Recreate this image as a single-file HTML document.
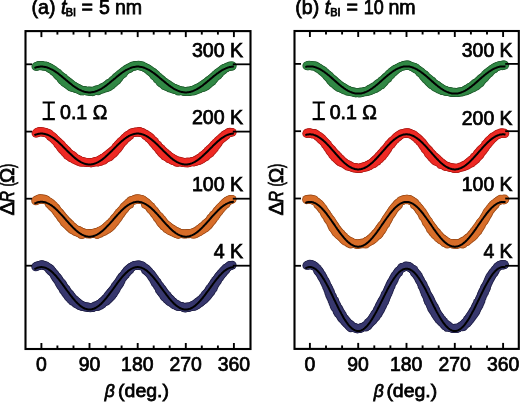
<!DOCTYPE html><html><head><meta charset="utf-8"><style>html,body{margin:0;padding:0;background:#fff;}svg{display:block;filter:blur(0.35px);}text{font-family:"Liberation Sans",Arial,sans-serif;font-size:19.8px;fill:#000;stroke:#000;stroke-width:0.75px;}</style></head><body>
<svg width="520" height="402" viewBox="0 0 520 402">
<g fill="#235f30"><circle cx="35.8" cy="66.5" r="4.3"/><circle cx="36.6" cy="66.5" r="4.2"/><circle cx="37.4" cy="66.2" r="4.4"/><circle cx="38.2" cy="65.7" r="4.5"/><circle cx="39.0" cy="65.5" r="4.4"/><circle cx="39.8" cy="65.4" r="4.3"/><circle cx="40.6" cy="65.7" r="4.6"/><circle cx="41.4" cy="65.4" r="4.4"/><circle cx="42.2" cy="65.8" r="4.7"/><circle cx="43.0" cy="65.8" r="4.4"/><circle cx="43.8" cy="66.3" r="4.3"/><circle cx="44.6" cy="66.3" r="4.4"/><circle cx="45.4" cy="65.9" r="4.3"/><circle cx="46.2" cy="66.3" r="4.6"/><circle cx="47.0" cy="66.4" r="4.4"/><circle cx="47.8" cy="67.1" r="4.3"/><circle cx="48.6" cy="67.3" r="4.2"/><circle cx="49.4" cy="67.3" r="4.2"/><circle cx="50.2" cy="68.2" r="4.3"/><circle cx="51.0" cy="68.3" r="4.3"/><circle cx="51.8" cy="68.9" r="4.2"/><circle cx="52.6" cy="69.7" r="4.3"/><circle cx="53.4" cy="69.7" r="4.3"/><circle cx="54.2" cy="70.5" r="4.4"/><circle cx="55.0" cy="71.2" r="4.1"/><circle cx="55.8" cy="72.0" r="4.0"/><circle cx="56.6" cy="72.1" r="4.2"/><circle cx="57.4" cy="72.5" r="4.1"/><circle cx="58.2" cy="73.1" r="4.2"/><circle cx="59.0" cy="74.3" r="4.1"/><circle cx="59.8" cy="75.1" r="4.0"/><circle cx="60.6" cy="75.6" r="4.1"/><circle cx="61.5" cy="76.2" r="4.0"/><circle cx="62.3" cy="77.1" r="4.2"/><circle cx="63.1" cy="77.4" r="4.1"/><circle cx="63.9" cy="77.8" r="4.1"/><circle cx="64.7" cy="78.9" r="4.2"/><circle cx="65.5" cy="79.8" r="3.9"/><circle cx="66.3" cy="80.1" r="4.1"/><circle cx="67.1" cy="80.5" r="4.0"/><circle cx="67.9" cy="81.2" r="3.8"/><circle cx="68.7" cy="81.8" r="4.1"/><circle cx="69.5" cy="82.5" r="3.9"/><circle cx="70.3" cy="83.3" r="4.2"/><circle cx="71.1" cy="83.7" r="4.0"/><circle cx="71.9" cy="84.6" r="4.2"/><circle cx="72.7" cy="85.4" r="4.2"/><circle cx="73.5" cy="85.5" r="4.1"/><circle cx="74.3" cy="86.1" r="4.3"/><circle cx="75.1" cy="87.1" r="4.0"/><circle cx="75.9" cy="87.0" r="4.1"/><circle cx="76.7" cy="87.5" r="4.2"/><circle cx="77.5" cy="88.2" r="4.1"/><circle cx="78.3" cy="88.2" r="4.2"/><circle cx="79.1" cy="88.9" r="4.3"/><circle cx="79.9" cy="89.7" r="4.4"/><circle cx="80.7" cy="89.7" r="4.4"/><circle cx="81.5" cy="90.1" r="4.1"/><circle cx="82.3" cy="90.6" r="4.5"/><circle cx="83.1" cy="90.8" r="4.5"/><circle cx="83.9" cy="90.7" r="4.4"/><circle cx="84.7" cy="90.6" r="4.5"/><circle cx="85.5" cy="90.8" r="4.2"/><circle cx="86.3" cy="91.0" r="4.3"/><circle cx="87.1" cy="91.2" r="4.3"/><circle cx="87.9" cy="91.0" r="4.3"/><circle cx="88.7" cy="91.2" r="4.4"/><circle cx="89.5" cy="91.1" r="4.6"/><circle cx="90.3" cy="91.6" r="4.3"/><circle cx="91.1" cy="91.2" r="4.4"/><circle cx="91.9" cy="91.3" r="4.3"/><circle cx="92.7" cy="91.5" r="4.7"/><circle cx="93.5" cy="91.1" r="4.4"/><circle cx="94.3" cy="90.6" r="4.2"/><circle cx="95.1" cy="90.6" r="4.3"/><circle cx="95.9" cy="90.8" r="4.2"/><circle cx="96.7" cy="89.9" r="4.6"/><circle cx="97.5" cy="90.0" r="4.2"/><circle cx="98.3" cy="89.7" r="4.1"/><circle cx="99.2" cy="89.4" r="4.5"/><circle cx="100.0" cy="89.3" r="4.4"/><circle cx="100.8" cy="88.4" r="4.2"/><circle cx="101.6" cy="87.9" r="4.3"/><circle cx="102.4" cy="87.8" r="4.3"/><circle cx="103.2" cy="87.1" r="4.0"/><circle cx="104.0" cy="87.0" r="4.4"/><circle cx="104.8" cy="86.5" r="4.3"/><circle cx="105.6" cy="86.0" r="4.2"/><circle cx="106.4" cy="85.0" r="4.1"/><circle cx="107.2" cy="84.5" r="3.8"/><circle cx="108.0" cy="83.6" r="3.9"/><circle cx="108.8" cy="83.2" r="4.1"/><circle cx="109.6" cy="83.1" r="4.0"/><circle cx="110.4" cy="82.5" r="4.2"/><circle cx="111.2" cy="81.9" r="3.9"/><circle cx="112.0" cy="80.6" r="3.9"/><circle cx="112.8" cy="79.9" r="3.8"/><circle cx="113.6" cy="79.6" r="4.2"/><circle cx="114.4" cy="79.1" r="4.0"/><circle cx="115.2" cy="78.3" r="4.1"/><circle cx="116.0" cy="77.1" r="4.1"/><circle cx="116.8" cy="77.1" r="4.1"/><circle cx="117.6" cy="76.3" r="4.0"/><circle cx="118.4" cy="75.2" r="4.2"/><circle cx="119.2" cy="74.6" r="4.2"/><circle cx="120.0" cy="74.5" r="4.0"/><circle cx="120.8" cy="73.4" r="4.3"/><circle cx="121.6" cy="73.0" r="4.0"/><circle cx="122.4" cy="71.9" r="4.0"/><circle cx="123.2" cy="71.9" r="4.3"/><circle cx="124.0" cy="70.7" r="4.3"/><circle cx="124.8" cy="70.8" r="4.3"/><circle cx="125.6" cy="69.8" r="4.2"/><circle cx="126.4" cy="69.1" r="4.0"/><circle cx="127.2" cy="69.3" r="4.3"/><circle cx="128.0" cy="68.5" r="4.5"/><circle cx="128.8" cy="68.0" r="4.5"/><circle cx="129.6" cy="67.9" r="4.2"/><circle cx="130.4" cy="67.1" r="4.3"/><circle cx="131.2" cy="66.8" r="4.4"/><circle cx="132.0" cy="66.5" r="4.4"/><circle cx="132.8" cy="66.1" r="4.6"/><circle cx="133.6" cy="66.1" r="4.4"/><circle cx="134.4" cy="66.1" r="4.6"/><circle cx="135.2" cy="65.8" r="4.7"/><circle cx="136.0" cy="65.8" r="4.5"/><circle cx="136.8" cy="65.7" r="4.3"/><circle cx="137.7" cy="65.7" r="4.3"/><circle cx="138.5" cy="65.3" r="4.6"/><circle cx="139.3" cy="65.5" r="4.5"/><circle cx="140.1" cy="66.1" r="4.5"/><circle cx="140.9" cy="65.9" r="4.5"/><circle cx="141.7" cy="66.2" r="4.6"/><circle cx="142.5" cy="66.1" r="4.5"/><circle cx="143.3" cy="66.5" r="4.3"/><circle cx="144.1" cy="67.2" r="4.4"/><circle cx="144.9" cy="67.3" r="4.5"/><circle cx="145.7" cy="68.0" r="4.3"/><circle cx="146.5" cy="68.1" r="4.3"/><circle cx="147.3" cy="68.5" r="4.4"/><circle cx="148.1" cy="68.9" r="4.3"/><circle cx="148.9" cy="69.4" r="4.4"/><circle cx="149.7" cy="70.1" r="4.4"/><circle cx="150.5" cy="70.8" r="4.1"/><circle cx="151.3" cy="71.1" r="4.4"/><circle cx="152.1" cy="71.9" r="4.0"/><circle cx="152.9" cy="71.9" r="4.1"/><circle cx="153.7" cy="72.5" r="4.0"/><circle cx="154.5" cy="73.1" r="4.2"/><circle cx="155.3" cy="74.3" r="4.2"/><circle cx="156.1" cy="74.5" r="4.1"/><circle cx="156.9" cy="75.6" r="3.9"/><circle cx="157.7" cy="76.4" r="4.2"/><circle cx="158.5" cy="76.6" r="4.2"/><circle cx="159.3" cy="77.4" r="4.0"/><circle cx="160.1" cy="78.5" r="4.1"/><circle cx="160.9" cy="78.6" r="3.9"/><circle cx="161.7" cy="79.5" r="3.9"/><circle cx="162.5" cy="79.9" r="3.9"/><circle cx="163.3" cy="81.0" r="3.8"/><circle cx="164.1" cy="81.5" r="4.0"/><circle cx="164.9" cy="81.8" r="3.9"/><circle cx="165.7" cy="82.9" r="4.0"/><circle cx="166.5" cy="83.1" r="4.2"/><circle cx="167.3" cy="84.2" r="4.3"/><circle cx="168.1" cy="84.3" r="4.0"/><circle cx="168.9" cy="84.8" r="4.2"/><circle cx="169.7" cy="85.5" r="3.9"/><circle cx="170.5" cy="86.2" r="4.3"/><circle cx="171.3" cy="87.0" r="4.0"/><circle cx="172.1" cy="87.0" r="4.4"/><circle cx="172.9" cy="87.8" r="4.3"/><circle cx="173.7" cy="87.8" r="4.0"/><circle cx="174.5" cy="88.7" r="4.2"/><circle cx="175.3" cy="88.6" r="4.5"/><circle cx="176.2" cy="89.5" r="4.4"/><circle cx="177.0" cy="89.4" r="4.5"/><circle cx="177.8" cy="89.7" r="4.5"/><circle cx="178.6" cy="90.2" r="4.3"/><circle cx="179.4" cy="90.6" r="4.6"/><circle cx="180.2" cy="90.6" r="4.2"/><circle cx="181.0" cy="91.0" r="4.3"/><circle cx="181.8" cy="90.8" r="4.3"/><circle cx="182.6" cy="90.9" r="4.3"/><circle cx="183.4" cy="91.2" r="4.4"/><circle cx="184.2" cy="91.6" r="4.4"/><circle cx="185.0" cy="91.5" r="4.3"/><circle cx="185.8" cy="91.4" r="4.3"/><circle cx="186.6" cy="91.3" r="4.3"/><circle cx="187.4" cy="91.6" r="4.5"/><circle cx="188.2" cy="91.1" r="4.5"/><circle cx="189.0" cy="91.6" r="4.3"/><circle cx="189.8" cy="91.4" r="4.4"/><circle cx="190.6" cy="91.0" r="4.6"/><circle cx="191.4" cy="90.7" r="4.4"/><circle cx="192.2" cy="90.7" r="4.6"/><circle cx="193.0" cy="90.2" r="4.5"/><circle cx="193.8" cy="90.2" r="4.4"/><circle cx="194.6" cy="89.6" r="4.3"/><circle cx="195.4" cy="89.0" r="4.1"/><circle cx="196.2" cy="88.6" r="4.4"/><circle cx="197.0" cy="88.4" r="4.1"/><circle cx="197.8" cy="87.8" r="4.4"/><circle cx="198.6" cy="88.0" r="4.3"/><circle cx="199.4" cy="87.1" r="4.1"/><circle cx="200.2" cy="86.6" r="4.1"/><circle cx="201.0" cy="86.0" r="4.1"/><circle cx="201.8" cy="85.5" r="4.3"/><circle cx="202.6" cy="85.5" r="4.1"/><circle cx="203.4" cy="84.4" r="4.3"/><circle cx="204.2" cy="83.9" r="4.0"/><circle cx="205.0" cy="83.0" r="4.0"/><circle cx="205.8" cy="82.8" r="4.0"/><circle cx="206.6" cy="81.9" r="4.0"/><circle cx="207.4" cy="81.1" r="3.9"/><circle cx="208.2" cy="80.5" r="3.9"/><circle cx="209.0" cy="79.8" r="3.8"/><circle cx="209.8" cy="79.3" r="3.9"/><circle cx="210.6" cy="78.9" r="4.0"/><circle cx="211.4" cy="78.3" r="4.1"/><circle cx="212.2" cy="77.6" r="4.2"/><circle cx="213.0" cy="76.7" r="3.9"/><circle cx="213.8" cy="76.5" r="3.9"/><circle cx="214.7" cy="75.6" r="4.1"/><circle cx="215.5" cy="74.4" r="4.2"/><circle cx="216.3" cy="74.4" r="4.1"/><circle cx="217.1" cy="73.6" r="4.2"/><circle cx="217.9" cy="72.5" r="4.1"/><circle cx="218.7" cy="72.2" r="4.3"/><circle cx="219.5" cy="71.9" r="4.3"/><circle cx="220.3" cy="71.1" r="4.3"/><circle cx="221.1" cy="70.6" r="4.3"/><circle cx="221.9" cy="69.7" r="4.0"/><circle cx="222.7" cy="69.1" r="4.2"/><circle cx="223.5" cy="68.6" r="4.4"/><circle cx="224.3" cy="68.5" r="4.4"/><circle cx="225.1" cy="68.1" r="4.4"/><circle cx="225.9" cy="67.6" r="4.1"/><circle cx="226.7" cy="67.5" r="4.5"/><circle cx="227.5" cy="67.0" r="4.4"/><circle cx="228.3" cy="66.8" r="4.2"/><circle cx="229.1" cy="66.6" r="4.3"/><circle cx="229.9" cy="65.9" r="4.3"/><circle cx="230.7" cy="66.2" r="4.3"/><circle cx="231.5" cy="66.1" r="4.7"/><circle cx="232.3" cy="65.8" r="4.4"/><circle cx="48.9" cy="68.3" r="4.1"/><circle cx="50.0" cy="69.1" r="4.0"/><circle cx="51.0" cy="69.7" r="3.8"/><circle cx="52.1" cy="70.0" r="3.9"/><circle cx="53.2" cy="71.4" r="3.9"/><circle cx="54.2" cy="72.2" r="3.8"/><circle cx="55.3" cy="72.8" r="3.9"/><circle cx="56.4" cy="74.3" r="4.1"/><circle cx="57.4" cy="75.5" r="3.9"/><circle cx="58.5" cy="76.5" r="4.0"/><circle cx="59.6" cy="77.6" r="3.8"/><circle cx="60.6" cy="79.2" r="3.8"/><circle cx="61.7" cy="80.4" r="4.2"/><circle cx="62.8" cy="80.7" r="4.0"/><circle cx="63.9" cy="82.4" r="4.2"/><circle cx="64.9" cy="83.1" r="3.9"/><circle cx="66.0" cy="83.8" r="4.2"/><circle cx="67.1" cy="84.6" r="4.0"/><circle cx="68.1" cy="85.3" r="4.0"/><circle cx="69.2" cy="86.6" r="3.8"/><circle cx="70.3" cy="87.1" r="4.0"/><circle cx="71.3" cy="87.6" r="4.1"/><circle cx="72.4" cy="87.6" r="4.2"/><circle cx="73.5" cy="88.2" r="3.8"/><circle cx="74.6" cy="88.2" r="4.0"/><circle cx="75.6" cy="89.0" r="3.9"/><circle cx="76.7" cy="89.1" r="3.9"/><circle cx="77.8" cy="89.6" r="4.1"/><circle cx="78.8" cy="89.7" r="4.1"/><circle cx="79.9" cy="90.7" r="3.8"/><circle cx="81.0" cy="91.1" r="4.1"/><circle cx="82.0" cy="91.4" r="3.9"/><circle cx="97.0" cy="91.0" r="3.9"/><circle cx="98.1" cy="91.2" r="4.0"/><circle cx="99.2" cy="90.3" r="3.9"/><circle cx="100.2" cy="89.9" r="3.8"/><circle cx="101.3" cy="89.4" r="4.1"/><circle cx="102.4" cy="89.2" r="4.2"/><circle cx="103.4" cy="88.8" r="3.9"/><circle cx="104.5" cy="88.6" r="3.8"/><circle cx="105.6" cy="88.1" r="4.2"/><circle cx="106.6" cy="88.1" r="4.1"/><circle cx="107.7" cy="87.4" r="4.2"/><circle cx="108.8" cy="87.2" r="4.0"/><circle cx="109.8" cy="86.4" r="3.8"/><circle cx="110.9" cy="85.7" r="4.0"/><circle cx="112.0" cy="85.0" r="4.0"/><circle cx="113.1" cy="83.8" r="3.8"/><circle cx="114.1" cy="83.4" r="3.8"/><circle cx="115.2" cy="82.1" r="3.9"/><circle cx="116.3" cy="80.9" r="4.1"/><circle cx="117.3" cy="80.4" r="3.9"/><circle cx="118.4" cy="79.0" r="3.9"/><circle cx="119.5" cy="77.7" r="3.9"/><circle cx="120.5" cy="76.2" r="3.8"/><circle cx="121.6" cy="75.1" r="4.2"/><circle cx="122.7" cy="74.2" r="3.8"/><circle cx="123.7" cy="73.5" r="4.2"/><circle cx="124.8" cy="72.1" r="3.8"/><circle cx="125.9" cy="70.9" r="3.8"/><circle cx="127.0" cy="70.2" r="3.8"/><circle cx="128.0" cy="69.3" r="3.9"/><circle cx="129.1" cy="68.9" r="4.1"/><circle cx="130.2" cy="68.5" r="3.9"/><circle cx="145.1" cy="68.2" r="4.0"/><circle cx="146.2" cy="68.8" r="3.9"/><circle cx="147.3" cy="69.2" r="3.9"/><circle cx="148.3" cy="70.7" r="3.8"/><circle cx="149.4" cy="71.2" r="4.0"/><circle cx="150.5" cy="72.4" r="3.8"/><circle cx="151.6" cy="72.9" r="3.9"/><circle cx="152.6" cy="74.1" r="4.0"/><circle cx="153.7" cy="75.7" r="4.1"/><circle cx="154.8" cy="76.8" r="3.8"/><circle cx="155.8" cy="77.3" r="4.1"/><circle cx="156.9" cy="79.2" r="4.0"/><circle cx="158.0" cy="80.1" r="3.8"/><circle cx="159.0" cy="81.0" r="4.2"/><circle cx="160.1" cy="82.4" r="4.1"/><circle cx="161.2" cy="83.5" r="3.9"/><circle cx="162.2" cy="83.7" r="3.8"/><circle cx="163.3" cy="84.8" r="4.1"/><circle cx="164.4" cy="85.9" r="4.1"/><circle cx="165.5" cy="86.3" r="4.1"/><circle cx="166.5" cy="86.8" r="4.0"/><circle cx="167.6" cy="87.0" r="4.1"/><circle cx="168.7" cy="87.6" r="4.2"/><circle cx="169.7" cy="88.4" r="3.9"/><circle cx="170.8" cy="88.3" r="3.9"/><circle cx="171.9" cy="89.1" r="4.1"/><circle cx="172.9" cy="89.1" r="3.8"/><circle cx="174.0" cy="89.7" r="4.0"/><circle cx="175.1" cy="90.0" r="3.9"/><circle cx="176.2" cy="90.5" r="3.8"/><circle cx="177.2" cy="90.6" r="4.0"/><circle cx="178.3" cy="91.5" r="4.0"/><circle cx="193.3" cy="91.4" r="4.0"/><circle cx="194.3" cy="90.5" r="3.9"/><circle cx="195.4" cy="90.8" r="4.1"/><circle cx="196.5" cy="89.9" r="3.8"/><circle cx="197.5" cy="89.7" r="4.1"/><circle cx="198.6" cy="89.3" r="3.9"/><circle cx="199.7" cy="89.1" r="4.2"/><circle cx="200.7" cy="88.4" r="3.8"/><circle cx="201.8" cy="88.1" r="3.9"/><circle cx="202.9" cy="88.0" r="3.8"/><circle cx="204.0" cy="87.6" r="4.1"/><circle cx="205.0" cy="86.8" r="3.8"/><circle cx="206.1" cy="86.6" r="3.9"/><circle cx="207.2" cy="85.8" r="3.9"/><circle cx="208.2" cy="84.6" r="4.1"/><circle cx="209.3" cy="83.8" r="4.2"/><circle cx="210.4" cy="83.1" r="3.8"/><circle cx="211.4" cy="81.9" r="3.9"/><circle cx="212.5" cy="81.2" r="4.2"/><circle cx="213.6" cy="79.7" r="3.9"/><circle cx="214.7" cy="78.6" r="4.2"/><circle cx="215.7" cy="77.4" r="3.8"/><circle cx="216.8" cy="76.1" r="3.9"/><circle cx="217.9" cy="75.7" r="4.1"/><circle cx="218.9" cy="74.4" r="4.2"/><circle cx="220.0" cy="73.5" r="3.9"/><circle cx="221.1" cy="71.9" r="4.2"/><circle cx="222.1" cy="71.4" r="3.8"/><circle cx="223.2" cy="70.4" r="3.9"/><circle cx="224.3" cy="69.4" r="3.9"/><circle cx="225.3" cy="68.6" r="3.8"/><circle cx="226.4" cy="68.1" r="3.9"/></g>
<g fill="#318845"><circle cx="35.8" cy="66.5" r="3.4"/><circle cx="36.6" cy="66.5" r="3.3"/><circle cx="37.4" cy="66.2" r="3.5"/><circle cx="38.2" cy="65.7" r="3.6"/><circle cx="39.0" cy="65.5" r="3.5"/><circle cx="39.8" cy="65.4" r="3.4"/><circle cx="40.6" cy="65.7" r="3.7"/><circle cx="41.4" cy="65.4" r="3.5"/><circle cx="42.2" cy="65.8" r="3.8"/><circle cx="43.0" cy="65.8" r="3.5"/><circle cx="43.8" cy="66.3" r="3.4"/><circle cx="44.6" cy="66.3" r="3.5"/><circle cx="45.4" cy="65.9" r="3.4"/><circle cx="46.2" cy="66.3" r="3.7"/><circle cx="47.0" cy="66.4" r="3.5"/><circle cx="47.8" cy="67.1" r="3.4"/><circle cx="48.6" cy="67.3" r="3.3"/><circle cx="49.4" cy="67.3" r="3.3"/><circle cx="50.2" cy="68.2" r="3.4"/><circle cx="51.0" cy="68.3" r="3.4"/><circle cx="51.8" cy="68.9" r="3.3"/><circle cx="52.6" cy="69.7" r="3.4"/><circle cx="53.4" cy="69.7" r="3.4"/><circle cx="54.2" cy="70.5" r="3.5"/><circle cx="55.0" cy="71.2" r="3.2"/><circle cx="55.8" cy="72.0" r="3.1"/><circle cx="56.6" cy="72.1" r="3.3"/><circle cx="57.4" cy="72.5" r="3.2"/><circle cx="58.2" cy="73.1" r="3.3"/><circle cx="59.0" cy="74.3" r="3.2"/><circle cx="59.8" cy="75.1" r="3.1"/><circle cx="60.6" cy="75.6" r="3.2"/><circle cx="61.5" cy="76.2" r="3.1"/><circle cx="62.3" cy="77.1" r="3.3"/><circle cx="63.1" cy="77.4" r="3.2"/><circle cx="63.9" cy="77.8" r="3.2"/><circle cx="64.7" cy="78.9" r="3.3"/><circle cx="65.5" cy="79.8" r="3.0"/><circle cx="66.3" cy="80.1" r="3.2"/><circle cx="67.1" cy="80.5" r="3.1"/><circle cx="67.9" cy="81.2" r="2.9"/><circle cx="68.7" cy="81.8" r="3.2"/><circle cx="69.5" cy="82.5" r="3.0"/><circle cx="70.3" cy="83.3" r="3.3"/><circle cx="71.1" cy="83.7" r="3.1"/><circle cx="71.9" cy="84.6" r="3.3"/><circle cx="72.7" cy="85.4" r="3.3"/><circle cx="73.5" cy="85.5" r="3.2"/><circle cx="74.3" cy="86.1" r="3.4"/><circle cx="75.1" cy="87.1" r="3.1"/><circle cx="75.9" cy="87.0" r="3.2"/><circle cx="76.7" cy="87.5" r="3.3"/><circle cx="77.5" cy="88.2" r="3.2"/><circle cx="78.3" cy="88.2" r="3.3"/><circle cx="79.1" cy="88.9" r="3.4"/><circle cx="79.9" cy="89.7" r="3.5"/><circle cx="80.7" cy="89.7" r="3.5"/><circle cx="81.5" cy="90.1" r="3.2"/><circle cx="82.3" cy="90.6" r="3.6"/><circle cx="83.1" cy="90.8" r="3.6"/><circle cx="83.9" cy="90.7" r="3.5"/><circle cx="84.7" cy="90.6" r="3.6"/><circle cx="85.5" cy="90.8" r="3.3"/><circle cx="86.3" cy="91.0" r="3.4"/><circle cx="87.1" cy="91.2" r="3.4"/><circle cx="87.9" cy="91.0" r="3.4"/><circle cx="88.7" cy="91.2" r="3.5"/><circle cx="89.5" cy="91.1" r="3.7"/><circle cx="90.3" cy="91.6" r="3.4"/><circle cx="91.1" cy="91.2" r="3.5"/><circle cx="91.9" cy="91.3" r="3.4"/><circle cx="92.7" cy="91.5" r="3.8"/><circle cx="93.5" cy="91.1" r="3.5"/><circle cx="94.3" cy="90.6" r="3.3"/><circle cx="95.1" cy="90.6" r="3.4"/><circle cx="95.9" cy="90.8" r="3.3"/><circle cx="96.7" cy="89.9" r="3.7"/><circle cx="97.5" cy="90.0" r="3.3"/><circle cx="98.3" cy="89.7" r="3.2"/><circle cx="99.2" cy="89.4" r="3.6"/><circle cx="100.0" cy="89.3" r="3.5"/><circle cx="100.8" cy="88.4" r="3.3"/><circle cx="101.6" cy="87.9" r="3.4"/><circle cx="102.4" cy="87.8" r="3.4"/><circle cx="103.2" cy="87.1" r="3.1"/><circle cx="104.0" cy="87.0" r="3.5"/><circle cx="104.8" cy="86.5" r="3.4"/><circle cx="105.6" cy="86.0" r="3.3"/><circle cx="106.4" cy="85.0" r="3.2"/><circle cx="107.2" cy="84.5" r="2.9"/><circle cx="108.0" cy="83.6" r="3.0"/><circle cx="108.8" cy="83.2" r="3.2"/><circle cx="109.6" cy="83.1" r="3.1"/><circle cx="110.4" cy="82.5" r="3.3"/><circle cx="111.2" cy="81.9" r="3.0"/><circle cx="112.0" cy="80.6" r="3.0"/><circle cx="112.8" cy="79.9" r="2.9"/><circle cx="113.6" cy="79.6" r="3.3"/><circle cx="114.4" cy="79.1" r="3.1"/><circle cx="115.2" cy="78.3" r="3.2"/><circle cx="116.0" cy="77.1" r="3.2"/><circle cx="116.8" cy="77.1" r="3.2"/><circle cx="117.6" cy="76.3" r="3.1"/><circle cx="118.4" cy="75.2" r="3.3"/><circle cx="119.2" cy="74.6" r="3.3"/><circle cx="120.0" cy="74.5" r="3.1"/><circle cx="120.8" cy="73.4" r="3.4"/><circle cx="121.6" cy="73.0" r="3.1"/><circle cx="122.4" cy="71.9" r="3.1"/><circle cx="123.2" cy="71.9" r="3.4"/><circle cx="124.0" cy="70.7" r="3.4"/><circle cx="124.8" cy="70.8" r="3.4"/><circle cx="125.6" cy="69.8" r="3.3"/><circle cx="126.4" cy="69.1" r="3.1"/><circle cx="127.2" cy="69.3" r="3.4"/><circle cx="128.0" cy="68.5" r="3.6"/><circle cx="128.8" cy="68.0" r="3.6"/><circle cx="129.6" cy="67.9" r="3.3"/><circle cx="130.4" cy="67.1" r="3.4"/><circle cx="131.2" cy="66.8" r="3.5"/><circle cx="132.0" cy="66.5" r="3.5"/><circle cx="132.8" cy="66.1" r="3.7"/><circle cx="133.6" cy="66.1" r="3.5"/><circle cx="134.4" cy="66.1" r="3.7"/><circle cx="135.2" cy="65.8" r="3.8"/><circle cx="136.0" cy="65.8" r="3.6"/><circle cx="136.8" cy="65.7" r="3.4"/><circle cx="137.7" cy="65.7" r="3.4"/><circle cx="138.5" cy="65.3" r="3.7"/><circle cx="139.3" cy="65.5" r="3.6"/><circle cx="140.1" cy="66.1" r="3.6"/><circle cx="140.9" cy="65.9" r="3.6"/><circle cx="141.7" cy="66.2" r="3.7"/><circle cx="142.5" cy="66.1" r="3.6"/><circle cx="143.3" cy="66.5" r="3.4"/><circle cx="144.1" cy="67.2" r="3.5"/><circle cx="144.9" cy="67.3" r="3.6"/><circle cx="145.7" cy="68.0" r="3.4"/><circle cx="146.5" cy="68.1" r="3.4"/><circle cx="147.3" cy="68.5" r="3.5"/><circle cx="148.1" cy="68.9" r="3.4"/><circle cx="148.9" cy="69.4" r="3.5"/><circle cx="149.7" cy="70.1" r="3.5"/><circle cx="150.5" cy="70.8" r="3.2"/><circle cx="151.3" cy="71.1" r="3.5"/><circle cx="152.1" cy="71.9" r="3.1"/><circle cx="152.9" cy="71.9" r="3.2"/><circle cx="153.7" cy="72.5" r="3.1"/><circle cx="154.5" cy="73.1" r="3.3"/><circle cx="155.3" cy="74.3" r="3.3"/><circle cx="156.1" cy="74.5" r="3.2"/><circle cx="156.9" cy="75.6" r="3.0"/><circle cx="157.7" cy="76.4" r="3.3"/><circle cx="158.5" cy="76.6" r="3.3"/><circle cx="159.3" cy="77.4" r="3.1"/><circle cx="160.1" cy="78.5" r="3.2"/><circle cx="160.9" cy="78.6" r="3.0"/><circle cx="161.7" cy="79.5" r="3.0"/><circle cx="162.5" cy="79.9" r="3.0"/><circle cx="163.3" cy="81.0" r="2.9"/><circle cx="164.1" cy="81.5" r="3.1"/><circle cx="164.9" cy="81.8" r="3.0"/><circle cx="165.7" cy="82.9" r="3.1"/><circle cx="166.5" cy="83.1" r="3.3"/><circle cx="167.3" cy="84.2" r="3.4"/><circle cx="168.1" cy="84.3" r="3.1"/><circle cx="168.9" cy="84.8" r="3.3"/><circle cx="169.7" cy="85.5" r="3.0"/><circle cx="170.5" cy="86.2" r="3.4"/><circle cx="171.3" cy="87.0" r="3.1"/><circle cx="172.1" cy="87.0" r="3.5"/><circle cx="172.9" cy="87.8" r="3.4"/><circle cx="173.7" cy="87.8" r="3.1"/><circle cx="174.5" cy="88.7" r="3.3"/><circle cx="175.3" cy="88.6" r="3.6"/><circle cx="176.2" cy="89.5" r="3.5"/><circle cx="177.0" cy="89.4" r="3.6"/><circle cx="177.8" cy="89.7" r="3.6"/><circle cx="178.6" cy="90.2" r="3.4"/><circle cx="179.4" cy="90.6" r="3.7"/><circle cx="180.2" cy="90.6" r="3.3"/><circle cx="181.0" cy="91.0" r="3.4"/><circle cx="181.8" cy="90.8" r="3.4"/><circle cx="182.6" cy="90.9" r="3.4"/><circle cx="183.4" cy="91.2" r="3.5"/><circle cx="184.2" cy="91.6" r="3.5"/><circle cx="185.0" cy="91.5" r="3.4"/><circle cx="185.8" cy="91.4" r="3.4"/><circle cx="186.6" cy="91.3" r="3.4"/><circle cx="187.4" cy="91.6" r="3.6"/><circle cx="188.2" cy="91.1" r="3.6"/><circle cx="189.0" cy="91.6" r="3.4"/><circle cx="189.8" cy="91.4" r="3.5"/><circle cx="190.6" cy="91.0" r="3.7"/><circle cx="191.4" cy="90.7" r="3.5"/><circle cx="192.2" cy="90.7" r="3.7"/><circle cx="193.0" cy="90.2" r="3.6"/><circle cx="193.8" cy="90.2" r="3.5"/><circle cx="194.6" cy="89.6" r="3.4"/><circle cx="195.4" cy="89.0" r="3.2"/><circle cx="196.2" cy="88.6" r="3.5"/><circle cx="197.0" cy="88.4" r="3.2"/><circle cx="197.8" cy="87.8" r="3.5"/><circle cx="198.6" cy="88.0" r="3.4"/><circle cx="199.4" cy="87.1" r="3.2"/><circle cx="200.2" cy="86.6" r="3.2"/><circle cx="201.0" cy="86.0" r="3.2"/><circle cx="201.8" cy="85.5" r="3.4"/><circle cx="202.6" cy="85.5" r="3.2"/><circle cx="203.4" cy="84.4" r="3.4"/><circle cx="204.2" cy="83.9" r="3.1"/><circle cx="205.0" cy="83.0" r="3.1"/><circle cx="205.8" cy="82.8" r="3.1"/><circle cx="206.6" cy="81.9" r="3.1"/><circle cx="207.4" cy="81.1" r="3.0"/><circle cx="208.2" cy="80.5" r="3.0"/><circle cx="209.0" cy="79.8" r="2.9"/><circle cx="209.8" cy="79.3" r="3.0"/><circle cx="210.6" cy="78.9" r="3.1"/><circle cx="211.4" cy="78.3" r="3.2"/><circle cx="212.2" cy="77.6" r="3.3"/><circle cx="213.0" cy="76.7" r="3.0"/><circle cx="213.8" cy="76.5" r="3.0"/><circle cx="214.7" cy="75.6" r="3.2"/><circle cx="215.5" cy="74.4" r="3.3"/><circle cx="216.3" cy="74.4" r="3.2"/><circle cx="217.1" cy="73.6" r="3.3"/><circle cx="217.9" cy="72.5" r="3.2"/><circle cx="218.7" cy="72.2" r="3.4"/><circle cx="219.5" cy="71.9" r="3.4"/><circle cx="220.3" cy="71.1" r="3.4"/><circle cx="221.1" cy="70.6" r="3.4"/><circle cx="221.9" cy="69.7" r="3.1"/><circle cx="222.7" cy="69.1" r="3.3"/><circle cx="223.5" cy="68.6" r="3.5"/><circle cx="224.3" cy="68.5" r="3.5"/><circle cx="225.1" cy="68.1" r="3.5"/><circle cx="225.9" cy="67.6" r="3.2"/><circle cx="226.7" cy="67.5" r="3.6"/><circle cx="227.5" cy="67.0" r="3.5"/><circle cx="228.3" cy="66.8" r="3.3"/><circle cx="229.1" cy="66.6" r="3.4"/><circle cx="229.9" cy="65.9" r="3.4"/><circle cx="230.7" cy="66.2" r="3.4"/><circle cx="231.5" cy="66.1" r="3.8"/><circle cx="232.3" cy="65.8" r="3.5"/><circle cx="48.9" cy="68.3" r="3.2"/><circle cx="50.0" cy="69.1" r="3.1"/><circle cx="51.0" cy="69.7" r="2.9"/><circle cx="52.1" cy="70.0" r="3.0"/><circle cx="53.2" cy="71.4" r="3.0"/><circle cx="54.2" cy="72.2" r="2.9"/><circle cx="55.3" cy="72.8" r="3.0"/><circle cx="56.4" cy="74.3" r="3.2"/><circle cx="57.4" cy="75.5" r="3.0"/><circle cx="58.5" cy="76.5" r="3.1"/><circle cx="59.6" cy="77.6" r="2.9"/><circle cx="60.6" cy="79.2" r="2.9"/><circle cx="61.7" cy="80.4" r="3.3"/><circle cx="62.8" cy="80.7" r="3.1"/><circle cx="63.9" cy="82.4" r="3.3"/><circle cx="64.9" cy="83.1" r="3.0"/><circle cx="66.0" cy="83.8" r="3.3"/><circle cx="67.1" cy="84.6" r="3.1"/><circle cx="68.1" cy="85.3" r="3.1"/><circle cx="69.2" cy="86.6" r="2.9"/><circle cx="70.3" cy="87.1" r="3.1"/><circle cx="71.3" cy="87.6" r="3.2"/><circle cx="72.4" cy="87.6" r="3.3"/><circle cx="73.5" cy="88.2" r="2.9"/><circle cx="74.6" cy="88.2" r="3.1"/><circle cx="75.6" cy="89.0" r="3.0"/><circle cx="76.7" cy="89.1" r="3.0"/><circle cx="77.8" cy="89.6" r="3.2"/><circle cx="78.8" cy="89.7" r="3.2"/><circle cx="79.9" cy="90.7" r="2.9"/><circle cx="81.0" cy="91.1" r="3.2"/><circle cx="82.0" cy="91.4" r="3.0"/><circle cx="97.0" cy="91.0" r="3.0"/><circle cx="98.1" cy="91.2" r="3.1"/><circle cx="99.2" cy="90.3" r="3.0"/><circle cx="100.2" cy="89.9" r="2.9"/><circle cx="101.3" cy="89.4" r="3.2"/><circle cx="102.4" cy="89.2" r="3.3"/><circle cx="103.4" cy="88.8" r="3.0"/><circle cx="104.5" cy="88.6" r="2.9"/><circle cx="105.6" cy="88.1" r="3.3"/><circle cx="106.6" cy="88.1" r="3.2"/><circle cx="107.7" cy="87.4" r="3.3"/><circle cx="108.8" cy="87.2" r="3.1"/><circle cx="109.8" cy="86.4" r="2.9"/><circle cx="110.9" cy="85.7" r="3.1"/><circle cx="112.0" cy="85.0" r="3.1"/><circle cx="113.1" cy="83.8" r="2.9"/><circle cx="114.1" cy="83.4" r="2.9"/><circle cx="115.2" cy="82.1" r="3.0"/><circle cx="116.3" cy="80.9" r="3.2"/><circle cx="117.3" cy="80.4" r="3.0"/><circle cx="118.4" cy="79.0" r="3.0"/><circle cx="119.5" cy="77.7" r="3.0"/><circle cx="120.5" cy="76.2" r="2.9"/><circle cx="121.6" cy="75.1" r="3.3"/><circle cx="122.7" cy="74.2" r="2.9"/><circle cx="123.7" cy="73.5" r="3.3"/><circle cx="124.8" cy="72.1" r="2.9"/><circle cx="125.9" cy="70.9" r="2.9"/><circle cx="127.0" cy="70.2" r="2.9"/><circle cx="128.0" cy="69.3" r="3.0"/><circle cx="129.1" cy="68.9" r="3.2"/><circle cx="130.2" cy="68.5" r="3.0"/><circle cx="145.1" cy="68.2" r="3.1"/><circle cx="146.2" cy="68.8" r="3.0"/><circle cx="147.3" cy="69.2" r="3.0"/><circle cx="148.3" cy="70.7" r="2.9"/><circle cx="149.4" cy="71.2" r="3.1"/><circle cx="150.5" cy="72.4" r="2.9"/><circle cx="151.6" cy="72.9" r="3.0"/><circle cx="152.6" cy="74.1" r="3.1"/><circle cx="153.7" cy="75.7" r="3.2"/><circle cx="154.8" cy="76.8" r="2.9"/><circle cx="155.8" cy="77.3" r="3.2"/><circle cx="156.9" cy="79.2" r="3.1"/><circle cx="158.0" cy="80.1" r="2.9"/><circle cx="159.0" cy="81.0" r="3.3"/><circle cx="160.1" cy="82.4" r="3.2"/><circle cx="161.2" cy="83.5" r="3.0"/><circle cx="162.2" cy="83.7" r="2.9"/><circle cx="163.3" cy="84.8" r="3.2"/><circle cx="164.4" cy="85.9" r="3.2"/><circle cx="165.5" cy="86.3" r="3.2"/><circle cx="166.5" cy="86.8" r="3.1"/><circle cx="167.6" cy="87.0" r="3.2"/><circle cx="168.7" cy="87.6" r="3.3"/><circle cx="169.7" cy="88.4" r="3.0"/><circle cx="170.8" cy="88.3" r="3.0"/><circle cx="171.9" cy="89.1" r="3.2"/><circle cx="172.9" cy="89.1" r="2.9"/><circle cx="174.0" cy="89.7" r="3.1"/><circle cx="175.1" cy="90.0" r="3.0"/><circle cx="176.2" cy="90.5" r="2.9"/><circle cx="177.2" cy="90.6" r="3.1"/><circle cx="178.3" cy="91.5" r="3.1"/><circle cx="193.3" cy="91.4" r="3.1"/><circle cx="194.3" cy="90.5" r="3.0"/><circle cx="195.4" cy="90.8" r="3.2"/><circle cx="196.5" cy="89.9" r="2.9"/><circle cx="197.5" cy="89.7" r="3.2"/><circle cx="198.6" cy="89.3" r="3.0"/><circle cx="199.7" cy="89.1" r="3.3"/><circle cx="200.7" cy="88.4" r="2.9"/><circle cx="201.8" cy="88.1" r="3.0"/><circle cx="202.9" cy="88.0" r="2.9"/><circle cx="204.0" cy="87.6" r="3.2"/><circle cx="205.0" cy="86.8" r="2.9"/><circle cx="206.1" cy="86.6" r="3.0"/><circle cx="207.2" cy="85.8" r="3.0"/><circle cx="208.2" cy="84.6" r="3.2"/><circle cx="209.3" cy="83.8" r="3.3"/><circle cx="210.4" cy="83.1" r="2.9"/><circle cx="211.4" cy="81.9" r="3.0"/><circle cx="212.5" cy="81.2" r="3.3"/><circle cx="213.6" cy="79.7" r="3.0"/><circle cx="214.7" cy="78.6" r="3.3"/><circle cx="215.7" cy="77.4" r="2.9"/><circle cx="216.8" cy="76.1" r="3.0"/><circle cx="217.9" cy="75.7" r="3.2"/><circle cx="218.9" cy="74.4" r="3.3"/><circle cx="220.0" cy="73.5" r="3.0"/><circle cx="221.1" cy="71.9" r="3.3"/><circle cx="222.1" cy="71.4" r="2.9"/><circle cx="223.2" cy="70.4" r="3.0"/><circle cx="224.3" cy="69.4" r="3.0"/><circle cx="225.3" cy="68.6" r="2.9"/><circle cx="226.4" cy="68.1" r="3.0"/></g>
<path d="M34.4,67.9 35.0,67.7 35.5,67.5 36.1,67.4 36.6,67.2 37.1,67.1 37.7,67.0 38.2,66.9 38.7,66.8 39.3,66.7 39.8,66.7 40.3,66.6 40.9,66.6 41.4,66.6 41.9,66.6 42.5,66.6 43.0,66.7 43.5,66.7 44.1,66.8 44.6,66.9 45.1,67.0 45.7,67.1 46.2,67.2 46.7,67.4 47.3,67.5 47.8,67.7 48.4,67.9 48.9,68.1 49.4,68.3 50.0,68.6 50.5,68.8 51.0,69.1 51.6,69.3 52.1,69.6 52.6,69.9 53.2,70.2 53.7,70.5 54.2,70.9 54.8,71.2 55.3,71.6 55.8,71.9 56.4,72.3 56.9,72.7 57.4,73.0 58.0,73.4 58.5,73.8 59.0,74.3 59.6,74.7 60.1,75.1 60.6,75.5 61.2,75.9 61.7,76.4 62.3,76.8 62.8,77.3 63.3,77.7 63.9,78.2 64.4,78.6 64.9,79.0 65.5,79.5 66.0,80.0 66.5,80.4 67.1,80.8 67.6,81.3 68.1,81.7 68.7,82.2 69.2,82.6 69.7,83.1 70.3,83.5 70.8,83.9 71.3,84.3 71.9,84.7 72.4,85.2 72.9,85.6 73.5,86.0 74.0,86.3 74.6,86.7 75.1,87.1 75.6,87.4 76.2,87.8 76.7,88.1 77.2,88.5 77.8,88.8 78.3,89.1 78.8,89.4 79.4,89.7 79.9,89.9 80.4,90.2 81.0,90.4 81.5,90.7 82.0,90.9 82.6,91.1 83.1,91.3 83.6,91.5 84.2,91.6 84.7,91.8 85.2,91.9 85.8,92.0 86.3,92.1 86.9,92.2 87.4,92.3 87.9,92.3 88.5,92.4 89.0,92.4 89.5,92.4 90.1,92.4 90.6,92.4 91.1,92.3 91.7,92.3 92.2,92.2 92.7,92.1 93.3,92.0 93.8,91.9 94.3,91.8 94.9,91.6 95.4,91.5 95.9,91.3 96.5,91.1 97.0,90.9 97.5,90.7 98.1,90.4 98.6,90.2 99.2,89.9 99.7,89.7 100.2,89.4 100.8,89.1 101.3,88.8 101.8,88.5 102.4,88.1 102.9,87.8 103.4,87.4 104.0,87.1 104.5,86.7 105.0,86.3 105.6,86.0 106.1,85.6 106.6,85.2 107.2,84.7 107.7,84.3 108.2,83.9 108.8,83.5 109.3,83.1 109.8,82.6 110.4,82.2 110.9,81.7 111.4,81.3 112.0,80.8 112.5,80.4 113.1,80.0 113.6,79.5 114.1,79.0 114.7,78.6 115.2,78.2 115.7,77.7 116.3,77.3 116.8,76.8 117.3,76.4 117.9,75.9 118.4,75.5 118.9,75.1 119.5,74.7 120.0,74.3 120.5,73.8 121.1,73.4 121.6,73.0 122.1,72.7 122.7,72.3 123.2,71.9 123.7,71.6 124.3,71.2 124.8,70.9 125.4,70.5 125.9,70.2 126.4,69.9 127.0,69.6 127.5,69.3 128.0,69.1 128.6,68.8 129.1,68.6 129.6,68.3 130.2,68.1 130.7,67.9 131.2,67.7 131.8,67.5 132.3,67.4 132.8,67.2 133.4,67.1 133.9,67.0 134.4,66.9 135.0,66.8 135.5,66.7 136.0,66.7 136.6,66.6 137.1,66.6 137.7,66.6 138.2,66.6 138.7,66.6 139.3,66.7 139.8,66.7 140.3,66.8 140.9,66.9 141.4,67.0 141.9,67.1 142.5,67.2 143.0,67.4 143.5,67.5 144.1,67.7 144.6,67.9 145.1,68.1 145.7,68.3 146.2,68.6 146.7,68.8 147.3,69.1 147.8,69.3 148.3,69.6 148.9,69.9 149.4,70.2 149.9,70.5 150.5,70.9 151.0,71.2 151.6,71.6 152.1,71.9 152.6,72.3 153.2,72.7 153.7,73.0 154.2,73.4 154.8,73.8 155.3,74.3 155.8,74.7 156.4,75.1 156.9,75.5 157.4,75.9 158.0,76.4 158.5,76.8 159.0,77.3 159.6,77.7 160.1,78.2 160.6,78.6 161.2,79.0 161.7,79.5 162.2,80.0 162.8,80.4 163.3,80.8 163.9,81.3 164.4,81.7 164.9,82.2 165.5,82.6 166.0,83.1 166.5,83.5 167.1,83.9 167.6,84.3 168.1,84.7 168.7,85.2 169.2,85.6 169.7,85.9 170.3,86.3 170.8,86.7 171.3,87.1 171.9,87.4 172.4,87.8 172.9,88.1 173.5,88.5 174.0,88.8 174.5,89.1 175.1,89.4 175.6,89.7 176.2,89.9 176.7,90.2 177.2,90.4 177.8,90.7 178.3,90.9 178.8,91.1 179.4,91.3 179.9,91.5 180.4,91.6 181.0,91.8 181.5,91.9 182.0,92.0 182.6,92.1 183.1,92.2 183.6,92.3 184.2,92.3 184.7,92.4 185.2,92.4 185.8,92.4 186.3,92.4 186.8,92.4 187.4,92.3 187.9,92.3 188.4,92.2 189.0,92.1 189.5,92.0 190.1,91.9 190.6,91.8 191.1,91.6 191.7,91.5 192.2,91.3 192.7,91.1 193.3,90.9 193.8,90.7 194.3,90.4 194.9,90.2 195.4,89.9 195.9,89.7 196.5,89.4 197.0,89.1 197.5,88.8 198.1,88.5 198.6,88.1 199.1,87.8 199.7,87.4 200.2,87.1 200.7,86.7 201.3,86.3 201.8,86.0 202.4,85.6 202.9,85.2 203.4,84.7 204.0,84.3 204.5,83.9 205.0,83.5 205.6,83.1 206.1,82.6 206.6,82.2 207.2,81.7 207.7,81.3 208.2,80.8 208.8,80.4 209.3,80.0 209.8,79.5 210.4,79.0 210.9,78.6 211.4,78.2 212.0,77.7 212.5,77.3 213.0,76.8 213.6,76.4 214.1,75.9 214.7,75.5 215.2,75.1 215.7,74.7 216.3,74.3 216.8,73.8 217.3,73.4 217.9,73.1 218.4,72.7 218.9,72.3 219.5,71.9 220.0,71.6 220.5,71.2 221.1,70.9 221.6,70.5 222.1,70.2 222.7,69.9 223.2,69.6 223.7,69.3 224.3,69.1 224.8,68.8 225.3,68.6 225.9,68.3 226.4,68.1 226.9,67.9 227.5,67.7 228.0,67.5 228.6,67.4 229.1,67.2 229.6,67.1 230.2,67.0 230.7,66.9 231.2,66.8 231.8,66.7 232.3,66.7 232.8,66.6 233.4,66.6 233.9,66.6" fill="none" stroke="#000" stroke-width="2.0"/>
<line x1="25.5" y1="64.3" x2="32.0" y2="64.3" stroke="#000" stroke-width="1.8"/>
<line x1="232.8" y1="64.3" x2="250.5" y2="64.3" stroke="#000" stroke-width="1.8"/>
<g fill="#b21d18"><circle cx="35.8" cy="133.4" r="4.2"/><circle cx="36.6" cy="133.1" r="4.3"/><circle cx="37.4" cy="132.3" r="4.6"/><circle cx="38.2" cy="132.5" r="4.4"/><circle cx="39.0" cy="131.7" r="4.5"/><circle cx="39.8" cy="131.8" r="4.7"/><circle cx="40.6" cy="131.6" r="4.4"/><circle cx="41.4" cy="132.1" r="4.3"/><circle cx="42.2" cy="131.8" r="4.6"/><circle cx="43.0" cy="132.1" r="4.3"/><circle cx="43.8" cy="131.7" r="4.3"/><circle cx="44.6" cy="132.6" r="4.3"/><circle cx="45.4" cy="132.6" r="4.6"/><circle cx="46.2" cy="132.6" r="4.3"/><circle cx="47.0" cy="133.4" r="4.5"/><circle cx="47.8" cy="133.2" r="4.5"/><circle cx="48.6" cy="133.7" r="4.3"/><circle cx="49.4" cy="133.9" r="4.5"/><circle cx="50.2" cy="135.2" r="4.4"/><circle cx="51.0" cy="135.7" r="4.1"/><circle cx="51.8" cy="135.7" r="4.3"/><circle cx="52.6" cy="136.9" r="4.5"/><circle cx="53.4" cy="137.1" r="4.1"/><circle cx="54.2" cy="137.8" r="4.2"/><circle cx="55.0" cy="139.0" r="4.0"/><circle cx="55.8" cy="139.6" r="4.3"/><circle cx="56.6" cy="140.4" r="4.2"/><circle cx="57.4" cy="141.0" r="4.0"/><circle cx="58.2" cy="141.5" r="4.0"/><circle cx="59.0" cy="142.7" r="3.9"/><circle cx="59.8" cy="143.0" r="4.2"/><circle cx="60.6" cy="143.9" r="3.8"/><circle cx="61.5" cy="144.6" r="4.0"/><circle cx="62.3" cy="145.6" r="4.2"/><circle cx="63.1" cy="146.9" r="4.2"/><circle cx="63.9" cy="147.2" r="3.8"/><circle cx="64.7" cy="147.9" r="4.0"/><circle cx="65.5" cy="149.2" r="4.0"/><circle cx="66.3" cy="149.6" r="3.9"/><circle cx="67.1" cy="150.7" r="4.1"/><circle cx="67.9" cy="151.6" r="4.1"/><circle cx="68.7" cy="152.3" r="3.8"/><circle cx="69.5" cy="153.2" r="3.9"/><circle cx="70.3" cy="153.7" r="4.0"/><circle cx="71.1" cy="154.5" r="3.9"/><circle cx="71.9" cy="154.8" r="3.9"/><circle cx="72.7" cy="155.4" r="4.3"/><circle cx="73.5" cy="156.4" r="4.0"/><circle cx="74.3" cy="156.8" r="4.3"/><circle cx="75.1" cy="157.5" r="4.0"/><circle cx="75.9" cy="158.3" r="4.2"/><circle cx="76.7" cy="159.0" r="4.0"/><circle cx="77.5" cy="159.1" r="4.4"/><circle cx="78.3" cy="159.8" r="4.4"/><circle cx="79.1" cy="159.6" r="4.2"/><circle cx="79.9" cy="160.1" r="4.2"/><circle cx="80.7" cy="161.1" r="4.4"/><circle cx="81.5" cy="161.4" r="4.3"/><circle cx="82.3" cy="161.7" r="4.3"/><circle cx="83.1" cy="161.5" r="4.5"/><circle cx="83.9" cy="162.3" r="4.2"/><circle cx="84.7" cy="162.2" r="4.5"/><circle cx="85.5" cy="162.1" r="4.4"/><circle cx="86.3" cy="162.2" r="4.3"/><circle cx="87.1" cy="162.4" r="4.5"/><circle cx="87.9" cy="162.8" r="4.3"/><circle cx="88.7" cy="162.3" r="4.4"/><circle cx="89.5" cy="162.8" r="4.3"/><circle cx="90.3" cy="162.5" r="4.3"/><circle cx="91.1" cy="162.9" r="4.5"/><circle cx="91.9" cy="162.2" r="4.3"/><circle cx="92.7" cy="162.4" r="4.5"/><circle cx="93.5" cy="162.4" r="4.3"/><circle cx="94.3" cy="161.8" r="4.5"/><circle cx="95.1" cy="161.8" r="4.3"/><circle cx="95.9" cy="161.5" r="4.6"/><circle cx="96.7" cy="161.2" r="4.4"/><circle cx="97.5" cy="161.0" r="4.3"/><circle cx="98.3" cy="161.0" r="4.6"/><circle cx="99.2" cy="160.3" r="4.2"/><circle cx="100.0" cy="160.2" r="4.1"/><circle cx="100.8" cy="159.1" r="4.4"/><circle cx="101.6" cy="159.0" r="4.4"/><circle cx="102.4" cy="158.5" r="4.4"/><circle cx="103.2" cy="158.0" r="4.0"/><circle cx="104.0" cy="157.1" r="4.2"/><circle cx="104.8" cy="157.0" r="4.3"/><circle cx="105.6" cy="156.0" r="4.2"/><circle cx="106.4" cy="155.6" r="4.1"/><circle cx="107.2" cy="154.8" r="4.0"/><circle cx="108.0" cy="154.4" r="4.2"/><circle cx="108.8" cy="153.3" r="4.0"/><circle cx="109.6" cy="153.2" r="4.2"/><circle cx="110.4" cy="151.9" r="3.8"/><circle cx="111.2" cy="151.8" r="4.2"/><circle cx="112.0" cy="150.6" r="3.8"/><circle cx="112.8" cy="150.2" r="3.9"/><circle cx="113.6" cy="149.4" r="4.0"/><circle cx="114.4" cy="148.5" r="3.8"/><circle cx="115.2" cy="147.6" r="3.9"/><circle cx="116.0" cy="146.5" r="4.1"/><circle cx="116.8" cy="146.0" r="3.9"/><circle cx="117.6" cy="144.7" r="4.0"/><circle cx="118.4" cy="144.1" r="4.0"/><circle cx="119.2" cy="143.0" r="3.9"/><circle cx="120.0" cy="142.6" r="4.2"/><circle cx="120.8" cy="141.3" r="4.1"/><circle cx="121.6" cy="141.1" r="3.9"/><circle cx="122.4" cy="140.4" r="4.0"/><circle cx="123.2" cy="139.4" r="4.2"/><circle cx="124.0" cy="138.7" r="4.1"/><circle cx="124.8" cy="137.8" r="4.2"/><circle cx="125.6" cy="137.2" r="4.3"/><circle cx="126.4" cy="136.5" r="4.2"/><circle cx="127.2" cy="135.6" r="4.3"/><circle cx="128.0" cy="135.4" r="4.2"/><circle cx="128.8" cy="135.0" r="4.5"/><circle cx="129.6" cy="134.3" r="4.2"/><circle cx="130.4" cy="133.8" r="4.2"/><circle cx="131.2" cy="133.1" r="4.4"/><circle cx="132.0" cy="132.7" r="4.4"/><circle cx="132.8" cy="132.7" r="4.2"/><circle cx="133.6" cy="132.6" r="4.3"/><circle cx="134.4" cy="132.4" r="4.6"/><circle cx="135.2" cy="132.0" r="4.3"/><circle cx="136.0" cy="131.9" r="4.4"/><circle cx="136.8" cy="132.2" r="4.3"/><circle cx="137.7" cy="132.1" r="4.7"/><circle cx="138.5" cy="132.0" r="4.6"/><circle cx="139.3" cy="131.7" r="4.7"/><circle cx="140.1" cy="132.0" r="4.7"/><circle cx="140.9" cy="132.5" r="4.3"/><circle cx="141.7" cy="132.7" r="4.6"/><circle cx="142.5" cy="132.4" r="4.4"/><circle cx="143.3" cy="133.3" r="4.3"/><circle cx="144.1" cy="133.8" r="4.3"/><circle cx="144.9" cy="134.1" r="4.2"/><circle cx="145.7" cy="134.3" r="4.5"/><circle cx="146.5" cy="134.6" r="4.2"/><circle cx="147.3" cy="135.4" r="4.2"/><circle cx="148.1" cy="135.6" r="4.1"/><circle cx="148.9" cy="136.3" r="4.4"/><circle cx="149.7" cy="137.4" r="4.4"/><circle cx="150.5" cy="137.6" r="4.3"/><circle cx="151.3" cy="138.3" r="4.2"/><circle cx="152.1" cy="139.5" r="4.1"/><circle cx="152.9" cy="140.4" r="4.1"/><circle cx="153.7" cy="140.9" r="4.3"/><circle cx="154.5" cy="141.3" r="4.3"/><circle cx="155.3" cy="142.6" r="4.0"/><circle cx="156.1" cy="143.5" r="3.9"/><circle cx="156.9" cy="144.5" r="4.1"/><circle cx="157.7" cy="144.8" r="4.1"/><circle cx="158.5" cy="145.7" r="3.9"/><circle cx="159.3" cy="146.8" r="3.8"/><circle cx="160.1" cy="147.7" r="3.9"/><circle cx="160.9" cy="148.3" r="4.2"/><circle cx="161.7" cy="149.1" r="4.0"/><circle cx="162.5" cy="149.7" r="3.8"/><circle cx="163.3" cy="150.3" r="3.8"/><circle cx="164.1" cy="151.5" r="4.0"/><circle cx="164.9" cy="152.2" r="4.2"/><circle cx="165.7" cy="152.6" r="3.9"/><circle cx="166.5" cy="153.8" r="3.8"/><circle cx="167.3" cy="154.0" r="4.0"/><circle cx="168.1" cy="154.7" r="4.0"/><circle cx="168.9" cy="155.5" r="4.1"/><circle cx="169.7" cy="156.4" r="4.0"/><circle cx="170.5" cy="157.0" r="4.1"/><circle cx="171.3" cy="157.2" r="4.3"/><circle cx="172.1" cy="157.9" r="4.0"/><circle cx="172.9" cy="158.3" r="4.3"/><circle cx="173.7" cy="159.4" r="4.4"/><circle cx="174.5" cy="159.5" r="4.1"/><circle cx="175.3" cy="159.6" r="4.3"/><circle cx="176.2" cy="160.4" r="4.2"/><circle cx="177.0" cy="160.9" r="4.3"/><circle cx="177.8" cy="161.4" r="4.5"/><circle cx="178.6" cy="161.2" r="4.6"/><circle cx="179.4" cy="161.3" r="4.4"/><circle cx="180.2" cy="161.8" r="4.3"/><circle cx="181.0" cy="161.8" r="4.6"/><circle cx="181.8" cy="161.9" r="4.5"/><circle cx="182.6" cy="162.8" r="4.3"/><circle cx="183.4" cy="162.3" r="4.5"/><circle cx="184.2" cy="162.6" r="4.5"/><circle cx="185.0" cy="162.9" r="4.3"/><circle cx="185.8" cy="162.5" r="4.4"/><circle cx="186.6" cy="162.3" r="4.6"/><circle cx="187.4" cy="162.9" r="4.6"/><circle cx="188.2" cy="162.2" r="4.6"/><circle cx="189.0" cy="162.6" r="4.4"/><circle cx="189.8" cy="162.5" r="4.4"/><circle cx="190.6" cy="161.9" r="4.2"/><circle cx="191.4" cy="161.7" r="4.2"/><circle cx="192.2" cy="161.5" r="4.5"/><circle cx="193.0" cy="161.5" r="4.5"/><circle cx="193.8" cy="161.2" r="4.2"/><circle cx="194.6" cy="160.8" r="4.3"/><circle cx="195.4" cy="160.6" r="4.3"/><circle cx="196.2" cy="159.8" r="4.3"/><circle cx="197.0" cy="159.9" r="4.1"/><circle cx="197.8" cy="159.4" r="4.0"/><circle cx="198.6" cy="158.4" r="4.1"/><circle cx="199.4" cy="158.3" r="4.4"/><circle cx="200.2" cy="157.7" r="4.1"/><circle cx="201.0" cy="157.2" r="4.0"/><circle cx="201.8" cy="156.1" r="4.3"/><circle cx="202.6" cy="155.8" r="4.2"/><circle cx="203.4" cy="155.2" r="4.3"/><circle cx="204.2" cy="154.3" r="4.2"/><circle cx="205.0" cy="153.8" r="4.2"/><circle cx="205.8" cy="152.9" r="4.1"/><circle cx="206.6" cy="152.2" r="3.9"/><circle cx="207.4" cy="151.2" r="4.0"/><circle cx="208.2" cy="150.3" r="4.2"/><circle cx="209.0" cy="149.6" r="3.8"/><circle cx="209.8" cy="148.7" r="4.2"/><circle cx="210.6" cy="148.1" r="3.8"/><circle cx="211.4" cy="147.0" r="3.8"/><circle cx="212.2" cy="146.7" r="4.0"/><circle cx="213.0" cy="145.9" r="4.1"/><circle cx="213.8" cy="144.6" r="4.0"/><circle cx="214.7" cy="144.0" r="4.2"/><circle cx="215.5" cy="143.5" r="4.2"/><circle cx="216.3" cy="142.1" r="4.2"/><circle cx="217.1" cy="142.0" r="4.3"/><circle cx="217.9" cy="140.6" r="4.0"/><circle cx="218.7" cy="139.8" r="3.9"/><circle cx="219.5" cy="139.6" r="4.3"/><circle cx="220.3" cy="138.7" r="4.3"/><circle cx="221.1" cy="138.0" r="4.1"/><circle cx="221.9" cy="136.9" r="4.0"/><circle cx="222.7" cy="136.8" r="4.1"/><circle cx="223.5" cy="135.8" r="4.2"/><circle cx="224.3" cy="135.0" r="4.2"/><circle cx="225.1" cy="134.7" r="4.4"/><circle cx="225.9" cy="134.2" r="4.3"/><circle cx="226.7" cy="134.2" r="4.4"/><circle cx="227.5" cy="133.7" r="4.4"/><circle cx="228.3" cy="132.7" r="4.4"/><circle cx="229.1" cy="132.7" r="4.6"/><circle cx="229.9" cy="132.3" r="4.5"/><circle cx="230.7" cy="132.2" r="4.3"/><circle cx="231.5" cy="132.3" r="4.3"/><circle cx="232.3" cy="132.2" r="4.3"/><circle cx="48.9" cy="135.2" r="3.8"/><circle cx="50.0" cy="136.5" r="4.2"/><circle cx="51.0" cy="136.7" r="4.0"/><circle cx="52.1" cy="138.0" r="4.1"/><circle cx="53.2" cy="138.7" r="4.0"/><circle cx="54.2" cy="140.0" r="4.1"/><circle cx="55.3" cy="141.1" r="4.2"/><circle cx="56.4" cy="142.3" r="3.8"/><circle cx="57.4" cy="144.0" r="4.0"/><circle cx="58.5" cy="144.9" r="4.0"/><circle cx="59.6" cy="146.2" r="4.1"/><circle cx="60.6" cy="148.1" r="4.1"/><circle cx="61.7" cy="149.4" r="3.9"/><circle cx="62.8" cy="150.5" r="3.9"/><circle cx="63.9" cy="152.1" r="3.8"/><circle cx="64.9" cy="153.3" r="3.8"/><circle cx="66.0" cy="153.8" r="3.9"/><circle cx="67.1" cy="155.4" r="4.0"/><circle cx="68.1" cy="155.8" r="4.1"/><circle cx="69.2" cy="156.5" r="4.0"/><circle cx="70.3" cy="157.5" r="4.1"/><circle cx="71.3" cy="158.3" r="4.0"/><circle cx="72.4" cy="158.6" r="3.9"/><circle cx="73.5" cy="159.0" r="4.1"/><circle cx="74.6" cy="159.9" r="4.1"/><circle cx="75.6" cy="160.0" r="3.9"/><circle cx="76.7" cy="161.0" r="4.0"/><circle cx="77.8" cy="160.9" r="4.0"/><circle cx="78.8" cy="162.0" r="3.9"/><circle cx="79.9" cy="161.8" r="3.9"/><circle cx="81.0" cy="162.7" r="4.1"/><circle cx="82.0" cy="162.6" r="3.8"/><circle cx="97.0" cy="162.7" r="3.9"/><circle cx="98.1" cy="162.5" r="3.8"/><circle cx="99.2" cy="161.9" r="3.8"/><circle cx="100.2" cy="162.0" r="4.1"/><circle cx="101.3" cy="160.9" r="4.2"/><circle cx="102.4" cy="160.4" r="3.9"/><circle cx="103.4" cy="160.7" r="4.1"/><circle cx="104.5" cy="160.0" r="3.9"/><circle cx="105.6" cy="159.0" r="4.0"/><circle cx="106.6" cy="158.4" r="3.8"/><circle cx="107.7" cy="158.1" r="3.8"/><circle cx="108.8" cy="157.4" r="4.1"/><circle cx="109.8" cy="156.9" r="4.0"/><circle cx="110.9" cy="156.0" r="4.0"/><circle cx="112.0" cy="154.8" r="4.0"/><circle cx="113.1" cy="154.0" r="4.1"/><circle cx="114.1" cy="153.3" r="3.9"/><circle cx="115.2" cy="151.9" r="4.1"/><circle cx="116.3" cy="150.5" r="3.9"/><circle cx="117.3" cy="149.5" r="4.1"/><circle cx="118.4" cy="148.2" r="4.1"/><circle cx="119.5" cy="146.8" r="4.1"/><circle cx="120.5" cy="145.3" r="4.0"/><circle cx="121.6" cy="143.7" r="4.0"/><circle cx="122.7" cy="142.2" r="3.9"/><circle cx="123.7" cy="141.5" r="4.1"/><circle cx="124.8" cy="140.2" r="3.9"/><circle cx="125.9" cy="138.9" r="4.0"/><circle cx="127.0" cy="138.1" r="3.9"/><circle cx="128.0" cy="137.2" r="4.2"/><circle cx="129.1" cy="136.0" r="4.0"/><circle cx="130.2" cy="135.8" r="3.9"/><circle cx="145.1" cy="135.6" r="4.2"/><circle cx="146.2" cy="135.9" r="4.0"/><circle cx="147.3" cy="136.8" r="4.1"/><circle cx="148.3" cy="138.3" r="4.0"/><circle cx="149.4" cy="138.7" r="4.0"/><circle cx="150.5" cy="140.1" r="4.1"/><circle cx="151.6" cy="141.3" r="4.0"/><circle cx="152.6" cy="142.8" r="4.0"/><circle cx="153.7" cy="143.8" r="4.2"/><circle cx="154.8" cy="145.0" r="4.1"/><circle cx="155.8" cy="146.5" r="4.1"/><circle cx="156.9" cy="147.6" r="4.2"/><circle cx="158.0" cy="149.2" r="3.8"/><circle cx="159.0" cy="150.4" r="3.9"/><circle cx="160.1" cy="151.4" r="3.9"/><circle cx="161.2" cy="152.9" r="4.1"/><circle cx="162.2" cy="153.9" r="3.9"/><circle cx="163.3" cy="154.8" r="4.1"/><circle cx="164.4" cy="156.3" r="4.0"/><circle cx="165.5" cy="156.5" r="4.1"/><circle cx="166.5" cy="157.4" r="3.8"/><circle cx="167.6" cy="157.8" r="4.1"/><circle cx="168.7" cy="159.0" r="4.0"/><circle cx="169.7" cy="159.3" r="4.0"/><circle cx="170.8" cy="159.6" r="4.2"/><circle cx="171.9" cy="160.2" r="4.0"/><circle cx="172.9" cy="161.0" r="4.1"/><circle cx="174.0" cy="161.2" r="3.9"/><circle cx="175.1" cy="161.7" r="3.8"/><circle cx="176.2" cy="162.4" r="3.9"/><circle cx="177.2" cy="162.8" r="3.9"/><circle cx="178.3" cy="162.8" r="3.9"/><circle cx="193.3" cy="162.8" r="3.8"/><circle cx="194.3" cy="162.1" r="4.1"/><circle cx="195.4" cy="161.9" r="3.9"/><circle cx="196.5" cy="161.5" r="4.0"/><circle cx="197.5" cy="161.1" r="4.0"/><circle cx="198.6" cy="160.9" r="3.9"/><circle cx="199.7" cy="160.6" r="4.1"/><circle cx="200.7" cy="159.4" r="4.1"/><circle cx="201.8" cy="159.6" r="4.1"/><circle cx="202.9" cy="158.5" r="4.1"/><circle cx="204.0" cy="158.2" r="3.8"/><circle cx="205.0" cy="157.1" r="4.2"/><circle cx="206.1" cy="156.9" r="3.9"/><circle cx="207.2" cy="155.6" r="3.8"/><circle cx="208.2" cy="154.8" r="4.1"/><circle cx="209.3" cy="153.9" r="3.8"/><circle cx="210.4" cy="153.3" r="4.1"/><circle cx="211.4" cy="151.5" r="4.2"/><circle cx="212.5" cy="150.7" r="4.1"/><circle cx="213.6" cy="149.4" r="4.2"/><circle cx="214.7" cy="148.2" r="4.1"/><circle cx="215.7" cy="146.3" r="4.1"/><circle cx="216.8" cy="145.2" r="4.1"/><circle cx="217.9" cy="143.8" r="4.1"/><circle cx="218.9" cy="142.6" r="3.9"/><circle cx="220.0" cy="141.0" r="3.8"/><circle cx="221.1" cy="140.1" r="3.8"/><circle cx="222.1" cy="139.0" r="3.8"/><circle cx="223.2" cy="138.0" r="4.0"/><circle cx="224.3" cy="137.1" r="4.1"/><circle cx="225.3" cy="135.9" r="4.1"/><circle cx="226.4" cy="135.6" r="4.0"/></g>
<g fill="#ee2a24"><circle cx="35.8" cy="133.4" r="3.3"/><circle cx="36.6" cy="133.1" r="3.4"/><circle cx="37.4" cy="132.3" r="3.7"/><circle cx="38.2" cy="132.5" r="3.5"/><circle cx="39.0" cy="131.7" r="3.6"/><circle cx="39.8" cy="131.8" r="3.8"/><circle cx="40.6" cy="131.6" r="3.5"/><circle cx="41.4" cy="132.1" r="3.4"/><circle cx="42.2" cy="131.8" r="3.7"/><circle cx="43.0" cy="132.1" r="3.4"/><circle cx="43.8" cy="131.7" r="3.4"/><circle cx="44.6" cy="132.6" r="3.4"/><circle cx="45.4" cy="132.6" r="3.7"/><circle cx="46.2" cy="132.6" r="3.4"/><circle cx="47.0" cy="133.4" r="3.6"/><circle cx="47.8" cy="133.2" r="3.6"/><circle cx="48.6" cy="133.7" r="3.4"/><circle cx="49.4" cy="133.9" r="3.6"/><circle cx="50.2" cy="135.2" r="3.5"/><circle cx="51.0" cy="135.7" r="3.2"/><circle cx="51.8" cy="135.7" r="3.4"/><circle cx="52.6" cy="136.9" r="3.6"/><circle cx="53.4" cy="137.1" r="3.2"/><circle cx="54.2" cy="137.8" r="3.3"/><circle cx="55.0" cy="139.0" r="3.1"/><circle cx="55.8" cy="139.6" r="3.4"/><circle cx="56.6" cy="140.4" r="3.3"/><circle cx="57.4" cy="141.0" r="3.1"/><circle cx="58.2" cy="141.5" r="3.1"/><circle cx="59.0" cy="142.7" r="3.0"/><circle cx="59.8" cy="143.0" r="3.3"/><circle cx="60.6" cy="143.9" r="2.9"/><circle cx="61.5" cy="144.6" r="3.1"/><circle cx="62.3" cy="145.6" r="3.3"/><circle cx="63.1" cy="146.9" r="3.3"/><circle cx="63.9" cy="147.2" r="2.9"/><circle cx="64.7" cy="147.9" r="3.1"/><circle cx="65.5" cy="149.2" r="3.1"/><circle cx="66.3" cy="149.6" r="3.0"/><circle cx="67.1" cy="150.7" r="3.2"/><circle cx="67.9" cy="151.6" r="3.2"/><circle cx="68.7" cy="152.3" r="2.9"/><circle cx="69.5" cy="153.2" r="3.0"/><circle cx="70.3" cy="153.7" r="3.1"/><circle cx="71.1" cy="154.5" r="3.0"/><circle cx="71.9" cy="154.8" r="3.0"/><circle cx="72.7" cy="155.4" r="3.4"/><circle cx="73.5" cy="156.4" r="3.1"/><circle cx="74.3" cy="156.8" r="3.4"/><circle cx="75.1" cy="157.5" r="3.1"/><circle cx="75.9" cy="158.3" r="3.3"/><circle cx="76.7" cy="159.0" r="3.1"/><circle cx="77.5" cy="159.1" r="3.5"/><circle cx="78.3" cy="159.8" r="3.5"/><circle cx="79.1" cy="159.6" r="3.3"/><circle cx="79.9" cy="160.1" r="3.3"/><circle cx="80.7" cy="161.1" r="3.5"/><circle cx="81.5" cy="161.4" r="3.4"/><circle cx="82.3" cy="161.7" r="3.4"/><circle cx="83.1" cy="161.5" r="3.6"/><circle cx="83.9" cy="162.3" r="3.3"/><circle cx="84.7" cy="162.2" r="3.6"/><circle cx="85.5" cy="162.1" r="3.5"/><circle cx="86.3" cy="162.2" r="3.4"/><circle cx="87.1" cy="162.4" r="3.6"/><circle cx="87.9" cy="162.8" r="3.4"/><circle cx="88.7" cy="162.3" r="3.5"/><circle cx="89.5" cy="162.8" r="3.4"/><circle cx="90.3" cy="162.5" r="3.4"/><circle cx="91.1" cy="162.9" r="3.6"/><circle cx="91.9" cy="162.2" r="3.4"/><circle cx="92.7" cy="162.4" r="3.6"/><circle cx="93.5" cy="162.4" r="3.4"/><circle cx="94.3" cy="161.8" r="3.6"/><circle cx="95.1" cy="161.8" r="3.4"/><circle cx="95.9" cy="161.5" r="3.7"/><circle cx="96.7" cy="161.2" r="3.5"/><circle cx="97.5" cy="161.0" r="3.4"/><circle cx="98.3" cy="161.0" r="3.7"/><circle cx="99.2" cy="160.3" r="3.3"/><circle cx="100.0" cy="160.2" r="3.2"/><circle cx="100.8" cy="159.1" r="3.5"/><circle cx="101.6" cy="159.0" r="3.5"/><circle cx="102.4" cy="158.5" r="3.5"/><circle cx="103.2" cy="158.0" r="3.1"/><circle cx="104.0" cy="157.1" r="3.3"/><circle cx="104.8" cy="157.0" r="3.4"/><circle cx="105.6" cy="156.0" r="3.3"/><circle cx="106.4" cy="155.6" r="3.2"/><circle cx="107.2" cy="154.8" r="3.1"/><circle cx="108.0" cy="154.4" r="3.3"/><circle cx="108.8" cy="153.3" r="3.1"/><circle cx="109.6" cy="153.2" r="3.3"/><circle cx="110.4" cy="151.9" r="2.9"/><circle cx="111.2" cy="151.8" r="3.3"/><circle cx="112.0" cy="150.6" r="2.9"/><circle cx="112.8" cy="150.2" r="3.0"/><circle cx="113.6" cy="149.4" r="3.1"/><circle cx="114.4" cy="148.5" r="2.9"/><circle cx="115.2" cy="147.6" r="3.0"/><circle cx="116.0" cy="146.5" r="3.2"/><circle cx="116.8" cy="146.0" r="3.0"/><circle cx="117.6" cy="144.7" r="3.1"/><circle cx="118.4" cy="144.1" r="3.1"/><circle cx="119.2" cy="143.0" r="3.0"/><circle cx="120.0" cy="142.6" r="3.3"/><circle cx="120.8" cy="141.3" r="3.2"/><circle cx="121.6" cy="141.1" r="3.0"/><circle cx="122.4" cy="140.4" r="3.1"/><circle cx="123.2" cy="139.4" r="3.3"/><circle cx="124.0" cy="138.7" r="3.2"/><circle cx="124.8" cy="137.8" r="3.3"/><circle cx="125.6" cy="137.2" r="3.4"/><circle cx="126.4" cy="136.5" r="3.3"/><circle cx="127.2" cy="135.6" r="3.4"/><circle cx="128.0" cy="135.4" r="3.3"/><circle cx="128.8" cy="135.0" r="3.6"/><circle cx="129.6" cy="134.3" r="3.3"/><circle cx="130.4" cy="133.8" r="3.3"/><circle cx="131.2" cy="133.1" r="3.5"/><circle cx="132.0" cy="132.7" r="3.5"/><circle cx="132.8" cy="132.7" r="3.3"/><circle cx="133.6" cy="132.6" r="3.4"/><circle cx="134.4" cy="132.4" r="3.7"/><circle cx="135.2" cy="132.0" r="3.4"/><circle cx="136.0" cy="131.9" r="3.5"/><circle cx="136.8" cy="132.2" r="3.4"/><circle cx="137.7" cy="132.1" r="3.8"/><circle cx="138.5" cy="132.0" r="3.7"/><circle cx="139.3" cy="131.7" r="3.8"/><circle cx="140.1" cy="132.0" r="3.8"/><circle cx="140.9" cy="132.5" r="3.4"/><circle cx="141.7" cy="132.7" r="3.7"/><circle cx="142.5" cy="132.4" r="3.5"/><circle cx="143.3" cy="133.3" r="3.4"/><circle cx="144.1" cy="133.8" r="3.4"/><circle cx="144.9" cy="134.1" r="3.3"/><circle cx="145.7" cy="134.3" r="3.6"/><circle cx="146.5" cy="134.6" r="3.3"/><circle cx="147.3" cy="135.4" r="3.3"/><circle cx="148.1" cy="135.6" r="3.2"/><circle cx="148.9" cy="136.3" r="3.5"/><circle cx="149.7" cy="137.4" r="3.5"/><circle cx="150.5" cy="137.6" r="3.4"/><circle cx="151.3" cy="138.3" r="3.3"/><circle cx="152.1" cy="139.5" r="3.2"/><circle cx="152.9" cy="140.4" r="3.2"/><circle cx="153.7" cy="140.9" r="3.4"/><circle cx="154.5" cy="141.3" r="3.4"/><circle cx="155.3" cy="142.6" r="3.1"/><circle cx="156.1" cy="143.5" r="3.0"/><circle cx="156.9" cy="144.5" r="3.2"/><circle cx="157.7" cy="144.8" r="3.2"/><circle cx="158.5" cy="145.7" r="3.0"/><circle cx="159.3" cy="146.8" r="2.9"/><circle cx="160.1" cy="147.7" r="3.0"/><circle cx="160.9" cy="148.3" r="3.3"/><circle cx="161.7" cy="149.1" r="3.1"/><circle cx="162.5" cy="149.7" r="2.9"/><circle cx="163.3" cy="150.3" r="2.9"/><circle cx="164.1" cy="151.5" r="3.1"/><circle cx="164.9" cy="152.2" r="3.3"/><circle cx="165.7" cy="152.6" r="3.0"/><circle cx="166.5" cy="153.8" r="2.9"/><circle cx="167.3" cy="154.0" r="3.1"/><circle cx="168.1" cy="154.7" r="3.1"/><circle cx="168.9" cy="155.5" r="3.2"/><circle cx="169.7" cy="156.4" r="3.1"/><circle cx="170.5" cy="157.0" r="3.2"/><circle cx="171.3" cy="157.2" r="3.4"/><circle cx="172.1" cy="157.9" r="3.1"/><circle cx="172.9" cy="158.3" r="3.4"/><circle cx="173.7" cy="159.4" r="3.5"/><circle cx="174.5" cy="159.5" r="3.2"/><circle cx="175.3" cy="159.6" r="3.4"/><circle cx="176.2" cy="160.4" r="3.3"/><circle cx="177.0" cy="160.9" r="3.4"/><circle cx="177.8" cy="161.4" r="3.6"/><circle cx="178.6" cy="161.2" r="3.7"/><circle cx="179.4" cy="161.3" r="3.5"/><circle cx="180.2" cy="161.8" r="3.4"/><circle cx="181.0" cy="161.8" r="3.7"/><circle cx="181.8" cy="161.9" r="3.6"/><circle cx="182.6" cy="162.8" r="3.4"/><circle cx="183.4" cy="162.3" r="3.6"/><circle cx="184.2" cy="162.6" r="3.6"/><circle cx="185.0" cy="162.9" r="3.4"/><circle cx="185.8" cy="162.5" r="3.5"/><circle cx="186.6" cy="162.3" r="3.7"/><circle cx="187.4" cy="162.9" r="3.7"/><circle cx="188.2" cy="162.2" r="3.7"/><circle cx="189.0" cy="162.6" r="3.5"/><circle cx="189.8" cy="162.5" r="3.5"/><circle cx="190.6" cy="161.9" r="3.3"/><circle cx="191.4" cy="161.7" r="3.3"/><circle cx="192.2" cy="161.5" r="3.6"/><circle cx="193.0" cy="161.5" r="3.6"/><circle cx="193.8" cy="161.2" r="3.3"/><circle cx="194.6" cy="160.8" r="3.4"/><circle cx="195.4" cy="160.6" r="3.4"/><circle cx="196.2" cy="159.8" r="3.4"/><circle cx="197.0" cy="159.9" r="3.2"/><circle cx="197.8" cy="159.4" r="3.1"/><circle cx="198.6" cy="158.4" r="3.2"/><circle cx="199.4" cy="158.3" r="3.5"/><circle cx="200.2" cy="157.7" r="3.2"/><circle cx="201.0" cy="157.2" r="3.1"/><circle cx="201.8" cy="156.1" r="3.4"/><circle cx="202.6" cy="155.8" r="3.3"/><circle cx="203.4" cy="155.2" r="3.4"/><circle cx="204.2" cy="154.3" r="3.3"/><circle cx="205.0" cy="153.8" r="3.3"/><circle cx="205.8" cy="152.9" r="3.2"/><circle cx="206.6" cy="152.2" r="3.0"/><circle cx="207.4" cy="151.2" r="3.1"/><circle cx="208.2" cy="150.3" r="3.3"/><circle cx="209.0" cy="149.6" r="2.9"/><circle cx="209.8" cy="148.7" r="3.3"/><circle cx="210.6" cy="148.1" r="2.9"/><circle cx="211.4" cy="147.0" r="2.9"/><circle cx="212.2" cy="146.7" r="3.1"/><circle cx="213.0" cy="145.9" r="3.2"/><circle cx="213.8" cy="144.6" r="3.1"/><circle cx="214.7" cy="144.0" r="3.3"/><circle cx="215.5" cy="143.5" r="3.3"/><circle cx="216.3" cy="142.1" r="3.3"/><circle cx="217.1" cy="142.0" r="3.4"/><circle cx="217.9" cy="140.6" r="3.1"/><circle cx="218.7" cy="139.8" r="3.0"/><circle cx="219.5" cy="139.6" r="3.4"/><circle cx="220.3" cy="138.7" r="3.4"/><circle cx="221.1" cy="138.0" r="3.2"/><circle cx="221.9" cy="136.9" r="3.1"/><circle cx="222.7" cy="136.8" r="3.2"/><circle cx="223.5" cy="135.8" r="3.3"/><circle cx="224.3" cy="135.0" r="3.3"/><circle cx="225.1" cy="134.7" r="3.5"/><circle cx="225.9" cy="134.2" r="3.4"/><circle cx="226.7" cy="134.2" r="3.5"/><circle cx="227.5" cy="133.7" r="3.5"/><circle cx="228.3" cy="132.7" r="3.5"/><circle cx="229.1" cy="132.7" r="3.7"/><circle cx="229.9" cy="132.3" r="3.6"/><circle cx="230.7" cy="132.2" r="3.4"/><circle cx="231.5" cy="132.3" r="3.4"/><circle cx="232.3" cy="132.2" r="3.4"/><circle cx="48.9" cy="135.2" r="2.9"/><circle cx="50.0" cy="136.5" r="3.3"/><circle cx="51.0" cy="136.7" r="3.1"/><circle cx="52.1" cy="138.0" r="3.2"/><circle cx="53.2" cy="138.7" r="3.1"/><circle cx="54.2" cy="140.0" r="3.2"/><circle cx="55.3" cy="141.1" r="3.3"/><circle cx="56.4" cy="142.3" r="2.9"/><circle cx="57.4" cy="144.0" r="3.1"/><circle cx="58.5" cy="144.9" r="3.1"/><circle cx="59.6" cy="146.2" r="3.2"/><circle cx="60.6" cy="148.1" r="3.2"/><circle cx="61.7" cy="149.4" r="3.0"/><circle cx="62.8" cy="150.5" r="3.0"/><circle cx="63.9" cy="152.1" r="2.9"/><circle cx="64.9" cy="153.3" r="2.9"/><circle cx="66.0" cy="153.8" r="3.0"/><circle cx="67.1" cy="155.4" r="3.1"/><circle cx="68.1" cy="155.8" r="3.2"/><circle cx="69.2" cy="156.5" r="3.1"/><circle cx="70.3" cy="157.5" r="3.2"/><circle cx="71.3" cy="158.3" r="3.1"/><circle cx="72.4" cy="158.6" r="3.0"/><circle cx="73.5" cy="159.0" r="3.2"/><circle cx="74.6" cy="159.9" r="3.2"/><circle cx="75.6" cy="160.0" r="3.0"/><circle cx="76.7" cy="161.0" r="3.1"/><circle cx="77.8" cy="160.9" r="3.1"/><circle cx="78.8" cy="162.0" r="3.0"/><circle cx="79.9" cy="161.8" r="3.0"/><circle cx="81.0" cy="162.7" r="3.2"/><circle cx="82.0" cy="162.6" r="2.9"/><circle cx="97.0" cy="162.7" r="3.0"/><circle cx="98.1" cy="162.5" r="2.9"/><circle cx="99.2" cy="161.9" r="2.9"/><circle cx="100.2" cy="162.0" r="3.2"/><circle cx="101.3" cy="160.9" r="3.3"/><circle cx="102.4" cy="160.4" r="3.0"/><circle cx="103.4" cy="160.7" r="3.2"/><circle cx="104.5" cy="160.0" r="3.0"/><circle cx="105.6" cy="159.0" r="3.1"/><circle cx="106.6" cy="158.4" r="2.9"/><circle cx="107.7" cy="158.1" r="2.9"/><circle cx="108.8" cy="157.4" r="3.2"/><circle cx="109.8" cy="156.9" r="3.1"/><circle cx="110.9" cy="156.0" r="3.1"/><circle cx="112.0" cy="154.8" r="3.1"/><circle cx="113.1" cy="154.0" r="3.2"/><circle cx="114.1" cy="153.3" r="3.0"/><circle cx="115.2" cy="151.9" r="3.2"/><circle cx="116.3" cy="150.5" r="3.0"/><circle cx="117.3" cy="149.5" r="3.2"/><circle cx="118.4" cy="148.2" r="3.2"/><circle cx="119.5" cy="146.8" r="3.2"/><circle cx="120.5" cy="145.3" r="3.1"/><circle cx="121.6" cy="143.7" r="3.1"/><circle cx="122.7" cy="142.2" r="3.0"/><circle cx="123.7" cy="141.5" r="3.2"/><circle cx="124.8" cy="140.2" r="3.0"/><circle cx="125.9" cy="138.9" r="3.1"/><circle cx="127.0" cy="138.1" r="3.0"/><circle cx="128.0" cy="137.2" r="3.3"/><circle cx="129.1" cy="136.0" r="3.1"/><circle cx="130.2" cy="135.8" r="3.0"/><circle cx="145.1" cy="135.6" r="3.3"/><circle cx="146.2" cy="135.9" r="3.1"/><circle cx="147.3" cy="136.8" r="3.2"/><circle cx="148.3" cy="138.3" r="3.1"/><circle cx="149.4" cy="138.7" r="3.1"/><circle cx="150.5" cy="140.1" r="3.2"/><circle cx="151.6" cy="141.3" r="3.1"/><circle cx="152.6" cy="142.8" r="3.1"/><circle cx="153.7" cy="143.8" r="3.3"/><circle cx="154.8" cy="145.0" r="3.2"/><circle cx="155.8" cy="146.5" r="3.2"/><circle cx="156.9" cy="147.6" r="3.3"/><circle cx="158.0" cy="149.2" r="2.9"/><circle cx="159.0" cy="150.4" r="3.0"/><circle cx="160.1" cy="151.4" r="3.0"/><circle cx="161.2" cy="152.9" r="3.2"/><circle cx="162.2" cy="153.9" r="3.0"/><circle cx="163.3" cy="154.8" r="3.2"/><circle cx="164.4" cy="156.3" r="3.1"/><circle cx="165.5" cy="156.5" r="3.2"/><circle cx="166.5" cy="157.4" r="2.9"/><circle cx="167.6" cy="157.8" r="3.2"/><circle cx="168.7" cy="159.0" r="3.1"/><circle cx="169.7" cy="159.3" r="3.1"/><circle cx="170.8" cy="159.6" r="3.3"/><circle cx="171.9" cy="160.2" r="3.1"/><circle cx="172.9" cy="161.0" r="3.2"/><circle cx="174.0" cy="161.2" r="3.0"/><circle cx="175.1" cy="161.7" r="2.9"/><circle cx="176.2" cy="162.4" r="3.0"/><circle cx="177.2" cy="162.8" r="3.0"/><circle cx="178.3" cy="162.8" r="3.0"/><circle cx="193.3" cy="162.8" r="2.9"/><circle cx="194.3" cy="162.1" r="3.2"/><circle cx="195.4" cy="161.9" r="3.0"/><circle cx="196.5" cy="161.5" r="3.1"/><circle cx="197.5" cy="161.1" r="3.1"/><circle cx="198.6" cy="160.9" r="3.0"/><circle cx="199.7" cy="160.6" r="3.2"/><circle cx="200.7" cy="159.4" r="3.2"/><circle cx="201.8" cy="159.6" r="3.2"/><circle cx="202.9" cy="158.5" r="3.2"/><circle cx="204.0" cy="158.2" r="2.9"/><circle cx="205.0" cy="157.1" r="3.3"/><circle cx="206.1" cy="156.9" r="3.0"/><circle cx="207.2" cy="155.6" r="2.9"/><circle cx="208.2" cy="154.8" r="3.2"/><circle cx="209.3" cy="153.9" r="2.9"/><circle cx="210.4" cy="153.3" r="3.2"/><circle cx="211.4" cy="151.5" r="3.3"/><circle cx="212.5" cy="150.7" r="3.2"/><circle cx="213.6" cy="149.4" r="3.3"/><circle cx="214.7" cy="148.2" r="3.2"/><circle cx="215.7" cy="146.3" r="3.2"/><circle cx="216.8" cy="145.2" r="3.2"/><circle cx="217.9" cy="143.8" r="3.2"/><circle cx="218.9" cy="142.6" r="3.0"/><circle cx="220.0" cy="141.0" r="2.9"/><circle cx="221.1" cy="140.1" r="2.9"/><circle cx="222.1" cy="139.0" r="2.9"/><circle cx="223.2" cy="138.0" r="3.1"/><circle cx="224.3" cy="137.1" r="3.2"/><circle cx="225.3" cy="135.9" r="3.2"/><circle cx="226.4" cy="135.6" r="3.1"/></g>
<path d="M34.4,135.2 35.0,134.9 35.5,134.7 36.1,134.5 36.6,134.4 37.1,134.2 37.7,134.1 38.2,133.9 38.7,133.8 39.3,133.8 39.8,133.7 40.3,133.6 40.9,133.6 41.4,133.6 41.9,133.6 42.5,133.6 43.0,133.7 43.5,133.8 44.1,133.8 44.6,133.9 45.1,134.1 45.7,134.2 46.2,134.4 46.7,134.5 47.3,134.7 47.8,134.9 48.4,135.2 48.9,135.4 49.4,135.7 50.0,135.9 50.5,136.2 51.0,136.6 51.6,136.9 52.1,137.2 52.6,137.6 53.2,137.9 53.7,138.3 54.2,138.7 54.8,139.1 55.3,139.5 55.8,140.0 56.4,140.4 56.9,140.9 57.4,141.3 58.0,141.8 58.5,142.3 59.0,142.8 59.6,143.3 60.1,143.8 60.6,144.3 61.2,144.8 61.7,145.3 62.3,145.8 62.8,146.4 63.3,146.9 63.9,147.4 64.4,148.0 64.9,148.5 65.5,149.0 66.0,149.6 66.5,150.1 67.1,150.7 67.6,151.2 68.1,151.7 68.7,152.3 69.2,152.8 69.7,153.3 70.3,153.8 70.8,154.3 71.3,154.8 71.9,155.3 72.4,155.8 72.9,156.3 73.5,156.8 74.0,157.2 74.6,157.7 75.1,158.1 75.6,158.6 76.2,159.0 76.7,159.4 77.2,159.8 77.8,160.2 78.3,160.5 78.8,160.9 79.4,161.2 79.9,161.5 80.4,161.9 81.0,162.2 81.5,162.4 82.0,162.7 82.6,162.9 83.1,163.2 83.6,163.4 84.2,163.6 84.7,163.7 85.2,163.9 85.8,164.0 86.3,164.2 86.9,164.3 87.4,164.3 87.9,164.4 88.5,164.5 89.0,164.5 89.5,164.5 90.1,164.5 90.6,164.5 91.1,164.4 91.7,164.3 92.2,164.3 92.7,164.2 93.3,164.0 93.8,163.9 94.3,163.7 94.9,163.6 95.4,163.4 95.9,163.2 96.5,162.9 97.0,162.7 97.5,162.4 98.1,162.2 98.6,161.9 99.2,161.5 99.7,161.2 100.2,160.9 100.8,160.5 101.3,160.2 101.8,159.8 102.4,159.4 102.9,159.0 103.4,158.6 104.0,158.1 104.5,157.7 105.0,157.2 105.6,156.8 106.1,156.3 106.6,155.8 107.2,155.3 107.7,154.8 108.2,154.3 108.8,153.8 109.3,153.3 109.8,152.8 110.4,152.3 110.9,151.7 111.4,151.2 112.0,150.7 112.5,150.1 113.1,149.6 113.6,149.1 114.1,148.5 114.7,148.0 115.2,147.4 115.7,146.9 116.3,146.4 116.8,145.8 117.3,145.3 117.9,144.8 118.4,144.3 118.9,143.8 119.5,143.3 120.0,142.8 120.5,142.3 121.1,141.8 121.6,141.3 122.1,140.9 122.7,140.4 123.2,140.0 123.7,139.5 124.3,139.1 124.8,138.7 125.4,138.3 125.9,137.9 126.4,137.6 127.0,137.2 127.5,136.9 128.0,136.6 128.6,136.2 129.1,135.9 129.6,135.7 130.2,135.4 130.7,135.2 131.2,134.9 131.8,134.7 132.3,134.5 132.8,134.4 133.4,134.2 133.9,134.1 134.4,133.9 135.0,133.8 135.5,133.8 136.0,133.7 136.6,133.6 137.1,133.6 137.7,133.6 138.2,133.6 138.7,133.6 139.3,133.7 139.8,133.8 140.3,133.8 140.9,133.9 141.4,134.1 141.9,134.2 142.5,134.4 143.0,134.5 143.5,134.7 144.1,134.9 144.6,135.2 145.1,135.4 145.7,135.7 146.2,135.9 146.7,136.2 147.3,136.6 147.8,136.9 148.3,137.2 148.9,137.6 149.4,137.9 149.9,138.3 150.5,138.7 151.0,139.1 151.6,139.5 152.1,140.0 152.6,140.4 153.2,140.9 153.7,141.3 154.2,141.8 154.8,142.3 155.3,142.8 155.8,143.3 156.4,143.8 156.9,144.3 157.4,144.8 158.0,145.3 158.5,145.8 159.0,146.4 159.6,146.9 160.1,147.4 160.6,148.0 161.2,148.5 161.7,149.0 162.2,149.6 162.8,150.1 163.3,150.7 163.9,151.2 164.4,151.7 164.9,152.3 165.5,152.8 166.0,153.3 166.5,153.8 167.1,154.3 167.6,154.8 168.1,155.3 168.7,155.8 169.2,156.3 169.7,156.8 170.3,157.2 170.8,157.7 171.3,158.1 171.9,158.6 172.4,159.0 172.9,159.4 173.5,159.8 174.0,160.2 174.5,160.5 175.1,160.9 175.6,161.2 176.2,161.5 176.7,161.9 177.2,162.2 177.8,162.4 178.3,162.7 178.8,162.9 179.4,163.2 179.9,163.4 180.4,163.6 181.0,163.7 181.5,163.9 182.0,164.0 182.6,164.2 183.1,164.3 183.6,164.3 184.2,164.4 184.7,164.5 185.2,164.5 185.8,164.5 186.3,164.5 186.8,164.5 187.4,164.4 187.9,164.3 188.4,164.3 189.0,164.2 189.5,164.0 190.1,163.9 190.6,163.7 191.1,163.6 191.7,163.4 192.2,163.2 192.7,162.9 193.3,162.7 193.8,162.4 194.3,162.2 194.9,161.9 195.4,161.5 195.9,161.2 196.5,160.9 197.0,160.5 197.5,160.2 198.1,159.8 198.6,159.4 199.1,159.0 199.7,158.6 200.2,158.1 200.7,157.7 201.3,157.2 201.8,156.8 202.4,156.3 202.9,155.8 203.4,155.3 204.0,154.8 204.5,154.3 205.0,153.8 205.6,153.3 206.1,152.8 206.6,152.3 207.2,151.7 207.7,151.2 208.2,150.7 208.8,150.1 209.3,149.6 209.8,149.1 210.4,148.5 210.9,148.0 211.4,147.4 212.0,146.9 212.5,146.4 213.0,145.8 213.6,145.3 214.1,144.8 214.7,144.3 215.2,143.8 215.7,143.3 216.3,142.8 216.8,142.3 217.3,141.8 217.9,141.3 218.4,140.9 218.9,140.4 219.5,140.0 220.0,139.5 220.5,139.1 221.1,138.7 221.6,138.3 222.1,137.9 222.7,137.6 223.2,137.2 223.7,136.9 224.3,136.6 224.8,136.2 225.3,135.9 225.9,135.7 226.4,135.4 226.9,135.2 227.5,134.9 228.0,134.7 228.6,134.5 229.1,134.4 229.6,134.2 230.2,134.1 230.7,133.9 231.2,133.8 231.8,133.8 232.3,133.7 232.8,133.6 233.4,133.6 233.9,133.6" fill="none" stroke="#000" stroke-width="2.0"/>
<line x1="25.5" y1="131.6" x2="32.0" y2="131.6" stroke="#000" stroke-width="1.8"/>
<line x1="232.8" y1="131.6" x2="250.5" y2="131.6" stroke="#000" stroke-width="1.8"/>
<g fill="#a04f1c"><circle cx="35.8" cy="200.7" r="4.6"/><circle cx="36.6" cy="200.0" r="4.4"/><circle cx="37.4" cy="200.2" r="4.3"/><circle cx="38.2" cy="199.6" r="4.5"/><circle cx="39.0" cy="198.9" r="4.5"/><circle cx="39.8" cy="199.3" r="4.7"/><circle cx="40.6" cy="198.9" r="4.7"/><circle cx="41.4" cy="199.0" r="4.5"/><circle cx="42.2" cy="199.3" r="4.3"/><circle cx="43.0" cy="199.3" r="4.5"/><circle cx="43.8" cy="199.2" r="4.6"/><circle cx="44.6" cy="199.4" r="4.4"/><circle cx="45.4" cy="199.8" r="4.6"/><circle cx="46.2" cy="199.9" r="4.4"/><circle cx="47.0" cy="200.5" r="4.4"/><circle cx="47.8" cy="201.2" r="4.3"/><circle cx="48.6" cy="201.7" r="4.3"/><circle cx="49.4" cy="202.0" r="4.2"/><circle cx="50.2" cy="202.7" r="4.5"/><circle cx="51.0" cy="203.4" r="4.4"/><circle cx="51.8" cy="203.9" r="4.2"/><circle cx="52.6" cy="204.6" r="4.3"/><circle cx="53.4" cy="205.6" r="4.4"/><circle cx="54.2" cy="206.0" r="4.3"/><circle cx="55.0" cy="207.5" r="4.2"/><circle cx="55.8" cy="207.7" r="4.1"/><circle cx="56.6" cy="208.5" r="4.0"/><circle cx="57.4" cy="210.2" r="4.1"/><circle cx="58.2" cy="210.9" r="4.2"/><circle cx="59.0" cy="212.0" r="4.1"/><circle cx="59.8" cy="212.7" r="4.1"/><circle cx="60.6" cy="213.7" r="4.1"/><circle cx="61.5" cy="214.7" r="3.9"/><circle cx="62.3" cy="215.6" r="4.0"/><circle cx="63.1" cy="216.7" r="3.8"/><circle cx="63.9" cy="217.1" r="3.8"/><circle cx="64.7" cy="218.5" r="4.2"/><circle cx="65.5" cy="219.4" r="3.9"/><circle cx="66.3" cy="220.4" r="4.1"/><circle cx="67.1" cy="221.1" r="3.9"/><circle cx="67.9" cy="221.8" r="4.0"/><circle cx="68.7" cy="222.6" r="4.0"/><circle cx="69.5" cy="223.7" r="4.2"/><circle cx="70.3" cy="224.0" r="4.1"/><circle cx="71.1" cy="224.8" r="3.9"/><circle cx="71.9" cy="226.1" r="4.1"/><circle cx="72.7" cy="226.9" r="4.1"/><circle cx="73.5" cy="226.9" r="4.0"/><circle cx="74.3" cy="228.0" r="4.3"/><circle cx="75.1" cy="228.9" r="4.1"/><circle cx="75.9" cy="229.1" r="4.0"/><circle cx="76.7" cy="229.8" r="4.1"/><circle cx="77.5" cy="229.9" r="4.0"/><circle cx="78.3" cy="230.3" r="4.3"/><circle cx="79.1" cy="230.8" r="4.5"/><circle cx="79.9" cy="231.2" r="4.5"/><circle cx="80.7" cy="231.6" r="4.1"/><circle cx="81.5" cy="232.4" r="4.2"/><circle cx="82.3" cy="232.8" r="4.2"/><circle cx="83.1" cy="232.5" r="4.5"/><circle cx="83.9" cy="233.3" r="4.6"/><circle cx="84.7" cy="233.5" r="4.2"/><circle cx="85.5" cy="233.6" r="4.5"/><circle cx="86.3" cy="233.6" r="4.6"/><circle cx="87.1" cy="233.6" r="4.7"/><circle cx="87.9" cy="234.0" r="4.2"/><circle cx="88.7" cy="233.5" r="4.5"/><circle cx="89.5" cy="234.2" r="4.3"/><circle cx="90.3" cy="233.7" r="4.6"/><circle cx="91.1" cy="233.6" r="4.6"/><circle cx="91.9" cy="233.7" r="4.3"/><circle cx="92.7" cy="233.5" r="4.5"/><circle cx="93.5" cy="233.4" r="4.5"/><circle cx="94.3" cy="233.0" r="4.6"/><circle cx="95.1" cy="233.0" r="4.5"/><circle cx="95.9" cy="233.0" r="4.4"/><circle cx="96.7" cy="232.5" r="4.5"/><circle cx="97.5" cy="232.6" r="4.5"/><circle cx="98.3" cy="232.0" r="4.2"/><circle cx="99.2" cy="231.2" r="4.5"/><circle cx="100.0" cy="231.3" r="4.4"/><circle cx="100.8" cy="230.5" r="4.3"/><circle cx="101.6" cy="230.6" r="4.4"/><circle cx="102.4" cy="229.8" r="4.1"/><circle cx="103.2" cy="229.1" r="4.3"/><circle cx="104.0" cy="228.4" r="4.2"/><circle cx="104.8" cy="228.0" r="4.3"/><circle cx="105.6" cy="227.5" r="4.0"/><circle cx="106.4" cy="226.2" r="4.0"/><circle cx="107.2" cy="225.8" r="4.1"/><circle cx="108.0" cy="225.4" r="4.2"/><circle cx="108.8" cy="224.0" r="4.2"/><circle cx="109.6" cy="223.8" r="4.2"/><circle cx="110.4" cy="222.8" r="3.9"/><circle cx="111.2" cy="222.2" r="4.1"/><circle cx="112.0" cy="221.2" r="4.2"/><circle cx="112.8" cy="220.0" r="3.8"/><circle cx="113.6" cy="219.3" r="4.1"/><circle cx="114.4" cy="218.1" r="4.1"/><circle cx="115.2" cy="217.7" r="3.9"/><circle cx="116.0" cy="216.5" r="4.1"/><circle cx="116.8" cy="215.5" r="3.9"/><circle cx="117.6" cy="214.3" r="4.1"/><circle cx="118.4" cy="213.8" r="4.0"/><circle cx="119.2" cy="212.3" r="4.2"/><circle cx="120.0" cy="211.9" r="3.9"/><circle cx="120.8" cy="210.8" r="4.3"/><circle cx="121.6" cy="210.1" r="4.1"/><circle cx="122.4" cy="208.9" r="4.2"/><circle cx="123.2" cy="207.8" r="4.0"/><circle cx="124.0" cy="206.9" r="4.3"/><circle cx="124.8" cy="206.2" r="4.2"/><circle cx="125.6" cy="205.4" r="4.2"/><circle cx="126.4" cy="204.5" r="4.0"/><circle cx="127.2" cy="204.4" r="4.2"/><circle cx="128.0" cy="203.0" r="4.4"/><circle cx="128.8" cy="202.9" r="4.2"/><circle cx="129.6" cy="202.1" r="4.3"/><circle cx="130.4" cy="201.5" r="4.2"/><circle cx="131.2" cy="200.6" r="4.6"/><circle cx="132.0" cy="200.8" r="4.4"/><circle cx="132.8" cy="200.2" r="4.3"/><circle cx="133.6" cy="200.0" r="4.4"/><circle cx="134.4" cy="199.9" r="4.6"/><circle cx="135.2" cy="199.5" r="4.7"/><circle cx="136.0" cy="198.9" r="4.3"/><circle cx="136.8" cy="198.8" r="4.3"/><circle cx="137.7" cy="198.7" r="4.3"/><circle cx="138.5" cy="199.1" r="4.6"/><circle cx="139.3" cy="199.1" r="4.7"/><circle cx="140.1" cy="199.6" r="4.3"/><circle cx="140.9" cy="199.6" r="4.4"/><circle cx="141.7" cy="199.5" r="4.6"/><circle cx="142.5" cy="199.9" r="4.5"/><circle cx="143.3" cy="200.6" r="4.6"/><circle cx="144.1" cy="201.1" r="4.3"/><circle cx="144.9" cy="201.4" r="4.2"/><circle cx="145.7" cy="202.4" r="4.6"/><circle cx="146.5" cy="202.4" r="4.1"/><circle cx="147.3" cy="203.1" r="4.2"/><circle cx="148.1" cy="204.3" r="4.5"/><circle cx="148.9" cy="205.0" r="4.0"/><circle cx="149.7" cy="205.7" r="4.3"/><circle cx="150.5" cy="206.4" r="4.4"/><circle cx="151.3" cy="206.8" r="4.0"/><circle cx="152.1" cy="208.2" r="4.3"/><circle cx="152.9" cy="209.1" r="4.0"/><circle cx="153.7" cy="209.9" r="4.2"/><circle cx="154.5" cy="210.4" r="4.0"/><circle cx="155.3" cy="211.5" r="3.9"/><circle cx="156.1" cy="212.6" r="3.9"/><circle cx="156.9" cy="213.4" r="3.9"/><circle cx="157.7" cy="214.7" r="3.8"/><circle cx="158.5" cy="215.7" r="3.9"/><circle cx="159.3" cy="216.1" r="4.2"/><circle cx="160.1" cy="217.2" r="4.2"/><circle cx="160.9" cy="218.6" r="4.2"/><circle cx="161.7" cy="219.0" r="4.0"/><circle cx="162.5" cy="219.8" r="4.2"/><circle cx="163.3" cy="221.3" r="4.0"/><circle cx="164.1" cy="221.9" r="3.9"/><circle cx="164.9" cy="223.0" r="4.0"/><circle cx="165.7" cy="223.7" r="3.8"/><circle cx="166.5" cy="224.2" r="3.8"/><circle cx="167.3" cy="225.3" r="4.1"/><circle cx="168.1" cy="225.6" r="4.2"/><circle cx="168.9" cy="226.4" r="4.0"/><circle cx="169.7" cy="227.0" r="4.0"/><circle cx="170.5" cy="228.2" r="4.0"/><circle cx="171.3" cy="228.3" r="4.1"/><circle cx="172.1" cy="229.0" r="4.4"/><circle cx="172.9" cy="229.4" r="4.4"/><circle cx="173.7" cy="229.8" r="4.4"/><circle cx="174.5" cy="230.8" r="4.1"/><circle cx="175.3" cy="231.1" r="4.2"/><circle cx="176.2" cy="231.3" r="4.2"/><circle cx="177.0" cy="231.8" r="4.5"/><circle cx="177.8" cy="232.7" r="4.5"/><circle cx="178.6" cy="232.3" r="4.3"/><circle cx="179.4" cy="233.2" r="4.2"/><circle cx="180.2" cy="233.3" r="4.3"/><circle cx="181.0" cy="233.7" r="4.2"/><circle cx="181.8" cy="233.7" r="4.4"/><circle cx="182.6" cy="233.4" r="4.2"/><circle cx="183.4" cy="234.0" r="4.5"/><circle cx="184.2" cy="233.6" r="4.4"/><circle cx="185.0" cy="234.2" r="4.3"/><circle cx="185.8" cy="234.0" r="4.3"/><circle cx="186.6" cy="233.6" r="4.6"/><circle cx="187.4" cy="234.0" r="4.3"/><circle cx="188.2" cy="233.4" r="4.3"/><circle cx="189.0" cy="233.7" r="4.5"/><circle cx="189.8" cy="233.3" r="4.3"/><circle cx="190.6" cy="233.4" r="4.5"/><circle cx="191.4" cy="233.3" r="4.4"/><circle cx="192.2" cy="232.6" r="4.2"/><circle cx="193.0" cy="232.8" r="4.3"/><circle cx="193.8" cy="232.4" r="4.1"/><circle cx="194.6" cy="232.2" r="4.3"/><circle cx="195.4" cy="231.8" r="4.5"/><circle cx="196.2" cy="231.1" r="4.1"/><circle cx="197.0" cy="231.0" r="4.2"/><circle cx="197.8" cy="230.5" r="4.1"/><circle cx="198.6" cy="229.4" r="4.3"/><circle cx="199.4" cy="229.0" r="4.0"/><circle cx="200.2" cy="228.4" r="4.2"/><circle cx="201.0" cy="227.5" r="4.1"/><circle cx="201.8" cy="227.2" r="4.1"/><circle cx="202.6" cy="226.3" r="4.2"/><circle cx="203.4" cy="226.1" r="4.2"/><circle cx="204.2" cy="225.0" r="4.1"/><circle cx="205.0" cy="224.3" r="4.1"/><circle cx="205.8" cy="223.2" r="4.2"/><circle cx="206.6" cy="223.1" r="4.0"/><circle cx="207.4" cy="221.9" r="4.0"/><circle cx="208.2" cy="221.1" r="3.8"/><circle cx="209.0" cy="220.5" r="3.9"/><circle cx="209.8" cy="219.0" r="3.8"/><circle cx="210.6" cy="218.1" r="4.1"/><circle cx="211.4" cy="217.0" r="3.8"/><circle cx="212.2" cy="216.6" r="3.9"/><circle cx="213.0" cy="215.1" r="4.0"/><circle cx="213.8" cy="214.6" r="4.0"/><circle cx="214.7" cy="213.8" r="3.8"/><circle cx="215.5" cy="212.9" r="4.1"/><circle cx="216.3" cy="211.3" r="3.9"/><circle cx="217.1" cy="210.7" r="4.1"/><circle cx="217.9" cy="209.6" r="3.9"/><circle cx="218.7" cy="208.8" r="4.0"/><circle cx="219.5" cy="208.1" r="4.3"/><circle cx="220.3" cy="206.9" r="4.2"/><circle cx="221.1" cy="206.5" r="4.0"/><circle cx="221.9" cy="205.8" r="4.4"/><circle cx="222.7" cy="204.6" r="4.2"/><circle cx="223.5" cy="204.3" r="4.3"/><circle cx="224.3" cy="203.2" r="4.5"/><circle cx="225.1" cy="202.9" r="4.3"/><circle cx="225.9" cy="201.8" r="4.3"/><circle cx="226.7" cy="201.4" r="4.6"/><circle cx="227.5" cy="201.2" r="4.6"/><circle cx="228.3" cy="200.8" r="4.6"/><circle cx="229.1" cy="199.8" r="4.4"/><circle cx="229.9" cy="200.1" r="4.6"/><circle cx="230.7" cy="199.3" r="4.4"/><circle cx="231.5" cy="199.4" r="4.4"/><circle cx="232.3" cy="199.2" r="4.3"/><circle cx="48.9" cy="204.0" r="4.0"/><circle cx="50.0" cy="204.4" r="3.8"/><circle cx="51.0" cy="206.1" r="4.1"/><circle cx="52.1" cy="207.1" r="4.0"/><circle cx="53.2" cy="208.1" r="4.1"/><circle cx="54.2" cy="209.3" r="3.8"/><circle cx="55.3" cy="210.5" r="3.9"/><circle cx="56.4" cy="211.9" r="3.9"/><circle cx="57.4" cy="213.3" r="4.2"/><circle cx="58.5" cy="214.8" r="3.9"/><circle cx="59.6" cy="216.3" r="3.9"/><circle cx="60.6" cy="218.1" r="3.9"/><circle cx="61.7" cy="219.1" r="4.0"/><circle cx="62.8" cy="220.4" r="4.0"/><circle cx="63.9" cy="222.5" r="4.0"/><circle cx="64.9" cy="223.2" r="4.0"/><circle cx="66.0" cy="224.7" r="3.8"/><circle cx="67.1" cy="225.5" r="3.8"/><circle cx="68.1" cy="226.6" r="3.9"/><circle cx="69.2" cy="227.5" r="3.9"/><circle cx="70.3" cy="228.2" r="4.0"/><circle cx="71.3" cy="229.6" r="4.0"/><circle cx="72.4" cy="230.1" r="4.0"/><circle cx="73.5" cy="230.4" r="4.1"/><circle cx="74.6" cy="231.2" r="4.0"/><circle cx="75.6" cy="231.9" r="4.0"/><circle cx="76.7" cy="232.2" r="3.9"/><circle cx="77.8" cy="232.7" r="4.0"/><circle cx="78.8" cy="233.3" r="4.0"/><circle cx="79.9" cy="233.5" r="3.9"/><circle cx="81.0" cy="234.7" r="3.9"/><circle cx="82.0" cy="234.9" r="4.0"/><circle cx="97.0" cy="234.7" r="4.2"/><circle cx="98.1" cy="234.3" r="4.1"/><circle cx="99.2" cy="233.7" r="3.8"/><circle cx="100.2" cy="233.7" r="3.9"/><circle cx="101.3" cy="232.6" r="3.9"/><circle cx="102.4" cy="232.3" r="4.1"/><circle cx="103.4" cy="231.5" r="3.9"/><circle cx="104.5" cy="231.6" r="4.1"/><circle cx="105.6" cy="230.4" r="3.9"/><circle cx="106.6" cy="229.9" r="4.1"/><circle cx="107.7" cy="229.4" r="4.1"/><circle cx="108.8" cy="228.8" r="4.0"/><circle cx="109.8" cy="227.9" r="4.1"/><circle cx="110.9" cy="227.0" r="4.0"/><circle cx="112.0" cy="226.0" r="4.1"/><circle cx="113.1" cy="225.0" r="3.8"/><circle cx="114.1" cy="223.7" r="3.8"/><circle cx="115.2" cy="222.3" r="4.0"/><circle cx="116.3" cy="220.7" r="4.2"/><circle cx="117.3" cy="219.3" r="3.9"/><circle cx="118.4" cy="218.0" r="4.1"/><circle cx="119.5" cy="216.3" r="3.9"/><circle cx="120.5" cy="214.7" r="4.0"/><circle cx="121.6" cy="213.4" r="3.9"/><circle cx="122.7" cy="211.7" r="4.0"/><circle cx="123.7" cy="210.3" r="3.9"/><circle cx="124.8" cy="209.3" r="4.1"/><circle cx="125.9" cy="207.8" r="3.9"/><circle cx="127.0" cy="206.4" r="3.9"/><circle cx="128.0" cy="205.4" r="4.0"/><circle cx="129.1" cy="204.9" r="3.8"/><circle cx="130.2" cy="204.4" r="3.9"/><circle cx="145.1" cy="204.4" r="4.1"/><circle cx="146.2" cy="205.2" r="3.8"/><circle cx="147.3" cy="205.6" r="4.2"/><circle cx="148.3" cy="206.3" r="3.8"/><circle cx="149.4" cy="207.9" r="4.0"/><circle cx="150.5" cy="209.4" r="4.1"/><circle cx="151.6" cy="210.4" r="4.2"/><circle cx="152.6" cy="211.8" r="4.0"/><circle cx="153.7" cy="213.4" r="3.9"/><circle cx="154.8" cy="214.6" r="4.0"/><circle cx="155.8" cy="216.1" r="4.2"/><circle cx="156.9" cy="217.9" r="4.0"/><circle cx="158.0" cy="219.0" r="3.9"/><circle cx="159.0" cy="220.6" r="4.0"/><circle cx="160.1" cy="222.2" r="4.1"/><circle cx="161.2" cy="223.8" r="4.0"/><circle cx="162.2" cy="224.6" r="4.0"/><circle cx="163.3" cy="226.2" r="3.9"/><circle cx="164.4" cy="226.8" r="4.1"/><circle cx="165.5" cy="227.5" r="3.9"/><circle cx="166.5" cy="228.9" r="4.1"/><circle cx="167.6" cy="229.3" r="3.8"/><circle cx="168.7" cy="230.3" r="4.1"/><circle cx="169.7" cy="230.9" r="4.2"/><circle cx="170.8" cy="231.6" r="3.9"/><circle cx="171.9" cy="231.6" r="3.9"/><circle cx="172.9" cy="232.4" r="4.0"/><circle cx="174.0" cy="232.7" r="3.8"/><circle cx="175.1" cy="233.5" r="4.0"/><circle cx="176.2" cy="233.8" r="4.2"/><circle cx="177.2" cy="234.5" r="3.8"/><circle cx="178.3" cy="234.8" r="4.1"/><circle cx="193.3" cy="234.7" r="4.1"/><circle cx="194.3" cy="234.0" r="3.9"/><circle cx="195.4" cy="234.2" r="4.0"/><circle cx="196.5" cy="233.6" r="3.8"/><circle cx="197.5" cy="232.9" r="4.0"/><circle cx="198.6" cy="232.2" r="4.0"/><circle cx="199.7" cy="231.9" r="4.2"/><circle cx="200.7" cy="231.3" r="3.9"/><circle cx="201.8" cy="230.4" r="3.8"/><circle cx="202.9" cy="230.2" r="3.8"/><circle cx="204.0" cy="229.0" r="3.8"/><circle cx="205.0" cy="228.6" r="4.1"/><circle cx="206.1" cy="227.8" r="4.1"/><circle cx="207.2" cy="226.4" r="3.8"/><circle cx="208.2" cy="226.0" r="3.9"/><circle cx="209.3" cy="224.8" r="3.9"/><circle cx="210.4" cy="223.2" r="3.9"/><circle cx="211.4" cy="221.8" r="4.2"/><circle cx="212.5" cy="220.8" r="3.9"/><circle cx="213.6" cy="219.2" r="3.9"/><circle cx="214.7" cy="217.4" r="4.2"/><circle cx="215.7" cy="216.3" r="4.2"/><circle cx="216.8" cy="214.7" r="4.0"/><circle cx="217.9" cy="213.0" r="3.8"/><circle cx="218.9" cy="212.1" r="4.1"/><circle cx="220.0" cy="210.2" r="4.2"/><circle cx="221.1" cy="209.3" r="3.9"/><circle cx="222.1" cy="207.9" r="4.2"/><circle cx="223.2" cy="206.7" r="4.2"/><circle cx="224.3" cy="205.5" r="3.9"/><circle cx="225.3" cy="205.0" r="3.8"/><circle cx="226.4" cy="203.9" r="4.1"/></g>
<g fill="#d86e2a"><circle cx="35.8" cy="200.7" r="3.7"/><circle cx="36.6" cy="200.0" r="3.5"/><circle cx="37.4" cy="200.2" r="3.4"/><circle cx="38.2" cy="199.6" r="3.6"/><circle cx="39.0" cy="198.9" r="3.6"/><circle cx="39.8" cy="199.3" r="3.8"/><circle cx="40.6" cy="198.9" r="3.8"/><circle cx="41.4" cy="199.0" r="3.6"/><circle cx="42.2" cy="199.3" r="3.4"/><circle cx="43.0" cy="199.3" r="3.6"/><circle cx="43.8" cy="199.2" r="3.7"/><circle cx="44.6" cy="199.4" r="3.5"/><circle cx="45.4" cy="199.8" r="3.7"/><circle cx="46.2" cy="199.9" r="3.5"/><circle cx="47.0" cy="200.5" r="3.5"/><circle cx="47.8" cy="201.2" r="3.4"/><circle cx="48.6" cy="201.7" r="3.4"/><circle cx="49.4" cy="202.0" r="3.3"/><circle cx="50.2" cy="202.7" r="3.6"/><circle cx="51.0" cy="203.4" r="3.5"/><circle cx="51.8" cy="203.9" r="3.3"/><circle cx="52.6" cy="204.6" r="3.4"/><circle cx="53.4" cy="205.6" r="3.5"/><circle cx="54.2" cy="206.0" r="3.4"/><circle cx="55.0" cy="207.5" r="3.3"/><circle cx="55.8" cy="207.7" r="3.2"/><circle cx="56.6" cy="208.5" r="3.1"/><circle cx="57.4" cy="210.2" r="3.2"/><circle cx="58.2" cy="210.9" r="3.3"/><circle cx="59.0" cy="212.0" r="3.2"/><circle cx="59.8" cy="212.7" r="3.2"/><circle cx="60.6" cy="213.7" r="3.2"/><circle cx="61.5" cy="214.7" r="3.0"/><circle cx="62.3" cy="215.6" r="3.1"/><circle cx="63.1" cy="216.7" r="2.9"/><circle cx="63.9" cy="217.1" r="2.9"/><circle cx="64.7" cy="218.5" r="3.3"/><circle cx="65.5" cy="219.4" r="3.0"/><circle cx="66.3" cy="220.4" r="3.2"/><circle cx="67.1" cy="221.1" r="3.0"/><circle cx="67.9" cy="221.8" r="3.1"/><circle cx="68.7" cy="222.6" r="3.1"/><circle cx="69.5" cy="223.7" r="3.3"/><circle cx="70.3" cy="224.0" r="3.2"/><circle cx="71.1" cy="224.8" r="3.0"/><circle cx="71.9" cy="226.1" r="3.2"/><circle cx="72.7" cy="226.9" r="3.2"/><circle cx="73.5" cy="226.9" r="3.1"/><circle cx="74.3" cy="228.0" r="3.4"/><circle cx="75.1" cy="228.9" r="3.2"/><circle cx="75.9" cy="229.1" r="3.1"/><circle cx="76.7" cy="229.8" r="3.2"/><circle cx="77.5" cy="229.9" r="3.1"/><circle cx="78.3" cy="230.3" r="3.4"/><circle cx="79.1" cy="230.8" r="3.6"/><circle cx="79.9" cy="231.2" r="3.6"/><circle cx="80.7" cy="231.6" r="3.2"/><circle cx="81.5" cy="232.4" r="3.3"/><circle cx="82.3" cy="232.8" r="3.3"/><circle cx="83.1" cy="232.5" r="3.6"/><circle cx="83.9" cy="233.3" r="3.7"/><circle cx="84.7" cy="233.5" r="3.3"/><circle cx="85.5" cy="233.6" r="3.6"/><circle cx="86.3" cy="233.6" r="3.7"/><circle cx="87.1" cy="233.6" r="3.8"/><circle cx="87.9" cy="234.0" r="3.3"/><circle cx="88.7" cy="233.5" r="3.6"/><circle cx="89.5" cy="234.2" r="3.4"/><circle cx="90.3" cy="233.7" r="3.7"/><circle cx="91.1" cy="233.6" r="3.7"/><circle cx="91.9" cy="233.7" r="3.4"/><circle cx="92.7" cy="233.5" r="3.6"/><circle cx="93.5" cy="233.4" r="3.6"/><circle cx="94.3" cy="233.0" r="3.7"/><circle cx="95.1" cy="233.0" r="3.6"/><circle cx="95.9" cy="233.0" r="3.5"/><circle cx="96.7" cy="232.5" r="3.6"/><circle cx="97.5" cy="232.6" r="3.6"/><circle cx="98.3" cy="232.0" r="3.3"/><circle cx="99.2" cy="231.2" r="3.6"/><circle cx="100.0" cy="231.3" r="3.5"/><circle cx="100.8" cy="230.5" r="3.4"/><circle cx="101.6" cy="230.6" r="3.5"/><circle cx="102.4" cy="229.8" r="3.2"/><circle cx="103.2" cy="229.1" r="3.4"/><circle cx="104.0" cy="228.4" r="3.3"/><circle cx="104.8" cy="228.0" r="3.4"/><circle cx="105.6" cy="227.5" r="3.1"/><circle cx="106.4" cy="226.2" r="3.1"/><circle cx="107.2" cy="225.8" r="3.2"/><circle cx="108.0" cy="225.4" r="3.3"/><circle cx="108.8" cy="224.0" r="3.3"/><circle cx="109.6" cy="223.8" r="3.3"/><circle cx="110.4" cy="222.8" r="3.0"/><circle cx="111.2" cy="222.2" r="3.2"/><circle cx="112.0" cy="221.2" r="3.3"/><circle cx="112.8" cy="220.0" r="2.9"/><circle cx="113.6" cy="219.3" r="3.2"/><circle cx="114.4" cy="218.1" r="3.2"/><circle cx="115.2" cy="217.7" r="3.0"/><circle cx="116.0" cy="216.5" r="3.2"/><circle cx="116.8" cy="215.5" r="3.0"/><circle cx="117.6" cy="214.3" r="3.2"/><circle cx="118.4" cy="213.8" r="3.1"/><circle cx="119.2" cy="212.3" r="3.3"/><circle cx="120.0" cy="211.9" r="3.0"/><circle cx="120.8" cy="210.8" r="3.4"/><circle cx="121.6" cy="210.1" r="3.2"/><circle cx="122.4" cy="208.9" r="3.3"/><circle cx="123.2" cy="207.8" r="3.1"/><circle cx="124.0" cy="206.9" r="3.4"/><circle cx="124.8" cy="206.2" r="3.3"/><circle cx="125.6" cy="205.4" r="3.3"/><circle cx="126.4" cy="204.5" r="3.1"/><circle cx="127.2" cy="204.4" r="3.3"/><circle cx="128.0" cy="203.0" r="3.5"/><circle cx="128.8" cy="202.9" r="3.3"/><circle cx="129.6" cy="202.1" r="3.4"/><circle cx="130.4" cy="201.5" r="3.3"/><circle cx="131.2" cy="200.6" r="3.7"/><circle cx="132.0" cy="200.8" r="3.5"/><circle cx="132.8" cy="200.2" r="3.4"/><circle cx="133.6" cy="200.0" r="3.5"/><circle cx="134.4" cy="199.9" r="3.7"/><circle cx="135.2" cy="199.5" r="3.8"/><circle cx="136.0" cy="198.9" r="3.4"/><circle cx="136.8" cy="198.8" r="3.4"/><circle cx="137.7" cy="198.7" r="3.4"/><circle cx="138.5" cy="199.1" r="3.7"/><circle cx="139.3" cy="199.1" r="3.8"/><circle cx="140.1" cy="199.6" r="3.4"/><circle cx="140.9" cy="199.6" r="3.5"/><circle cx="141.7" cy="199.5" r="3.7"/><circle cx="142.5" cy="199.9" r="3.6"/><circle cx="143.3" cy="200.6" r="3.7"/><circle cx="144.1" cy="201.1" r="3.4"/><circle cx="144.9" cy="201.4" r="3.3"/><circle cx="145.7" cy="202.4" r="3.7"/><circle cx="146.5" cy="202.4" r="3.2"/><circle cx="147.3" cy="203.1" r="3.3"/><circle cx="148.1" cy="204.3" r="3.6"/><circle cx="148.9" cy="205.0" r="3.1"/><circle cx="149.7" cy="205.7" r="3.4"/><circle cx="150.5" cy="206.4" r="3.5"/><circle cx="151.3" cy="206.8" r="3.1"/><circle cx="152.1" cy="208.2" r="3.4"/><circle cx="152.9" cy="209.1" r="3.1"/><circle cx="153.7" cy="209.9" r="3.3"/><circle cx="154.5" cy="210.4" r="3.1"/><circle cx="155.3" cy="211.5" r="3.0"/><circle cx="156.1" cy="212.6" r="3.0"/><circle cx="156.9" cy="213.4" r="3.0"/><circle cx="157.7" cy="214.7" r="2.9"/><circle cx="158.5" cy="215.7" r="3.0"/><circle cx="159.3" cy="216.1" r="3.3"/><circle cx="160.1" cy="217.2" r="3.3"/><circle cx="160.9" cy="218.6" r="3.3"/><circle cx="161.7" cy="219.0" r="3.1"/><circle cx="162.5" cy="219.8" r="3.3"/><circle cx="163.3" cy="221.3" r="3.1"/><circle cx="164.1" cy="221.9" r="3.0"/><circle cx="164.9" cy="223.0" r="3.1"/><circle cx="165.7" cy="223.7" r="2.9"/><circle cx="166.5" cy="224.2" r="2.9"/><circle cx="167.3" cy="225.3" r="3.2"/><circle cx="168.1" cy="225.6" r="3.3"/><circle cx="168.9" cy="226.4" r="3.1"/><circle cx="169.7" cy="227.0" r="3.1"/><circle cx="170.5" cy="228.2" r="3.1"/><circle cx="171.3" cy="228.3" r="3.2"/><circle cx="172.1" cy="229.0" r="3.5"/><circle cx="172.9" cy="229.4" r="3.5"/><circle cx="173.7" cy="229.8" r="3.5"/><circle cx="174.5" cy="230.8" r="3.2"/><circle cx="175.3" cy="231.1" r="3.3"/><circle cx="176.2" cy="231.3" r="3.3"/><circle cx="177.0" cy="231.8" r="3.6"/><circle cx="177.8" cy="232.7" r="3.6"/><circle cx="178.6" cy="232.3" r="3.4"/><circle cx="179.4" cy="233.2" r="3.3"/><circle cx="180.2" cy="233.3" r="3.4"/><circle cx="181.0" cy="233.7" r="3.3"/><circle cx="181.8" cy="233.7" r="3.5"/><circle cx="182.6" cy="233.4" r="3.3"/><circle cx="183.4" cy="234.0" r="3.6"/><circle cx="184.2" cy="233.6" r="3.5"/><circle cx="185.0" cy="234.2" r="3.4"/><circle cx="185.8" cy="234.0" r="3.4"/><circle cx="186.6" cy="233.6" r="3.7"/><circle cx="187.4" cy="234.0" r="3.4"/><circle cx="188.2" cy="233.4" r="3.4"/><circle cx="189.0" cy="233.7" r="3.6"/><circle cx="189.8" cy="233.3" r="3.4"/><circle cx="190.6" cy="233.4" r="3.6"/><circle cx="191.4" cy="233.3" r="3.5"/><circle cx="192.2" cy="232.6" r="3.3"/><circle cx="193.0" cy="232.8" r="3.4"/><circle cx="193.8" cy="232.4" r="3.2"/><circle cx="194.6" cy="232.2" r="3.4"/><circle cx="195.4" cy="231.8" r="3.6"/><circle cx="196.2" cy="231.1" r="3.2"/><circle cx="197.0" cy="231.0" r="3.3"/><circle cx="197.8" cy="230.5" r="3.2"/><circle cx="198.6" cy="229.4" r="3.4"/><circle cx="199.4" cy="229.0" r="3.1"/><circle cx="200.2" cy="228.4" r="3.3"/><circle cx="201.0" cy="227.5" r="3.2"/><circle cx="201.8" cy="227.2" r="3.2"/><circle cx="202.6" cy="226.3" r="3.3"/><circle cx="203.4" cy="226.1" r="3.3"/><circle cx="204.2" cy="225.0" r="3.2"/><circle cx="205.0" cy="224.3" r="3.2"/><circle cx="205.8" cy="223.2" r="3.3"/><circle cx="206.6" cy="223.1" r="3.1"/><circle cx="207.4" cy="221.9" r="3.1"/><circle cx="208.2" cy="221.1" r="2.9"/><circle cx="209.0" cy="220.5" r="3.0"/><circle cx="209.8" cy="219.0" r="2.9"/><circle cx="210.6" cy="218.1" r="3.2"/><circle cx="211.4" cy="217.0" r="2.9"/><circle cx="212.2" cy="216.6" r="3.0"/><circle cx="213.0" cy="215.1" r="3.1"/><circle cx="213.8" cy="214.6" r="3.1"/><circle cx="214.7" cy="213.8" r="2.9"/><circle cx="215.5" cy="212.9" r="3.2"/><circle cx="216.3" cy="211.3" r="3.0"/><circle cx="217.1" cy="210.7" r="3.2"/><circle cx="217.9" cy="209.6" r="3.0"/><circle cx="218.7" cy="208.8" r="3.1"/><circle cx="219.5" cy="208.1" r="3.4"/><circle cx="220.3" cy="206.9" r="3.3"/><circle cx="221.1" cy="206.5" r="3.1"/><circle cx="221.9" cy="205.8" r="3.5"/><circle cx="222.7" cy="204.6" r="3.3"/><circle cx="223.5" cy="204.3" r="3.4"/><circle cx="224.3" cy="203.2" r="3.6"/><circle cx="225.1" cy="202.9" r="3.4"/><circle cx="225.9" cy="201.8" r="3.4"/><circle cx="226.7" cy="201.4" r="3.7"/><circle cx="227.5" cy="201.2" r="3.7"/><circle cx="228.3" cy="200.8" r="3.7"/><circle cx="229.1" cy="199.8" r="3.5"/><circle cx="229.9" cy="200.1" r="3.7"/><circle cx="230.7" cy="199.3" r="3.5"/><circle cx="231.5" cy="199.4" r="3.5"/><circle cx="232.3" cy="199.2" r="3.4"/><circle cx="48.9" cy="204.0" r="3.1"/><circle cx="50.0" cy="204.4" r="2.9"/><circle cx="51.0" cy="206.1" r="3.2"/><circle cx="52.1" cy="207.1" r="3.1"/><circle cx="53.2" cy="208.1" r="3.2"/><circle cx="54.2" cy="209.3" r="2.9"/><circle cx="55.3" cy="210.5" r="3.0"/><circle cx="56.4" cy="211.9" r="3.0"/><circle cx="57.4" cy="213.3" r="3.3"/><circle cx="58.5" cy="214.8" r="3.0"/><circle cx="59.6" cy="216.3" r="3.0"/><circle cx="60.6" cy="218.1" r="3.0"/><circle cx="61.7" cy="219.1" r="3.1"/><circle cx="62.8" cy="220.4" r="3.1"/><circle cx="63.9" cy="222.5" r="3.1"/><circle cx="64.9" cy="223.2" r="3.1"/><circle cx="66.0" cy="224.7" r="2.9"/><circle cx="67.1" cy="225.5" r="2.9"/><circle cx="68.1" cy="226.6" r="3.0"/><circle cx="69.2" cy="227.5" r="3.0"/><circle cx="70.3" cy="228.2" r="3.1"/><circle cx="71.3" cy="229.6" r="3.1"/><circle cx="72.4" cy="230.1" r="3.1"/><circle cx="73.5" cy="230.4" r="3.2"/><circle cx="74.6" cy="231.2" r="3.1"/><circle cx="75.6" cy="231.9" r="3.1"/><circle cx="76.7" cy="232.2" r="3.0"/><circle cx="77.8" cy="232.7" r="3.1"/><circle cx="78.8" cy="233.3" r="3.1"/><circle cx="79.9" cy="233.5" r="3.0"/><circle cx="81.0" cy="234.7" r="3.0"/><circle cx="82.0" cy="234.9" r="3.1"/><circle cx="97.0" cy="234.7" r="3.3"/><circle cx="98.1" cy="234.3" r="3.2"/><circle cx="99.2" cy="233.7" r="2.9"/><circle cx="100.2" cy="233.7" r="3.0"/><circle cx="101.3" cy="232.6" r="3.0"/><circle cx="102.4" cy="232.3" r="3.2"/><circle cx="103.4" cy="231.5" r="3.0"/><circle cx="104.5" cy="231.6" r="3.2"/><circle cx="105.6" cy="230.4" r="3.0"/><circle cx="106.6" cy="229.9" r="3.2"/><circle cx="107.7" cy="229.4" r="3.2"/><circle cx="108.8" cy="228.8" r="3.1"/><circle cx="109.8" cy="227.9" r="3.2"/><circle cx="110.9" cy="227.0" r="3.1"/><circle cx="112.0" cy="226.0" r="3.2"/><circle cx="113.1" cy="225.0" r="2.9"/><circle cx="114.1" cy="223.7" r="2.9"/><circle cx="115.2" cy="222.3" r="3.1"/><circle cx="116.3" cy="220.7" r="3.3"/><circle cx="117.3" cy="219.3" r="3.0"/><circle cx="118.4" cy="218.0" r="3.2"/><circle cx="119.5" cy="216.3" r="3.0"/><circle cx="120.5" cy="214.7" r="3.1"/><circle cx="121.6" cy="213.4" r="3.0"/><circle cx="122.7" cy="211.7" r="3.1"/><circle cx="123.7" cy="210.3" r="3.0"/><circle cx="124.8" cy="209.3" r="3.2"/><circle cx="125.9" cy="207.8" r="3.0"/><circle cx="127.0" cy="206.4" r="3.0"/><circle cx="128.0" cy="205.4" r="3.1"/><circle cx="129.1" cy="204.9" r="2.9"/><circle cx="130.2" cy="204.4" r="3.0"/><circle cx="145.1" cy="204.4" r="3.2"/><circle cx="146.2" cy="205.2" r="2.9"/><circle cx="147.3" cy="205.6" r="3.3"/><circle cx="148.3" cy="206.3" r="2.9"/><circle cx="149.4" cy="207.9" r="3.1"/><circle cx="150.5" cy="209.4" r="3.2"/><circle cx="151.6" cy="210.4" r="3.3"/><circle cx="152.6" cy="211.8" r="3.1"/><circle cx="153.7" cy="213.4" r="3.0"/><circle cx="154.8" cy="214.6" r="3.1"/><circle cx="155.8" cy="216.1" r="3.3"/><circle cx="156.9" cy="217.9" r="3.1"/><circle cx="158.0" cy="219.0" r="3.0"/><circle cx="159.0" cy="220.6" r="3.1"/><circle cx="160.1" cy="222.2" r="3.2"/><circle cx="161.2" cy="223.8" r="3.1"/><circle cx="162.2" cy="224.6" r="3.1"/><circle cx="163.3" cy="226.2" r="3.0"/><circle cx="164.4" cy="226.8" r="3.2"/><circle cx="165.5" cy="227.5" r="3.0"/><circle cx="166.5" cy="228.9" r="3.2"/><circle cx="167.6" cy="229.3" r="2.9"/><circle cx="168.7" cy="230.3" r="3.2"/><circle cx="169.7" cy="230.9" r="3.3"/><circle cx="170.8" cy="231.6" r="3.0"/><circle cx="171.9" cy="231.6" r="3.0"/><circle cx="172.9" cy="232.4" r="3.1"/><circle cx="174.0" cy="232.7" r="2.9"/><circle cx="175.1" cy="233.5" r="3.1"/><circle cx="176.2" cy="233.8" r="3.3"/><circle cx="177.2" cy="234.5" r="2.9"/><circle cx="178.3" cy="234.8" r="3.2"/><circle cx="193.3" cy="234.7" r="3.2"/><circle cx="194.3" cy="234.0" r="3.0"/><circle cx="195.4" cy="234.2" r="3.1"/><circle cx="196.5" cy="233.6" r="2.9"/><circle cx="197.5" cy="232.9" r="3.1"/><circle cx="198.6" cy="232.2" r="3.1"/><circle cx="199.7" cy="231.9" r="3.3"/><circle cx="200.7" cy="231.3" r="3.0"/><circle cx="201.8" cy="230.4" r="2.9"/><circle cx="202.9" cy="230.2" r="2.9"/><circle cx="204.0" cy="229.0" r="2.9"/><circle cx="205.0" cy="228.6" r="3.2"/><circle cx="206.1" cy="227.8" r="3.2"/><circle cx="207.2" cy="226.4" r="2.9"/><circle cx="208.2" cy="226.0" r="3.0"/><circle cx="209.3" cy="224.8" r="3.0"/><circle cx="210.4" cy="223.2" r="3.0"/><circle cx="211.4" cy="221.8" r="3.3"/><circle cx="212.5" cy="220.8" r="3.0"/><circle cx="213.6" cy="219.2" r="3.0"/><circle cx="214.7" cy="217.4" r="3.3"/><circle cx="215.7" cy="216.3" r="3.3"/><circle cx="216.8" cy="214.7" r="3.1"/><circle cx="217.9" cy="213.0" r="2.9"/><circle cx="218.9" cy="212.1" r="3.2"/><circle cx="220.0" cy="210.2" r="3.3"/><circle cx="221.1" cy="209.3" r="3.0"/><circle cx="222.1" cy="207.9" r="3.3"/><circle cx="223.2" cy="206.7" r="3.3"/><circle cx="224.3" cy="205.5" r="3.0"/><circle cx="225.3" cy="205.0" r="2.9"/><circle cx="226.4" cy="203.9" r="3.2"/></g>
<path d="M34.4,203.6 35.0,203.3 35.5,203.1 36.1,202.9 36.6,202.7 37.1,202.5 37.7,202.3 38.2,202.2 38.7,202.1 39.3,202.0 39.8,201.9 40.3,201.8 40.9,201.8 41.4,201.8 41.9,201.8 42.5,201.8 43.0,201.9 43.5,202.0 44.1,202.1 44.6,202.2 45.1,202.3 45.7,202.5 46.2,202.7 46.7,202.9 47.3,203.1 47.8,203.3 48.4,203.6 48.9,203.8 49.4,204.1 50.0,204.5 50.5,204.8 51.0,205.1 51.6,205.5 52.1,205.9 52.6,206.3 53.2,206.7 53.7,207.1 54.2,207.6 54.8,208.0 55.3,208.5 55.8,209.0 56.4,209.5 56.9,210.0 57.4,210.5 58.0,211.1 58.5,211.6 59.0,212.2 59.6,212.7 60.1,213.3 60.6,213.9 61.2,214.4 61.7,215.0 62.3,215.6 62.8,216.2 63.3,216.8 63.9,217.4 64.4,218.0 64.9,218.6 65.5,219.2 66.0,219.9 66.5,220.5 67.1,221.1 67.6,221.7 68.1,222.3 68.7,222.9 69.2,223.5 69.7,224.1 70.3,224.6 70.8,225.2 71.3,225.8 71.9,226.3 72.4,226.9 72.9,227.4 73.5,228.0 74.0,228.5 74.6,229.0 75.1,229.5 75.6,230.0 76.2,230.5 76.7,230.9 77.2,231.4 77.8,231.8 78.3,232.2 78.8,232.6 79.4,233.0 79.9,233.4 80.4,233.7 81.0,234.0 81.5,234.4 82.0,234.7 82.6,234.9 83.1,235.2 83.6,235.4 84.2,235.6 84.7,235.8 85.2,236.0 85.8,236.2 86.3,236.3 86.9,236.4 87.4,236.5 87.9,236.6 88.5,236.7 89.0,236.7 89.5,236.7 90.1,236.7 90.6,236.7 91.1,236.6 91.7,236.5 92.2,236.4 92.7,236.3 93.3,236.2 93.8,236.0 94.3,235.8 94.9,235.6 95.4,235.4 95.9,235.2 96.5,234.9 97.0,234.7 97.5,234.4 98.1,234.0 98.6,233.7 99.2,233.4 99.7,233.0 100.2,232.6 100.8,232.2 101.3,231.8 101.8,231.4 102.4,230.9 102.9,230.5 103.4,230.0 104.0,229.5 104.5,229.0 105.0,228.5 105.6,228.0 106.1,227.4 106.6,226.9 107.2,226.3 107.7,225.8 108.2,225.2 108.8,224.6 109.3,224.1 109.8,223.5 110.4,222.9 110.9,222.3 111.4,221.7 112.0,221.1 112.5,220.5 113.1,219.9 113.6,219.2 114.1,218.6 114.7,218.0 115.2,217.4 115.7,216.8 116.3,216.2 116.8,215.6 117.3,215.0 117.9,214.4 118.4,213.9 118.9,213.3 119.5,212.7 120.0,212.2 120.5,211.6 121.1,211.1 121.6,210.5 122.1,210.0 122.7,209.5 123.2,209.0 123.7,208.5 124.3,208.0 124.8,207.6 125.4,207.1 125.9,206.7 126.4,206.3 127.0,205.9 127.5,205.5 128.0,205.1 128.6,204.8 129.1,204.5 129.6,204.1 130.2,203.8 130.7,203.6 131.2,203.3 131.8,203.1 132.3,202.9 132.8,202.7 133.4,202.5 133.9,202.3 134.4,202.2 135.0,202.1 135.5,202.0 136.0,201.9 136.6,201.8 137.1,201.8 137.7,201.8 138.2,201.8 138.7,201.8 139.3,201.9 139.8,202.0 140.3,202.1 140.9,202.2 141.4,202.3 141.9,202.5 142.5,202.7 143.0,202.9 143.5,203.1 144.1,203.3 144.6,203.6 145.1,203.8 145.7,204.1 146.2,204.5 146.7,204.8 147.3,205.1 147.8,205.5 148.3,205.9 148.9,206.3 149.4,206.7 149.9,207.1 150.5,207.6 151.0,208.0 151.6,208.5 152.1,209.0 152.6,209.5 153.2,210.0 153.7,210.5 154.2,211.1 154.8,211.6 155.3,212.2 155.8,212.7 156.4,213.3 156.9,213.9 157.4,214.4 158.0,215.0 158.5,215.6 159.0,216.2 159.6,216.8 160.1,217.4 160.6,218.0 161.2,218.6 161.7,219.2 162.2,219.9 162.8,220.5 163.3,221.1 163.9,221.7 164.4,222.3 164.9,222.9 165.5,223.5 166.0,224.1 166.5,224.6 167.1,225.2 167.6,225.8 168.1,226.3 168.7,226.9 169.2,227.4 169.7,228.0 170.3,228.5 170.8,229.0 171.3,229.5 171.9,230.0 172.4,230.5 172.9,230.9 173.5,231.4 174.0,231.8 174.5,232.2 175.1,232.6 175.6,233.0 176.2,233.4 176.7,233.7 177.2,234.0 177.8,234.4 178.3,234.7 178.8,234.9 179.4,235.2 179.9,235.4 180.4,235.6 181.0,235.8 181.5,236.0 182.0,236.2 182.6,236.3 183.1,236.4 183.6,236.5 184.2,236.6 184.7,236.7 185.2,236.7 185.8,236.7 186.3,236.7 186.8,236.7 187.4,236.6 187.9,236.5 188.4,236.4 189.0,236.3 189.5,236.2 190.1,236.0 190.6,235.8 191.1,235.6 191.7,235.4 192.2,235.2 192.7,234.9 193.3,234.7 193.8,234.4 194.3,234.0 194.9,233.7 195.4,233.4 195.9,233.0 196.5,232.6 197.0,232.2 197.5,231.8 198.1,231.4 198.6,230.9 199.1,230.5 199.7,230.0 200.2,229.5 200.7,229.0 201.3,228.5 201.8,228.0 202.4,227.4 202.9,226.9 203.4,226.3 204.0,225.8 204.5,225.2 205.0,224.6 205.6,224.1 206.1,223.5 206.6,222.9 207.2,222.3 207.7,221.7 208.2,221.1 208.8,220.5 209.3,219.9 209.8,219.2 210.4,218.6 210.9,218.0 211.4,217.4 212.0,216.8 212.5,216.2 213.0,215.6 213.6,215.0 214.1,214.4 214.7,213.9 215.2,213.3 215.7,212.7 216.3,212.2 216.8,211.6 217.3,211.1 217.9,210.5 218.4,210.0 218.9,209.5 219.5,209.0 220.0,208.5 220.5,208.0 221.1,207.6 221.6,207.1 222.1,206.7 222.7,206.3 223.2,205.9 223.7,205.5 224.3,205.1 224.8,204.8 225.3,204.5 225.9,204.1 226.4,203.8 226.9,203.6 227.5,203.3 228.0,203.1 228.6,202.9 229.1,202.7 229.6,202.5 230.2,202.3 230.7,202.2 231.2,202.1 231.8,202.0 232.3,201.9 232.8,201.8 233.4,201.8 233.9,201.8" fill="none" stroke="#000" stroke-width="2.0"/>
<line x1="25.5" y1="198.7" x2="32.0" y2="198.7" stroke="#000" stroke-width="1.8"/>
<line x1="232.8" y1="198.7" x2="250.5" y2="198.7" stroke="#000" stroke-width="1.8"/>
<g fill="#222248"><circle cx="35.8" cy="266.8" r="4.5"/><circle cx="36.6" cy="266.1" r="4.3"/><circle cx="37.4" cy="265.8" r="4.3"/><circle cx="38.2" cy="266.0" r="4.4"/><circle cx="39.0" cy="265.5" r="4.3"/><circle cx="39.8" cy="265.3" r="4.4"/><circle cx="40.6" cy="265.1" r="4.3"/><circle cx="41.4" cy="264.8" r="4.6"/><circle cx="42.2" cy="265.0" r="4.4"/><circle cx="43.0" cy="265.0" r="4.4"/><circle cx="43.8" cy="265.2" r="4.3"/><circle cx="44.6" cy="265.8" r="4.4"/><circle cx="45.4" cy="265.7" r="4.5"/><circle cx="46.2" cy="266.0" r="4.3"/><circle cx="47.0" cy="267.0" r="4.2"/><circle cx="47.8" cy="267.2" r="4.5"/><circle cx="48.6" cy="268.1" r="4.2"/><circle cx="49.4" cy="268.3" r="4.5"/><circle cx="50.2" cy="269.0" r="4.5"/><circle cx="51.0" cy="269.6" r="4.5"/><circle cx="51.8" cy="270.6" r="4.2"/><circle cx="52.6" cy="271.4" r="4.1"/><circle cx="53.4" cy="272.5" r="4.1"/><circle cx="54.2" cy="273.5" r="4.2"/><circle cx="55.0" cy="274.1" r="4.1"/><circle cx="55.8" cy="275.2" r="4.0"/><circle cx="56.6" cy="276.5" r="4.0"/><circle cx="57.4" cy="277.2" r="4.1"/><circle cx="58.2" cy="278.1" r="4.2"/><circle cx="59.0" cy="279.3" r="4.1"/><circle cx="59.8" cy="280.5" r="4.0"/><circle cx="60.6" cy="281.5" r="3.8"/><circle cx="61.5" cy="282.4" r="4.2"/><circle cx="62.3" cy="283.7" r="4.1"/><circle cx="63.1" cy="284.6" r="4.0"/><circle cx="63.9" cy="286.0" r="4.0"/><circle cx="64.7" cy="287.0" r="3.8"/><circle cx="65.5" cy="288.1" r="3.9"/><circle cx="66.3" cy="289.1" r="4.1"/><circle cx="67.1" cy="290.3" r="3.9"/><circle cx="67.9" cy="291.9" r="4.1"/><circle cx="68.7" cy="292.9" r="4.2"/><circle cx="69.5" cy="293.4" r="3.9"/><circle cx="70.3" cy="294.3" r="4.1"/><circle cx="71.1" cy="295.8" r="4.0"/><circle cx="71.9" cy="296.5" r="4.1"/><circle cx="72.7" cy="297.7" r="4.0"/><circle cx="73.5" cy="298.7" r="4.0"/><circle cx="74.3" cy="299.4" r="4.0"/><circle cx="75.1" cy="299.8" r="4.3"/><circle cx="75.9" cy="301.0" r="4.3"/><circle cx="76.7" cy="301.2" r="4.0"/><circle cx="77.5" cy="302.0" r="4.1"/><circle cx="78.3" cy="302.8" r="4.2"/><circle cx="79.1" cy="303.2" r="4.2"/><circle cx="79.9" cy="304.3" r="4.2"/><circle cx="80.7" cy="304.9" r="4.4"/><circle cx="81.5" cy="305.3" r="4.2"/><circle cx="82.3" cy="305.5" r="4.5"/><circle cx="83.1" cy="305.9" r="4.2"/><circle cx="83.9" cy="306.6" r="4.5"/><circle cx="84.7" cy="306.5" r="4.2"/><circle cx="85.5" cy="307.2" r="4.5"/><circle cx="86.3" cy="306.8" r="4.3"/><circle cx="87.1" cy="307.0" r="4.6"/><circle cx="87.9" cy="307.2" r="4.7"/><circle cx="88.7" cy="307.7" r="4.3"/><circle cx="89.5" cy="307.7" r="4.4"/><circle cx="90.3" cy="307.7" r="4.6"/><circle cx="91.1" cy="307.2" r="4.3"/><circle cx="91.9" cy="307.6" r="4.4"/><circle cx="92.7" cy="307.5" r="4.5"/><circle cx="93.5" cy="307.1" r="4.6"/><circle cx="94.3" cy="306.8" r="4.4"/><circle cx="95.1" cy="306.0" r="4.5"/><circle cx="95.9" cy="305.9" r="4.4"/><circle cx="96.7" cy="305.9" r="4.2"/><circle cx="97.5" cy="305.4" r="4.1"/><circle cx="98.3" cy="304.8" r="4.5"/><circle cx="99.2" cy="304.0" r="4.3"/><circle cx="100.0" cy="303.9" r="4.3"/><circle cx="100.8" cy="303.0" r="4.1"/><circle cx="101.6" cy="301.9" r="4.2"/><circle cx="102.4" cy="301.5" r="4.1"/><circle cx="103.2" cy="300.7" r="4.0"/><circle cx="104.0" cy="300.2" r="4.2"/><circle cx="104.8" cy="299.0" r="4.0"/><circle cx="105.6" cy="298.4" r="4.1"/><circle cx="106.4" cy="297.9" r="4.0"/><circle cx="107.2" cy="296.4" r="4.2"/><circle cx="108.0" cy="295.4" r="4.1"/><circle cx="108.8" cy="294.5" r="4.2"/><circle cx="109.6" cy="293.7" r="4.1"/><circle cx="110.4" cy="292.4" r="4.1"/><circle cx="111.2" cy="291.6" r="4.0"/><circle cx="112.0" cy="290.7" r="4.1"/><circle cx="112.8" cy="289.1" r="3.9"/><circle cx="113.6" cy="288.2" r="3.8"/><circle cx="114.4" cy="286.8" r="3.9"/><circle cx="115.2" cy="285.8" r="4.1"/><circle cx="116.0" cy="284.9" r="3.8"/><circle cx="116.8" cy="283.7" r="4.0"/><circle cx="117.6" cy="282.6" r="3.9"/><circle cx="118.4" cy="281.2" r="3.8"/><circle cx="119.2" cy="280.8" r="4.2"/><circle cx="120.0" cy="279.0" r="4.2"/><circle cx="120.8" cy="278.6" r="4.1"/><circle cx="121.6" cy="276.9" r="4.1"/><circle cx="122.4" cy="276.1" r="4.0"/><circle cx="123.2" cy="275.2" r="3.9"/><circle cx="124.0" cy="274.5" r="4.2"/><circle cx="124.8" cy="273.3" r="4.4"/><circle cx="125.6" cy="272.4" r="4.1"/><circle cx="126.4" cy="271.2" r="4.1"/><circle cx="127.2" cy="270.2" r="4.4"/><circle cx="128.0" cy="270.1" r="4.2"/><circle cx="128.8" cy="268.9" r="4.4"/><circle cx="129.6" cy="268.7" r="4.5"/><circle cx="130.4" cy="267.6" r="4.5"/><circle cx="131.2" cy="267.5" r="4.5"/><circle cx="132.0" cy="266.6" r="4.3"/><circle cx="132.8" cy="266.6" r="4.3"/><circle cx="133.6" cy="265.9" r="4.5"/><circle cx="134.4" cy="265.5" r="4.6"/><circle cx="135.2" cy="265.2" r="4.3"/><circle cx="136.0" cy="265.3" r="4.5"/><circle cx="136.8" cy="265.4" r="4.6"/><circle cx="137.7" cy="265.4" r="4.7"/><circle cx="138.5" cy="265.1" r="4.5"/><circle cx="139.3" cy="265.0" r="4.4"/><circle cx="140.1" cy="265.5" r="4.3"/><circle cx="140.9" cy="265.8" r="4.3"/><circle cx="141.7" cy="265.9" r="4.7"/><circle cx="142.5" cy="266.0" r="4.2"/><circle cx="143.3" cy="266.7" r="4.3"/><circle cx="144.1" cy="267.4" r="4.2"/><circle cx="144.9" cy="268.1" r="4.5"/><circle cx="145.7" cy="268.7" r="4.3"/><circle cx="146.5" cy="268.9" r="4.4"/><circle cx="147.3" cy="269.9" r="4.3"/><circle cx="148.1" cy="270.5" r="4.2"/><circle cx="148.9" cy="271.6" r="4.4"/><circle cx="149.7" cy="272.6" r="4.1"/><circle cx="150.5" cy="273.1" r="4.2"/><circle cx="151.3" cy="274.2" r="4.1"/><circle cx="152.1" cy="274.9" r="4.0"/><circle cx="152.9" cy="276.0" r="4.1"/><circle cx="153.7" cy="277.6" r="4.3"/><circle cx="154.5" cy="278.6" r="4.3"/><circle cx="155.3" cy="279.7" r="4.1"/><circle cx="156.1" cy="280.7" r="3.8"/><circle cx="156.9" cy="281.7" r="4.1"/><circle cx="157.7" cy="282.5" r="4.0"/><circle cx="158.5" cy="284.2" r="4.0"/><circle cx="159.3" cy="285.1" r="3.9"/><circle cx="160.1" cy="285.9" r="4.2"/><circle cx="160.9" cy="286.8" r="3.8"/><circle cx="161.7" cy="288.4" r="4.0"/><circle cx="162.5" cy="289.1" r="4.0"/><circle cx="163.3" cy="290.4" r="4.0"/><circle cx="164.1" cy="291.5" r="4.0"/><circle cx="164.9" cy="292.7" r="3.9"/><circle cx="165.7" cy="293.3" r="3.9"/><circle cx="166.5" cy="295.0" r="4.0"/><circle cx="167.3" cy="295.3" r="4.2"/><circle cx="168.1" cy="296.4" r="3.9"/><circle cx="168.9" cy="297.5" r="4.0"/><circle cx="169.7" cy="298.4" r="4.1"/><circle cx="170.5" cy="299.0" r="4.2"/><circle cx="171.3" cy="299.8" r="4.2"/><circle cx="172.1" cy="300.9" r="4.0"/><circle cx="172.9" cy="301.5" r="4.0"/><circle cx="173.7" cy="302.2" r="4.4"/><circle cx="174.5" cy="303.0" r="4.3"/><circle cx="175.3" cy="303.8" r="4.1"/><circle cx="176.2" cy="304.5" r="4.4"/><circle cx="177.0" cy="304.4" r="4.5"/><circle cx="177.8" cy="305.1" r="4.2"/><circle cx="178.6" cy="306.0" r="4.4"/><circle cx="179.4" cy="306.2" r="4.2"/><circle cx="180.2" cy="306.6" r="4.2"/><circle cx="181.0" cy="306.4" r="4.4"/><circle cx="181.8" cy="306.5" r="4.5"/><circle cx="182.6" cy="306.9" r="4.4"/><circle cx="183.4" cy="307.5" r="4.4"/><circle cx="184.2" cy="307.7" r="4.5"/><circle cx="185.0" cy="307.8" r="4.5"/><circle cx="185.8" cy="307.8" r="4.6"/><circle cx="186.6" cy="307.2" r="4.6"/><circle cx="187.4" cy="307.3" r="4.6"/><circle cx="188.2" cy="307.4" r="4.6"/><circle cx="189.0" cy="306.8" r="4.4"/><circle cx="189.8" cy="307.1" r="4.6"/><circle cx="190.6" cy="306.8" r="4.2"/><circle cx="191.4" cy="306.4" r="4.2"/><circle cx="192.2" cy="306.0" r="4.5"/><circle cx="193.0" cy="305.3" r="4.6"/><circle cx="193.8" cy="305.3" r="4.2"/><circle cx="194.6" cy="304.4" r="4.3"/><circle cx="195.4" cy="304.4" r="4.3"/><circle cx="196.2" cy="303.3" r="4.1"/><circle cx="197.0" cy="302.6" r="4.4"/><circle cx="197.8" cy="302.0" r="4.2"/><circle cx="198.6" cy="301.4" r="4.3"/><circle cx="199.4" cy="300.8" r="4.0"/><circle cx="200.2" cy="300.4" r="4.2"/><circle cx="201.0" cy="299.4" r="4.3"/><circle cx="201.8" cy="298.8" r="3.9"/><circle cx="202.6" cy="297.4" r="3.9"/><circle cx="203.4" cy="296.6" r="4.2"/><circle cx="204.2" cy="295.9" r="3.8"/><circle cx="205.0" cy="294.4" r="4.2"/><circle cx="205.8" cy="293.8" r="4.0"/><circle cx="206.6" cy="292.6" r="3.8"/><circle cx="207.4" cy="291.8" r="3.9"/><circle cx="208.2" cy="290.8" r="4.0"/><circle cx="209.0" cy="289.1" r="3.9"/><circle cx="209.8" cy="288.1" r="4.2"/><circle cx="210.6" cy="287.3" r="3.8"/><circle cx="211.4" cy="285.8" r="3.9"/><circle cx="212.2" cy="284.9" r="4.0"/><circle cx="213.0" cy="283.7" r="3.9"/><circle cx="213.8" cy="282.3" r="4.0"/><circle cx="214.7" cy="281.4" r="3.8"/><circle cx="215.5" cy="280.4" r="4.3"/><circle cx="216.3" cy="279.0" r="3.9"/><circle cx="217.1" cy="278.4" r="4.0"/><circle cx="217.9" cy="277.0" r="4.1"/><circle cx="218.7" cy="276.0" r="4.2"/><circle cx="219.5" cy="275.2" r="4.4"/><circle cx="220.3" cy="274.6" r="4.0"/><circle cx="221.1" cy="273.3" r="4.3"/><circle cx="221.9" cy="272.6" r="4.3"/><circle cx="222.7" cy="271.5" r="4.3"/><circle cx="223.5" cy="270.5" r="4.2"/><circle cx="224.3" cy="270.1" r="4.5"/><circle cx="225.1" cy="269.5" r="4.4"/><circle cx="225.9" cy="268.3" r="4.5"/><circle cx="226.7" cy="268.0" r="4.4"/><circle cx="227.5" cy="267.4" r="4.3"/><circle cx="228.3" cy="266.8" r="4.4"/><circle cx="229.1" cy="266.0" r="4.4"/><circle cx="229.9" cy="265.8" r="4.7"/><circle cx="230.7" cy="265.6" r="4.4"/><circle cx="231.5" cy="265.2" r="4.3"/><circle cx="232.3" cy="265.1" r="4.3"/><circle cx="48.9" cy="269.4" r="4.1"/><circle cx="50.0" cy="270.7" r="4.0"/><circle cx="51.0" cy="271.8" r="3.9"/><circle cx="52.1" cy="272.7" r="3.8"/><circle cx="53.2" cy="274.1" r="3.9"/><circle cx="54.2" cy="275.9" r="4.0"/><circle cx="55.3" cy="277.7" r="3.9"/><circle cx="56.4" cy="279.3" r="4.0"/><circle cx="57.4" cy="280.4" r="3.8"/><circle cx="58.5" cy="282.6" r="4.2"/><circle cx="59.6" cy="284.2" r="4.1"/><circle cx="60.6" cy="286.1" r="4.1"/><circle cx="61.7" cy="287.6" r="4.0"/><circle cx="62.8" cy="290.0" r="3.9"/><circle cx="63.9" cy="291.2" r="3.8"/><circle cx="64.9" cy="292.7" r="3.9"/><circle cx="66.0" cy="294.6" r="3.8"/><circle cx="67.1" cy="295.7" r="3.8"/><circle cx="68.1" cy="297.1" r="4.1"/><circle cx="69.2" cy="298.3" r="3.8"/><circle cx="70.3" cy="299.4" r="4.2"/><circle cx="71.3" cy="300.3" r="3.8"/><circle cx="72.4" cy="301.4" r="4.1"/><circle cx="73.5" cy="301.8" r="3.8"/><circle cx="74.6" cy="302.5" r="4.0"/><circle cx="75.6" cy="303.7" r="4.0"/><circle cx="76.7" cy="304.5" r="3.8"/><circle cx="77.8" cy="304.7" r="4.1"/><circle cx="78.8" cy="305.6" r="3.9"/><circle cx="79.9" cy="306.2" r="3.9"/><circle cx="81.0" cy="306.3" r="3.9"/><circle cx="82.0" cy="306.9" r="4.0"/><circle cx="97.0" cy="307.1" r="4.0"/><circle cx="98.1" cy="306.8" r="3.9"/><circle cx="99.2" cy="306.1" r="3.8"/><circle cx="100.2" cy="305.8" r="4.0"/><circle cx="101.3" cy="305.2" r="3.8"/><circle cx="102.4" cy="304.2" r="4.1"/><circle cx="103.4" cy="303.3" r="3.8"/><circle cx="104.5" cy="302.4" r="3.8"/><circle cx="105.6" cy="302.1" r="3.8"/><circle cx="106.6" cy="301.4" r="3.9"/><circle cx="107.7" cy="300.3" r="4.0"/><circle cx="108.8" cy="299.3" r="4.0"/><circle cx="109.8" cy="298.3" r="3.9"/><circle cx="110.9" cy="297.2" r="3.9"/><circle cx="112.0" cy="296.0" r="4.1"/><circle cx="113.1" cy="294.6" r="3.9"/><circle cx="114.1" cy="293.2" r="4.2"/><circle cx="115.2" cy="291.3" r="3.9"/><circle cx="116.3" cy="289.7" r="4.2"/><circle cx="117.3" cy="287.7" r="3.8"/><circle cx="118.4" cy="286.1" r="4.0"/><circle cx="119.5" cy="284.6" r="3.9"/><circle cx="120.5" cy="282.9" r="3.9"/><circle cx="121.6" cy="280.9" r="3.8"/><circle cx="122.7" cy="278.6" r="3.8"/><circle cx="123.7" cy="277.0" r="4.0"/><circle cx="124.8" cy="275.8" r="3.8"/><circle cx="125.9" cy="274.7" r="3.9"/><circle cx="127.0" cy="272.7" r="3.8"/><circle cx="128.0" cy="272.0" r="4.2"/><circle cx="129.1" cy="270.5" r="3.8"/><circle cx="130.2" cy="270.1" r="3.9"/><circle cx="145.1" cy="270.2" r="4.0"/><circle cx="146.2" cy="270.9" r="3.9"/><circle cx="147.3" cy="272.0" r="4.0"/><circle cx="148.3" cy="272.8" r="4.2"/><circle cx="149.4" cy="274.0" r="4.1"/><circle cx="150.5" cy="275.4" r="4.0"/><circle cx="151.6" cy="277.2" r="4.1"/><circle cx="152.6" cy="278.6" r="4.0"/><circle cx="153.7" cy="280.7" r="4.2"/><circle cx="154.8" cy="282.9" r="4.0"/><circle cx="155.8" cy="284.1" r="3.9"/><circle cx="156.9" cy="286.0" r="3.9"/><circle cx="158.0" cy="287.7" r="3.8"/><circle cx="159.0" cy="289.9" r="4.0"/><circle cx="160.1" cy="291.2" r="4.2"/><circle cx="161.2" cy="292.7" r="4.0"/><circle cx="162.2" cy="294.1" r="4.1"/><circle cx="163.3" cy="296.1" r="3.9"/><circle cx="164.4" cy="297.3" r="4.1"/><circle cx="165.5" cy="298.0" r="3.9"/><circle cx="166.5" cy="299.3" r="4.2"/><circle cx="167.6" cy="300.0" r="4.1"/><circle cx="168.7" cy="301.2" r="4.0"/><circle cx="169.7" cy="302.0" r="4.1"/><circle cx="170.8" cy="302.5" r="4.1"/><circle cx="171.9" cy="303.3" r="4.1"/><circle cx="172.9" cy="304.4" r="3.8"/><circle cx="174.0" cy="305.1" r="4.2"/><circle cx="175.1" cy="305.3" r="3.8"/><circle cx="176.2" cy="305.8" r="4.2"/><circle cx="177.2" cy="306.3" r="4.2"/><circle cx="178.3" cy="307.0" r="4.1"/><circle cx="193.3" cy="307.0" r="3.8"/><circle cx="194.3" cy="306.9" r="3.8"/><circle cx="195.4" cy="306.0" r="4.2"/><circle cx="196.5" cy="305.6" r="4.1"/><circle cx="197.5" cy="305.2" r="3.8"/><circle cx="198.6" cy="303.9" r="4.1"/><circle cx="199.7" cy="303.6" r="3.8"/><circle cx="200.7" cy="302.7" r="3.9"/><circle cx="201.8" cy="301.9" r="3.8"/><circle cx="202.9" cy="300.7" r="4.2"/><circle cx="204.0" cy="300.1" r="4.1"/><circle cx="205.0" cy="299.0" r="4.0"/><circle cx="206.1" cy="297.9" r="3.9"/><circle cx="207.2" cy="296.8" r="4.1"/><circle cx="208.2" cy="295.5" r="4.1"/><circle cx="209.3" cy="294.4" r="3.8"/><circle cx="210.4" cy="292.8" r="4.0"/><circle cx="211.4" cy="291.7" r="3.9"/><circle cx="212.5" cy="289.5" r="4.2"/><circle cx="213.6" cy="288.3" r="4.1"/><circle cx="214.7" cy="286.0" r="3.8"/><circle cx="215.7" cy="284.2" r="3.8"/><circle cx="216.8" cy="282.2" r="4.0"/><circle cx="217.9" cy="280.7" r="4.0"/><circle cx="218.9" cy="278.9" r="3.8"/><circle cx="220.0" cy="277.5" r="4.0"/><circle cx="221.1" cy="275.8" r="4.0"/><circle cx="222.1" cy="274.5" r="4.2"/><circle cx="223.2" cy="273.3" r="4.1"/><circle cx="224.3" cy="271.7" r="3.9"/><circle cx="225.3" cy="270.7" r="4.2"/><circle cx="226.4" cy="269.8" r="3.9"/></g>
<g fill="#38386e"><circle cx="35.8" cy="266.8" r="3.6"/><circle cx="36.6" cy="266.1" r="3.4"/><circle cx="37.4" cy="265.8" r="3.4"/><circle cx="38.2" cy="266.0" r="3.5"/><circle cx="39.0" cy="265.5" r="3.4"/><circle cx="39.8" cy="265.3" r="3.5"/><circle cx="40.6" cy="265.1" r="3.4"/><circle cx="41.4" cy="264.8" r="3.7"/><circle cx="42.2" cy="265.0" r="3.5"/><circle cx="43.0" cy="265.0" r="3.5"/><circle cx="43.8" cy="265.2" r="3.4"/><circle cx="44.6" cy="265.8" r="3.5"/><circle cx="45.4" cy="265.7" r="3.6"/><circle cx="46.2" cy="266.0" r="3.4"/><circle cx="47.0" cy="267.0" r="3.3"/><circle cx="47.8" cy="267.2" r="3.6"/><circle cx="48.6" cy="268.1" r="3.3"/><circle cx="49.4" cy="268.3" r="3.6"/><circle cx="50.2" cy="269.0" r="3.6"/><circle cx="51.0" cy="269.6" r="3.6"/><circle cx="51.8" cy="270.6" r="3.3"/><circle cx="52.6" cy="271.4" r="3.2"/><circle cx="53.4" cy="272.5" r="3.2"/><circle cx="54.2" cy="273.5" r="3.3"/><circle cx="55.0" cy="274.1" r="3.2"/><circle cx="55.8" cy="275.2" r="3.1"/><circle cx="56.6" cy="276.5" r="3.1"/><circle cx="57.4" cy="277.2" r="3.2"/><circle cx="58.2" cy="278.1" r="3.3"/><circle cx="59.0" cy="279.3" r="3.2"/><circle cx="59.8" cy="280.5" r="3.1"/><circle cx="60.6" cy="281.5" r="2.9"/><circle cx="61.5" cy="282.4" r="3.3"/><circle cx="62.3" cy="283.7" r="3.2"/><circle cx="63.1" cy="284.6" r="3.1"/><circle cx="63.9" cy="286.0" r="3.1"/><circle cx="64.7" cy="287.0" r="2.9"/><circle cx="65.5" cy="288.1" r="3.0"/><circle cx="66.3" cy="289.1" r="3.2"/><circle cx="67.1" cy="290.3" r="3.0"/><circle cx="67.9" cy="291.9" r="3.2"/><circle cx="68.7" cy="292.9" r="3.3"/><circle cx="69.5" cy="293.4" r="3.0"/><circle cx="70.3" cy="294.3" r="3.2"/><circle cx="71.1" cy="295.8" r="3.1"/><circle cx="71.9" cy="296.5" r="3.2"/><circle cx="72.7" cy="297.7" r="3.1"/><circle cx="73.5" cy="298.7" r="3.1"/><circle cx="74.3" cy="299.4" r="3.1"/><circle cx="75.1" cy="299.8" r="3.4"/><circle cx="75.9" cy="301.0" r="3.4"/><circle cx="76.7" cy="301.2" r="3.1"/><circle cx="77.5" cy="302.0" r="3.2"/><circle cx="78.3" cy="302.8" r="3.3"/><circle cx="79.1" cy="303.2" r="3.3"/><circle cx="79.9" cy="304.3" r="3.3"/><circle cx="80.7" cy="304.9" r="3.5"/><circle cx="81.5" cy="305.3" r="3.3"/><circle cx="82.3" cy="305.5" r="3.6"/><circle cx="83.1" cy="305.9" r="3.3"/><circle cx="83.9" cy="306.6" r="3.6"/><circle cx="84.7" cy="306.5" r="3.3"/><circle cx="85.5" cy="307.2" r="3.6"/><circle cx="86.3" cy="306.8" r="3.4"/><circle cx="87.1" cy="307.0" r="3.7"/><circle cx="87.9" cy="307.2" r="3.8"/><circle cx="88.7" cy="307.7" r="3.4"/><circle cx="89.5" cy="307.7" r="3.5"/><circle cx="90.3" cy="307.7" r="3.7"/><circle cx="91.1" cy="307.2" r="3.4"/><circle cx="91.9" cy="307.6" r="3.5"/><circle cx="92.7" cy="307.5" r="3.6"/><circle cx="93.5" cy="307.1" r="3.7"/><circle cx="94.3" cy="306.8" r="3.5"/><circle cx="95.1" cy="306.0" r="3.6"/><circle cx="95.9" cy="305.9" r="3.5"/><circle cx="96.7" cy="305.9" r="3.3"/><circle cx="97.5" cy="305.4" r="3.2"/><circle cx="98.3" cy="304.8" r="3.6"/><circle cx="99.2" cy="304.0" r="3.4"/><circle cx="100.0" cy="303.9" r="3.4"/><circle cx="100.8" cy="303.0" r="3.2"/><circle cx="101.6" cy="301.9" r="3.3"/><circle cx="102.4" cy="301.5" r="3.2"/><circle cx="103.2" cy="300.7" r="3.1"/><circle cx="104.0" cy="300.2" r="3.3"/><circle cx="104.8" cy="299.0" r="3.1"/><circle cx="105.6" cy="298.4" r="3.2"/><circle cx="106.4" cy="297.9" r="3.1"/><circle cx="107.2" cy="296.4" r="3.3"/><circle cx="108.0" cy="295.4" r="3.2"/><circle cx="108.8" cy="294.5" r="3.3"/><circle cx="109.6" cy="293.7" r="3.2"/><circle cx="110.4" cy="292.4" r="3.2"/><circle cx="111.2" cy="291.6" r="3.1"/><circle cx="112.0" cy="290.7" r="3.2"/><circle cx="112.8" cy="289.1" r="3.0"/><circle cx="113.6" cy="288.2" r="2.9"/><circle cx="114.4" cy="286.8" r="3.0"/><circle cx="115.2" cy="285.8" r="3.2"/><circle cx="116.0" cy="284.9" r="2.9"/><circle cx="116.8" cy="283.7" r="3.1"/><circle cx="117.6" cy="282.6" r="3.0"/><circle cx="118.4" cy="281.2" r="2.9"/><circle cx="119.2" cy="280.8" r="3.3"/><circle cx="120.0" cy="279.0" r="3.3"/><circle cx="120.8" cy="278.6" r="3.2"/><circle cx="121.6" cy="276.9" r="3.2"/><circle cx="122.4" cy="276.1" r="3.1"/><circle cx="123.2" cy="275.2" r="3.0"/><circle cx="124.0" cy="274.5" r="3.3"/><circle cx="124.8" cy="273.3" r="3.5"/><circle cx="125.6" cy="272.4" r="3.2"/><circle cx="126.4" cy="271.2" r="3.2"/><circle cx="127.2" cy="270.2" r="3.5"/><circle cx="128.0" cy="270.1" r="3.3"/><circle cx="128.8" cy="268.9" r="3.5"/><circle cx="129.6" cy="268.7" r="3.6"/><circle cx="130.4" cy="267.6" r="3.6"/><circle cx="131.2" cy="267.5" r="3.6"/><circle cx="132.0" cy="266.6" r="3.4"/><circle cx="132.8" cy="266.6" r="3.4"/><circle cx="133.6" cy="265.9" r="3.6"/><circle cx="134.4" cy="265.5" r="3.7"/><circle cx="135.2" cy="265.2" r="3.4"/><circle cx="136.0" cy="265.3" r="3.6"/><circle cx="136.8" cy="265.4" r="3.7"/><circle cx="137.7" cy="265.4" r="3.8"/><circle cx="138.5" cy="265.1" r="3.6"/><circle cx="139.3" cy="265.0" r="3.5"/><circle cx="140.1" cy="265.5" r="3.4"/><circle cx="140.9" cy="265.8" r="3.4"/><circle cx="141.7" cy="265.9" r="3.8"/><circle cx="142.5" cy="266.0" r="3.3"/><circle cx="143.3" cy="266.7" r="3.4"/><circle cx="144.1" cy="267.4" r="3.3"/><circle cx="144.9" cy="268.1" r="3.6"/><circle cx="145.7" cy="268.7" r="3.4"/><circle cx="146.5" cy="268.9" r="3.5"/><circle cx="147.3" cy="269.9" r="3.4"/><circle cx="148.1" cy="270.5" r="3.3"/><circle cx="148.9" cy="271.6" r="3.5"/><circle cx="149.7" cy="272.6" r="3.2"/><circle cx="150.5" cy="273.1" r="3.3"/><circle cx="151.3" cy="274.2" r="3.2"/><circle cx="152.1" cy="274.9" r="3.1"/><circle cx="152.9" cy="276.0" r="3.2"/><circle cx="153.7" cy="277.6" r="3.4"/><circle cx="154.5" cy="278.6" r="3.4"/><circle cx="155.3" cy="279.7" r="3.2"/><circle cx="156.1" cy="280.7" r="2.9"/><circle cx="156.9" cy="281.7" r="3.2"/><circle cx="157.7" cy="282.5" r="3.1"/><circle cx="158.5" cy="284.2" r="3.1"/><circle cx="159.3" cy="285.1" r="3.0"/><circle cx="160.1" cy="285.9" r="3.3"/><circle cx="160.9" cy="286.8" r="2.9"/><circle cx="161.7" cy="288.4" r="3.1"/><circle cx="162.5" cy="289.1" r="3.1"/><circle cx="163.3" cy="290.4" r="3.1"/><circle cx="164.1" cy="291.5" r="3.1"/><circle cx="164.9" cy="292.7" r="3.0"/><circle cx="165.7" cy="293.3" r="3.0"/><circle cx="166.5" cy="295.0" r="3.1"/><circle cx="167.3" cy="295.3" r="3.3"/><circle cx="168.1" cy="296.4" r="3.0"/><circle cx="168.9" cy="297.5" r="3.1"/><circle cx="169.7" cy="298.4" r="3.2"/><circle cx="170.5" cy="299.0" r="3.3"/><circle cx="171.3" cy="299.8" r="3.3"/><circle cx="172.1" cy="300.9" r="3.1"/><circle cx="172.9" cy="301.5" r="3.1"/><circle cx="173.7" cy="302.2" r="3.5"/><circle cx="174.5" cy="303.0" r="3.4"/><circle cx="175.3" cy="303.8" r="3.2"/><circle cx="176.2" cy="304.5" r="3.5"/><circle cx="177.0" cy="304.4" r="3.6"/><circle cx="177.8" cy="305.1" r="3.3"/><circle cx="178.6" cy="306.0" r="3.5"/><circle cx="179.4" cy="306.2" r="3.3"/><circle cx="180.2" cy="306.6" r="3.3"/><circle cx="181.0" cy="306.4" r="3.5"/><circle cx="181.8" cy="306.5" r="3.6"/><circle cx="182.6" cy="306.9" r="3.5"/><circle cx="183.4" cy="307.5" r="3.5"/><circle cx="184.2" cy="307.7" r="3.6"/><circle cx="185.0" cy="307.8" r="3.6"/><circle cx="185.8" cy="307.8" r="3.7"/><circle cx="186.6" cy="307.2" r="3.7"/><circle cx="187.4" cy="307.3" r="3.7"/><circle cx="188.2" cy="307.4" r="3.7"/><circle cx="189.0" cy="306.8" r="3.5"/><circle cx="189.8" cy="307.1" r="3.7"/><circle cx="190.6" cy="306.8" r="3.3"/><circle cx="191.4" cy="306.4" r="3.3"/><circle cx="192.2" cy="306.0" r="3.6"/><circle cx="193.0" cy="305.3" r="3.7"/><circle cx="193.8" cy="305.3" r="3.3"/><circle cx="194.6" cy="304.4" r="3.4"/><circle cx="195.4" cy="304.4" r="3.4"/><circle cx="196.2" cy="303.3" r="3.2"/><circle cx="197.0" cy="302.6" r="3.5"/><circle cx="197.8" cy="302.0" r="3.3"/><circle cx="198.6" cy="301.4" r="3.4"/><circle cx="199.4" cy="300.8" r="3.1"/><circle cx="200.2" cy="300.4" r="3.3"/><circle cx="201.0" cy="299.4" r="3.4"/><circle cx="201.8" cy="298.8" r="3.0"/><circle cx="202.6" cy="297.4" r="3.0"/><circle cx="203.4" cy="296.6" r="3.3"/><circle cx="204.2" cy="295.9" r="2.9"/><circle cx="205.0" cy="294.4" r="3.3"/><circle cx="205.8" cy="293.8" r="3.1"/><circle cx="206.6" cy="292.6" r="2.9"/><circle cx="207.4" cy="291.8" r="3.0"/><circle cx="208.2" cy="290.8" r="3.1"/><circle cx="209.0" cy="289.1" r="3.0"/><circle cx="209.8" cy="288.1" r="3.3"/><circle cx="210.6" cy="287.3" r="2.9"/><circle cx="211.4" cy="285.8" r="3.0"/><circle cx="212.2" cy="284.9" r="3.1"/><circle cx="213.0" cy="283.7" r="3.0"/><circle cx="213.8" cy="282.3" r="3.1"/><circle cx="214.7" cy="281.4" r="2.9"/><circle cx="215.5" cy="280.4" r="3.4"/><circle cx="216.3" cy="279.0" r="3.0"/><circle cx="217.1" cy="278.4" r="3.1"/><circle cx="217.9" cy="277.0" r="3.2"/><circle cx="218.7" cy="276.0" r="3.3"/><circle cx="219.5" cy="275.2" r="3.5"/><circle cx="220.3" cy="274.6" r="3.1"/><circle cx="221.1" cy="273.3" r="3.4"/><circle cx="221.9" cy="272.6" r="3.4"/><circle cx="222.7" cy="271.5" r="3.4"/><circle cx="223.5" cy="270.5" r="3.3"/><circle cx="224.3" cy="270.1" r="3.6"/><circle cx="225.1" cy="269.5" r="3.5"/><circle cx="225.9" cy="268.3" r="3.6"/><circle cx="226.7" cy="268.0" r="3.5"/><circle cx="227.5" cy="267.4" r="3.4"/><circle cx="228.3" cy="266.8" r="3.5"/><circle cx="229.1" cy="266.0" r="3.5"/><circle cx="229.9" cy="265.8" r="3.8"/><circle cx="230.7" cy="265.6" r="3.5"/><circle cx="231.5" cy="265.2" r="3.4"/><circle cx="232.3" cy="265.1" r="3.4"/><circle cx="48.9" cy="269.4" r="3.2"/><circle cx="50.0" cy="270.7" r="3.1"/><circle cx="51.0" cy="271.8" r="3.0"/><circle cx="52.1" cy="272.7" r="2.9"/><circle cx="53.2" cy="274.1" r="3.0"/><circle cx="54.2" cy="275.9" r="3.1"/><circle cx="55.3" cy="277.7" r="3.0"/><circle cx="56.4" cy="279.3" r="3.1"/><circle cx="57.4" cy="280.4" r="2.9"/><circle cx="58.5" cy="282.6" r="3.3"/><circle cx="59.6" cy="284.2" r="3.2"/><circle cx="60.6" cy="286.1" r="3.2"/><circle cx="61.7" cy="287.6" r="3.1"/><circle cx="62.8" cy="290.0" r="3.0"/><circle cx="63.9" cy="291.2" r="2.9"/><circle cx="64.9" cy="292.7" r="3.0"/><circle cx="66.0" cy="294.6" r="2.9"/><circle cx="67.1" cy="295.7" r="2.9"/><circle cx="68.1" cy="297.1" r="3.2"/><circle cx="69.2" cy="298.3" r="2.9"/><circle cx="70.3" cy="299.4" r="3.3"/><circle cx="71.3" cy="300.3" r="2.9"/><circle cx="72.4" cy="301.4" r="3.2"/><circle cx="73.5" cy="301.8" r="2.9"/><circle cx="74.6" cy="302.5" r="3.1"/><circle cx="75.6" cy="303.7" r="3.1"/><circle cx="76.7" cy="304.5" r="2.9"/><circle cx="77.8" cy="304.7" r="3.2"/><circle cx="78.8" cy="305.6" r="3.0"/><circle cx="79.9" cy="306.2" r="3.0"/><circle cx="81.0" cy="306.3" r="3.0"/><circle cx="82.0" cy="306.9" r="3.1"/><circle cx="97.0" cy="307.1" r="3.1"/><circle cx="98.1" cy="306.8" r="3.0"/><circle cx="99.2" cy="306.1" r="2.9"/><circle cx="100.2" cy="305.8" r="3.1"/><circle cx="101.3" cy="305.2" r="2.9"/><circle cx="102.4" cy="304.2" r="3.2"/><circle cx="103.4" cy="303.3" r="2.9"/><circle cx="104.5" cy="302.4" r="2.9"/><circle cx="105.6" cy="302.1" r="2.9"/><circle cx="106.6" cy="301.4" r="3.0"/><circle cx="107.7" cy="300.3" r="3.1"/><circle cx="108.8" cy="299.3" r="3.1"/><circle cx="109.8" cy="298.3" r="3.0"/><circle cx="110.9" cy="297.2" r="3.0"/><circle cx="112.0" cy="296.0" r="3.2"/><circle cx="113.1" cy="294.6" r="3.0"/><circle cx="114.1" cy="293.2" r="3.3"/><circle cx="115.2" cy="291.3" r="3.0"/><circle cx="116.3" cy="289.7" r="3.3"/><circle cx="117.3" cy="287.7" r="2.9"/><circle cx="118.4" cy="286.1" r="3.1"/><circle cx="119.5" cy="284.6" r="3.0"/><circle cx="120.5" cy="282.9" r="3.0"/><circle cx="121.6" cy="280.9" r="2.9"/><circle cx="122.7" cy="278.6" r="2.9"/><circle cx="123.7" cy="277.0" r="3.1"/><circle cx="124.8" cy="275.8" r="2.9"/><circle cx="125.9" cy="274.7" r="3.0"/><circle cx="127.0" cy="272.7" r="2.9"/><circle cx="128.0" cy="272.0" r="3.3"/><circle cx="129.1" cy="270.5" r="2.9"/><circle cx="130.2" cy="270.1" r="3.0"/><circle cx="145.1" cy="270.2" r="3.1"/><circle cx="146.2" cy="270.9" r="3.0"/><circle cx="147.3" cy="272.0" r="3.1"/><circle cx="148.3" cy="272.8" r="3.3"/><circle cx="149.4" cy="274.0" r="3.2"/><circle cx="150.5" cy="275.4" r="3.1"/><circle cx="151.6" cy="277.2" r="3.2"/><circle cx="152.6" cy="278.6" r="3.1"/><circle cx="153.7" cy="280.7" r="3.3"/><circle cx="154.8" cy="282.9" r="3.1"/><circle cx="155.8" cy="284.1" r="3.0"/><circle cx="156.9" cy="286.0" r="3.0"/><circle cx="158.0" cy="287.7" r="2.9"/><circle cx="159.0" cy="289.9" r="3.1"/><circle cx="160.1" cy="291.2" r="3.3"/><circle cx="161.2" cy="292.7" r="3.1"/><circle cx="162.2" cy="294.1" r="3.2"/><circle cx="163.3" cy="296.1" r="3.0"/><circle cx="164.4" cy="297.3" r="3.2"/><circle cx="165.5" cy="298.0" r="3.0"/><circle cx="166.5" cy="299.3" r="3.3"/><circle cx="167.6" cy="300.0" r="3.2"/><circle cx="168.7" cy="301.2" r="3.1"/><circle cx="169.7" cy="302.0" r="3.2"/><circle cx="170.8" cy="302.5" r="3.2"/><circle cx="171.9" cy="303.3" r="3.2"/><circle cx="172.9" cy="304.4" r="2.9"/><circle cx="174.0" cy="305.1" r="3.3"/><circle cx="175.1" cy="305.3" r="2.9"/><circle cx="176.2" cy="305.8" r="3.3"/><circle cx="177.2" cy="306.3" r="3.3"/><circle cx="178.3" cy="307.0" r="3.2"/><circle cx="193.3" cy="307.0" r="2.9"/><circle cx="194.3" cy="306.9" r="2.9"/><circle cx="195.4" cy="306.0" r="3.3"/><circle cx="196.5" cy="305.6" r="3.2"/><circle cx="197.5" cy="305.2" r="2.9"/><circle cx="198.6" cy="303.9" r="3.2"/><circle cx="199.7" cy="303.6" r="2.9"/><circle cx="200.7" cy="302.7" r="3.0"/><circle cx="201.8" cy="301.9" r="2.9"/><circle cx="202.9" cy="300.7" r="3.3"/><circle cx="204.0" cy="300.1" r="3.2"/><circle cx="205.0" cy="299.0" r="3.1"/><circle cx="206.1" cy="297.9" r="3.0"/><circle cx="207.2" cy="296.8" r="3.2"/><circle cx="208.2" cy="295.5" r="3.2"/><circle cx="209.3" cy="294.4" r="2.9"/><circle cx="210.4" cy="292.8" r="3.1"/><circle cx="211.4" cy="291.7" r="3.0"/><circle cx="212.5" cy="289.5" r="3.3"/><circle cx="213.6" cy="288.3" r="3.2"/><circle cx="214.7" cy="286.0" r="2.9"/><circle cx="215.7" cy="284.2" r="2.9"/><circle cx="216.8" cy="282.2" r="3.1"/><circle cx="217.9" cy="280.7" r="3.1"/><circle cx="218.9" cy="278.9" r="2.9"/><circle cx="220.0" cy="277.5" r="3.1"/><circle cx="221.1" cy="275.8" r="3.1"/><circle cx="222.1" cy="274.5" r="3.3"/><circle cx="223.2" cy="273.3" r="3.2"/><circle cx="224.3" cy="271.7" r="3.0"/><circle cx="225.3" cy="270.7" r="3.3"/><circle cx="226.4" cy="269.8" r="3.0"/></g>
<path d="M34.4,269.2 35.0,268.9 35.5,268.6 36.1,268.4 36.6,268.1 37.1,267.9 37.7,267.7 38.2,267.6 38.7,267.4 39.3,267.3 39.8,267.2 40.3,267.2 40.9,267.1 41.4,267.1 41.9,267.1 42.5,267.2 43.0,267.2 43.5,267.3 44.1,267.4 44.6,267.6 45.1,267.7 45.7,267.9 46.2,268.1 46.7,268.4 47.3,268.6 47.8,268.9 48.4,269.2 48.9,269.6 49.4,269.9 50.0,270.3 50.5,270.7 51.0,271.1 51.6,271.6 52.1,272.1 52.6,272.5 53.2,273.0 53.7,273.6 54.2,274.1 54.8,274.7 55.3,275.2 55.8,275.8 56.4,276.4 56.9,277.1 57.4,277.7 58.0,278.3 58.5,279.0 59.0,279.7 59.6,280.4 60.1,281.0 60.6,281.7 61.2,282.5 61.7,283.2 62.3,283.9 62.8,284.6 63.3,285.3 63.9,286.1 64.4,286.8 64.9,287.6 65.5,288.3 66.0,289.0 66.5,289.8 67.1,290.5 67.6,291.3 68.1,292.0 68.7,292.7 69.2,293.4 69.7,294.1 70.3,294.9 70.8,295.6 71.3,296.2 71.9,296.9 72.4,297.6 72.9,298.3 73.5,298.9 74.0,299.5 74.6,300.2 75.1,300.8 75.6,301.4 76.2,301.9 76.7,302.5 77.2,303.0 77.8,303.6 78.3,304.1 78.8,304.5 79.4,305.0 79.9,305.5 80.4,305.9 81.0,306.3 81.5,306.7 82.0,307.0 82.6,307.4 83.1,307.7 83.6,308.0 84.2,308.2 84.7,308.5 85.2,308.7 85.8,308.9 86.3,309.0 86.9,309.2 87.4,309.3 87.9,309.4 88.5,309.4 89.0,309.5 89.5,309.5 90.1,309.5 90.6,309.4 91.1,309.4 91.7,309.3 92.2,309.2 92.7,309.0 93.3,308.9 93.8,308.7 94.3,308.5 94.9,308.2 95.4,308.0 95.9,307.7 96.5,307.4 97.0,307.0 97.5,306.7 98.1,306.3 98.6,305.9 99.2,305.5 99.7,305.0 100.2,304.5 100.8,304.1 101.3,303.6 101.8,303.0 102.4,302.5 102.9,301.9 103.4,301.4 104.0,300.8 104.5,300.2 105.0,299.5 105.6,298.9 106.1,298.3 106.6,297.6 107.2,296.9 107.7,296.2 108.2,295.6 108.8,294.9 109.3,294.1 109.8,293.4 110.4,292.7 110.9,292.0 111.4,291.3 112.0,290.5 112.5,289.8 113.1,289.0 113.6,288.3 114.1,287.6 114.7,286.8 115.2,286.1 115.7,285.3 116.3,284.6 116.8,283.9 117.3,283.2 117.9,282.5 118.4,281.7 118.9,281.0 119.5,280.4 120.0,279.7 120.5,279.0 121.1,278.3 121.6,277.7 122.1,277.1 122.7,276.4 123.2,275.8 123.7,275.2 124.3,274.7 124.8,274.1 125.4,273.6 125.9,273.0 126.4,272.5 127.0,272.1 127.5,271.6 128.0,271.1 128.6,270.7 129.1,270.3 129.6,269.9 130.2,269.6 130.7,269.2 131.2,268.9 131.8,268.6 132.3,268.4 132.8,268.1 133.4,267.9 133.9,267.7 134.4,267.6 135.0,267.4 135.5,267.3 136.0,267.2 136.6,267.2 137.1,267.1 137.7,267.1 138.2,267.1 138.7,267.2 139.3,267.2 139.8,267.3 140.3,267.4 140.9,267.6 141.4,267.7 141.9,267.9 142.5,268.1 143.0,268.4 143.5,268.6 144.1,268.9 144.6,269.2 145.1,269.6 145.7,269.9 146.2,270.3 146.7,270.7 147.3,271.1 147.8,271.6 148.3,272.1 148.9,272.5 149.4,273.0 149.9,273.6 150.5,274.1 151.0,274.7 151.6,275.2 152.1,275.8 152.6,276.4 153.2,277.1 153.7,277.7 154.2,278.3 154.8,279.0 155.3,279.7 155.8,280.4 156.4,281.0 156.9,281.7 157.4,282.5 158.0,283.2 158.5,283.9 159.0,284.6 159.6,285.3 160.1,286.1 160.6,286.8 161.2,287.6 161.7,288.3 162.2,289.0 162.8,289.8 163.3,290.5 163.9,291.3 164.4,292.0 164.9,292.7 165.5,293.4 166.0,294.1 166.5,294.9 167.1,295.6 167.6,296.2 168.1,296.9 168.7,297.6 169.2,298.3 169.7,298.9 170.3,299.5 170.8,300.2 171.3,300.8 171.9,301.4 172.4,301.9 172.9,302.5 173.5,303.0 174.0,303.6 174.5,304.1 175.1,304.5 175.6,305.0 176.2,305.5 176.7,305.9 177.2,306.3 177.8,306.7 178.3,307.0 178.8,307.4 179.4,307.7 179.9,308.0 180.4,308.2 181.0,308.5 181.5,308.7 182.0,308.9 182.6,309.0 183.1,309.2 183.6,309.3 184.2,309.4 184.7,309.4 185.2,309.5 185.8,309.5 186.3,309.5 186.8,309.4 187.4,309.4 187.9,309.3 188.4,309.2 189.0,309.0 189.5,308.9 190.1,308.7 190.6,308.5 191.1,308.2 191.7,308.0 192.2,307.7 192.7,307.4 193.3,307.0 193.8,306.7 194.3,306.3 194.9,305.9 195.4,305.5 195.9,305.0 196.5,304.5 197.0,304.1 197.5,303.6 198.1,303.0 198.6,302.5 199.1,301.9 199.7,301.4 200.2,300.8 200.7,300.2 201.3,299.5 201.8,298.9 202.4,298.3 202.9,297.6 203.4,296.9 204.0,296.2 204.5,295.6 205.0,294.9 205.6,294.1 206.1,293.4 206.6,292.7 207.2,292.0 207.7,291.3 208.2,290.5 208.8,289.8 209.3,289.0 209.8,288.3 210.4,287.6 210.9,286.8 211.4,286.1 212.0,285.3 212.5,284.6 213.0,283.9 213.6,283.2 214.1,282.5 214.7,281.7 215.2,281.0 215.7,280.4 216.3,279.7 216.8,279.0 217.3,278.3 217.9,277.7 218.4,277.1 218.9,276.4 219.5,275.8 220.0,275.2 220.5,274.7 221.1,274.1 221.6,273.6 222.1,273.0 222.7,272.5 223.2,272.1 223.7,271.6 224.3,271.1 224.8,270.7 225.3,270.3 225.9,269.9 226.4,269.6 226.9,269.2 227.5,268.9 228.0,268.6 228.6,268.4 229.1,268.1 229.6,267.9 230.2,267.7 230.7,267.6 231.2,267.4 231.8,267.3 232.3,267.2 232.8,267.2 233.4,267.1 233.9,267.1" fill="none" stroke="#000" stroke-width="2.0"/>
<line x1="25.5" y1="265.7" x2="32.0" y2="265.7" stroke="#000" stroke-width="1.8"/>
<line x1="232.8" y1="265.7" x2="250.5" y2="265.7" stroke="#000" stroke-width="1.8"/>
<rect x="25.5" y="31.1" width="225.0" height="317.9" fill="none" stroke="#000" stroke-width="2.1"/>
<line x1="41.4" y1="31.1" x2="41.4" y2="37.1" stroke="#000" stroke-width="1.9"/>
<line x1="41.4" y1="349.0" x2="41.4" y2="343.0" stroke="#000" stroke-width="1.9"/>
<line x1="57.4" y1="31.1" x2="57.4" y2="34.6" stroke="#000" stroke-width="1.9"/>
<line x1="57.4" y1="349.0" x2="57.4" y2="345.5" stroke="#000" stroke-width="1.9"/>
<line x1="73.5" y1="31.1" x2="73.5" y2="34.6" stroke="#000" stroke-width="1.9"/>
<line x1="73.5" y1="349.0" x2="73.5" y2="345.5" stroke="#000" stroke-width="1.9"/>
<line x1="89.5" y1="31.1" x2="89.5" y2="37.1" stroke="#000" stroke-width="1.9"/>
<line x1="89.5" y1="349.0" x2="89.5" y2="343.0" stroke="#000" stroke-width="1.9"/>
<line x1="105.6" y1="31.1" x2="105.6" y2="34.6" stroke="#000" stroke-width="1.9"/>
<line x1="105.6" y1="349.0" x2="105.6" y2="345.5" stroke="#000" stroke-width="1.9"/>
<line x1="121.6" y1="31.1" x2="121.6" y2="34.6" stroke="#000" stroke-width="1.9"/>
<line x1="121.6" y1="349.0" x2="121.6" y2="345.5" stroke="#000" stroke-width="1.9"/>
<line x1="137.7" y1="31.1" x2="137.7" y2="37.1" stroke="#000" stroke-width="1.9"/>
<line x1="137.7" y1="349.0" x2="137.7" y2="343.0" stroke="#000" stroke-width="1.9"/>
<line x1="153.7" y1="31.1" x2="153.7" y2="34.6" stroke="#000" stroke-width="1.9"/>
<line x1="153.7" y1="349.0" x2="153.7" y2="345.5" stroke="#000" stroke-width="1.9"/>
<line x1="169.7" y1="31.1" x2="169.7" y2="34.6" stroke="#000" stroke-width="1.9"/>
<line x1="169.7" y1="349.0" x2="169.7" y2="345.5" stroke="#000" stroke-width="1.9"/>
<line x1="185.8" y1="31.1" x2="185.8" y2="37.1" stroke="#000" stroke-width="1.9"/>
<line x1="185.8" y1="349.0" x2="185.8" y2="343.0" stroke="#000" stroke-width="1.9"/>
<line x1="201.8" y1="31.1" x2="201.8" y2="34.6" stroke="#000" stroke-width="1.9"/>
<line x1="201.8" y1="349.0" x2="201.8" y2="345.5" stroke="#000" stroke-width="1.9"/>
<line x1="217.9" y1="31.1" x2="217.9" y2="34.6" stroke="#000" stroke-width="1.9"/>
<line x1="217.9" y1="349.0" x2="217.9" y2="345.5" stroke="#000" stroke-width="1.9"/>
<line x1="233.9" y1="31.1" x2="233.9" y2="37.1" stroke="#000" stroke-width="1.9"/>
<line x1="233.9" y1="349.0" x2="233.9" y2="343.0" stroke="#000" stroke-width="1.9"/>
<text transform="translate(36.00,371.10) scale(0.980,1)">0</text>
<text transform="translate(78.66,371.10) scale(0.980,1)">90</text>
<text transform="translate(121.10,371.10) scale(0.980,1)">180</text>
<text transform="translate(169.48,371.10) scale(0.980,1)">270</text>
<text transform="translate(217.72,371.10) scale(0.980,1)">360</text>
<g fill="#235f30"><circle cx="306.7" cy="65.7" r="4.3"/><circle cx="307.5" cy="66.0" r="4.2"/><circle cx="308.3" cy="65.6" r="4.7"/><circle cx="309.1" cy="65.2" r="4.5"/><circle cx="309.9" cy="65.3" r="4.4"/><circle cx="310.7" cy="65.2" r="4.3"/><circle cx="311.5" cy="65.8" r="4.6"/><circle cx="312.3" cy="65.9" r="4.3"/><circle cx="313.1" cy="65.9" r="4.4"/><circle cx="313.9" cy="66.0" r="4.5"/><circle cx="314.7" cy="66.0" r="4.6"/><circle cx="315.5" cy="66.0" r="4.5"/><circle cx="316.3" cy="67.0" r="4.4"/><circle cx="317.1" cy="67.2" r="4.6"/><circle cx="317.9" cy="67.3" r="4.4"/><circle cx="318.8" cy="68.1" r="4.3"/><circle cx="319.6" cy="68.5" r="4.3"/><circle cx="320.4" cy="68.8" r="4.3"/><circle cx="321.2" cy="69.5" r="4.2"/><circle cx="322.0" cy="70.0" r="4.2"/><circle cx="322.8" cy="70.2" r="4.2"/><circle cx="323.6" cy="70.9" r="4.4"/><circle cx="324.4" cy="71.6" r="4.2"/><circle cx="325.2" cy="72.3" r="4.1"/><circle cx="326.0" cy="72.7" r="3.9"/><circle cx="326.8" cy="74.0" r="4.1"/><circle cx="327.6" cy="74.3" r="4.1"/><circle cx="328.4" cy="75.2" r="3.9"/><circle cx="329.2" cy="75.4" r="4.2"/><circle cx="330.0" cy="76.4" r="4.1"/><circle cx="330.8" cy="77.4" r="4.2"/><circle cx="331.6" cy="78.1" r="3.8"/><circle cx="332.4" cy="78.5" r="4.1"/><circle cx="333.2" cy="79.5" r="3.8"/><circle cx="334.0" cy="79.7" r="3.9"/><circle cx="334.9" cy="80.4" r="3.9"/><circle cx="335.7" cy="81.7" r="4.0"/><circle cx="336.5" cy="82.1" r="3.8"/><circle cx="337.3" cy="82.7" r="4.2"/><circle cx="338.1" cy="83.6" r="4.0"/><circle cx="338.9" cy="84.1" r="4.2"/><circle cx="339.7" cy="85.0" r="3.9"/><circle cx="340.5" cy="85.5" r="4.0"/><circle cx="341.3" cy="86.0" r="4.0"/><circle cx="342.1" cy="86.4" r="4.0"/><circle cx="342.9" cy="87.0" r="3.9"/><circle cx="343.7" cy="87.4" r="4.2"/><circle cx="344.5" cy="87.8" r="4.0"/><circle cx="345.3" cy="88.8" r="4.1"/><circle cx="346.1" cy="89.0" r="4.1"/><circle cx="346.9" cy="89.8" r="4.1"/><circle cx="347.7" cy="90.1" r="4.4"/><circle cx="348.5" cy="90.1" r="4.3"/><circle cx="349.3" cy="90.9" r="4.4"/><circle cx="350.1" cy="90.9" r="4.1"/><circle cx="351.0" cy="91.3" r="4.3"/><circle cx="351.8" cy="91.8" r="4.3"/><circle cx="352.6" cy="91.8" r="4.5"/><circle cx="353.4" cy="92.3" r="4.4"/><circle cx="354.2" cy="92.1" r="4.5"/><circle cx="355.0" cy="92.7" r="4.3"/><circle cx="355.8" cy="92.8" r="4.6"/><circle cx="356.6" cy="92.4" r="4.5"/><circle cx="357.4" cy="92.4" r="4.3"/><circle cx="358.2" cy="92.8" r="4.4"/><circle cx="359.0" cy="92.6" r="4.5"/><circle cx="359.8" cy="92.9" r="4.6"/><circle cx="360.6" cy="92.1" r="4.5"/><circle cx="361.4" cy="92.3" r="4.4"/><circle cx="362.2" cy="92.5" r="4.4"/><circle cx="363.0" cy="92.0" r="4.6"/><circle cx="363.8" cy="91.8" r="4.4"/><circle cx="364.6" cy="91.6" r="4.5"/><circle cx="365.4" cy="91.5" r="4.5"/><circle cx="366.2" cy="90.9" r="4.1"/><circle cx="367.1" cy="90.8" r="4.4"/><circle cx="367.9" cy="90.6" r="4.4"/><circle cx="368.7" cy="89.7" r="4.2"/><circle cx="369.5" cy="89.2" r="4.4"/><circle cx="370.3" cy="88.8" r="4.0"/><circle cx="371.1" cy="88.9" r="4.2"/><circle cx="371.9" cy="87.8" r="4.3"/><circle cx="372.7" cy="87.8" r="4.1"/><circle cx="373.5" cy="86.8" r="4.2"/><circle cx="374.3" cy="86.5" r="4.1"/><circle cx="375.1" cy="86.4" r="4.2"/><circle cx="375.9" cy="85.7" r="3.9"/><circle cx="376.7" cy="84.6" r="4.0"/><circle cx="377.5" cy="83.7" r="4.2"/><circle cx="378.3" cy="83.3" r="3.9"/><circle cx="379.1" cy="82.6" r="3.9"/><circle cx="379.9" cy="82.4" r="4.0"/><circle cx="380.7" cy="81.4" r="3.9"/><circle cx="381.5" cy="80.3" r="3.9"/><circle cx="382.4" cy="80.3" r="4.1"/><circle cx="383.2" cy="79.6" r="3.9"/><circle cx="384.0" cy="78.3" r="3.8"/><circle cx="384.8" cy="77.9" r="3.9"/><circle cx="385.6" cy="77.1" r="4.0"/><circle cx="386.4" cy="76.5" r="3.9"/><circle cx="387.2" cy="75.9" r="3.9"/><circle cx="388.0" cy="75.3" r="4.1"/><circle cx="388.8" cy="73.9" r="4.0"/><circle cx="389.6" cy="73.6" r="4.0"/><circle cx="390.4" cy="73.0" r="4.0"/><circle cx="391.2" cy="72.1" r="4.3"/><circle cx="392.0" cy="71.5" r="4.2"/><circle cx="392.8" cy="71.3" r="4.2"/><circle cx="393.6" cy="70.4" r="4.4"/><circle cx="394.4" cy="69.8" r="4.4"/><circle cx="395.2" cy="69.0" r="4.2"/><circle cx="396.0" cy="68.9" r="4.1"/><circle cx="396.8" cy="68.6" r="4.1"/><circle cx="397.6" cy="68.0" r="4.2"/><circle cx="398.4" cy="67.8" r="4.4"/><circle cx="399.3" cy="67.3" r="4.4"/><circle cx="400.1" cy="66.9" r="4.5"/><circle cx="400.9" cy="66.3" r="4.3"/><circle cx="401.7" cy="66.4" r="4.3"/><circle cx="402.5" cy="66.3" r="4.3"/><circle cx="403.3" cy="65.4" r="4.3"/><circle cx="404.1" cy="65.8" r="4.7"/><circle cx="404.9" cy="65.4" r="4.5"/><circle cx="405.7" cy="65.2" r="4.7"/><circle cx="406.5" cy="65.5" r="4.3"/><circle cx="407.3" cy="65.1" r="4.6"/><circle cx="408.1" cy="65.1" r="4.6"/><circle cx="408.9" cy="65.4" r="4.3"/><circle cx="409.7" cy="65.8" r="4.4"/><circle cx="410.5" cy="66.0" r="4.3"/><circle cx="411.3" cy="66.5" r="4.3"/><circle cx="412.1" cy="66.7" r="4.3"/><circle cx="412.9" cy="67.0" r="4.6"/><circle cx="413.7" cy="67.0" r="4.2"/><circle cx="414.6" cy="67.4" r="4.4"/><circle cx="415.4" cy="67.7" r="4.3"/><circle cx="416.2" cy="68.0" r="4.3"/><circle cx="417.0" cy="69.0" r="4.2"/><circle cx="417.8" cy="69.5" r="4.1"/><circle cx="418.6" cy="70.1" r="4.1"/><circle cx="419.4" cy="70.8" r="4.4"/><circle cx="420.2" cy="71.4" r="4.2"/><circle cx="421.0" cy="71.5" r="4.1"/><circle cx="421.8" cy="72.5" r="4.1"/><circle cx="422.6" cy="73.3" r="3.9"/><circle cx="423.4" cy="73.6" r="4.2"/><circle cx="424.2" cy="74.4" r="4.1"/><circle cx="425.0" cy="74.7" r="3.9"/><circle cx="425.8" cy="75.5" r="4.2"/><circle cx="426.6" cy="76.7" r="3.9"/><circle cx="427.4" cy="77.5" r="3.8"/><circle cx="428.2" cy="77.9" r="4.2"/><circle cx="429.0" cy="78.4" r="4.2"/><circle cx="429.8" cy="79.4" r="3.8"/><circle cx="430.6" cy="79.9" r="4.0"/><circle cx="431.5" cy="80.5" r="4.1"/><circle cx="432.3" cy="81.2" r="4.1"/><circle cx="433.1" cy="81.9" r="3.8"/><circle cx="433.9" cy="82.8" r="3.8"/><circle cx="434.7" cy="83.5" r="4.1"/><circle cx="435.5" cy="84.2" r="4.0"/><circle cx="436.3" cy="84.4" r="4.0"/><circle cx="437.1" cy="85.0" r="4.1"/><circle cx="437.9" cy="85.7" r="4.1"/><circle cx="438.7" cy="86.4" r="4.0"/><circle cx="439.5" cy="87.2" r="4.0"/><circle cx="440.3" cy="87.4" r="4.3"/><circle cx="441.1" cy="88.0" r="4.3"/><circle cx="441.9" cy="89.0" r="4.2"/><circle cx="442.7" cy="88.8" r="4.0"/><circle cx="443.5" cy="89.9" r="4.1"/><circle cx="444.3" cy="90.0" r="4.3"/><circle cx="445.1" cy="90.0" r="4.3"/><circle cx="445.9" cy="90.4" r="4.3"/><circle cx="446.8" cy="91.0" r="4.3"/><circle cx="447.6" cy="91.1" r="4.3"/><circle cx="448.4" cy="91.4" r="4.2"/><circle cx="449.2" cy="91.6" r="4.6"/><circle cx="450.0" cy="92.0" r="4.6"/><circle cx="450.8" cy="91.8" r="4.6"/><circle cx="451.6" cy="92.3" r="4.6"/><circle cx="452.4" cy="92.5" r="4.5"/><circle cx="453.2" cy="92.3" r="4.6"/><circle cx="454.0" cy="92.3" r="4.4"/><circle cx="454.8" cy="92.2" r="4.4"/><circle cx="455.6" cy="92.6" r="4.4"/><circle cx="456.4" cy="92.8" r="4.3"/><circle cx="457.2" cy="92.5" r="4.3"/><circle cx="458.0" cy="92.4" r="4.6"/><circle cx="458.8" cy="92.4" r="4.2"/><circle cx="459.6" cy="91.8" r="4.5"/><circle cx="460.4" cy="92.2" r="4.2"/><circle cx="461.2" cy="91.7" r="4.5"/><circle cx="462.0" cy="91.6" r="4.3"/><circle cx="462.9" cy="91.3" r="4.3"/><circle cx="463.7" cy="91.0" r="4.1"/><circle cx="464.5" cy="90.7" r="4.3"/><circle cx="465.3" cy="89.9" r="4.1"/><circle cx="466.1" cy="89.4" r="4.4"/><circle cx="466.9" cy="89.3" r="4.1"/><circle cx="467.7" cy="88.5" r="4.0"/><circle cx="468.5" cy="87.9" r="4.0"/><circle cx="469.3" cy="87.5" r="4.4"/><circle cx="470.1" cy="87.5" r="4.3"/><circle cx="470.9" cy="86.5" r="4.1"/><circle cx="471.7" cy="86.2" r="4.3"/><circle cx="472.5" cy="85.6" r="4.1"/><circle cx="473.3" cy="84.5" r="4.1"/><circle cx="474.1" cy="84.4" r="4.2"/><circle cx="474.9" cy="83.1" r="4.1"/><circle cx="475.7" cy="82.7" r="3.8"/><circle cx="476.5" cy="82.5" r="4.1"/><circle cx="477.3" cy="81.6" r="3.8"/><circle cx="478.1" cy="81.0" r="4.2"/><circle cx="479.0" cy="80.3" r="4.1"/><circle cx="479.8" cy="79.6" r="4.1"/><circle cx="480.6" cy="78.6" r="4.0"/><circle cx="481.4" cy="78.1" r="4.1"/><circle cx="482.2" cy="77.4" r="3.9"/><circle cx="483.0" cy="76.8" r="4.0"/><circle cx="483.8" cy="76.1" r="3.8"/><circle cx="484.6" cy="75.4" r="4.2"/><circle cx="485.4" cy="74.1" r="4.2"/><circle cx="486.2" cy="73.4" r="3.9"/><circle cx="487.0" cy="72.9" r="4.0"/><circle cx="487.8" cy="72.3" r="4.3"/><circle cx="488.6" cy="71.8" r="4.2"/><circle cx="489.4" cy="71.0" r="4.3"/><circle cx="490.2" cy="70.7" r="4.3"/><circle cx="491.0" cy="70.2" r="4.4"/><circle cx="491.8" cy="69.3" r="4.1"/><circle cx="492.6" cy="68.9" r="4.4"/><circle cx="493.4" cy="68.2" r="4.3"/><circle cx="494.2" cy="68.2" r="4.5"/><circle cx="495.1" cy="67.1" r="4.3"/><circle cx="495.9" cy="66.7" r="4.2"/><circle cx="496.7" cy="67.0" r="4.4"/><circle cx="497.5" cy="66.5" r="4.4"/><circle cx="498.3" cy="66.0" r="4.3"/><circle cx="499.1" cy="65.8" r="4.6"/><circle cx="499.9" cy="65.8" r="4.4"/><circle cx="500.7" cy="65.3" r="4.4"/><circle cx="501.5" cy="65.6" r="4.4"/><circle cx="502.3" cy="65.6" r="4.6"/><circle cx="503.1" cy="65.1" r="4.6"/><circle cx="503.9" cy="65.1" r="4.6"/><circle cx="504.7" cy="65.2" r="4.4"/><circle cx="317.4" cy="68.6" r="3.9"/><circle cx="318.5" cy="68.6" r="4.2"/><circle cx="319.6" cy="69.6" r="4.2"/><circle cx="320.6" cy="70.2" r="4.0"/><circle cx="321.7" cy="71.6" r="4.0"/><circle cx="322.8" cy="72.6" r="3.8"/><circle cx="323.9" cy="73.5" r="3.8"/><circle cx="324.9" cy="74.4" r="3.8"/><circle cx="326.0" cy="75.3" r="4.2"/><circle cx="327.1" cy="76.7" r="4.1"/><circle cx="328.1" cy="77.8" r="3.9"/><circle cx="329.2" cy="78.9" r="4.0"/><circle cx="330.3" cy="80.7" r="4.0"/><circle cx="331.4" cy="81.5" r="4.2"/><circle cx="332.4" cy="83.0" r="4.0"/><circle cx="333.5" cy="83.4" r="4.0"/><circle cx="334.6" cy="84.6" r="4.2"/><circle cx="335.7" cy="85.4" r="4.0"/><circle cx="336.7" cy="86.4" r="3.9"/><circle cx="337.8" cy="87.0" r="4.1"/><circle cx="338.9" cy="87.9" r="4.0"/><circle cx="340.0" cy="88.1" r="4.2"/><circle cx="341.0" cy="88.3" r="4.1"/><circle cx="342.1" cy="89.3" r="4.0"/><circle cx="343.2" cy="89.5" r="4.1"/><circle cx="344.2" cy="90.3" r="4.1"/><circle cx="345.3" cy="90.6" r="3.8"/><circle cx="346.4" cy="90.6" r="3.8"/><circle cx="347.5" cy="91.5" r="4.2"/><circle cx="348.5" cy="91.2" r="4.0"/><circle cx="349.6" cy="91.9" r="3.8"/><circle cx="350.7" cy="92.1" r="4.1"/><circle cx="365.7" cy="92.3" r="3.9"/><circle cx="366.8" cy="92.1" r="3.9"/><circle cx="367.9" cy="91.5" r="3.9"/><circle cx="368.9" cy="91.5" r="4.0"/><circle cx="370.0" cy="91.0" r="4.1"/><circle cx="371.1" cy="90.3" r="4.2"/><circle cx="372.2" cy="90.2" r="4.1"/><circle cx="373.2" cy="89.4" r="3.8"/><circle cx="374.3" cy="89.2" r="4.1"/><circle cx="375.4" cy="88.9" r="3.9"/><circle cx="376.4" cy="87.9" r="4.0"/><circle cx="377.5" cy="87.9" r="3.8"/><circle cx="378.6" cy="87.2" r="3.8"/><circle cx="379.7" cy="86.1" r="3.8"/><circle cx="380.7" cy="85.3" r="3.9"/><circle cx="381.8" cy="85.0" r="4.2"/><circle cx="382.9" cy="83.4" r="3.9"/><circle cx="384.0" cy="83.0" r="3.8"/><circle cx="385.0" cy="81.4" r="3.9"/><circle cx="386.1" cy="80.1" r="3.9"/><circle cx="387.2" cy="79.1" r="3.9"/><circle cx="388.3" cy="78.4" r="3.9"/><circle cx="389.3" cy="76.5" r="4.2"/><circle cx="390.4" cy="75.5" r="4.1"/><circle cx="391.5" cy="74.5" r="4.1"/><circle cx="392.5" cy="73.1" r="3.8"/><circle cx="393.6" cy="72.4" r="4.0"/><circle cx="394.7" cy="71.2" r="4.1"/><circle cx="395.8" cy="70.5" r="3.9"/><circle cx="396.8" cy="69.4" r="4.2"/><circle cx="397.9" cy="68.8" r="3.9"/><circle cx="399.0" cy="68.3" r="3.9"/><circle cx="414.0" cy="68.4" r="3.8"/><circle cx="415.1" cy="69.1" r="4.0"/><circle cx="416.2" cy="69.4" r="4.2"/><circle cx="417.2" cy="70.1" r="3.9"/><circle cx="418.3" cy="70.8" r="4.0"/><circle cx="419.4" cy="72.4" r="4.1"/><circle cx="420.5" cy="73.2" r="4.1"/><circle cx="421.5" cy="74.1" r="3.9"/><circle cx="422.6" cy="75.7" r="4.2"/><circle cx="423.7" cy="76.9" r="4.1"/><circle cx="424.7" cy="78.2" r="3.9"/><circle cx="425.8" cy="79.6" r="4.1"/><circle cx="426.9" cy="80.3" r="3.9"/><circle cx="428.0" cy="81.8" r="3.9"/><circle cx="429.0" cy="82.4" r="4.1"/><circle cx="430.1" cy="83.7" r="4.0"/><circle cx="431.2" cy="84.8" r="4.2"/><circle cx="432.3" cy="85.2" r="3.9"/><circle cx="433.3" cy="85.9" r="3.9"/><circle cx="434.4" cy="87.0" r="4.1"/><circle cx="435.5" cy="87.8" r="4.0"/><circle cx="436.6" cy="88.1" r="4.0"/><circle cx="437.6" cy="88.5" r="4.1"/><circle cx="438.7" cy="89.4" r="4.1"/><circle cx="439.8" cy="89.3" r="4.1"/><circle cx="440.8" cy="90.2" r="4.0"/><circle cx="441.9" cy="90.7" r="4.2"/><circle cx="443.0" cy="90.9" r="4.1"/><circle cx="444.1" cy="91.3" r="4.1"/><circle cx="445.1" cy="91.2" r="4.1"/><circle cx="446.2" cy="92.0" r="4.0"/><circle cx="447.3" cy="92.0" r="3.8"/><circle cx="462.3" cy="92.3" r="4.1"/><circle cx="463.4" cy="91.7" r="3.8"/><circle cx="464.5" cy="91.3" r="3.8"/><circle cx="465.5" cy="91.3" r="4.2"/><circle cx="466.6" cy="91.0" r="3.9"/><circle cx="467.7" cy="90.5" r="3.8"/><circle cx="468.8" cy="90.3" r="3.9"/><circle cx="469.8" cy="89.2" r="4.0"/><circle cx="470.9" cy="88.9" r="3.9"/><circle cx="472.0" cy="88.3" r="4.0"/><circle cx="473.0" cy="88.2" r="4.1"/><circle cx="474.1" cy="87.3" r="4.1"/><circle cx="475.2" cy="86.7" r="3.9"/><circle cx="476.3" cy="86.4" r="3.9"/><circle cx="477.3" cy="85.4" r="4.0"/><circle cx="478.4" cy="84.4" r="4.1"/><circle cx="479.5" cy="83.5" r="4.1"/><circle cx="480.6" cy="82.9" r="4.0"/><circle cx="481.6" cy="81.2" r="4.1"/><circle cx="482.7" cy="80.0" r="4.0"/><circle cx="483.8" cy="79.2" r="3.8"/><circle cx="484.9" cy="78.1" r="4.1"/><circle cx="485.9" cy="76.8" r="3.9"/><circle cx="487.0" cy="75.6" r="4.0"/><circle cx="488.1" cy="74.1" r="4.1"/><circle cx="489.1" cy="73.6" r="4.1"/><circle cx="490.2" cy="72.5" r="3.9"/><circle cx="491.3" cy="71.6" r="3.8"/><circle cx="492.4" cy="70.3" r="3.8"/><circle cx="493.4" cy="69.5" r="4.1"/><circle cx="494.5" cy="69.0" r="4.0"/><circle cx="495.6" cy="68.1" r="3.8"/></g>
<g fill="#318845"><circle cx="306.7" cy="65.7" r="3.4"/><circle cx="307.5" cy="66.0" r="3.3"/><circle cx="308.3" cy="65.6" r="3.8"/><circle cx="309.1" cy="65.2" r="3.6"/><circle cx="309.9" cy="65.3" r="3.5"/><circle cx="310.7" cy="65.2" r="3.4"/><circle cx="311.5" cy="65.8" r="3.7"/><circle cx="312.3" cy="65.9" r="3.4"/><circle cx="313.1" cy="65.9" r="3.5"/><circle cx="313.9" cy="66.0" r="3.6"/><circle cx="314.7" cy="66.0" r="3.7"/><circle cx="315.5" cy="66.0" r="3.6"/><circle cx="316.3" cy="67.0" r="3.5"/><circle cx="317.1" cy="67.2" r="3.7"/><circle cx="317.9" cy="67.3" r="3.5"/><circle cx="318.8" cy="68.1" r="3.4"/><circle cx="319.6" cy="68.5" r="3.4"/><circle cx="320.4" cy="68.8" r="3.4"/><circle cx="321.2" cy="69.5" r="3.3"/><circle cx="322.0" cy="70.0" r="3.3"/><circle cx="322.8" cy="70.2" r="3.3"/><circle cx="323.6" cy="70.9" r="3.5"/><circle cx="324.4" cy="71.6" r="3.3"/><circle cx="325.2" cy="72.3" r="3.2"/><circle cx="326.0" cy="72.7" r="3.0"/><circle cx="326.8" cy="74.0" r="3.2"/><circle cx="327.6" cy="74.3" r="3.2"/><circle cx="328.4" cy="75.2" r="3.0"/><circle cx="329.2" cy="75.4" r="3.3"/><circle cx="330.0" cy="76.4" r="3.2"/><circle cx="330.8" cy="77.4" r="3.3"/><circle cx="331.6" cy="78.1" r="2.9"/><circle cx="332.4" cy="78.5" r="3.2"/><circle cx="333.2" cy="79.5" r="2.9"/><circle cx="334.0" cy="79.7" r="3.0"/><circle cx="334.9" cy="80.4" r="3.0"/><circle cx="335.7" cy="81.7" r="3.1"/><circle cx="336.5" cy="82.1" r="2.9"/><circle cx="337.3" cy="82.7" r="3.3"/><circle cx="338.1" cy="83.6" r="3.1"/><circle cx="338.9" cy="84.1" r="3.3"/><circle cx="339.7" cy="85.0" r="3.0"/><circle cx="340.5" cy="85.5" r="3.1"/><circle cx="341.3" cy="86.0" r="3.1"/><circle cx="342.1" cy="86.4" r="3.1"/><circle cx="342.9" cy="87.0" r="3.0"/><circle cx="343.7" cy="87.4" r="3.3"/><circle cx="344.5" cy="87.8" r="3.1"/><circle cx="345.3" cy="88.8" r="3.2"/><circle cx="346.1" cy="89.0" r="3.2"/><circle cx="346.9" cy="89.8" r="3.2"/><circle cx="347.7" cy="90.1" r="3.5"/><circle cx="348.5" cy="90.1" r="3.4"/><circle cx="349.3" cy="90.9" r="3.5"/><circle cx="350.1" cy="90.9" r="3.2"/><circle cx="351.0" cy="91.3" r="3.4"/><circle cx="351.8" cy="91.8" r="3.4"/><circle cx="352.6" cy="91.8" r="3.6"/><circle cx="353.4" cy="92.3" r="3.5"/><circle cx="354.2" cy="92.1" r="3.6"/><circle cx="355.0" cy="92.7" r="3.4"/><circle cx="355.8" cy="92.8" r="3.7"/><circle cx="356.6" cy="92.4" r="3.6"/><circle cx="357.4" cy="92.4" r="3.4"/><circle cx="358.2" cy="92.8" r="3.5"/><circle cx="359.0" cy="92.6" r="3.6"/><circle cx="359.8" cy="92.9" r="3.7"/><circle cx="360.6" cy="92.1" r="3.6"/><circle cx="361.4" cy="92.3" r="3.5"/><circle cx="362.2" cy="92.5" r="3.5"/><circle cx="363.0" cy="92.0" r="3.7"/><circle cx="363.8" cy="91.8" r="3.5"/><circle cx="364.6" cy="91.6" r="3.6"/><circle cx="365.4" cy="91.5" r="3.6"/><circle cx="366.2" cy="90.9" r="3.2"/><circle cx="367.1" cy="90.8" r="3.5"/><circle cx="367.9" cy="90.6" r="3.5"/><circle cx="368.7" cy="89.7" r="3.3"/><circle cx="369.5" cy="89.2" r="3.5"/><circle cx="370.3" cy="88.8" r="3.1"/><circle cx="371.1" cy="88.9" r="3.3"/><circle cx="371.9" cy="87.8" r="3.4"/><circle cx="372.7" cy="87.8" r="3.2"/><circle cx="373.5" cy="86.8" r="3.3"/><circle cx="374.3" cy="86.5" r="3.2"/><circle cx="375.1" cy="86.4" r="3.3"/><circle cx="375.9" cy="85.7" r="3.0"/><circle cx="376.7" cy="84.6" r="3.1"/><circle cx="377.5" cy="83.7" r="3.3"/><circle cx="378.3" cy="83.3" r="3.0"/><circle cx="379.1" cy="82.6" r="3.0"/><circle cx="379.9" cy="82.4" r="3.1"/><circle cx="380.7" cy="81.4" r="3.0"/><circle cx="381.5" cy="80.3" r="3.0"/><circle cx="382.4" cy="80.3" r="3.2"/><circle cx="383.2" cy="79.6" r="3.0"/><circle cx="384.0" cy="78.3" r="2.9"/><circle cx="384.8" cy="77.9" r="3.0"/><circle cx="385.6" cy="77.1" r="3.1"/><circle cx="386.4" cy="76.5" r="3.0"/><circle cx="387.2" cy="75.9" r="3.0"/><circle cx="388.0" cy="75.3" r="3.2"/><circle cx="388.8" cy="73.9" r="3.1"/><circle cx="389.6" cy="73.6" r="3.1"/><circle cx="390.4" cy="73.0" r="3.1"/><circle cx="391.2" cy="72.1" r="3.4"/><circle cx="392.0" cy="71.5" r="3.3"/><circle cx="392.8" cy="71.3" r="3.3"/><circle cx="393.6" cy="70.4" r="3.5"/><circle cx="394.4" cy="69.8" r="3.5"/><circle cx="395.2" cy="69.0" r="3.3"/><circle cx="396.0" cy="68.9" r="3.2"/><circle cx="396.8" cy="68.6" r="3.2"/><circle cx="397.6" cy="68.0" r="3.3"/><circle cx="398.4" cy="67.8" r="3.5"/><circle cx="399.3" cy="67.3" r="3.5"/><circle cx="400.1" cy="66.9" r="3.6"/><circle cx="400.9" cy="66.3" r="3.4"/><circle cx="401.7" cy="66.4" r="3.4"/><circle cx="402.5" cy="66.3" r="3.4"/><circle cx="403.3" cy="65.4" r="3.4"/><circle cx="404.1" cy="65.8" r="3.8"/><circle cx="404.9" cy="65.4" r="3.6"/><circle cx="405.7" cy="65.2" r="3.8"/><circle cx="406.5" cy="65.5" r="3.4"/><circle cx="407.3" cy="65.1" r="3.7"/><circle cx="408.1" cy="65.1" r="3.7"/><circle cx="408.9" cy="65.4" r="3.4"/><circle cx="409.7" cy="65.8" r="3.5"/><circle cx="410.5" cy="66.0" r="3.4"/><circle cx="411.3" cy="66.5" r="3.4"/><circle cx="412.1" cy="66.7" r="3.4"/><circle cx="412.9" cy="67.0" r="3.7"/><circle cx="413.7" cy="67.0" r="3.3"/><circle cx="414.6" cy="67.4" r="3.5"/><circle cx="415.4" cy="67.7" r="3.4"/><circle cx="416.2" cy="68.0" r="3.4"/><circle cx="417.0" cy="69.0" r="3.3"/><circle cx="417.8" cy="69.5" r="3.2"/><circle cx="418.6" cy="70.1" r="3.2"/><circle cx="419.4" cy="70.8" r="3.5"/><circle cx="420.2" cy="71.4" r="3.3"/><circle cx="421.0" cy="71.5" r="3.2"/><circle cx="421.8" cy="72.5" r="3.2"/><circle cx="422.6" cy="73.3" r="3.0"/><circle cx="423.4" cy="73.6" r="3.3"/><circle cx="424.2" cy="74.4" r="3.2"/><circle cx="425.0" cy="74.7" r="3.0"/><circle cx="425.8" cy="75.5" r="3.3"/><circle cx="426.6" cy="76.7" r="3.0"/><circle cx="427.4" cy="77.5" r="2.9"/><circle cx="428.2" cy="77.9" r="3.3"/><circle cx="429.0" cy="78.4" r="3.3"/><circle cx="429.8" cy="79.4" r="2.9"/><circle cx="430.6" cy="79.9" r="3.1"/><circle cx="431.5" cy="80.5" r="3.2"/><circle cx="432.3" cy="81.2" r="3.2"/><circle cx="433.1" cy="81.9" r="2.9"/><circle cx="433.9" cy="82.8" r="2.9"/><circle cx="434.7" cy="83.5" r="3.2"/><circle cx="435.5" cy="84.2" r="3.1"/><circle cx="436.3" cy="84.4" r="3.1"/><circle cx="437.1" cy="85.0" r="3.2"/><circle cx="437.9" cy="85.7" r="3.2"/><circle cx="438.7" cy="86.4" r="3.1"/><circle cx="439.5" cy="87.2" r="3.1"/><circle cx="440.3" cy="87.4" r="3.4"/><circle cx="441.1" cy="88.0" r="3.4"/><circle cx="441.9" cy="89.0" r="3.3"/><circle cx="442.7" cy="88.8" r="3.1"/><circle cx="443.5" cy="89.9" r="3.2"/><circle cx="444.3" cy="90.0" r="3.4"/><circle cx="445.1" cy="90.0" r="3.4"/><circle cx="445.9" cy="90.4" r="3.4"/><circle cx="446.8" cy="91.0" r="3.4"/><circle cx="447.6" cy="91.1" r="3.4"/><circle cx="448.4" cy="91.4" r="3.3"/><circle cx="449.2" cy="91.6" r="3.7"/><circle cx="450.0" cy="92.0" r="3.7"/><circle cx="450.8" cy="91.8" r="3.7"/><circle cx="451.6" cy="92.3" r="3.7"/><circle cx="452.4" cy="92.5" r="3.6"/><circle cx="453.2" cy="92.3" r="3.7"/><circle cx="454.0" cy="92.3" r="3.5"/><circle cx="454.8" cy="92.2" r="3.5"/><circle cx="455.6" cy="92.6" r="3.5"/><circle cx="456.4" cy="92.8" r="3.4"/><circle cx="457.2" cy="92.5" r="3.4"/><circle cx="458.0" cy="92.4" r="3.7"/><circle cx="458.8" cy="92.4" r="3.3"/><circle cx="459.6" cy="91.8" r="3.6"/><circle cx="460.4" cy="92.2" r="3.3"/><circle cx="461.2" cy="91.7" r="3.6"/><circle cx="462.0" cy="91.6" r="3.4"/><circle cx="462.9" cy="91.3" r="3.4"/><circle cx="463.7" cy="91.0" r="3.2"/><circle cx="464.5" cy="90.7" r="3.4"/><circle cx="465.3" cy="89.9" r="3.2"/><circle cx="466.1" cy="89.4" r="3.5"/><circle cx="466.9" cy="89.3" r="3.2"/><circle cx="467.7" cy="88.5" r="3.1"/><circle cx="468.5" cy="87.9" r="3.1"/><circle cx="469.3" cy="87.5" r="3.5"/><circle cx="470.1" cy="87.5" r="3.4"/><circle cx="470.9" cy="86.5" r="3.2"/><circle cx="471.7" cy="86.2" r="3.4"/><circle cx="472.5" cy="85.6" r="3.2"/><circle cx="473.3" cy="84.5" r="3.2"/><circle cx="474.1" cy="84.4" r="3.3"/><circle cx="474.9" cy="83.1" r="3.2"/><circle cx="475.7" cy="82.7" r="2.9"/><circle cx="476.5" cy="82.5" r="3.2"/><circle cx="477.3" cy="81.6" r="2.9"/><circle cx="478.1" cy="81.0" r="3.3"/><circle cx="479.0" cy="80.3" r="3.2"/><circle cx="479.8" cy="79.6" r="3.2"/><circle cx="480.6" cy="78.6" r="3.1"/><circle cx="481.4" cy="78.1" r="3.2"/><circle cx="482.2" cy="77.4" r="3.0"/><circle cx="483.0" cy="76.8" r="3.1"/><circle cx="483.8" cy="76.1" r="2.9"/><circle cx="484.6" cy="75.4" r="3.3"/><circle cx="485.4" cy="74.1" r="3.3"/><circle cx="486.2" cy="73.4" r="3.0"/><circle cx="487.0" cy="72.9" r="3.1"/><circle cx="487.8" cy="72.3" r="3.4"/><circle cx="488.6" cy="71.8" r="3.3"/><circle cx="489.4" cy="71.0" r="3.4"/><circle cx="490.2" cy="70.7" r="3.4"/><circle cx="491.0" cy="70.2" r="3.5"/><circle cx="491.8" cy="69.3" r="3.2"/><circle cx="492.6" cy="68.9" r="3.5"/><circle cx="493.4" cy="68.2" r="3.4"/><circle cx="494.2" cy="68.2" r="3.6"/><circle cx="495.1" cy="67.1" r="3.4"/><circle cx="495.9" cy="66.7" r="3.3"/><circle cx="496.7" cy="67.0" r="3.5"/><circle cx="497.5" cy="66.5" r="3.5"/><circle cx="498.3" cy="66.0" r="3.4"/><circle cx="499.1" cy="65.8" r="3.7"/><circle cx="499.9" cy="65.8" r="3.5"/><circle cx="500.7" cy="65.3" r="3.5"/><circle cx="501.5" cy="65.6" r="3.5"/><circle cx="502.3" cy="65.6" r="3.7"/><circle cx="503.1" cy="65.1" r="3.7"/><circle cx="503.9" cy="65.1" r="3.7"/><circle cx="504.7" cy="65.2" r="3.5"/><circle cx="317.4" cy="68.6" r="3.0"/><circle cx="318.5" cy="68.6" r="3.3"/><circle cx="319.6" cy="69.6" r="3.3"/><circle cx="320.6" cy="70.2" r="3.1"/><circle cx="321.7" cy="71.6" r="3.1"/><circle cx="322.8" cy="72.6" r="2.9"/><circle cx="323.9" cy="73.5" r="2.9"/><circle cx="324.9" cy="74.4" r="2.9"/><circle cx="326.0" cy="75.3" r="3.3"/><circle cx="327.1" cy="76.7" r="3.2"/><circle cx="328.1" cy="77.8" r="3.0"/><circle cx="329.2" cy="78.9" r="3.1"/><circle cx="330.3" cy="80.7" r="3.1"/><circle cx="331.4" cy="81.5" r="3.3"/><circle cx="332.4" cy="83.0" r="3.1"/><circle cx="333.5" cy="83.4" r="3.1"/><circle cx="334.6" cy="84.6" r="3.3"/><circle cx="335.7" cy="85.4" r="3.1"/><circle cx="336.7" cy="86.4" r="3.0"/><circle cx="337.8" cy="87.0" r="3.2"/><circle cx="338.9" cy="87.9" r="3.1"/><circle cx="340.0" cy="88.1" r="3.3"/><circle cx="341.0" cy="88.3" r="3.2"/><circle cx="342.1" cy="89.3" r="3.1"/><circle cx="343.2" cy="89.5" r="3.2"/><circle cx="344.2" cy="90.3" r="3.2"/><circle cx="345.3" cy="90.6" r="2.9"/><circle cx="346.4" cy="90.6" r="2.9"/><circle cx="347.5" cy="91.5" r="3.3"/><circle cx="348.5" cy="91.2" r="3.1"/><circle cx="349.6" cy="91.9" r="2.9"/><circle cx="350.7" cy="92.1" r="3.2"/><circle cx="365.7" cy="92.3" r="3.0"/><circle cx="366.8" cy="92.1" r="3.0"/><circle cx="367.9" cy="91.5" r="3.0"/><circle cx="368.9" cy="91.5" r="3.1"/><circle cx="370.0" cy="91.0" r="3.2"/><circle cx="371.1" cy="90.3" r="3.3"/><circle cx="372.2" cy="90.2" r="3.2"/><circle cx="373.2" cy="89.4" r="2.9"/><circle cx="374.3" cy="89.2" r="3.2"/><circle cx="375.4" cy="88.9" r="3.0"/><circle cx="376.4" cy="87.9" r="3.1"/><circle cx="377.5" cy="87.9" r="2.9"/><circle cx="378.6" cy="87.2" r="2.9"/><circle cx="379.7" cy="86.1" r="2.9"/><circle cx="380.7" cy="85.3" r="3.0"/><circle cx="381.8" cy="85.0" r="3.3"/><circle cx="382.9" cy="83.4" r="3.0"/><circle cx="384.0" cy="83.0" r="2.9"/><circle cx="385.0" cy="81.4" r="3.0"/><circle cx="386.1" cy="80.1" r="3.0"/><circle cx="387.2" cy="79.1" r="3.0"/><circle cx="388.3" cy="78.4" r="3.0"/><circle cx="389.3" cy="76.5" r="3.3"/><circle cx="390.4" cy="75.5" r="3.2"/><circle cx="391.5" cy="74.5" r="3.2"/><circle cx="392.5" cy="73.1" r="2.9"/><circle cx="393.6" cy="72.4" r="3.1"/><circle cx="394.7" cy="71.2" r="3.2"/><circle cx="395.8" cy="70.5" r="3.0"/><circle cx="396.8" cy="69.4" r="3.3"/><circle cx="397.9" cy="68.8" r="3.0"/><circle cx="399.0" cy="68.3" r="3.0"/><circle cx="414.0" cy="68.4" r="2.9"/><circle cx="415.1" cy="69.1" r="3.1"/><circle cx="416.2" cy="69.4" r="3.3"/><circle cx="417.2" cy="70.1" r="3.0"/><circle cx="418.3" cy="70.8" r="3.1"/><circle cx="419.4" cy="72.4" r="3.2"/><circle cx="420.5" cy="73.2" r="3.2"/><circle cx="421.5" cy="74.1" r="3.0"/><circle cx="422.6" cy="75.7" r="3.3"/><circle cx="423.7" cy="76.9" r="3.2"/><circle cx="424.7" cy="78.2" r="3.0"/><circle cx="425.8" cy="79.6" r="3.2"/><circle cx="426.9" cy="80.3" r="3.0"/><circle cx="428.0" cy="81.8" r="3.0"/><circle cx="429.0" cy="82.4" r="3.2"/><circle cx="430.1" cy="83.7" r="3.1"/><circle cx="431.2" cy="84.8" r="3.3"/><circle cx="432.3" cy="85.2" r="3.0"/><circle cx="433.3" cy="85.9" r="3.0"/><circle cx="434.4" cy="87.0" r="3.2"/><circle cx="435.5" cy="87.8" r="3.1"/><circle cx="436.6" cy="88.1" r="3.1"/><circle cx="437.6" cy="88.5" r="3.2"/><circle cx="438.7" cy="89.4" r="3.2"/><circle cx="439.8" cy="89.3" r="3.2"/><circle cx="440.8" cy="90.2" r="3.1"/><circle cx="441.9" cy="90.7" r="3.3"/><circle cx="443.0" cy="90.9" r="3.2"/><circle cx="444.1" cy="91.3" r="3.2"/><circle cx="445.1" cy="91.2" r="3.2"/><circle cx="446.2" cy="92.0" r="3.1"/><circle cx="447.3" cy="92.0" r="2.9"/><circle cx="462.3" cy="92.3" r="3.2"/><circle cx="463.4" cy="91.7" r="2.9"/><circle cx="464.5" cy="91.3" r="2.9"/><circle cx="465.5" cy="91.3" r="3.3"/><circle cx="466.6" cy="91.0" r="3.0"/><circle cx="467.7" cy="90.5" r="2.9"/><circle cx="468.8" cy="90.3" r="3.0"/><circle cx="469.8" cy="89.2" r="3.1"/><circle cx="470.9" cy="88.9" r="3.0"/><circle cx="472.0" cy="88.3" r="3.1"/><circle cx="473.0" cy="88.2" r="3.2"/><circle cx="474.1" cy="87.3" r="3.2"/><circle cx="475.2" cy="86.7" r="3.0"/><circle cx="476.3" cy="86.4" r="3.0"/><circle cx="477.3" cy="85.4" r="3.1"/><circle cx="478.4" cy="84.4" r="3.2"/><circle cx="479.5" cy="83.5" r="3.2"/><circle cx="480.6" cy="82.9" r="3.1"/><circle cx="481.6" cy="81.2" r="3.2"/><circle cx="482.7" cy="80.0" r="3.1"/><circle cx="483.8" cy="79.2" r="2.9"/><circle cx="484.9" cy="78.1" r="3.2"/><circle cx="485.9" cy="76.8" r="3.0"/><circle cx="487.0" cy="75.6" r="3.1"/><circle cx="488.1" cy="74.1" r="3.2"/><circle cx="489.1" cy="73.6" r="3.2"/><circle cx="490.2" cy="72.5" r="3.0"/><circle cx="491.3" cy="71.6" r="2.9"/><circle cx="492.4" cy="70.3" r="2.9"/><circle cx="493.4" cy="69.5" r="3.2"/><circle cx="494.5" cy="69.0" r="3.1"/><circle cx="495.6" cy="68.1" r="2.9"/></g>
<path d="M305.3,67.0 305.9,66.9 306.4,66.7 306.9,66.6 307.5,66.6 308.0,66.5 308.6,66.5 309.1,66.4 309.6,66.4 310.2,66.4 310.7,66.4 311.2,66.5 311.8,66.5 312.3,66.6 312.9,66.6 313.4,66.7 313.9,66.9 314.5,67.0 315.0,67.1 315.5,67.3 316.1,67.5 316.6,67.7 317.1,67.9 317.7,68.1 318.2,68.3 318.8,68.6 319.3,68.9 319.8,69.1 320.4,69.4 320.9,69.7 321.4,70.1 322.0,70.4 322.5,70.7 323.0,71.1 323.6,71.4 324.1,71.8 324.7,72.2 325.2,72.6 325.7,73.0 326.3,73.4 326.8,73.8 327.3,74.3 327.9,74.7 328.4,75.1 329.0,75.6 329.5,76.0 330.0,76.5 330.6,76.9 331.1,77.4 331.6,77.9 332.2,78.3 332.7,78.8 333.2,79.3 333.8,79.8 334.3,80.2 334.9,80.7 335.4,81.2 335.9,81.7 336.5,82.1 337.0,82.6 337.5,83.1 338.1,83.5 338.6,84.0 339.1,84.4 339.7,84.9 340.2,85.3 340.8,85.7 341.3,86.2 341.8,86.6 342.4,87.0 342.9,87.4 343.4,87.8 344.0,88.2 344.5,88.6 345.1,88.9 345.6,89.3 346.1,89.6 346.7,89.9 347.2,90.3 347.7,90.6 348.3,90.9 348.8,91.1 349.3,91.4 349.9,91.7 350.4,91.9 351.0,92.1 351.5,92.3 352.0,92.5 352.6,92.7 353.1,92.9 353.6,93.0 354.2,93.1 354.7,93.3 355.2,93.4 355.8,93.4 356.3,93.5 356.9,93.5 357.4,93.6 357.9,93.6 358.5,93.6 359.0,93.6 359.5,93.5 360.1,93.5 360.6,93.4 361.2,93.4 361.7,93.3 362.2,93.1 362.8,93.0 363.3,92.9 363.8,92.7 364.4,92.5 364.9,92.3 365.4,92.1 366.0,91.9 366.5,91.7 367.1,91.4 367.6,91.1 368.1,90.9 368.7,90.6 369.2,90.3 369.7,89.9 370.3,89.6 370.8,89.3 371.3,88.9 371.9,88.6 372.4,88.2 373.0,87.8 373.5,87.4 374.0,87.0 374.6,86.6 375.1,86.2 375.6,85.7 376.2,85.3 376.7,84.9 377.3,84.4 377.8,84.0 378.3,83.5 378.9,83.1 379.4,82.6 379.9,82.1 380.5,81.7 381.0,81.2 381.5,80.7 382.1,80.2 382.6,79.8 383.2,79.3 383.7,78.8 384.2,78.3 384.8,77.9 385.3,77.4 385.8,76.9 386.4,76.5 386.9,76.0 387.4,75.6 388.0,75.1 388.5,74.7 389.1,74.3 389.6,73.8 390.1,73.4 390.7,73.0 391.2,72.6 391.7,72.2 392.3,71.8 392.8,71.4 393.4,71.1 393.9,70.7 394.4,70.4 395.0,70.1 395.5,69.7 396.0,69.4 396.6,69.1 397.1,68.9 397.6,68.6 398.2,68.3 398.7,68.1 399.3,67.9 399.8,67.7 400.3,67.5 400.9,67.3 401.4,67.1 401.9,67.0 402.5,66.9 403.0,66.7 403.5,66.6 404.1,66.6 404.6,66.5 405.2,66.5 405.7,66.4 406.2,66.4 406.8,66.4 407.3,66.4 407.8,66.5 408.4,66.5 408.9,66.6 409.5,66.6 410.0,66.7 410.5,66.9 411.1,67.0 411.6,67.1 412.1,67.3 412.7,67.5 413.2,67.7 413.7,67.9 414.3,68.1 414.8,68.3 415.4,68.6 415.9,68.9 416.4,69.1 417.0,69.4 417.5,69.7 418.0,70.1 418.6,70.4 419.1,70.7 419.6,71.1 420.2,71.4 420.7,71.8 421.3,72.2 421.8,72.6 422.3,73.0 422.9,73.4 423.4,73.8 423.9,74.3 424.5,74.7 425.0,75.1 425.6,75.6 426.1,76.0 426.6,76.5 427.2,76.9 427.7,77.4 428.2,77.9 428.8,78.3 429.3,78.8 429.8,79.3 430.4,79.8 430.9,80.2 431.5,80.7 432.0,81.2 432.5,81.7 433.1,82.1 433.6,82.6 434.1,83.1 434.7,83.5 435.2,84.0 435.7,84.4 436.3,84.9 436.8,85.3 437.4,85.7 437.9,86.2 438.4,86.6 439.0,87.0 439.5,87.4 440.0,87.8 440.6,88.2 441.1,88.6 441.7,88.9 442.2,89.3 442.7,89.6 443.3,89.9 443.8,90.3 444.3,90.6 444.9,90.9 445.4,91.1 445.9,91.4 446.5,91.7 447.0,91.9 447.6,92.1 448.1,92.3 448.6,92.5 449.2,92.7 449.7,92.9 450.2,93.0 450.8,93.1 451.3,93.3 451.8,93.4 452.4,93.4 452.9,93.5 453.5,93.5 454.0,93.6 454.5,93.6 455.1,93.6 455.6,93.6 456.1,93.5 456.7,93.5 457.2,93.4 457.8,93.4 458.3,93.3 458.8,93.1 459.4,93.0 459.9,92.9 460.4,92.7 461.0,92.5 461.5,92.3 462.0,92.1 462.6,91.9 463.1,91.7 463.7,91.4 464.2,91.1 464.7,90.9 465.3,90.6 465.8,90.3 466.3,89.9 466.9,89.6 467.4,89.3 467.9,88.9 468.5,88.6 469.0,88.2 469.6,87.8 470.1,87.4 470.6,87.0 471.2,86.6 471.7,86.2 472.2,85.7 472.8,85.3 473.3,84.9 473.9,84.4 474.4,84.0 474.9,83.5 475.5,83.1 476.0,82.6 476.5,82.1 477.1,81.7 477.6,81.2 478.1,80.7 478.7,80.2 479.2,79.8 479.8,79.3 480.3,78.8 480.8,78.3 481.4,77.9 481.9,77.4 482.4,76.9 483.0,76.5 483.5,76.0 484.0,75.6 484.6,75.1 485.1,74.7 485.7,74.3 486.2,73.8 486.7,73.4 487.3,73.0 487.8,72.6 488.3,72.2 488.9,71.8 489.4,71.4 490.0,71.1 490.5,70.7 491.0,70.4 491.6,70.1 492.1,69.7 492.6,69.4 493.2,69.1 493.7,68.9 494.2,68.6 494.8,68.3 495.3,68.1 495.9,67.9 496.4,67.7 496.9,67.5 497.5,67.3 498.0,67.1 498.5,67.0 499.1,66.9 499.6,66.7 500.1,66.6 500.7,66.6 501.2,66.5 501.8,66.5 502.3,66.4 502.8,66.4 503.4,66.4 503.9,66.4 504.4,66.5 505.0,66.5 505.5,66.6" fill="none" stroke="#000" stroke-width="2.0"/>
<line x1="294.5" y1="63.9" x2="301.0" y2="63.9" stroke="#000" stroke-width="1.8"/>
<line x1="505.2" y1="63.9" x2="518.8" y2="63.9" stroke="#000" stroke-width="1.8"/>
<g fill="#b21d18"><circle cx="306.7" cy="133.5" r="4.4"/><circle cx="307.5" cy="133.1" r="4.6"/><circle cx="308.3" cy="133.2" r="4.4"/><circle cx="309.1" cy="132.9" r="4.6"/><circle cx="309.9" cy="132.9" r="4.4"/><circle cx="310.7" cy="133.2" r="4.6"/><circle cx="311.5" cy="133.6" r="4.6"/><circle cx="312.3" cy="133.7" r="4.7"/><circle cx="313.1" cy="133.7" r="4.6"/><circle cx="313.9" cy="133.4" r="4.3"/><circle cx="314.7" cy="133.7" r="4.6"/><circle cx="315.5" cy="134.6" r="4.5"/><circle cx="316.3" cy="134.6" r="4.3"/><circle cx="317.1" cy="135.0" r="4.4"/><circle cx="317.9" cy="136.1" r="4.3"/><circle cx="318.8" cy="135.9" r="4.2"/><circle cx="319.6" cy="136.8" r="4.5"/><circle cx="320.4" cy="137.7" r="4.3"/><circle cx="321.2" cy="137.8" r="4.1"/><circle cx="322.0" cy="138.6" r="4.3"/><circle cx="322.8" cy="139.5" r="4.4"/><circle cx="323.6" cy="140.7" r="4.3"/><circle cx="324.4" cy="141.1" r="4.3"/><circle cx="325.2" cy="141.6" r="3.9"/><circle cx="326.0" cy="142.8" r="4.1"/><circle cx="326.8" cy="143.4" r="4.0"/><circle cx="327.6" cy="144.1" r="4.2"/><circle cx="328.4" cy="145.6" r="4.2"/><circle cx="329.2" cy="146.7" r="4.0"/><circle cx="330.0" cy="147.4" r="4.0"/><circle cx="330.8" cy="148.4" r="4.2"/><circle cx="331.6" cy="148.8" r="3.8"/><circle cx="332.4" cy="149.8" r="4.0"/><circle cx="333.2" cy="150.8" r="3.8"/><circle cx="334.0" cy="152.1" r="4.1"/><circle cx="334.9" cy="152.7" r="3.8"/><circle cx="335.7" cy="154.0" r="4.0"/><circle cx="336.5" cy="154.2" r="3.9"/><circle cx="337.3" cy="155.5" r="4.2"/><circle cx="338.1" cy="156.3" r="4.1"/><circle cx="338.9" cy="156.9" r="3.9"/><circle cx="339.7" cy="158.3" r="4.0"/><circle cx="340.5" cy="158.5" r="4.1"/><circle cx="341.3" cy="159.3" r="3.9"/><circle cx="342.1" cy="160.3" r="4.1"/><circle cx="342.9" cy="161.2" r="4.2"/><circle cx="343.7" cy="161.7" r="4.0"/><circle cx="344.5" cy="162.6" r="4.0"/><circle cx="345.3" cy="163.0" r="4.2"/><circle cx="346.1" cy="163.8" r="4.3"/><circle cx="346.9" cy="164.0" r="4.3"/><circle cx="347.7" cy="164.9" r="4.3"/><circle cx="348.5" cy="165.0" r="4.5"/><circle cx="349.3" cy="165.8" r="4.1"/><circle cx="350.1" cy="165.9" r="4.6"/><circle cx="351.0" cy="166.3" r="4.3"/><circle cx="351.8" cy="167.1" r="4.5"/><circle cx="352.6" cy="167.3" r="4.5"/><circle cx="353.4" cy="167.1" r="4.2"/><circle cx="354.2" cy="168.1" r="4.6"/><circle cx="355.0" cy="167.5" r="4.3"/><circle cx="355.8" cy="167.8" r="4.7"/><circle cx="356.6" cy="167.9" r="4.5"/><circle cx="357.4" cy="168.5" r="4.5"/><circle cx="358.2" cy="168.5" r="4.4"/><circle cx="359.0" cy="167.9" r="4.3"/><circle cx="359.8" cy="168.3" r="4.3"/><circle cx="360.6" cy="168.4" r="4.6"/><circle cx="361.4" cy="167.6" r="4.6"/><circle cx="362.2" cy="167.4" r="4.4"/><circle cx="363.0" cy="167.1" r="4.6"/><circle cx="363.8" cy="167.5" r="4.6"/><circle cx="364.6" cy="166.5" r="4.6"/><circle cx="365.4" cy="166.6" r="4.5"/><circle cx="366.2" cy="166.2" r="4.4"/><circle cx="367.1" cy="165.8" r="4.5"/><circle cx="367.9" cy="164.9" r="4.1"/><circle cx="368.7" cy="164.8" r="4.2"/><circle cx="369.5" cy="164.1" r="4.0"/><circle cx="370.3" cy="163.9" r="4.0"/><circle cx="371.1" cy="163.3" r="4.3"/><circle cx="371.9" cy="162.4" r="4.0"/><circle cx="372.7" cy="161.9" r="4.0"/><circle cx="373.5" cy="161.0" r="3.9"/><circle cx="374.3" cy="160.7" r="4.1"/><circle cx="375.1" cy="159.5" r="3.9"/><circle cx="375.9" cy="159.0" r="4.2"/><circle cx="376.7" cy="158.3" r="3.9"/><circle cx="377.5" cy="157.1" r="3.9"/><circle cx="378.3" cy="156.5" r="3.9"/><circle cx="379.1" cy="155.5" r="4.2"/><circle cx="379.9" cy="154.8" r="3.8"/><circle cx="380.7" cy="153.3" r="3.8"/><circle cx="381.5" cy="152.9" r="4.0"/><circle cx="382.4" cy="151.9" r="4.0"/><circle cx="383.2" cy="150.9" r="4.0"/><circle cx="384.0" cy="150.1" r="4.2"/><circle cx="384.8" cy="149.3" r="4.1"/><circle cx="385.6" cy="148.5" r="4.1"/><circle cx="386.4" cy="147.4" r="3.8"/><circle cx="387.2" cy="146.5" r="4.2"/><circle cx="388.0" cy="145.4" r="4.2"/><circle cx="388.8" cy="144.3" r="4.3"/><circle cx="389.6" cy="143.6" r="4.2"/><circle cx="390.4" cy="142.6" r="4.0"/><circle cx="391.2" cy="141.8" r="4.0"/><circle cx="392.0" cy="140.8" r="4.1"/><circle cx="392.8" cy="140.7" r="4.2"/><circle cx="393.6" cy="139.9" r="4.3"/><circle cx="394.4" cy="139.1" r="4.4"/><circle cx="395.2" cy="138.3" r="4.1"/><circle cx="396.0" cy="137.3" r="4.2"/><circle cx="396.8" cy="136.5" r="4.2"/><circle cx="397.6" cy="136.6" r="4.5"/><circle cx="398.4" cy="135.6" r="4.5"/><circle cx="399.3" cy="135.5" r="4.5"/><circle cx="400.1" cy="135.1" r="4.4"/><circle cx="400.9" cy="134.1" r="4.6"/><circle cx="401.7" cy="133.9" r="4.5"/><circle cx="402.5" cy="133.7" r="4.5"/><circle cx="403.3" cy="133.9" r="4.3"/><circle cx="404.1" cy="133.4" r="4.5"/><circle cx="404.9" cy="133.2" r="4.7"/><circle cx="405.7" cy="133.1" r="4.7"/><circle cx="406.5" cy="133.3" r="4.7"/><circle cx="407.3" cy="132.8" r="4.3"/><circle cx="408.1" cy="133.0" r="4.7"/><circle cx="408.9" cy="133.0" r="4.4"/><circle cx="409.7" cy="133.7" r="4.7"/><circle cx="410.5" cy="133.5" r="4.4"/><circle cx="411.3" cy="134.2" r="4.5"/><circle cx="412.1" cy="134.6" r="4.5"/><circle cx="412.9" cy="134.6" r="4.3"/><circle cx="413.7" cy="134.9" r="4.5"/><circle cx="414.6" cy="135.5" r="4.2"/><circle cx="415.4" cy="136.7" r="4.4"/><circle cx="416.2" cy="136.9" r="4.4"/><circle cx="417.0" cy="137.6" r="4.4"/><circle cx="417.8" cy="138.0" r="4.1"/><circle cx="418.6" cy="138.5" r="4.0"/><circle cx="419.4" cy="139.5" r="4.0"/><circle cx="420.2" cy="140.0" r="4.2"/><circle cx="421.0" cy="141.5" r="4.2"/><circle cx="421.8" cy="141.8" r="4.2"/><circle cx="422.6" cy="142.5" r="3.9"/><circle cx="423.4" cy="143.5" r="4.0"/><circle cx="424.2" cy="144.7" r="4.0"/><circle cx="425.0" cy="145.6" r="3.9"/><circle cx="425.8" cy="146.7" r="4.0"/><circle cx="426.6" cy="147.5" r="3.8"/><circle cx="427.4" cy="148.4" r="3.9"/><circle cx="428.2" cy="149.4" r="4.1"/><circle cx="429.0" cy="150.1" r="3.9"/><circle cx="429.8" cy="150.5" r="3.8"/><circle cx="430.6" cy="152.2" r="3.8"/><circle cx="431.5" cy="152.9" r="4.0"/><circle cx="432.3" cy="153.8" r="3.8"/><circle cx="433.1" cy="154.3" r="3.8"/><circle cx="433.9" cy="155.8" r="3.9"/><circle cx="434.7" cy="156.4" r="4.0"/><circle cx="435.5" cy="156.9" r="3.8"/><circle cx="436.3" cy="157.6" r="4.2"/><circle cx="437.1" cy="158.5" r="4.3"/><circle cx="437.9" cy="159.5" r="4.2"/><circle cx="438.7" cy="160.0" r="4.2"/><circle cx="439.5" cy="160.9" r="4.1"/><circle cx="440.3" cy="161.8" r="4.0"/><circle cx="441.1" cy="162.2" r="4.3"/><circle cx="441.9" cy="162.9" r="4.1"/><circle cx="442.7" cy="163.9" r="4.1"/><circle cx="443.5" cy="164.0" r="4.1"/><circle cx="444.3" cy="164.7" r="4.2"/><circle cx="445.1" cy="165.4" r="4.3"/><circle cx="445.9" cy="166.0" r="4.1"/><circle cx="446.8" cy="166.3" r="4.5"/><circle cx="447.6" cy="166.3" r="4.2"/><circle cx="448.4" cy="166.8" r="4.2"/><circle cx="449.2" cy="167.2" r="4.5"/><circle cx="450.0" cy="167.1" r="4.3"/><circle cx="450.8" cy="167.7" r="4.3"/><circle cx="451.6" cy="167.7" r="4.4"/><circle cx="452.4" cy="167.7" r="4.3"/><circle cx="453.2" cy="168.0" r="4.5"/><circle cx="454.0" cy="168.5" r="4.5"/><circle cx="454.8" cy="167.9" r="4.4"/><circle cx="455.6" cy="168.4" r="4.5"/><circle cx="456.4" cy="168.4" r="4.7"/><circle cx="457.2" cy="168.3" r="4.3"/><circle cx="458.0" cy="168.2" r="4.5"/><circle cx="458.8" cy="167.5" r="4.3"/><circle cx="459.6" cy="167.7" r="4.3"/><circle cx="460.4" cy="166.9" r="4.3"/><circle cx="461.2" cy="167.2" r="4.4"/><circle cx="462.0" cy="166.7" r="4.2"/><circle cx="462.9" cy="166.1" r="4.3"/><circle cx="463.7" cy="165.5" r="4.4"/><circle cx="464.5" cy="165.2" r="4.1"/><circle cx="465.3" cy="165.2" r="4.3"/><circle cx="466.1" cy="164.0" r="4.0"/><circle cx="466.9" cy="163.8" r="4.2"/><circle cx="467.7" cy="162.7" r="4.2"/><circle cx="468.5" cy="162.6" r="4.2"/><circle cx="469.3" cy="161.5" r="4.1"/><circle cx="470.1" cy="161.1" r="4.2"/><circle cx="470.9" cy="160.0" r="4.2"/><circle cx="471.7" cy="159.9" r="4.2"/><circle cx="472.5" cy="159.1" r="4.0"/><circle cx="473.3" cy="158.3" r="3.9"/><circle cx="474.1" cy="156.9" r="4.1"/><circle cx="474.9" cy="156.6" r="3.8"/><circle cx="475.7" cy="155.2" r="3.8"/><circle cx="476.5" cy="154.5" r="3.8"/><circle cx="477.3" cy="153.4" r="4.1"/><circle cx="478.1" cy="152.8" r="4.2"/><circle cx="479.0" cy="151.8" r="4.1"/><circle cx="479.8" cy="150.5" r="4.2"/><circle cx="480.6" cy="149.8" r="4.0"/><circle cx="481.4" cy="149.1" r="4.2"/><circle cx="482.2" cy="148.1" r="4.2"/><circle cx="483.0" cy="147.3" r="3.9"/><circle cx="483.8" cy="146.6" r="3.9"/><circle cx="484.6" cy="145.8" r="4.0"/><circle cx="485.4" cy="144.3" r="4.3"/><circle cx="486.2" cy="143.5" r="4.0"/><circle cx="487.0" cy="142.6" r="4.2"/><circle cx="487.8" cy="141.6" r="4.1"/><circle cx="488.6" cy="140.8" r="4.3"/><circle cx="489.4" cy="139.9" r="4.2"/><circle cx="490.2" cy="139.4" r="4.2"/><circle cx="491.0" cy="138.9" r="4.3"/><circle cx="491.8" cy="137.9" r="4.1"/><circle cx="492.6" cy="137.2" r="4.5"/><circle cx="493.4" cy="136.6" r="4.1"/><circle cx="494.2" cy="136.3" r="4.4"/><circle cx="495.1" cy="136.1" r="4.2"/><circle cx="495.9" cy="135.0" r="4.2"/><circle cx="496.7" cy="134.9" r="4.4"/><circle cx="497.5" cy="134.3" r="4.6"/><circle cx="498.3" cy="134.2" r="4.6"/><circle cx="499.1" cy="134.1" r="4.3"/><circle cx="499.9" cy="133.9" r="4.4"/><circle cx="500.7" cy="133.0" r="4.6"/><circle cx="501.5" cy="132.9" r="4.3"/><circle cx="502.3" cy="133.0" r="4.4"/><circle cx="503.1" cy="133.5" r="4.6"/><circle cx="503.9" cy="133.1" r="4.5"/><circle cx="504.7" cy="133.5" r="4.6"/><circle cx="317.4" cy="136.7" r="4.0"/><circle cx="318.5" cy="137.0" r="3.9"/><circle cx="319.6" cy="138.4" r="4.0"/><circle cx="320.6" cy="139.5" r="4.2"/><circle cx="321.7" cy="140.7" r="3.8"/><circle cx="322.8" cy="141.2" r="4.2"/><circle cx="323.9" cy="143.0" r="3.8"/><circle cx="324.9" cy="144.5" r="3.9"/><circle cx="326.0" cy="145.6" r="3.9"/><circle cx="327.1" cy="147.3" r="4.1"/><circle cx="328.1" cy="148.5" r="4.1"/><circle cx="329.2" cy="150.5" r="4.0"/><circle cx="330.3" cy="152.0" r="4.1"/><circle cx="331.4" cy="152.9" r="4.0"/><circle cx="332.4" cy="154.9" r="4.1"/><circle cx="333.5" cy="156.2" r="3.8"/><circle cx="334.6" cy="157.6" r="4.1"/><circle cx="335.7" cy="158.2" r="3.9"/><circle cx="336.7" cy="159.8" r="3.8"/><circle cx="337.8" cy="160.3" r="4.2"/><circle cx="338.9" cy="161.5" r="3.9"/><circle cx="340.0" cy="162.2" r="3.9"/><circle cx="341.0" cy="162.8" r="4.1"/><circle cx="342.1" cy="163.0" r="3.9"/><circle cx="343.2" cy="163.7" r="3.9"/><circle cx="344.2" cy="164.1" r="3.8"/><circle cx="345.3" cy="165.0" r="3.9"/><circle cx="346.4" cy="165.3" r="4.0"/><circle cx="347.5" cy="166.5" r="4.0"/><circle cx="348.5" cy="166.5" r="4.1"/><circle cx="349.6" cy="167.1" r="3.8"/><circle cx="350.7" cy="167.6" r="3.8"/><circle cx="365.7" cy="167.7" r="3.8"/><circle cx="366.8" cy="167.0" r="4.2"/><circle cx="367.9" cy="166.8" r="4.1"/><circle cx="368.9" cy="166.2" r="4.0"/><circle cx="370.0" cy="165.8" r="4.2"/><circle cx="371.1" cy="164.8" r="4.1"/><circle cx="372.2" cy="164.3" r="3.9"/><circle cx="373.2" cy="164.2" r="4.0"/><circle cx="374.3" cy="163.6" r="4.1"/><circle cx="375.4" cy="162.8" r="3.8"/><circle cx="376.4" cy="161.6" r="4.0"/><circle cx="377.5" cy="161.4" r="3.9"/><circle cx="378.6" cy="160.0" r="3.8"/><circle cx="379.7" cy="159.2" r="4.1"/><circle cx="380.7" cy="158.0" r="3.9"/><circle cx="381.8" cy="157.1" r="4.1"/><circle cx="382.9" cy="156.4" r="3.8"/><circle cx="384.0" cy="154.4" r="4.2"/><circle cx="385.0" cy="153.7" r="3.8"/><circle cx="386.1" cy="151.7" r="4.0"/><circle cx="387.2" cy="150.2" r="3.9"/><circle cx="388.3" cy="148.8" r="3.9"/><circle cx="389.3" cy="146.9" r="3.8"/><circle cx="390.4" cy="145.5" r="3.8"/><circle cx="391.5" cy="144.4" r="4.1"/><circle cx="392.5" cy="142.7" r="4.1"/><circle cx="393.6" cy="141.8" r="3.9"/><circle cx="394.7" cy="140.3" r="3.8"/><circle cx="395.8" cy="139.6" r="4.0"/><circle cx="396.8" cy="137.9" r="3.8"/><circle cx="397.9" cy="137.5" r="3.9"/><circle cx="399.0" cy="136.8" r="3.9"/><circle cx="414.0" cy="136.8" r="4.1"/><circle cx="415.1" cy="137.0" r="4.0"/><circle cx="416.2" cy="138.0" r="4.1"/><circle cx="417.2" cy="139.5" r="4.1"/><circle cx="418.3" cy="140.1" r="3.8"/><circle cx="419.4" cy="141.7" r="4.0"/><circle cx="420.5" cy="142.6" r="3.8"/><circle cx="421.5" cy="144.4" r="3.8"/><circle cx="422.6" cy="145.9" r="3.9"/><circle cx="423.7" cy="147.1" r="3.9"/><circle cx="424.7" cy="148.9" r="4.1"/><circle cx="425.8" cy="150.0" r="4.1"/><circle cx="426.9" cy="151.6" r="3.9"/><circle cx="428.0" cy="153.4" r="4.1"/><circle cx="429.0" cy="154.8" r="4.2"/><circle cx="430.1" cy="155.8" r="3.9"/><circle cx="431.2" cy="157.4" r="3.9"/><circle cx="432.3" cy="158.1" r="3.9"/><circle cx="433.3" cy="159.6" r="4.1"/><circle cx="434.4" cy="160.5" r="4.2"/><circle cx="435.5" cy="161.4" r="3.9"/><circle cx="436.6" cy="161.8" r="4.1"/><circle cx="437.6" cy="162.3" r="4.0"/><circle cx="438.7" cy="163.0" r="3.8"/><circle cx="439.8" cy="163.9" r="3.8"/><circle cx="440.8" cy="164.9" r="4.1"/><circle cx="441.9" cy="165.0" r="3.8"/><circle cx="443.0" cy="165.3" r="4.0"/><circle cx="444.1" cy="166.1" r="3.9"/><circle cx="445.1" cy="166.8" r="4.0"/><circle cx="446.2" cy="167.3" r="3.8"/><circle cx="447.3" cy="167.2" r="3.9"/><circle cx="462.3" cy="167.6" r="3.9"/><circle cx="463.4" cy="167.2" r="3.8"/><circle cx="464.5" cy="166.5" r="4.0"/><circle cx="465.5" cy="166.3" r="4.1"/><circle cx="466.6" cy="165.5" r="4.0"/><circle cx="467.7" cy="165.4" r="4.2"/><circle cx="468.8" cy="164.6" r="3.8"/><circle cx="469.8" cy="163.9" r="4.0"/><circle cx="470.9" cy="163.2" r="3.8"/><circle cx="472.0" cy="163.1" r="4.2"/><circle cx="473.0" cy="161.7" r="4.0"/><circle cx="474.1" cy="161.3" r="3.9"/><circle cx="475.2" cy="160.0" r="4.1"/><circle cx="476.3" cy="159.6" r="3.9"/><circle cx="477.3" cy="158.1" r="3.9"/><circle cx="478.4" cy="156.9" r="4.2"/><circle cx="479.5" cy="155.7" r="3.9"/><circle cx="480.6" cy="154.9" r="3.8"/><circle cx="481.6" cy="153.0" r="3.8"/><circle cx="482.7" cy="151.6" r="4.0"/><circle cx="483.8" cy="150.6" r="3.8"/><circle cx="484.9" cy="148.6" r="4.1"/><circle cx="485.9" cy="147.2" r="3.9"/><circle cx="487.0" cy="145.5" r="3.9"/><circle cx="488.1" cy="144.7" r="3.8"/><circle cx="489.1" cy="142.7" r="4.1"/><circle cx="490.2" cy="141.9" r="4.2"/><circle cx="491.3" cy="140.3" r="4.2"/><circle cx="492.4" cy="139.3" r="3.9"/><circle cx="493.4" cy="138.2" r="4.1"/><circle cx="494.5" cy="137.5" r="3.8"/><circle cx="495.6" cy="136.3" r="4.2"/></g>
<g fill="#ee2a24"><circle cx="306.7" cy="133.5" r="3.5"/><circle cx="307.5" cy="133.1" r="3.7"/><circle cx="308.3" cy="133.2" r="3.5"/><circle cx="309.1" cy="132.9" r="3.7"/><circle cx="309.9" cy="132.9" r="3.5"/><circle cx="310.7" cy="133.2" r="3.7"/><circle cx="311.5" cy="133.6" r="3.7"/><circle cx="312.3" cy="133.7" r="3.8"/><circle cx="313.1" cy="133.7" r="3.7"/><circle cx="313.9" cy="133.4" r="3.4"/><circle cx="314.7" cy="133.7" r="3.7"/><circle cx="315.5" cy="134.6" r="3.6"/><circle cx="316.3" cy="134.6" r="3.4"/><circle cx="317.1" cy="135.0" r="3.5"/><circle cx="317.9" cy="136.1" r="3.4"/><circle cx="318.8" cy="135.9" r="3.3"/><circle cx="319.6" cy="136.8" r="3.6"/><circle cx="320.4" cy="137.7" r="3.4"/><circle cx="321.2" cy="137.8" r="3.2"/><circle cx="322.0" cy="138.6" r="3.4"/><circle cx="322.8" cy="139.5" r="3.5"/><circle cx="323.6" cy="140.7" r="3.4"/><circle cx="324.4" cy="141.1" r="3.4"/><circle cx="325.2" cy="141.6" r="3.0"/><circle cx="326.0" cy="142.8" r="3.2"/><circle cx="326.8" cy="143.4" r="3.1"/><circle cx="327.6" cy="144.1" r="3.3"/><circle cx="328.4" cy="145.6" r="3.3"/><circle cx="329.2" cy="146.7" r="3.1"/><circle cx="330.0" cy="147.4" r="3.1"/><circle cx="330.8" cy="148.4" r="3.3"/><circle cx="331.6" cy="148.8" r="2.9"/><circle cx="332.4" cy="149.8" r="3.1"/><circle cx="333.2" cy="150.8" r="2.9"/><circle cx="334.0" cy="152.1" r="3.2"/><circle cx="334.9" cy="152.7" r="2.9"/><circle cx="335.7" cy="154.0" r="3.1"/><circle cx="336.5" cy="154.2" r="3.0"/><circle cx="337.3" cy="155.5" r="3.3"/><circle cx="338.1" cy="156.3" r="3.2"/><circle cx="338.9" cy="156.9" r="3.0"/><circle cx="339.7" cy="158.3" r="3.1"/><circle cx="340.5" cy="158.5" r="3.2"/><circle cx="341.3" cy="159.3" r="3.0"/><circle cx="342.1" cy="160.3" r="3.2"/><circle cx="342.9" cy="161.2" r="3.3"/><circle cx="343.7" cy="161.7" r="3.1"/><circle cx="344.5" cy="162.6" r="3.1"/><circle cx="345.3" cy="163.0" r="3.3"/><circle cx="346.1" cy="163.8" r="3.4"/><circle cx="346.9" cy="164.0" r="3.4"/><circle cx="347.7" cy="164.9" r="3.4"/><circle cx="348.5" cy="165.0" r="3.6"/><circle cx="349.3" cy="165.8" r="3.2"/><circle cx="350.1" cy="165.9" r="3.7"/><circle cx="351.0" cy="166.3" r="3.4"/><circle cx="351.8" cy="167.1" r="3.6"/><circle cx="352.6" cy="167.3" r="3.6"/><circle cx="353.4" cy="167.1" r="3.3"/><circle cx="354.2" cy="168.1" r="3.7"/><circle cx="355.0" cy="167.5" r="3.4"/><circle cx="355.8" cy="167.8" r="3.8"/><circle cx="356.6" cy="167.9" r="3.6"/><circle cx="357.4" cy="168.5" r="3.6"/><circle cx="358.2" cy="168.5" r="3.5"/><circle cx="359.0" cy="167.9" r="3.4"/><circle cx="359.8" cy="168.3" r="3.4"/><circle cx="360.6" cy="168.4" r="3.7"/><circle cx="361.4" cy="167.6" r="3.7"/><circle cx="362.2" cy="167.4" r="3.5"/><circle cx="363.0" cy="167.1" r="3.7"/><circle cx="363.8" cy="167.5" r="3.7"/><circle cx="364.6" cy="166.5" r="3.7"/><circle cx="365.4" cy="166.6" r="3.6"/><circle cx="366.2" cy="166.2" r="3.5"/><circle cx="367.1" cy="165.8" r="3.6"/><circle cx="367.9" cy="164.9" r="3.2"/><circle cx="368.7" cy="164.8" r="3.3"/><circle cx="369.5" cy="164.1" r="3.1"/><circle cx="370.3" cy="163.9" r="3.1"/><circle cx="371.1" cy="163.3" r="3.4"/><circle cx="371.9" cy="162.4" r="3.1"/><circle cx="372.7" cy="161.9" r="3.1"/><circle cx="373.5" cy="161.0" r="3.0"/><circle cx="374.3" cy="160.7" r="3.2"/><circle cx="375.1" cy="159.5" r="3.0"/><circle cx="375.9" cy="159.0" r="3.3"/><circle cx="376.7" cy="158.3" r="3.0"/><circle cx="377.5" cy="157.1" r="3.0"/><circle cx="378.3" cy="156.5" r="3.0"/><circle cx="379.1" cy="155.5" r="3.3"/><circle cx="379.9" cy="154.8" r="2.9"/><circle cx="380.7" cy="153.3" r="2.9"/><circle cx="381.5" cy="152.9" r="3.1"/><circle cx="382.4" cy="151.9" r="3.1"/><circle cx="383.2" cy="150.9" r="3.1"/><circle cx="384.0" cy="150.1" r="3.3"/><circle cx="384.8" cy="149.3" r="3.2"/><circle cx="385.6" cy="148.5" r="3.2"/><circle cx="386.4" cy="147.4" r="2.9"/><circle cx="387.2" cy="146.5" r="3.3"/><circle cx="388.0" cy="145.4" r="3.3"/><circle cx="388.8" cy="144.3" r="3.4"/><circle cx="389.6" cy="143.6" r="3.3"/><circle cx="390.4" cy="142.6" r="3.1"/><circle cx="391.2" cy="141.8" r="3.1"/><circle cx="392.0" cy="140.8" r="3.2"/><circle cx="392.8" cy="140.7" r="3.3"/><circle cx="393.6" cy="139.9" r="3.4"/><circle cx="394.4" cy="139.1" r="3.5"/><circle cx="395.2" cy="138.3" r="3.2"/><circle cx="396.0" cy="137.3" r="3.3"/><circle cx="396.8" cy="136.5" r="3.3"/><circle cx="397.6" cy="136.6" r="3.6"/><circle cx="398.4" cy="135.6" r="3.6"/><circle cx="399.3" cy="135.5" r="3.6"/><circle cx="400.1" cy="135.1" r="3.5"/><circle cx="400.9" cy="134.1" r="3.7"/><circle cx="401.7" cy="133.9" r="3.6"/><circle cx="402.5" cy="133.7" r="3.6"/><circle cx="403.3" cy="133.9" r="3.4"/><circle cx="404.1" cy="133.4" r="3.6"/><circle cx="404.9" cy="133.2" r="3.8"/><circle cx="405.7" cy="133.1" r="3.8"/><circle cx="406.5" cy="133.3" r="3.8"/><circle cx="407.3" cy="132.8" r="3.4"/><circle cx="408.1" cy="133.0" r="3.8"/><circle cx="408.9" cy="133.0" r="3.5"/><circle cx="409.7" cy="133.7" r="3.8"/><circle cx="410.5" cy="133.5" r="3.5"/><circle cx="411.3" cy="134.2" r="3.6"/><circle cx="412.1" cy="134.6" r="3.6"/><circle cx="412.9" cy="134.6" r="3.4"/><circle cx="413.7" cy="134.9" r="3.6"/><circle cx="414.6" cy="135.5" r="3.3"/><circle cx="415.4" cy="136.7" r="3.5"/><circle cx="416.2" cy="136.9" r="3.5"/><circle cx="417.0" cy="137.6" r="3.5"/><circle cx="417.8" cy="138.0" r="3.2"/><circle cx="418.6" cy="138.5" r="3.1"/><circle cx="419.4" cy="139.5" r="3.1"/><circle cx="420.2" cy="140.0" r="3.3"/><circle cx="421.0" cy="141.5" r="3.3"/><circle cx="421.8" cy="141.8" r="3.3"/><circle cx="422.6" cy="142.5" r="3.0"/><circle cx="423.4" cy="143.5" r="3.1"/><circle cx="424.2" cy="144.7" r="3.1"/><circle cx="425.0" cy="145.6" r="3.0"/><circle cx="425.8" cy="146.7" r="3.1"/><circle cx="426.6" cy="147.5" r="2.9"/><circle cx="427.4" cy="148.4" r="3.0"/><circle cx="428.2" cy="149.4" r="3.2"/><circle cx="429.0" cy="150.1" r="3.0"/><circle cx="429.8" cy="150.5" r="2.9"/><circle cx="430.6" cy="152.2" r="2.9"/><circle cx="431.5" cy="152.9" r="3.1"/><circle cx="432.3" cy="153.8" r="2.9"/><circle cx="433.1" cy="154.3" r="2.9"/><circle cx="433.9" cy="155.8" r="3.0"/><circle cx="434.7" cy="156.4" r="3.1"/><circle cx="435.5" cy="156.9" r="2.9"/><circle cx="436.3" cy="157.6" r="3.3"/><circle cx="437.1" cy="158.5" r="3.4"/><circle cx="437.9" cy="159.5" r="3.3"/><circle cx="438.7" cy="160.0" r="3.3"/><circle cx="439.5" cy="160.9" r="3.2"/><circle cx="440.3" cy="161.8" r="3.1"/><circle cx="441.1" cy="162.2" r="3.4"/><circle cx="441.9" cy="162.9" r="3.2"/><circle cx="442.7" cy="163.9" r="3.2"/><circle cx="443.5" cy="164.0" r="3.2"/><circle cx="444.3" cy="164.7" r="3.3"/><circle cx="445.1" cy="165.4" r="3.4"/><circle cx="445.9" cy="166.0" r="3.2"/><circle cx="446.8" cy="166.3" r="3.6"/><circle cx="447.6" cy="166.3" r="3.3"/><circle cx="448.4" cy="166.8" r="3.3"/><circle cx="449.2" cy="167.2" r="3.6"/><circle cx="450.0" cy="167.1" r="3.4"/><circle cx="450.8" cy="167.7" r="3.4"/><circle cx="451.6" cy="167.7" r="3.5"/><circle cx="452.4" cy="167.7" r="3.4"/><circle cx="453.2" cy="168.0" r="3.6"/><circle cx="454.0" cy="168.5" r="3.6"/><circle cx="454.8" cy="167.9" r="3.5"/><circle cx="455.6" cy="168.4" r="3.6"/><circle cx="456.4" cy="168.4" r="3.8"/><circle cx="457.2" cy="168.3" r="3.4"/><circle cx="458.0" cy="168.2" r="3.6"/><circle cx="458.8" cy="167.5" r="3.4"/><circle cx="459.6" cy="167.7" r="3.4"/><circle cx="460.4" cy="166.9" r="3.4"/><circle cx="461.2" cy="167.2" r="3.5"/><circle cx="462.0" cy="166.7" r="3.3"/><circle cx="462.9" cy="166.1" r="3.4"/><circle cx="463.7" cy="165.5" r="3.5"/><circle cx="464.5" cy="165.2" r="3.2"/><circle cx="465.3" cy="165.2" r="3.4"/><circle cx="466.1" cy="164.0" r="3.1"/><circle cx="466.9" cy="163.8" r="3.3"/><circle cx="467.7" cy="162.7" r="3.3"/><circle cx="468.5" cy="162.6" r="3.3"/><circle cx="469.3" cy="161.5" r="3.2"/><circle cx="470.1" cy="161.1" r="3.3"/><circle cx="470.9" cy="160.0" r="3.3"/><circle cx="471.7" cy="159.9" r="3.3"/><circle cx="472.5" cy="159.1" r="3.1"/><circle cx="473.3" cy="158.3" r="3.0"/><circle cx="474.1" cy="156.9" r="3.2"/><circle cx="474.9" cy="156.6" r="2.9"/><circle cx="475.7" cy="155.2" r="2.9"/><circle cx="476.5" cy="154.5" r="2.9"/><circle cx="477.3" cy="153.4" r="3.2"/><circle cx="478.1" cy="152.8" r="3.3"/><circle cx="479.0" cy="151.8" r="3.2"/><circle cx="479.8" cy="150.5" r="3.3"/><circle cx="480.6" cy="149.8" r="3.1"/><circle cx="481.4" cy="149.1" r="3.3"/><circle cx="482.2" cy="148.1" r="3.3"/><circle cx="483.0" cy="147.3" r="3.0"/><circle cx="483.8" cy="146.6" r="3.0"/><circle cx="484.6" cy="145.8" r="3.1"/><circle cx="485.4" cy="144.3" r="3.4"/><circle cx="486.2" cy="143.5" r="3.1"/><circle cx="487.0" cy="142.6" r="3.3"/><circle cx="487.8" cy="141.6" r="3.2"/><circle cx="488.6" cy="140.8" r="3.4"/><circle cx="489.4" cy="139.9" r="3.3"/><circle cx="490.2" cy="139.4" r="3.3"/><circle cx="491.0" cy="138.9" r="3.4"/><circle cx="491.8" cy="137.9" r="3.2"/><circle cx="492.6" cy="137.2" r="3.6"/><circle cx="493.4" cy="136.6" r="3.2"/><circle cx="494.2" cy="136.3" r="3.5"/><circle cx="495.1" cy="136.1" r="3.3"/><circle cx="495.9" cy="135.0" r="3.3"/><circle cx="496.7" cy="134.9" r="3.5"/><circle cx="497.5" cy="134.3" r="3.7"/><circle cx="498.3" cy="134.2" r="3.7"/><circle cx="499.1" cy="134.1" r="3.4"/><circle cx="499.9" cy="133.9" r="3.5"/><circle cx="500.7" cy="133.0" r="3.7"/><circle cx="501.5" cy="132.9" r="3.4"/><circle cx="502.3" cy="133.0" r="3.5"/><circle cx="503.1" cy="133.5" r="3.7"/><circle cx="503.9" cy="133.1" r="3.6"/><circle cx="504.7" cy="133.5" r="3.7"/><circle cx="317.4" cy="136.7" r="3.1"/><circle cx="318.5" cy="137.0" r="3.0"/><circle cx="319.6" cy="138.4" r="3.1"/><circle cx="320.6" cy="139.5" r="3.3"/><circle cx="321.7" cy="140.7" r="2.9"/><circle cx="322.8" cy="141.2" r="3.3"/><circle cx="323.9" cy="143.0" r="2.9"/><circle cx="324.9" cy="144.5" r="3.0"/><circle cx="326.0" cy="145.6" r="3.0"/><circle cx="327.1" cy="147.3" r="3.2"/><circle cx="328.1" cy="148.5" r="3.2"/><circle cx="329.2" cy="150.5" r="3.1"/><circle cx="330.3" cy="152.0" r="3.2"/><circle cx="331.4" cy="152.9" r="3.1"/><circle cx="332.4" cy="154.9" r="3.2"/><circle cx="333.5" cy="156.2" r="2.9"/><circle cx="334.6" cy="157.6" r="3.2"/><circle cx="335.7" cy="158.2" r="3.0"/><circle cx="336.7" cy="159.8" r="2.9"/><circle cx="337.8" cy="160.3" r="3.3"/><circle cx="338.9" cy="161.5" r="3.0"/><circle cx="340.0" cy="162.2" r="3.0"/><circle cx="341.0" cy="162.8" r="3.2"/><circle cx="342.1" cy="163.0" r="3.0"/><circle cx="343.2" cy="163.7" r="3.0"/><circle cx="344.2" cy="164.1" r="2.9"/><circle cx="345.3" cy="165.0" r="3.0"/><circle cx="346.4" cy="165.3" r="3.1"/><circle cx="347.5" cy="166.5" r="3.1"/><circle cx="348.5" cy="166.5" r="3.2"/><circle cx="349.6" cy="167.1" r="2.9"/><circle cx="350.7" cy="167.6" r="2.9"/><circle cx="365.7" cy="167.7" r="2.9"/><circle cx="366.8" cy="167.0" r="3.3"/><circle cx="367.9" cy="166.8" r="3.2"/><circle cx="368.9" cy="166.2" r="3.1"/><circle cx="370.0" cy="165.8" r="3.3"/><circle cx="371.1" cy="164.8" r="3.2"/><circle cx="372.2" cy="164.3" r="3.0"/><circle cx="373.2" cy="164.2" r="3.1"/><circle cx="374.3" cy="163.6" r="3.2"/><circle cx="375.4" cy="162.8" r="2.9"/><circle cx="376.4" cy="161.6" r="3.1"/><circle cx="377.5" cy="161.4" r="3.0"/><circle cx="378.6" cy="160.0" r="2.9"/><circle cx="379.7" cy="159.2" r="3.2"/><circle cx="380.7" cy="158.0" r="3.0"/><circle cx="381.8" cy="157.1" r="3.2"/><circle cx="382.9" cy="156.4" r="2.9"/><circle cx="384.0" cy="154.4" r="3.3"/><circle cx="385.0" cy="153.7" r="2.9"/><circle cx="386.1" cy="151.7" r="3.1"/><circle cx="387.2" cy="150.2" r="3.0"/><circle cx="388.3" cy="148.8" r="3.0"/><circle cx="389.3" cy="146.9" r="2.9"/><circle cx="390.4" cy="145.5" r="2.9"/><circle cx="391.5" cy="144.4" r="3.2"/><circle cx="392.5" cy="142.7" r="3.2"/><circle cx="393.6" cy="141.8" r="3.0"/><circle cx="394.7" cy="140.3" r="2.9"/><circle cx="395.8" cy="139.6" r="3.1"/><circle cx="396.8" cy="137.9" r="2.9"/><circle cx="397.9" cy="137.5" r="3.0"/><circle cx="399.0" cy="136.8" r="3.0"/><circle cx="414.0" cy="136.8" r="3.2"/><circle cx="415.1" cy="137.0" r="3.1"/><circle cx="416.2" cy="138.0" r="3.2"/><circle cx="417.2" cy="139.5" r="3.2"/><circle cx="418.3" cy="140.1" r="2.9"/><circle cx="419.4" cy="141.7" r="3.1"/><circle cx="420.5" cy="142.6" r="2.9"/><circle cx="421.5" cy="144.4" r="2.9"/><circle cx="422.6" cy="145.9" r="3.0"/><circle cx="423.7" cy="147.1" r="3.0"/><circle cx="424.7" cy="148.9" r="3.2"/><circle cx="425.8" cy="150.0" r="3.2"/><circle cx="426.9" cy="151.6" r="3.0"/><circle cx="428.0" cy="153.4" r="3.2"/><circle cx="429.0" cy="154.8" r="3.3"/><circle cx="430.1" cy="155.8" r="3.0"/><circle cx="431.2" cy="157.4" r="3.0"/><circle cx="432.3" cy="158.1" r="3.0"/><circle cx="433.3" cy="159.6" r="3.2"/><circle cx="434.4" cy="160.5" r="3.3"/><circle cx="435.5" cy="161.4" r="3.0"/><circle cx="436.6" cy="161.8" r="3.2"/><circle cx="437.6" cy="162.3" r="3.1"/><circle cx="438.7" cy="163.0" r="2.9"/><circle cx="439.8" cy="163.9" r="2.9"/><circle cx="440.8" cy="164.9" r="3.2"/><circle cx="441.9" cy="165.0" r="2.9"/><circle cx="443.0" cy="165.3" r="3.1"/><circle cx="444.1" cy="166.1" r="3.0"/><circle cx="445.1" cy="166.8" r="3.1"/><circle cx="446.2" cy="167.3" r="2.9"/><circle cx="447.3" cy="167.2" r="3.0"/><circle cx="462.3" cy="167.6" r="3.0"/><circle cx="463.4" cy="167.2" r="2.9"/><circle cx="464.5" cy="166.5" r="3.1"/><circle cx="465.5" cy="166.3" r="3.2"/><circle cx="466.6" cy="165.5" r="3.1"/><circle cx="467.7" cy="165.4" r="3.3"/><circle cx="468.8" cy="164.6" r="2.9"/><circle cx="469.8" cy="163.9" r="3.1"/><circle cx="470.9" cy="163.2" r="2.9"/><circle cx="472.0" cy="163.1" r="3.3"/><circle cx="473.0" cy="161.7" r="3.1"/><circle cx="474.1" cy="161.3" r="3.0"/><circle cx="475.2" cy="160.0" r="3.2"/><circle cx="476.3" cy="159.6" r="3.0"/><circle cx="477.3" cy="158.1" r="3.0"/><circle cx="478.4" cy="156.9" r="3.3"/><circle cx="479.5" cy="155.7" r="3.0"/><circle cx="480.6" cy="154.9" r="2.9"/><circle cx="481.6" cy="153.0" r="2.9"/><circle cx="482.7" cy="151.6" r="3.1"/><circle cx="483.8" cy="150.6" r="2.9"/><circle cx="484.9" cy="148.6" r="3.2"/><circle cx="485.9" cy="147.2" r="3.0"/><circle cx="487.0" cy="145.5" r="3.0"/><circle cx="488.1" cy="144.7" r="2.9"/><circle cx="489.1" cy="142.7" r="3.2"/><circle cx="490.2" cy="141.9" r="3.3"/><circle cx="491.3" cy="140.3" r="3.3"/><circle cx="492.4" cy="139.3" r="3.0"/><circle cx="493.4" cy="138.2" r="3.2"/><circle cx="494.5" cy="137.5" r="2.9"/><circle cx="495.6" cy="136.3" r="3.3"/></g>
<path d="M305.3,135.1 305.9,134.9 306.4,134.7 306.9,134.6 307.5,134.5 308.0,134.4 308.6,134.4 309.1,134.3 309.6,134.3 310.2,134.3 310.7,134.3 311.2,134.4 311.8,134.4 312.3,134.5 312.9,134.6 313.4,134.7 313.9,134.9 314.5,135.1 315.0,135.3 315.5,135.5 316.1,135.7 316.6,135.9 317.1,136.2 317.7,136.5 318.2,136.8 318.8,137.1 319.3,137.5 319.8,137.8 320.4,138.2 320.9,138.6 321.4,139.0 322.0,139.4 322.5,139.9 323.0,140.3 323.6,140.8 324.1,141.3 324.7,141.8 325.2,142.3 325.7,142.8 326.3,143.3 326.8,143.9 327.3,144.4 327.9,145.0 328.4,145.6 329.0,146.1 329.5,146.7 330.0,147.3 330.6,147.9 331.1,148.5 331.6,149.1 332.2,149.7 332.7,150.3 333.2,150.9 333.8,151.5 334.3,152.2 334.9,152.8 335.4,153.4 335.9,154.0 336.5,154.6 337.0,155.2 337.5,155.8 338.1,156.4 338.6,157.0 339.1,157.6 339.7,158.1 340.2,158.7 340.8,159.3 341.3,159.8 341.8,160.4 342.4,160.9 342.9,161.4 343.4,161.9 344.0,162.4 344.5,162.9 345.1,163.4 345.6,163.8 346.1,164.3 346.7,164.7 347.2,165.1 347.7,165.5 348.3,165.9 348.8,166.2 349.3,166.6 349.9,166.9 350.4,167.2 351.0,167.5 351.5,167.8 352.0,168.0 352.6,168.2 353.1,168.4 353.6,168.6 354.2,168.8 354.7,169.0 355.2,169.1 355.8,169.2 356.3,169.3 356.9,169.3 357.4,169.4 357.9,169.4 358.5,169.4 359.0,169.4 359.5,169.3 360.1,169.3 360.6,169.2 361.2,169.1 361.7,169.0 362.2,168.8 362.8,168.6 363.3,168.4 363.8,168.2 364.4,168.0 364.9,167.8 365.4,167.5 366.0,167.2 366.5,166.9 367.1,166.6 367.6,166.2 368.1,165.9 368.7,165.5 369.2,165.1 369.7,164.7 370.3,164.3 370.8,163.8 371.3,163.4 371.9,162.9 372.4,162.4 373.0,161.9 373.5,161.4 374.0,160.9 374.6,160.4 375.1,159.8 375.6,159.3 376.2,158.7 376.7,158.1 377.3,157.6 377.8,157.0 378.3,156.4 378.9,155.8 379.4,155.2 379.9,154.6 380.5,154.0 381.0,153.4 381.5,152.8 382.1,152.2 382.6,151.5 383.2,150.9 383.7,150.3 384.2,149.7 384.8,149.1 385.3,148.5 385.8,147.9 386.4,147.3 386.9,146.7 387.4,146.1 388.0,145.6 388.5,145.0 389.1,144.4 389.6,143.9 390.1,143.3 390.7,142.8 391.2,142.3 391.7,141.8 392.3,141.3 392.8,140.8 393.4,140.3 393.9,139.9 394.4,139.4 395.0,139.0 395.5,138.6 396.0,138.2 396.6,137.8 397.1,137.5 397.6,137.1 398.2,136.8 398.7,136.5 399.3,136.2 399.8,135.9 400.3,135.7 400.9,135.5 401.4,135.3 401.9,135.1 402.5,134.9 403.0,134.7 403.5,134.6 404.1,134.5 404.6,134.4 405.2,134.4 405.7,134.3 406.2,134.3 406.8,134.3 407.3,134.3 407.8,134.4 408.4,134.4 408.9,134.5 409.5,134.6 410.0,134.7 410.5,134.9 411.1,135.1 411.6,135.3 412.1,135.5 412.7,135.7 413.2,135.9 413.7,136.2 414.3,136.5 414.8,136.8 415.4,137.1 415.9,137.5 416.4,137.8 417.0,138.2 417.5,138.6 418.0,139.0 418.6,139.4 419.1,139.9 419.6,140.3 420.2,140.8 420.7,141.3 421.3,141.8 421.8,142.3 422.3,142.8 422.9,143.3 423.4,143.9 423.9,144.4 424.5,145.0 425.0,145.6 425.6,146.1 426.1,146.7 426.6,147.3 427.2,147.9 427.7,148.5 428.2,149.1 428.8,149.7 429.3,150.3 429.8,150.9 430.4,151.5 430.9,152.2 431.5,152.8 432.0,153.4 432.5,154.0 433.1,154.6 433.6,155.2 434.1,155.8 434.7,156.4 435.2,157.0 435.7,157.6 436.3,158.1 436.8,158.7 437.4,159.3 437.9,159.8 438.4,160.4 439.0,160.9 439.5,161.4 440.0,161.9 440.6,162.4 441.1,162.9 441.7,163.4 442.2,163.8 442.7,164.3 443.3,164.7 443.8,165.1 444.3,165.5 444.9,165.9 445.4,166.2 445.9,166.6 446.5,166.9 447.0,167.2 447.6,167.5 448.1,167.8 448.6,168.0 449.2,168.2 449.7,168.4 450.2,168.6 450.8,168.8 451.3,169.0 451.8,169.1 452.4,169.2 452.9,169.3 453.5,169.3 454.0,169.4 454.5,169.4 455.1,169.4 455.6,169.4 456.1,169.3 456.7,169.3 457.2,169.2 457.8,169.1 458.3,169.0 458.8,168.8 459.4,168.6 459.9,168.4 460.4,168.2 461.0,168.0 461.5,167.8 462.0,167.5 462.6,167.2 463.1,166.9 463.7,166.6 464.2,166.2 464.7,165.9 465.3,165.5 465.8,165.1 466.3,164.7 466.9,164.3 467.4,163.8 467.9,163.4 468.5,162.9 469.0,162.4 469.6,161.9 470.1,161.4 470.6,160.9 471.2,160.4 471.7,159.8 472.2,159.3 472.8,158.7 473.3,158.1 473.9,157.6 474.4,157.0 474.9,156.4 475.5,155.8 476.0,155.2 476.5,154.6 477.1,154.0 477.6,153.4 478.1,152.8 478.7,152.2 479.2,151.5 479.8,150.9 480.3,150.3 480.8,149.7 481.4,149.1 481.9,148.5 482.4,147.9 483.0,147.3 483.5,146.7 484.0,146.1 484.6,145.6 485.1,145.0 485.7,144.4 486.2,143.9 486.7,143.3 487.3,142.8 487.8,142.3 488.3,141.8 488.9,141.3 489.4,140.8 490.0,140.3 490.5,139.9 491.0,139.4 491.6,139.0 492.1,138.6 492.6,138.2 493.2,137.8 493.7,137.5 494.2,137.1 494.8,136.8 495.3,136.5 495.9,136.2 496.4,135.9 496.9,135.7 497.5,135.5 498.0,135.3 498.5,135.1 499.1,134.9 499.6,134.7 500.1,134.6 500.7,134.5 501.2,134.4 501.8,134.4 502.3,134.3 502.8,134.3 503.4,134.3 503.9,134.3 504.4,134.4 505.0,134.4 505.5,134.5" fill="none" stroke="#000" stroke-width="2.0"/>
<line x1="294.5" y1="131.2" x2="301.0" y2="131.2" stroke="#000" stroke-width="1.8"/>
<line x1="505.2" y1="131.2" x2="518.8" y2="131.2" stroke="#000" stroke-width="1.8"/>
<g fill="#a04f1c"><circle cx="306.7" cy="199.6" r="4.6"/><circle cx="307.5" cy="199.5" r="4.3"/><circle cx="308.3" cy="199.3" r="4.5"/><circle cx="309.1" cy="199.7" r="4.3"/><circle cx="309.9" cy="199.6" r="4.4"/><circle cx="310.7" cy="199.1" r="4.6"/><circle cx="311.5" cy="199.3" r="4.3"/><circle cx="312.3" cy="199.6" r="4.6"/><circle cx="313.1" cy="200.2" r="4.5"/><circle cx="313.9" cy="199.8" r="4.6"/><circle cx="314.7" cy="200.7" r="4.6"/><circle cx="315.5" cy="201.5" r="4.3"/><circle cx="316.3" cy="201.9" r="4.5"/><circle cx="317.1" cy="202.1" r="4.3"/><circle cx="317.9" cy="202.9" r="4.3"/><circle cx="318.8" cy="203.6" r="4.2"/><circle cx="319.6" cy="204.3" r="4.5"/><circle cx="320.4" cy="205.3" r="4.3"/><circle cx="321.2" cy="206.5" r="4.4"/><circle cx="322.0" cy="207.0" r="4.4"/><circle cx="322.8" cy="208.4" r="4.4"/><circle cx="323.6" cy="209.4" r="4.3"/><circle cx="324.4" cy="210.5" r="4.0"/><circle cx="325.2" cy="211.5" r="4.1"/><circle cx="326.0" cy="212.7" r="3.9"/><circle cx="326.8" cy="213.6" r="4.0"/><circle cx="327.6" cy="215.0" r="4.0"/><circle cx="328.4" cy="216.2" r="4.2"/><circle cx="329.2" cy="217.4" r="3.9"/><circle cx="330.0" cy="218.7" r="4.1"/><circle cx="330.8" cy="219.7" r="4.1"/><circle cx="331.6" cy="220.4" r="4.2"/><circle cx="332.4" cy="222.0" r="4.0"/><circle cx="333.2" cy="223.0" r="4.1"/><circle cx="334.0" cy="224.5" r="4.1"/><circle cx="334.9" cy="225.2" r="3.9"/><circle cx="335.7" cy="226.4" r="3.8"/><circle cx="336.5" cy="227.6" r="3.8"/><circle cx="337.3" cy="229.1" r="3.9"/><circle cx="338.1" cy="229.6" r="3.8"/><circle cx="338.9" cy="231.2" r="3.9"/><circle cx="339.7" cy="232.0" r="4.0"/><circle cx="340.5" cy="233.2" r="4.3"/><circle cx="341.3" cy="233.8" r="4.1"/><circle cx="342.1" cy="235.2" r="4.1"/><circle cx="342.9" cy="236.0" r="4.2"/><circle cx="343.7" cy="236.4" r="4.3"/><circle cx="344.5" cy="237.4" r="4.0"/><circle cx="345.3" cy="238.2" r="4.3"/><circle cx="346.1" cy="238.9" r="4.2"/><circle cx="346.9" cy="239.4" r="4.4"/><circle cx="347.7" cy="240.3" r="4.1"/><circle cx="348.5" cy="240.6" r="4.2"/><circle cx="349.3" cy="241.6" r="4.4"/><circle cx="350.1" cy="241.4" r="4.5"/><circle cx="351.0" cy="241.8" r="4.4"/><circle cx="351.8" cy="242.5" r="4.5"/><circle cx="352.6" cy="242.9" r="4.2"/><circle cx="353.4" cy="243.3" r="4.6"/><circle cx="354.2" cy="243.7" r="4.4"/><circle cx="355.0" cy="243.5" r="4.6"/><circle cx="355.8" cy="244.1" r="4.3"/><circle cx="356.6" cy="244.3" r="4.7"/><circle cx="357.4" cy="244.0" r="4.4"/><circle cx="358.2" cy="244.3" r="4.7"/><circle cx="359.0" cy="243.8" r="4.4"/><circle cx="359.8" cy="243.9" r="4.6"/><circle cx="360.6" cy="243.6" r="4.5"/><circle cx="361.4" cy="243.7" r="4.5"/><circle cx="362.2" cy="243.2" r="4.6"/><circle cx="363.0" cy="243.7" r="4.5"/><circle cx="363.8" cy="243.2" r="4.3"/><circle cx="364.6" cy="242.9" r="4.4"/><circle cx="365.4" cy="242.4" r="4.5"/><circle cx="366.2" cy="241.6" r="4.5"/><circle cx="367.1" cy="241.0" r="4.1"/><circle cx="367.9" cy="240.7" r="4.5"/><circle cx="368.7" cy="240.5" r="4.5"/><circle cx="369.5" cy="239.5" r="4.4"/><circle cx="370.3" cy="238.9" r="4.1"/><circle cx="371.1" cy="238.2" r="4.3"/><circle cx="371.9" cy="237.3" r="4.2"/><circle cx="372.7" cy="236.4" r="4.0"/><circle cx="373.5" cy="235.7" r="4.1"/><circle cx="374.3" cy="234.8" r="3.9"/><circle cx="375.1" cy="233.5" r="4.0"/><circle cx="375.9" cy="233.2" r="4.2"/><circle cx="376.7" cy="231.8" r="3.9"/><circle cx="377.5" cy="231.0" r="3.9"/><circle cx="378.3" cy="230.0" r="4.2"/><circle cx="379.1" cy="228.6" r="4.0"/><circle cx="379.9" cy="227.9" r="4.1"/><circle cx="380.7" cy="226.8" r="4.1"/><circle cx="381.5" cy="225.3" r="4.1"/><circle cx="382.4" cy="224.6" r="3.8"/><circle cx="383.2" cy="223.5" r="4.0"/><circle cx="384.0" cy="221.6" r="3.8"/><circle cx="384.8" cy="221.0" r="4.1"/><circle cx="385.6" cy="219.2" r="4.0"/><circle cx="386.4" cy="218.4" r="4.2"/><circle cx="387.2" cy="217.0" r="4.1"/><circle cx="388.0" cy="215.7" r="3.9"/><circle cx="388.8" cy="214.5" r="4.0"/><circle cx="389.6" cy="213.7" r="4.0"/><circle cx="390.4" cy="212.2" r="4.0"/><circle cx="391.2" cy="211.0" r="4.0"/><circle cx="392.0" cy="210.1" r="4.1"/><circle cx="392.8" cy="208.9" r="4.2"/><circle cx="393.6" cy="208.1" r="4.4"/><circle cx="394.4" cy="207.1" r="4.4"/><circle cx="395.2" cy="206.2" r="4.1"/><circle cx="396.0" cy="205.4" r="4.1"/><circle cx="396.8" cy="204.2" r="4.1"/><circle cx="397.6" cy="203.8" r="4.5"/><circle cx="398.4" cy="202.9" r="4.3"/><circle cx="399.3" cy="202.2" r="4.3"/><circle cx="400.1" cy="201.8" r="4.3"/><circle cx="400.9" cy="200.8" r="4.6"/><circle cx="401.7" cy="200.7" r="4.2"/><circle cx="402.5" cy="200.5" r="4.5"/><circle cx="403.3" cy="199.8" r="4.5"/><circle cx="404.1" cy="200.0" r="4.4"/><circle cx="404.9" cy="199.4" r="4.4"/><circle cx="405.7" cy="199.4" r="4.5"/><circle cx="406.5" cy="199.5" r="4.7"/><circle cx="407.3" cy="199.1" r="4.4"/><circle cx="408.1" cy="199.7" r="4.6"/><circle cx="408.9" cy="199.7" r="4.5"/><circle cx="409.7" cy="199.8" r="4.7"/><circle cx="410.5" cy="200.3" r="4.4"/><circle cx="411.3" cy="200.4" r="4.3"/><circle cx="412.1" cy="201.4" r="4.5"/><circle cx="412.9" cy="201.3" r="4.3"/><circle cx="413.7" cy="202.3" r="4.4"/><circle cx="414.6" cy="202.8" r="4.5"/><circle cx="415.4" cy="203.6" r="4.3"/><circle cx="416.2" cy="204.8" r="4.4"/><circle cx="417.0" cy="205.3" r="4.2"/><circle cx="417.8" cy="206.1" r="4.3"/><circle cx="418.6" cy="207.4" r="4.1"/><circle cx="419.4" cy="208.0" r="4.1"/><circle cx="420.2" cy="209.1" r="4.4"/><circle cx="421.0" cy="210.3" r="4.0"/><circle cx="421.8" cy="211.2" r="4.3"/><circle cx="422.6" cy="212.2" r="4.2"/><circle cx="423.4" cy="213.2" r="3.9"/><circle cx="424.2" cy="214.4" r="4.2"/><circle cx="425.0" cy="215.7" r="3.9"/><circle cx="425.8" cy="216.8" r="3.9"/><circle cx="426.6" cy="218.5" r="4.1"/><circle cx="427.4" cy="219.9" r="4.2"/><circle cx="428.2" cy="220.8" r="4.2"/><circle cx="429.0" cy="221.6" r="4.2"/><circle cx="429.8" cy="223.1" r="3.8"/><circle cx="430.6" cy="224.5" r="4.1"/><circle cx="431.5" cy="225.4" r="3.8"/><circle cx="432.3" cy="226.9" r="4.1"/><circle cx="433.1" cy="227.8" r="4.2"/><circle cx="433.9" cy="228.5" r="3.8"/><circle cx="434.7" cy="229.6" r="3.8"/><circle cx="435.5" cy="231.1" r="4.1"/><circle cx="436.3" cy="231.7" r="3.9"/><circle cx="437.1" cy="232.7" r="4.1"/><circle cx="437.9" cy="234.1" r="4.3"/><circle cx="438.7" cy="234.7" r="4.3"/><circle cx="439.5" cy="235.7" r="4.1"/><circle cx="440.3" cy="236.4" r="4.0"/><circle cx="441.1" cy="237.7" r="4.4"/><circle cx="441.9" cy="238.3" r="4.1"/><circle cx="442.7" cy="238.6" r="4.1"/><circle cx="443.5" cy="239.4" r="4.4"/><circle cx="444.3" cy="239.8" r="4.3"/><circle cx="445.1" cy="240.9" r="4.1"/><circle cx="445.9" cy="241.2" r="4.5"/><circle cx="446.8" cy="241.8" r="4.3"/><circle cx="447.6" cy="242.5" r="4.4"/><circle cx="448.4" cy="242.5" r="4.3"/><circle cx="449.2" cy="243.3" r="4.6"/><circle cx="450.0" cy="243.6" r="4.5"/><circle cx="450.8" cy="243.2" r="4.3"/><circle cx="451.6" cy="243.6" r="4.5"/><circle cx="452.4" cy="243.5" r="4.6"/><circle cx="453.2" cy="244.2" r="4.5"/><circle cx="454.0" cy="243.7" r="4.6"/><circle cx="454.8" cy="244.0" r="4.6"/><circle cx="455.6" cy="244.1" r="4.6"/><circle cx="456.4" cy="243.9" r="4.7"/><circle cx="457.2" cy="244.3" r="4.7"/><circle cx="458.0" cy="243.8" r="4.4"/><circle cx="458.8" cy="243.4" r="4.3"/><circle cx="459.6" cy="243.6" r="4.6"/><circle cx="460.4" cy="243.2" r="4.6"/><circle cx="461.2" cy="243.0" r="4.5"/><circle cx="462.0" cy="242.0" r="4.5"/><circle cx="462.9" cy="241.6" r="4.4"/><circle cx="463.7" cy="241.0" r="4.5"/><circle cx="464.5" cy="240.7" r="4.2"/><circle cx="465.3" cy="240.5" r="4.1"/><circle cx="466.1" cy="239.9" r="4.4"/><circle cx="466.9" cy="238.6" r="4.3"/><circle cx="467.7" cy="238.2" r="4.4"/><circle cx="468.5" cy="237.4" r="4.1"/><circle cx="469.3" cy="236.9" r="4.0"/><circle cx="470.1" cy="236.0" r="3.9"/><circle cx="470.9" cy="234.7" r="3.9"/><circle cx="471.7" cy="234.2" r="4.1"/><circle cx="472.5" cy="233.2" r="3.9"/><circle cx="473.3" cy="232.2" r="4.1"/><circle cx="474.1" cy="230.7" r="4.0"/><circle cx="474.9" cy="230.1" r="3.9"/><circle cx="475.7" cy="229.0" r="3.9"/><circle cx="476.5" cy="227.6" r="4.2"/><circle cx="477.3" cy="227.0" r="4.2"/><circle cx="478.1" cy="225.4" r="4.0"/><circle cx="479.0" cy="224.5" r="4.1"/><circle cx="479.8" cy="223.1" r="4.1"/><circle cx="480.6" cy="221.9" r="4.2"/><circle cx="481.4" cy="220.7" r="3.8"/><circle cx="482.2" cy="219.7" r="3.8"/><circle cx="483.0" cy="218.5" r="3.8"/><circle cx="483.8" cy="217.5" r="4.0"/><circle cx="484.6" cy="216.1" r="3.9"/><circle cx="485.4" cy="214.9" r="4.0"/><circle cx="486.2" cy="213.4" r="4.2"/><circle cx="487.0" cy="212.1" r="4.1"/><circle cx="487.8" cy="211.0" r="4.3"/><circle cx="488.6" cy="210.5" r="3.9"/><circle cx="489.4" cy="209.1" r="4.2"/><circle cx="490.2" cy="208.3" r="4.3"/><circle cx="491.0" cy="207.0" r="4.4"/><circle cx="491.8" cy="206.0" r="4.1"/><circle cx="492.6" cy="205.6" r="4.1"/><circle cx="493.4" cy="204.2" r="4.3"/><circle cx="494.2" cy="203.6" r="4.2"/><circle cx="495.1" cy="203.3" r="4.3"/><circle cx="495.9" cy="202.5" r="4.3"/><circle cx="496.7" cy="202.0" r="4.3"/><circle cx="497.5" cy="201.4" r="4.5"/><circle cx="498.3" cy="201.0" r="4.5"/><circle cx="499.1" cy="200.3" r="4.5"/><circle cx="499.9" cy="200.2" r="4.4"/><circle cx="500.7" cy="199.3" r="4.6"/><circle cx="501.5" cy="199.7" r="4.6"/><circle cx="502.3" cy="199.5" r="4.4"/><circle cx="503.1" cy="199.3" r="4.6"/><circle cx="503.9" cy="199.7" r="4.7"/><circle cx="504.7" cy="199.2" r="4.6"/><circle cx="317.4" cy="204.8" r="3.9"/><circle cx="318.5" cy="205.5" r="3.8"/><circle cx="319.6" cy="206.8" r="4.0"/><circle cx="320.6" cy="207.9" r="3.9"/><circle cx="321.7" cy="209.5" r="4.1"/><circle cx="322.8" cy="211.1" r="3.8"/><circle cx="323.9" cy="213.0" r="3.9"/><circle cx="324.9" cy="214.8" r="4.2"/><circle cx="326.0" cy="216.0" r="4.0"/><circle cx="327.1" cy="218.5" r="3.9"/><circle cx="328.1" cy="220.1" r="3.9"/><circle cx="329.2" cy="221.6" r="3.8"/><circle cx="330.3" cy="223.5" r="3.9"/><circle cx="331.4" cy="225.8" r="4.0"/><circle cx="332.4" cy="227.8" r="4.1"/><circle cx="333.5" cy="229.0" r="4.2"/><circle cx="334.6" cy="230.8" r="4.0"/><circle cx="335.7" cy="232.4" r="4.1"/><circle cx="336.7" cy="233.3" r="4.0"/><circle cx="337.8" cy="234.5" r="4.2"/><circle cx="338.9" cy="235.6" r="4.2"/><circle cx="340.0" cy="236.5" r="3.8"/><circle cx="341.0" cy="237.8" r="3.8"/><circle cx="342.1" cy="238.6" r="3.8"/><circle cx="343.2" cy="239.7" r="4.1"/><circle cx="344.2" cy="240.4" r="4.2"/><circle cx="345.3" cy="241.4" r="4.1"/><circle cx="346.4" cy="241.9" r="3.8"/><circle cx="347.5" cy="242.1" r="3.9"/><circle cx="348.5" cy="243.5" r="3.9"/><circle cx="349.6" cy="243.8" r="3.8"/><circle cx="350.7" cy="244.3" r="4.2"/><circle cx="365.7" cy="244.4" r="4.1"/><circle cx="366.8" cy="243.3" r="3.8"/><circle cx="367.9" cy="242.8" r="4.1"/><circle cx="368.9" cy="242.1" r="4.2"/><circle cx="370.0" cy="241.5" r="4.1"/><circle cx="371.1" cy="241.0" r="3.9"/><circle cx="372.2" cy="240.6" r="3.9"/><circle cx="373.2" cy="239.6" r="3.8"/><circle cx="374.3" cy="238.9" r="4.2"/><circle cx="375.4" cy="237.5" r="4.1"/><circle cx="376.4" cy="236.6" r="3.8"/><circle cx="377.5" cy="235.7" r="4.0"/><circle cx="378.6" cy="235.0" r="4.2"/><circle cx="379.7" cy="233.8" r="4.0"/><circle cx="380.7" cy="232.2" r="3.8"/><circle cx="381.8" cy="230.8" r="4.0"/><circle cx="382.9" cy="229.0" r="4.2"/><circle cx="384.0" cy="227.2" r="3.8"/><circle cx="385.0" cy="225.4" r="3.8"/><circle cx="386.1" cy="223.9" r="4.1"/><circle cx="387.2" cy="221.7" r="4.0"/><circle cx="388.3" cy="220.1" r="4.0"/><circle cx="389.3" cy="218.1" r="4.0"/><circle cx="390.4" cy="215.9" r="3.8"/><circle cx="391.5" cy="214.4" r="3.9"/><circle cx="392.5" cy="212.9" r="3.9"/><circle cx="393.6" cy="211.3" r="3.9"/><circle cx="394.7" cy="209.2" r="4.0"/><circle cx="395.8" cy="208.0" r="3.9"/><circle cx="396.8" cy="207.1" r="3.9"/><circle cx="397.9" cy="205.9" r="4.1"/><circle cx="399.0" cy="204.8" r="4.0"/><circle cx="414.0" cy="205.1" r="4.0"/><circle cx="415.1" cy="205.5" r="3.8"/><circle cx="416.2" cy="206.5" r="3.9"/><circle cx="417.2" cy="207.8" r="4.0"/><circle cx="418.3" cy="209.4" r="3.9"/><circle cx="419.4" cy="211.0" r="4.2"/><circle cx="420.5" cy="212.5" r="3.8"/><circle cx="421.5" cy="214.3" r="3.9"/><circle cx="422.6" cy="216.6" r="4.1"/><circle cx="423.7" cy="218.1" r="3.8"/><circle cx="424.7" cy="219.7" r="3.8"/><circle cx="425.8" cy="222.2" r="4.0"/><circle cx="426.9" cy="223.6" r="4.0"/><circle cx="428.0" cy="225.3" r="4.0"/><circle cx="429.0" cy="227.3" r="3.8"/><circle cx="430.1" cy="229.3" r="4.1"/><circle cx="431.2" cy="230.7" r="3.8"/><circle cx="432.3" cy="232.2" r="3.9"/><circle cx="433.3" cy="233.6" r="3.8"/><circle cx="434.4" cy="235.0" r="3.8"/><circle cx="435.5" cy="235.6" r="3.9"/><circle cx="436.6" cy="236.6" r="3.8"/><circle cx="437.6" cy="237.9" r="4.2"/><circle cx="438.7" cy="238.5" r="3.9"/><circle cx="439.8" cy="239.6" r="3.9"/><circle cx="440.8" cy="240.2" r="4.1"/><circle cx="441.9" cy="240.9" r="3.8"/><circle cx="443.0" cy="241.4" r="4.0"/><circle cx="444.1" cy="242.8" r="4.2"/><circle cx="445.1" cy="242.8" r="4.0"/><circle cx="446.2" cy="243.7" r="3.8"/><circle cx="447.3" cy="244.5" r="4.0"/><circle cx="462.3" cy="244.6" r="3.9"/><circle cx="463.4" cy="244.1" r="4.1"/><circle cx="464.5" cy="243.1" r="3.8"/><circle cx="465.5" cy="242.4" r="3.8"/><circle cx="466.6" cy="241.9" r="4.1"/><circle cx="467.7" cy="241.1" r="4.2"/><circle cx="468.8" cy="239.9" r="4.1"/><circle cx="469.8" cy="239.7" r="3.8"/><circle cx="470.9" cy="238.5" r="3.8"/><circle cx="472.0" cy="237.8" r="4.1"/><circle cx="473.0" cy="236.7" r="4.1"/><circle cx="474.1" cy="235.7" r="4.1"/><circle cx="475.2" cy="234.5" r="4.2"/><circle cx="476.3" cy="233.4" r="3.8"/><circle cx="477.3" cy="231.8" r="4.1"/><circle cx="478.4" cy="230.9" r="4.0"/><circle cx="479.5" cy="228.8" r="4.1"/><circle cx="480.6" cy="227.6" r="3.8"/><circle cx="481.6" cy="225.6" r="4.1"/><circle cx="482.7" cy="223.4" r="3.8"/><circle cx="483.8" cy="221.8" r="4.1"/><circle cx="484.9" cy="220.4" r="3.9"/><circle cx="485.9" cy="218.5" r="4.1"/><circle cx="487.0" cy="216.5" r="4.0"/><circle cx="488.1" cy="214.8" r="4.0"/><circle cx="489.1" cy="213.0" r="4.0"/><circle cx="490.2" cy="210.8" r="4.0"/><circle cx="491.3" cy="209.5" r="3.9"/><circle cx="492.4" cy="208.0" r="4.0"/><circle cx="493.4" cy="206.9" r="3.9"/><circle cx="494.5" cy="205.6" r="4.0"/><circle cx="495.6" cy="204.8" r="3.9"/></g>
<g fill="#d86e2a"><circle cx="306.7" cy="199.6" r="3.7"/><circle cx="307.5" cy="199.5" r="3.4"/><circle cx="308.3" cy="199.3" r="3.6"/><circle cx="309.1" cy="199.7" r="3.4"/><circle cx="309.9" cy="199.6" r="3.5"/><circle cx="310.7" cy="199.1" r="3.7"/><circle cx="311.5" cy="199.3" r="3.4"/><circle cx="312.3" cy="199.6" r="3.7"/><circle cx="313.1" cy="200.2" r="3.6"/><circle cx="313.9" cy="199.8" r="3.7"/><circle cx="314.7" cy="200.7" r="3.7"/><circle cx="315.5" cy="201.5" r="3.4"/><circle cx="316.3" cy="201.9" r="3.6"/><circle cx="317.1" cy="202.1" r="3.4"/><circle cx="317.9" cy="202.9" r="3.4"/><circle cx="318.8" cy="203.6" r="3.3"/><circle cx="319.6" cy="204.3" r="3.6"/><circle cx="320.4" cy="205.3" r="3.4"/><circle cx="321.2" cy="206.5" r="3.5"/><circle cx="322.0" cy="207.0" r="3.5"/><circle cx="322.8" cy="208.4" r="3.5"/><circle cx="323.6" cy="209.4" r="3.4"/><circle cx="324.4" cy="210.5" r="3.1"/><circle cx="325.2" cy="211.5" r="3.2"/><circle cx="326.0" cy="212.7" r="3.0"/><circle cx="326.8" cy="213.6" r="3.1"/><circle cx="327.6" cy="215.0" r="3.1"/><circle cx="328.4" cy="216.2" r="3.3"/><circle cx="329.2" cy="217.4" r="3.0"/><circle cx="330.0" cy="218.7" r="3.2"/><circle cx="330.8" cy="219.7" r="3.2"/><circle cx="331.6" cy="220.4" r="3.3"/><circle cx="332.4" cy="222.0" r="3.1"/><circle cx="333.2" cy="223.0" r="3.2"/><circle cx="334.0" cy="224.5" r="3.2"/><circle cx="334.9" cy="225.2" r="3.0"/><circle cx="335.7" cy="226.4" r="2.9"/><circle cx="336.5" cy="227.6" r="2.9"/><circle cx="337.3" cy="229.1" r="3.0"/><circle cx="338.1" cy="229.6" r="2.9"/><circle cx="338.9" cy="231.2" r="3.0"/><circle cx="339.7" cy="232.0" r="3.1"/><circle cx="340.5" cy="233.2" r="3.4"/><circle cx="341.3" cy="233.8" r="3.2"/><circle cx="342.1" cy="235.2" r="3.2"/><circle cx="342.9" cy="236.0" r="3.3"/><circle cx="343.7" cy="236.4" r="3.4"/><circle cx="344.5" cy="237.4" r="3.1"/><circle cx="345.3" cy="238.2" r="3.4"/><circle cx="346.1" cy="238.9" r="3.3"/><circle cx="346.9" cy="239.4" r="3.5"/><circle cx="347.7" cy="240.3" r="3.2"/><circle cx="348.5" cy="240.6" r="3.3"/><circle cx="349.3" cy="241.6" r="3.5"/><circle cx="350.1" cy="241.4" r="3.6"/><circle cx="351.0" cy="241.8" r="3.5"/><circle cx="351.8" cy="242.5" r="3.6"/><circle cx="352.6" cy="242.9" r="3.3"/><circle cx="353.4" cy="243.3" r="3.7"/><circle cx="354.2" cy="243.7" r="3.5"/><circle cx="355.0" cy="243.5" r="3.7"/><circle cx="355.8" cy="244.1" r="3.4"/><circle cx="356.6" cy="244.3" r="3.8"/><circle cx="357.4" cy="244.0" r="3.5"/><circle cx="358.2" cy="244.3" r="3.8"/><circle cx="359.0" cy="243.8" r="3.5"/><circle cx="359.8" cy="243.9" r="3.7"/><circle cx="360.6" cy="243.6" r="3.6"/><circle cx="361.4" cy="243.7" r="3.6"/><circle cx="362.2" cy="243.2" r="3.7"/><circle cx="363.0" cy="243.7" r="3.6"/><circle cx="363.8" cy="243.2" r="3.4"/><circle cx="364.6" cy="242.9" r="3.5"/><circle cx="365.4" cy="242.4" r="3.6"/><circle cx="366.2" cy="241.6" r="3.6"/><circle cx="367.1" cy="241.0" r="3.2"/><circle cx="367.9" cy="240.7" r="3.6"/><circle cx="368.7" cy="240.5" r="3.6"/><circle cx="369.5" cy="239.5" r="3.5"/><circle cx="370.3" cy="238.9" r="3.2"/><circle cx="371.1" cy="238.2" r="3.4"/><circle cx="371.9" cy="237.3" r="3.3"/><circle cx="372.7" cy="236.4" r="3.1"/><circle cx="373.5" cy="235.7" r="3.2"/><circle cx="374.3" cy="234.8" r="3.0"/><circle cx="375.1" cy="233.5" r="3.1"/><circle cx="375.9" cy="233.2" r="3.3"/><circle cx="376.7" cy="231.8" r="3.0"/><circle cx="377.5" cy="231.0" r="3.0"/><circle cx="378.3" cy="230.0" r="3.3"/><circle cx="379.1" cy="228.6" r="3.1"/><circle cx="379.9" cy="227.9" r="3.2"/><circle cx="380.7" cy="226.8" r="3.2"/><circle cx="381.5" cy="225.3" r="3.2"/><circle cx="382.4" cy="224.6" r="2.9"/><circle cx="383.2" cy="223.5" r="3.1"/><circle cx="384.0" cy="221.6" r="2.9"/><circle cx="384.8" cy="221.0" r="3.2"/><circle cx="385.6" cy="219.2" r="3.1"/><circle cx="386.4" cy="218.4" r="3.3"/><circle cx="387.2" cy="217.0" r="3.2"/><circle cx="388.0" cy="215.7" r="3.0"/><circle cx="388.8" cy="214.5" r="3.1"/><circle cx="389.6" cy="213.7" r="3.1"/><circle cx="390.4" cy="212.2" r="3.1"/><circle cx="391.2" cy="211.0" r="3.1"/><circle cx="392.0" cy="210.1" r="3.2"/><circle cx="392.8" cy="208.9" r="3.3"/><circle cx="393.6" cy="208.1" r="3.5"/><circle cx="394.4" cy="207.1" r="3.5"/><circle cx="395.2" cy="206.2" r="3.2"/><circle cx="396.0" cy="205.4" r="3.2"/><circle cx="396.8" cy="204.2" r="3.2"/><circle cx="397.6" cy="203.8" r="3.6"/><circle cx="398.4" cy="202.9" r="3.4"/><circle cx="399.3" cy="202.2" r="3.4"/><circle cx="400.1" cy="201.8" r="3.4"/><circle cx="400.9" cy="200.8" r="3.7"/><circle cx="401.7" cy="200.7" r="3.3"/><circle cx="402.5" cy="200.5" r="3.6"/><circle cx="403.3" cy="199.8" r="3.6"/><circle cx="404.1" cy="200.0" r="3.5"/><circle cx="404.9" cy="199.4" r="3.5"/><circle cx="405.7" cy="199.4" r="3.6"/><circle cx="406.5" cy="199.5" r="3.8"/><circle cx="407.3" cy="199.1" r="3.5"/><circle cx="408.1" cy="199.7" r="3.7"/><circle cx="408.9" cy="199.7" r="3.6"/><circle cx="409.7" cy="199.8" r="3.8"/><circle cx="410.5" cy="200.3" r="3.5"/><circle cx="411.3" cy="200.4" r="3.4"/><circle cx="412.1" cy="201.4" r="3.6"/><circle cx="412.9" cy="201.3" r="3.4"/><circle cx="413.7" cy="202.3" r="3.5"/><circle cx="414.6" cy="202.8" r="3.6"/><circle cx="415.4" cy="203.6" r="3.4"/><circle cx="416.2" cy="204.8" r="3.5"/><circle cx="417.0" cy="205.3" r="3.3"/><circle cx="417.8" cy="206.1" r="3.4"/><circle cx="418.6" cy="207.4" r="3.2"/><circle cx="419.4" cy="208.0" r="3.2"/><circle cx="420.2" cy="209.1" r="3.5"/><circle cx="421.0" cy="210.3" r="3.1"/><circle cx="421.8" cy="211.2" r="3.4"/><circle cx="422.6" cy="212.2" r="3.3"/><circle cx="423.4" cy="213.2" r="3.0"/><circle cx="424.2" cy="214.4" r="3.3"/><circle cx="425.0" cy="215.7" r="3.0"/><circle cx="425.8" cy="216.8" r="3.0"/><circle cx="426.6" cy="218.5" r="3.2"/><circle cx="427.4" cy="219.9" r="3.3"/><circle cx="428.2" cy="220.8" r="3.3"/><circle cx="429.0" cy="221.6" r="3.3"/><circle cx="429.8" cy="223.1" r="2.9"/><circle cx="430.6" cy="224.5" r="3.2"/><circle cx="431.5" cy="225.4" r="2.9"/><circle cx="432.3" cy="226.9" r="3.2"/><circle cx="433.1" cy="227.8" r="3.3"/><circle cx="433.9" cy="228.5" r="2.9"/><circle cx="434.7" cy="229.6" r="2.9"/><circle cx="435.5" cy="231.1" r="3.2"/><circle cx="436.3" cy="231.7" r="3.0"/><circle cx="437.1" cy="232.7" r="3.2"/><circle cx="437.9" cy="234.1" r="3.4"/><circle cx="438.7" cy="234.7" r="3.4"/><circle cx="439.5" cy="235.7" r="3.2"/><circle cx="440.3" cy="236.4" r="3.1"/><circle cx="441.1" cy="237.7" r="3.5"/><circle cx="441.9" cy="238.3" r="3.2"/><circle cx="442.7" cy="238.6" r="3.2"/><circle cx="443.5" cy="239.4" r="3.5"/><circle cx="444.3" cy="239.8" r="3.4"/><circle cx="445.1" cy="240.9" r="3.2"/><circle cx="445.9" cy="241.2" r="3.6"/><circle cx="446.8" cy="241.8" r="3.4"/><circle cx="447.6" cy="242.5" r="3.5"/><circle cx="448.4" cy="242.5" r="3.4"/><circle cx="449.2" cy="243.3" r="3.7"/><circle cx="450.0" cy="243.6" r="3.6"/><circle cx="450.8" cy="243.2" r="3.4"/><circle cx="451.6" cy="243.6" r="3.6"/><circle cx="452.4" cy="243.5" r="3.7"/><circle cx="453.2" cy="244.2" r="3.6"/><circle cx="454.0" cy="243.7" r="3.7"/><circle cx="454.8" cy="244.0" r="3.7"/><circle cx="455.6" cy="244.1" r="3.7"/><circle cx="456.4" cy="243.9" r="3.8"/><circle cx="457.2" cy="244.3" r="3.8"/><circle cx="458.0" cy="243.8" r="3.5"/><circle cx="458.8" cy="243.4" r="3.4"/><circle cx="459.6" cy="243.6" r="3.7"/><circle cx="460.4" cy="243.2" r="3.7"/><circle cx="461.2" cy="243.0" r="3.6"/><circle cx="462.0" cy="242.0" r="3.6"/><circle cx="462.9" cy="241.6" r="3.5"/><circle cx="463.7" cy="241.0" r="3.6"/><circle cx="464.5" cy="240.7" r="3.3"/><circle cx="465.3" cy="240.5" r="3.2"/><circle cx="466.1" cy="239.9" r="3.5"/><circle cx="466.9" cy="238.6" r="3.4"/><circle cx="467.7" cy="238.2" r="3.5"/><circle cx="468.5" cy="237.4" r="3.2"/><circle cx="469.3" cy="236.9" r="3.1"/><circle cx="470.1" cy="236.0" r="3.0"/><circle cx="470.9" cy="234.7" r="3.0"/><circle cx="471.7" cy="234.2" r="3.2"/><circle cx="472.5" cy="233.2" r="3.0"/><circle cx="473.3" cy="232.2" r="3.2"/><circle cx="474.1" cy="230.7" r="3.1"/><circle cx="474.9" cy="230.1" r="3.0"/><circle cx="475.7" cy="229.0" r="3.0"/><circle cx="476.5" cy="227.6" r="3.3"/><circle cx="477.3" cy="227.0" r="3.3"/><circle cx="478.1" cy="225.4" r="3.1"/><circle cx="479.0" cy="224.5" r="3.2"/><circle cx="479.8" cy="223.1" r="3.2"/><circle cx="480.6" cy="221.9" r="3.3"/><circle cx="481.4" cy="220.7" r="2.9"/><circle cx="482.2" cy="219.7" r="2.9"/><circle cx="483.0" cy="218.5" r="2.9"/><circle cx="483.8" cy="217.5" r="3.1"/><circle cx="484.6" cy="216.1" r="3.0"/><circle cx="485.4" cy="214.9" r="3.1"/><circle cx="486.2" cy="213.4" r="3.3"/><circle cx="487.0" cy="212.1" r="3.2"/><circle cx="487.8" cy="211.0" r="3.4"/><circle cx="488.6" cy="210.5" r="3.0"/><circle cx="489.4" cy="209.1" r="3.3"/><circle cx="490.2" cy="208.3" r="3.4"/><circle cx="491.0" cy="207.0" r="3.5"/><circle cx="491.8" cy="206.0" r="3.2"/><circle cx="492.6" cy="205.6" r="3.2"/><circle cx="493.4" cy="204.2" r="3.4"/><circle cx="494.2" cy="203.6" r="3.3"/><circle cx="495.1" cy="203.3" r="3.4"/><circle cx="495.9" cy="202.5" r="3.4"/><circle cx="496.7" cy="202.0" r="3.4"/><circle cx="497.5" cy="201.4" r="3.6"/><circle cx="498.3" cy="201.0" r="3.6"/><circle cx="499.1" cy="200.3" r="3.6"/><circle cx="499.9" cy="200.2" r="3.5"/><circle cx="500.7" cy="199.3" r="3.7"/><circle cx="501.5" cy="199.7" r="3.7"/><circle cx="502.3" cy="199.5" r="3.5"/><circle cx="503.1" cy="199.3" r="3.7"/><circle cx="503.9" cy="199.7" r="3.8"/><circle cx="504.7" cy="199.2" r="3.7"/><circle cx="317.4" cy="204.8" r="3.0"/><circle cx="318.5" cy="205.5" r="2.9"/><circle cx="319.6" cy="206.8" r="3.1"/><circle cx="320.6" cy="207.9" r="3.0"/><circle cx="321.7" cy="209.5" r="3.2"/><circle cx="322.8" cy="211.1" r="2.9"/><circle cx="323.9" cy="213.0" r="3.0"/><circle cx="324.9" cy="214.8" r="3.3"/><circle cx="326.0" cy="216.0" r="3.1"/><circle cx="327.1" cy="218.5" r="3.0"/><circle cx="328.1" cy="220.1" r="3.0"/><circle cx="329.2" cy="221.6" r="2.9"/><circle cx="330.3" cy="223.5" r="3.0"/><circle cx="331.4" cy="225.8" r="3.1"/><circle cx="332.4" cy="227.8" r="3.2"/><circle cx="333.5" cy="229.0" r="3.3"/><circle cx="334.6" cy="230.8" r="3.1"/><circle cx="335.7" cy="232.4" r="3.2"/><circle cx="336.7" cy="233.3" r="3.1"/><circle cx="337.8" cy="234.5" r="3.3"/><circle cx="338.9" cy="235.6" r="3.3"/><circle cx="340.0" cy="236.5" r="2.9"/><circle cx="341.0" cy="237.8" r="2.9"/><circle cx="342.1" cy="238.6" r="2.9"/><circle cx="343.2" cy="239.7" r="3.2"/><circle cx="344.2" cy="240.4" r="3.3"/><circle cx="345.3" cy="241.4" r="3.2"/><circle cx="346.4" cy="241.9" r="2.9"/><circle cx="347.5" cy="242.1" r="3.0"/><circle cx="348.5" cy="243.5" r="3.0"/><circle cx="349.6" cy="243.8" r="2.9"/><circle cx="350.7" cy="244.3" r="3.3"/><circle cx="365.7" cy="244.4" r="3.2"/><circle cx="366.8" cy="243.3" r="2.9"/><circle cx="367.9" cy="242.8" r="3.2"/><circle cx="368.9" cy="242.1" r="3.3"/><circle cx="370.0" cy="241.5" r="3.2"/><circle cx="371.1" cy="241.0" r="3.0"/><circle cx="372.2" cy="240.6" r="3.0"/><circle cx="373.2" cy="239.6" r="2.9"/><circle cx="374.3" cy="238.9" r="3.3"/><circle cx="375.4" cy="237.5" r="3.2"/><circle cx="376.4" cy="236.6" r="2.9"/><circle cx="377.5" cy="235.7" r="3.1"/><circle cx="378.6" cy="235.0" r="3.3"/><circle cx="379.7" cy="233.8" r="3.1"/><circle cx="380.7" cy="232.2" r="2.9"/><circle cx="381.8" cy="230.8" r="3.1"/><circle cx="382.9" cy="229.0" r="3.3"/><circle cx="384.0" cy="227.2" r="2.9"/><circle cx="385.0" cy="225.4" r="2.9"/><circle cx="386.1" cy="223.9" r="3.2"/><circle cx="387.2" cy="221.7" r="3.1"/><circle cx="388.3" cy="220.1" r="3.1"/><circle cx="389.3" cy="218.1" r="3.1"/><circle cx="390.4" cy="215.9" r="2.9"/><circle cx="391.5" cy="214.4" r="3.0"/><circle cx="392.5" cy="212.9" r="3.0"/><circle cx="393.6" cy="211.3" r="3.0"/><circle cx="394.7" cy="209.2" r="3.1"/><circle cx="395.8" cy="208.0" r="3.0"/><circle cx="396.8" cy="207.1" r="3.0"/><circle cx="397.9" cy="205.9" r="3.2"/><circle cx="399.0" cy="204.8" r="3.1"/><circle cx="414.0" cy="205.1" r="3.1"/><circle cx="415.1" cy="205.5" r="2.9"/><circle cx="416.2" cy="206.5" r="3.0"/><circle cx="417.2" cy="207.8" r="3.1"/><circle cx="418.3" cy="209.4" r="3.0"/><circle cx="419.4" cy="211.0" r="3.3"/><circle cx="420.5" cy="212.5" r="2.9"/><circle cx="421.5" cy="214.3" r="3.0"/><circle cx="422.6" cy="216.6" r="3.2"/><circle cx="423.7" cy="218.1" r="2.9"/><circle cx="424.7" cy="219.7" r="2.9"/><circle cx="425.8" cy="222.2" r="3.1"/><circle cx="426.9" cy="223.6" r="3.1"/><circle cx="428.0" cy="225.3" r="3.1"/><circle cx="429.0" cy="227.3" r="2.9"/><circle cx="430.1" cy="229.3" r="3.2"/><circle cx="431.2" cy="230.7" r="2.9"/><circle cx="432.3" cy="232.2" r="3.0"/><circle cx="433.3" cy="233.6" r="2.9"/><circle cx="434.4" cy="235.0" r="2.9"/><circle cx="435.5" cy="235.6" r="3.0"/><circle cx="436.6" cy="236.6" r="2.9"/><circle cx="437.6" cy="237.9" r="3.3"/><circle cx="438.7" cy="238.5" r="3.0"/><circle cx="439.8" cy="239.6" r="3.0"/><circle cx="440.8" cy="240.2" r="3.2"/><circle cx="441.9" cy="240.9" r="2.9"/><circle cx="443.0" cy="241.4" r="3.1"/><circle cx="444.1" cy="242.8" r="3.3"/><circle cx="445.1" cy="242.8" r="3.1"/><circle cx="446.2" cy="243.7" r="2.9"/><circle cx="447.3" cy="244.5" r="3.1"/><circle cx="462.3" cy="244.6" r="3.0"/><circle cx="463.4" cy="244.1" r="3.2"/><circle cx="464.5" cy="243.1" r="2.9"/><circle cx="465.5" cy="242.4" r="2.9"/><circle cx="466.6" cy="241.9" r="3.2"/><circle cx="467.7" cy="241.1" r="3.3"/><circle cx="468.8" cy="239.9" r="3.2"/><circle cx="469.8" cy="239.7" r="2.9"/><circle cx="470.9" cy="238.5" r="2.9"/><circle cx="472.0" cy="237.8" r="3.2"/><circle cx="473.0" cy="236.7" r="3.2"/><circle cx="474.1" cy="235.7" r="3.2"/><circle cx="475.2" cy="234.5" r="3.3"/><circle cx="476.3" cy="233.4" r="2.9"/><circle cx="477.3" cy="231.8" r="3.2"/><circle cx="478.4" cy="230.9" r="3.1"/><circle cx="479.5" cy="228.8" r="3.2"/><circle cx="480.6" cy="227.6" r="2.9"/><circle cx="481.6" cy="225.6" r="3.2"/><circle cx="482.7" cy="223.4" r="2.9"/><circle cx="483.8" cy="221.8" r="3.2"/><circle cx="484.9" cy="220.4" r="3.0"/><circle cx="485.9" cy="218.5" r="3.2"/><circle cx="487.0" cy="216.5" r="3.1"/><circle cx="488.1" cy="214.8" r="3.1"/><circle cx="489.1" cy="213.0" r="3.1"/><circle cx="490.2" cy="210.8" r="3.1"/><circle cx="491.3" cy="209.5" r="3.0"/><circle cx="492.4" cy="208.0" r="3.1"/><circle cx="493.4" cy="206.9" r="3.0"/><circle cx="494.5" cy="205.6" r="3.1"/><circle cx="495.6" cy="204.8" r="3.0"/></g>
<path d="M305.3,202.9 305.9,202.7 306.4,202.5 306.9,202.3 307.5,202.2 308.0,202.1 308.6,202.0 309.1,201.9 309.6,201.9 310.2,201.9 310.7,201.9 311.2,202.0 311.8,202.1 312.3,202.2 312.9,202.3 313.4,202.5 313.9,202.7 314.5,202.9 315.0,203.1 315.5,203.4 316.1,203.7 316.6,204.0 317.1,204.3 317.7,204.7 318.2,205.1 318.8,205.5 319.3,206.0 319.8,206.4 320.4,206.9 320.9,207.4 321.4,207.9 322.0,208.5 322.5,209.0 323.0,209.6 323.6,210.2 324.1,210.8 324.7,211.5 325.2,212.1 325.7,212.8 326.3,213.4 326.8,214.1 327.3,214.8 327.9,215.5 328.4,216.3 329.0,217.0 329.5,217.8 330.0,218.5 330.6,219.3 331.1,220.0 331.6,220.8 332.2,221.6 332.7,222.3 333.2,223.1 333.8,223.9 334.3,224.7 334.9,225.5 335.4,226.3 335.9,227.0 336.5,227.8 337.0,228.6 337.5,229.3 338.1,230.1 338.6,230.8 339.1,231.6 339.7,232.3 340.2,233.1 340.8,233.8 341.3,234.5 341.8,235.2 342.4,235.8 342.9,236.5 343.4,237.1 344.0,237.8 344.5,238.4 345.1,239.0 345.6,239.6 346.1,240.1 346.7,240.7 347.2,241.2 347.7,241.7 348.3,242.2 348.8,242.6 349.3,243.1 349.9,243.5 350.4,243.9 351.0,244.3 351.5,244.6 352.0,244.9 352.6,245.2 353.1,245.5 353.6,245.7 354.2,245.9 354.7,246.1 355.2,246.3 355.8,246.4 356.3,246.5 356.9,246.6 357.4,246.7 357.9,246.7 358.5,246.7 359.0,246.7 359.5,246.6 360.1,246.5 360.6,246.4 361.2,246.3 361.7,246.1 362.2,245.9 362.8,245.7 363.3,245.5 363.8,245.2 364.4,244.9 364.9,244.6 365.4,244.3 366.0,243.9 366.5,243.5 367.1,243.1 367.6,242.6 368.1,242.2 368.7,241.7 369.2,241.2 369.7,240.7 370.3,240.1 370.8,239.6 371.3,239.0 371.9,238.4 372.4,237.8 373.0,237.1 373.5,236.5 374.0,235.8 374.6,235.2 375.1,234.5 375.6,233.8 376.2,233.1 376.7,232.3 377.3,231.6 377.8,230.8 378.3,230.1 378.9,229.3 379.4,228.6 379.9,227.8 380.5,227.0 381.0,226.3 381.5,225.5 382.1,224.7 382.6,223.9 383.2,223.1 383.7,222.3 384.2,221.6 384.8,220.8 385.3,220.0 385.8,219.3 386.4,218.5 386.9,217.8 387.4,217.0 388.0,216.3 388.5,215.5 389.1,214.8 389.6,214.1 390.1,213.4 390.7,212.8 391.2,212.1 391.7,211.5 392.3,210.8 392.8,210.2 393.4,209.6 393.9,209.0 394.4,208.5 395.0,207.9 395.5,207.4 396.0,206.9 396.6,206.4 397.1,206.0 397.6,205.5 398.2,205.1 398.7,204.7 399.3,204.3 399.8,204.0 400.3,203.7 400.9,203.4 401.4,203.1 401.9,202.9 402.5,202.7 403.0,202.5 403.5,202.3 404.1,202.2 404.6,202.1 405.2,202.0 405.7,201.9 406.2,201.9 406.8,201.9 407.3,201.9 407.8,202.0 408.4,202.1 408.9,202.2 409.5,202.3 410.0,202.5 410.5,202.7 411.1,202.9 411.6,203.1 412.1,203.4 412.7,203.7 413.2,204.0 413.7,204.3 414.3,204.7 414.8,205.1 415.4,205.5 415.9,206.0 416.4,206.4 417.0,206.9 417.5,207.4 418.0,207.9 418.6,208.5 419.1,209.0 419.6,209.6 420.2,210.2 420.7,210.8 421.3,211.5 421.8,212.1 422.3,212.8 422.9,213.4 423.4,214.1 423.9,214.8 424.5,215.5 425.0,216.3 425.6,217.0 426.1,217.8 426.6,218.5 427.2,219.3 427.7,220.0 428.2,220.8 428.8,221.6 429.3,222.3 429.8,223.1 430.4,223.9 430.9,224.7 431.5,225.5 432.0,226.3 432.5,227.0 433.1,227.8 433.6,228.6 434.1,229.3 434.7,230.1 435.2,230.8 435.7,231.6 436.3,232.3 436.8,233.1 437.4,233.8 437.9,234.5 438.4,235.2 439.0,235.8 439.5,236.5 440.0,237.1 440.6,237.8 441.1,238.4 441.7,239.0 442.2,239.6 442.7,240.1 443.3,240.7 443.8,241.2 444.3,241.7 444.9,242.2 445.4,242.6 445.9,243.1 446.5,243.5 447.0,243.9 447.6,244.3 448.1,244.6 448.6,244.9 449.2,245.2 449.7,245.5 450.2,245.7 450.8,245.9 451.3,246.1 451.8,246.3 452.4,246.4 452.9,246.5 453.5,246.6 454.0,246.7 454.5,246.7 455.1,246.7 455.6,246.7 456.1,246.6 456.7,246.5 457.2,246.4 457.8,246.3 458.3,246.1 458.8,245.9 459.4,245.7 459.9,245.5 460.4,245.2 461.0,244.9 461.5,244.6 462.0,244.3 462.6,243.9 463.1,243.5 463.7,243.1 464.2,242.6 464.7,242.2 465.3,241.7 465.8,241.2 466.3,240.7 466.9,240.1 467.4,239.6 467.9,239.0 468.5,238.4 469.0,237.8 469.6,237.1 470.1,236.5 470.6,235.8 471.2,235.2 471.7,234.5 472.2,233.8 472.8,233.1 473.3,232.3 473.9,231.6 474.4,230.8 474.9,230.1 475.5,229.3 476.0,228.6 476.5,227.8 477.1,227.0 477.6,226.3 478.1,225.5 478.7,224.7 479.2,223.9 479.8,223.1 480.3,222.3 480.8,221.6 481.4,220.8 481.9,220.0 482.4,219.3 483.0,218.5 483.5,217.8 484.0,217.0 484.6,216.3 485.1,215.5 485.7,214.8 486.2,214.1 486.7,213.4 487.3,212.8 487.8,212.1 488.3,211.5 488.9,210.8 489.4,210.2 490.0,209.6 490.5,209.0 491.0,208.5 491.6,207.9 492.1,207.4 492.6,206.9 493.2,206.4 493.7,206.0 494.2,205.5 494.8,205.1 495.3,204.7 495.9,204.3 496.4,204.0 496.9,203.7 497.5,203.4 498.0,203.1 498.5,202.9 499.1,202.7 499.6,202.5 500.1,202.3 500.7,202.2 501.2,202.1 501.8,202.0 502.3,201.9 502.8,201.9 503.4,201.9 503.9,201.9 504.4,202.0 505.0,202.1 505.5,202.2" fill="none" stroke="#000" stroke-width="2.0"/>
<line x1="294.5" y1="198.5" x2="301.0" y2="198.5" stroke="#000" stroke-width="1.8"/>
<line x1="505.2" y1="198.5" x2="518.8" y2="198.5" stroke="#000" stroke-width="1.8"/>
<g fill="#222248"><circle cx="306.7" cy="265.5" r="4.3"/><circle cx="307.5" cy="265.1" r="4.4"/><circle cx="308.3" cy="265.0" r="4.6"/><circle cx="309.1" cy="264.9" r="4.5"/><circle cx="309.9" cy="264.4" r="4.7"/><circle cx="310.7" cy="264.7" r="4.4"/><circle cx="311.5" cy="264.6" r="4.4"/><circle cx="312.3" cy="265.2" r="4.6"/><circle cx="313.1" cy="265.4" r="4.6"/><circle cx="313.9" cy="265.6" r="4.4"/><circle cx="314.7" cy="266.3" r="4.3"/><circle cx="315.5" cy="266.9" r="4.5"/><circle cx="316.3" cy="268.0" r="4.3"/><circle cx="317.1" cy="268.4" r="4.5"/><circle cx="317.9" cy="269.6" r="4.4"/><circle cx="318.8" cy="270.6" r="4.4"/><circle cx="319.6" cy="271.4" r="4.1"/><circle cx="320.4" cy="272.6" r="4.1"/><circle cx="321.2" cy="274.3" r="4.3"/><circle cx="322.0" cy="275.4" r="4.4"/><circle cx="322.8" cy="276.8" r="4.1"/><circle cx="323.6" cy="277.8" r="4.0"/><circle cx="324.4" cy="279.7" r="4.3"/><circle cx="325.2" cy="280.9" r="4.1"/><circle cx="326.0" cy="282.3" r="4.1"/><circle cx="326.8" cy="284.2" r="4.3"/><circle cx="327.6" cy="286.0" r="4.2"/><circle cx="328.4" cy="287.3" r="4.0"/><circle cx="329.2" cy="288.8" r="4.2"/><circle cx="330.0" cy="290.4" r="3.9"/><circle cx="330.8" cy="292.2" r="4.2"/><circle cx="331.6" cy="294.3" r="3.9"/><circle cx="332.4" cy="296.0" r="4.2"/><circle cx="333.2" cy="297.4" r="3.8"/><circle cx="334.0" cy="299.3" r="3.9"/><circle cx="334.9" cy="300.5" r="4.2"/><circle cx="335.7" cy="302.4" r="3.9"/><circle cx="336.5" cy="304.1" r="3.9"/><circle cx="337.3" cy="305.3" r="3.9"/><circle cx="338.1" cy="307.1" r="3.8"/><circle cx="338.9" cy="308.7" r="4.1"/><circle cx="339.7" cy="310.1" r="4.1"/><circle cx="340.5" cy="311.8" r="3.9"/><circle cx="341.3" cy="312.8" r="4.2"/><circle cx="342.1" cy="314.6" r="4.0"/><circle cx="342.9" cy="315.6" r="4.3"/><circle cx="343.7" cy="317.4" r="4.0"/><circle cx="344.5" cy="318.3" r="4.2"/><circle cx="345.3" cy="319.3" r="4.0"/><circle cx="346.1" cy="320.4" r="4.3"/><circle cx="346.9" cy="321.6" r="4.3"/><circle cx="347.7" cy="322.2" r="4.1"/><circle cx="348.5" cy="323.2" r="4.3"/><circle cx="349.3" cy="324.1" r="4.5"/><circle cx="350.1" cy="324.6" r="4.6"/><circle cx="351.0" cy="325.4" r="4.5"/><circle cx="351.8" cy="326.1" r="4.4"/><circle cx="352.6" cy="326.7" r="4.2"/><circle cx="353.4" cy="327.5" r="4.6"/><circle cx="354.2" cy="327.5" r="4.6"/><circle cx="355.0" cy="328.0" r="4.7"/><circle cx="355.8" cy="327.9" r="4.4"/><circle cx="356.6" cy="328.2" r="4.5"/><circle cx="357.4" cy="328.8" r="4.6"/><circle cx="358.2" cy="328.6" r="4.4"/><circle cx="359.0" cy="328.8" r="4.3"/><circle cx="359.8" cy="328.3" r="4.6"/><circle cx="360.6" cy="328.2" r="4.7"/><circle cx="361.4" cy="327.7" r="4.4"/><circle cx="362.2" cy="327.5" r="4.2"/><circle cx="363.0" cy="327.0" r="4.2"/><circle cx="363.8" cy="326.7" r="4.4"/><circle cx="364.6" cy="326.3" r="4.3"/><circle cx="365.4" cy="325.8" r="4.4"/><circle cx="366.2" cy="325.4" r="4.2"/><circle cx="367.1" cy="324.2" r="4.3"/><circle cx="367.9" cy="323.3" r="4.5"/><circle cx="368.7" cy="322.3" r="4.4"/><circle cx="369.5" cy="321.5" r="4.2"/><circle cx="370.3" cy="320.7" r="4.3"/><circle cx="371.1" cy="319.4" r="4.0"/><circle cx="371.9" cy="318.8" r="4.1"/><circle cx="372.7" cy="316.9" r="4.2"/><circle cx="373.5" cy="316.0" r="4.0"/><circle cx="374.3" cy="314.6" r="4.3"/><circle cx="375.1" cy="313.3" r="4.0"/><circle cx="375.9" cy="312.4" r="4.0"/><circle cx="376.7" cy="310.5" r="3.9"/><circle cx="377.5" cy="309.3" r="4.1"/><circle cx="378.3" cy="307.6" r="4.0"/><circle cx="379.1" cy="305.9" r="4.1"/><circle cx="379.9" cy="304.5" r="4.1"/><circle cx="380.7" cy="302.9" r="4.1"/><circle cx="381.5" cy="301.0" r="3.9"/><circle cx="382.4" cy="300.1" r="4.1"/><circle cx="383.2" cy="298.2" r="4.0"/><circle cx="384.0" cy="296.4" r="3.8"/><circle cx="384.8" cy="294.5" r="4.1"/><circle cx="385.6" cy="293.3" r="3.9"/><circle cx="386.4" cy="291.6" r="3.8"/><circle cx="387.2" cy="290.0" r="3.9"/><circle cx="388.0" cy="288.3" r="4.0"/><circle cx="388.8" cy="286.7" r="3.9"/><circle cx="389.6" cy="285.1" r="4.1"/><circle cx="390.4" cy="283.3" r="4.0"/><circle cx="391.2" cy="282.2" r="4.1"/><circle cx="392.0" cy="280.7" r="4.3"/><circle cx="392.8" cy="279.3" r="4.0"/><circle cx="393.6" cy="277.8" r="4.3"/><circle cx="394.4" cy="276.6" r="4.3"/><circle cx="395.2" cy="275.2" r="4.2"/><circle cx="396.0" cy="274.5" r="4.4"/><circle cx="396.8" cy="273.2" r="4.1"/><circle cx="397.6" cy="272.1" r="4.1"/><circle cx="398.4" cy="271.4" r="4.6"/><circle cx="399.3" cy="270.4" r="4.3"/><circle cx="400.1" cy="269.6" r="4.2"/><circle cx="400.9" cy="268.9" r="4.4"/><circle cx="401.7" cy="267.7" r="4.6"/><circle cx="402.5" cy="267.5" r="4.6"/><circle cx="403.3" cy="267.2" r="4.5"/><circle cx="404.1" cy="267.0" r="4.3"/><circle cx="404.9" cy="266.8" r="4.4"/><circle cx="405.7" cy="266.0" r="4.4"/><circle cx="406.5" cy="266.0" r="4.3"/><circle cx="407.3" cy="266.4" r="4.3"/><circle cx="408.1" cy="266.2" r="4.4"/><circle cx="408.9" cy="266.6" r="4.7"/><circle cx="409.7" cy="267.4" r="4.6"/><circle cx="410.5" cy="267.9" r="4.4"/><circle cx="411.3" cy="268.3" r="4.3"/><circle cx="412.1" cy="269.0" r="4.6"/><circle cx="412.9" cy="269.6" r="4.3"/><circle cx="413.7" cy="269.8" r="4.6"/><circle cx="414.6" cy="271.1" r="4.4"/><circle cx="415.4" cy="272.3" r="4.2"/><circle cx="416.2" cy="273.2" r="4.3"/><circle cx="417.0" cy="274.4" r="4.3"/><circle cx="417.8" cy="275.1" r="4.5"/><circle cx="418.6" cy="276.4" r="4.3"/><circle cx="419.4" cy="278.1" r="4.1"/><circle cx="420.2" cy="279.4" r="4.1"/><circle cx="421.0" cy="280.4" r="4.0"/><circle cx="421.8" cy="282.5" r="4.1"/><circle cx="422.6" cy="283.6" r="4.1"/><circle cx="423.4" cy="284.7" r="4.2"/><circle cx="424.2" cy="286.9" r="4.2"/><circle cx="425.0" cy="288.2" r="3.9"/><circle cx="425.8" cy="289.8" r="4.1"/><circle cx="426.6" cy="291.6" r="4.0"/><circle cx="427.4" cy="293.2" r="3.8"/><circle cx="428.2" cy="295.1" r="4.0"/><circle cx="429.0" cy="296.5" r="4.1"/><circle cx="429.8" cy="297.8" r="4.1"/><circle cx="430.6" cy="299.6" r="4.1"/><circle cx="431.5" cy="301.0" r="3.9"/><circle cx="432.3" cy="303.1" r="4.0"/><circle cx="433.1" cy="304.4" r="4.0"/><circle cx="433.9" cy="305.9" r="4.0"/><circle cx="434.7" cy="307.2" r="4.1"/><circle cx="435.5" cy="308.9" r="4.2"/><circle cx="436.3" cy="310.6" r="4.1"/><circle cx="437.1" cy="312.1" r="3.9"/><circle cx="437.9" cy="313.6" r="4.0"/><circle cx="438.7" cy="315.0" r="4.2"/><circle cx="439.5" cy="316.1" r="4.3"/><circle cx="440.3" cy="317.2" r="4.2"/><circle cx="441.1" cy="318.8" r="4.0"/><circle cx="441.9" cy="319.2" r="4.2"/><circle cx="442.7" cy="320.6" r="4.1"/><circle cx="443.5" cy="321.4" r="4.4"/><circle cx="444.3" cy="322.5" r="4.1"/><circle cx="445.1" cy="323.2" r="4.3"/><circle cx="445.9" cy="324.0" r="4.3"/><circle cx="446.8" cy="325.0" r="4.3"/><circle cx="447.6" cy="325.7" r="4.5"/><circle cx="448.4" cy="325.9" r="4.6"/><circle cx="449.2" cy="326.6" r="4.2"/><circle cx="450.0" cy="327.5" r="4.5"/><circle cx="450.8" cy="327.7" r="4.3"/><circle cx="451.6" cy="328.2" r="4.4"/><circle cx="452.4" cy="328.5" r="4.3"/><circle cx="453.2" cy="328.5" r="4.5"/><circle cx="454.0" cy="328.5" r="4.5"/><circle cx="454.8" cy="328.3" r="4.5"/><circle cx="455.6" cy="328.7" r="4.3"/><circle cx="456.4" cy="328.5" r="4.6"/><circle cx="457.2" cy="328.0" r="4.6"/><circle cx="458.0" cy="328.3" r="4.3"/><circle cx="458.8" cy="327.5" r="4.3"/><circle cx="459.6" cy="327.1" r="4.2"/><circle cx="460.4" cy="326.8" r="4.3"/><circle cx="461.2" cy="326.1" r="4.4"/><circle cx="462.0" cy="325.5" r="4.5"/><circle cx="462.9" cy="325.1" r="4.2"/><circle cx="463.7" cy="324.0" r="4.1"/><circle cx="464.5" cy="323.2" r="4.1"/><circle cx="465.3" cy="322.6" r="4.4"/><circle cx="466.1" cy="321.9" r="4.1"/><circle cx="466.9" cy="320.1" r="4.3"/><circle cx="467.7" cy="319.4" r="4.4"/><circle cx="468.5" cy="318.2" r="4.1"/><circle cx="469.3" cy="316.7" r="4.3"/><circle cx="470.1" cy="315.8" r="4.1"/><circle cx="470.9" cy="314.5" r="4.2"/><circle cx="471.7" cy="313.4" r="4.1"/><circle cx="472.5" cy="311.5" r="4.0"/><circle cx="473.3" cy="310.6" r="4.0"/><circle cx="474.1" cy="308.9" r="4.0"/><circle cx="474.9" cy="307.2" r="4.0"/><circle cx="475.7" cy="305.5" r="4.0"/><circle cx="476.5" cy="304.4" r="3.8"/><circle cx="477.3" cy="302.3" r="4.2"/><circle cx="478.1" cy="301.2" r="3.8"/><circle cx="479.0" cy="299.2" r="4.0"/><circle cx="479.8" cy="297.7" r="4.0"/><circle cx="480.6" cy="295.5" r="3.9"/><circle cx="481.4" cy="294.2" r="4.1"/><circle cx="482.2" cy="292.1" r="4.1"/><circle cx="483.0" cy="290.8" r="4.1"/><circle cx="483.8" cy="288.6" r="4.0"/><circle cx="484.6" cy="287.2" r="4.1"/><circle cx="485.4" cy="285.6" r="3.9"/><circle cx="486.2" cy="284.2" r="4.0"/><circle cx="487.0" cy="282.7" r="4.0"/><circle cx="487.8" cy="281.0" r="4.3"/><circle cx="488.6" cy="279.1" r="4.3"/><circle cx="489.4" cy="277.6" r="4.4"/><circle cx="490.2" cy="276.2" r="4.3"/><circle cx="491.0" cy="275.1" r="4.1"/><circle cx="491.8" cy="273.9" r="4.3"/><circle cx="492.6" cy="272.7" r="4.1"/><circle cx="493.4" cy="271.6" r="4.2"/><circle cx="494.2" cy="270.9" r="4.3"/><circle cx="495.1" cy="269.5" r="4.2"/><circle cx="495.9" cy="269.0" r="4.3"/><circle cx="496.7" cy="267.9" r="4.5"/><circle cx="497.5" cy="267.0" r="4.5"/><circle cx="498.3" cy="266.2" r="4.3"/><circle cx="499.1" cy="265.5" r="4.4"/><circle cx="499.9" cy="265.7" r="4.3"/><circle cx="500.7" cy="265.0" r="4.6"/><circle cx="501.5" cy="264.6" r="4.3"/><circle cx="502.3" cy="264.7" r="4.4"/><circle cx="503.1" cy="265.0" r="4.7"/><circle cx="503.9" cy="264.4" r="4.5"/><circle cx="504.7" cy="264.7" r="4.3"/><circle cx="317.4" cy="271.1" r="4.2"/><circle cx="318.5" cy="272.3" r="4.0"/><circle cx="319.6" cy="274.2" r="3.8"/><circle cx="320.6" cy="276.1" r="3.8"/><circle cx="321.7" cy="277.5" r="4.1"/><circle cx="322.8" cy="279.4" r="3.9"/><circle cx="323.9" cy="281.8" r="4.0"/><circle cx="324.9" cy="284.2" r="3.8"/><circle cx="326.0" cy="286.9" r="3.8"/><circle cx="327.1" cy="289.4" r="3.8"/><circle cx="328.1" cy="292.4" r="3.8"/><circle cx="329.2" cy="295.3" r="3.9"/><circle cx="330.3" cy="297.5" r="3.9"/><circle cx="331.4" cy="300.5" r="3.8"/><circle cx="332.4" cy="302.9" r="3.8"/><circle cx="333.5" cy="305.5" r="3.9"/><circle cx="334.6" cy="307.4" r="4.1"/><circle cx="335.7" cy="309.1" r="3.8"/><circle cx="336.7" cy="311.5" r="4.0"/><circle cx="337.8" cy="313.4" r="3.9"/><circle cx="338.9" cy="314.8" r="3.8"/><circle cx="340.0" cy="316.3" r="3.9"/><circle cx="341.0" cy="317.9" r="3.9"/><circle cx="342.1" cy="318.9" r="4.0"/><circle cx="343.2" cy="320.0" r="4.1"/><circle cx="344.2" cy="321.5" r="3.9"/><circle cx="345.3" cy="322.4" r="4.0"/><circle cx="346.4" cy="323.8" r="4.1"/><circle cx="347.5" cy="324.7" r="3.9"/><circle cx="348.5" cy="326.1" r="3.9"/><circle cx="349.6" cy="327.1" r="4.2"/><circle cx="350.7" cy="328.0" r="4.2"/><circle cx="365.7" cy="327.5" r="4.1"/><circle cx="366.8" cy="326.9" r="3.8"/><circle cx="367.9" cy="326.2" r="4.0"/><circle cx="368.9" cy="325.1" r="4.0"/><circle cx="370.0" cy="323.5" r="4.1"/><circle cx="371.1" cy="322.5" r="3.9"/><circle cx="372.2" cy="321.8" r="3.8"/><circle cx="373.2" cy="320.5" r="4.1"/><circle cx="374.3" cy="319.0" r="4.0"/><circle cx="375.4" cy="317.7" r="4.0"/><circle cx="376.4" cy="316.8" r="4.1"/><circle cx="377.5" cy="314.8" r="3.8"/><circle cx="378.6" cy="313.9" r="3.9"/><circle cx="379.7" cy="311.8" r="3.9"/><circle cx="380.7" cy="310.1" r="4.1"/><circle cx="381.8" cy="308.0" r="3.9"/><circle cx="382.9" cy="305.8" r="4.0"/><circle cx="384.0" cy="303.2" r="4.2"/><circle cx="385.0" cy="301.4" r="4.1"/><circle cx="386.1" cy="298.9" r="4.0"/><circle cx="387.2" cy="296.2" r="3.9"/><circle cx="388.3" cy="293.5" r="4.1"/><circle cx="389.3" cy="291.1" r="4.1"/><circle cx="390.4" cy="288.5" r="3.9"/><circle cx="391.5" cy="285.9" r="4.0"/><circle cx="392.5" cy="283.2" r="3.9"/><circle cx="393.6" cy="281.4" r="4.1"/><circle cx="394.7" cy="279.3" r="4.1"/><circle cx="395.8" cy="276.9" r="3.8"/><circle cx="396.8" cy="275.5" r="3.8"/><circle cx="397.9" cy="273.8" r="3.8"/><circle cx="399.0" cy="272.4" r="4.1"/><circle cx="414.0" cy="272.4" r="4.1"/><circle cx="415.1" cy="273.8" r="4.1"/><circle cx="416.2" cy="275.3" r="3.9"/><circle cx="417.2" cy="277.1" r="3.8"/><circle cx="418.3" cy="279.0" r="3.9"/><circle cx="419.4" cy="280.7" r="4.1"/><circle cx="420.5" cy="283.2" r="3.8"/><circle cx="421.5" cy="286.1" r="3.9"/><circle cx="422.6" cy="288.0" r="3.8"/><circle cx="423.7" cy="290.4" r="4.1"/><circle cx="424.7" cy="293.4" r="4.0"/><circle cx="425.8" cy="295.7" r="3.9"/><circle cx="426.9" cy="298.9" r="3.9"/><circle cx="428.0" cy="301.4" r="4.1"/><circle cx="429.0" cy="303.1" r="4.1"/><circle cx="430.1" cy="305.4" r="4.1"/><circle cx="431.2" cy="308.2" r="4.1"/><circle cx="432.3" cy="310.0" r="4.1"/><circle cx="433.3" cy="311.6" r="4.0"/><circle cx="434.4" cy="313.4" r="3.9"/><circle cx="435.5" cy="314.9" r="4.1"/><circle cx="436.6" cy="316.7" r="4.1"/><circle cx="437.6" cy="318.1" r="4.0"/><circle cx="438.7" cy="319.7" r="4.1"/><circle cx="439.8" cy="320.6" r="3.9"/><circle cx="440.8" cy="322.0" r="3.9"/><circle cx="441.9" cy="322.5" r="3.9"/><circle cx="443.0" cy="324.0" r="4.2"/><circle cx="444.1" cy="325.0" r="4.0"/><circle cx="445.1" cy="326.2" r="4.1"/><circle cx="446.2" cy="326.7" r="4.0"/><circle cx="447.3" cy="327.9" r="3.9"/><circle cx="462.3" cy="327.3" r="4.0"/><circle cx="463.4" cy="327.0" r="3.9"/><circle cx="464.5" cy="325.9" r="4.2"/><circle cx="465.5" cy="324.5" r="3.8"/><circle cx="466.6" cy="323.7" r="3.9"/><circle cx="467.7" cy="323.0" r="4.2"/><circle cx="468.8" cy="321.5" r="4.1"/><circle cx="469.8" cy="320.5" r="3.8"/><circle cx="470.9" cy="319.5" r="3.8"/><circle cx="472.0" cy="317.4" r="4.0"/><circle cx="473.0" cy="316.0" r="4.0"/><circle cx="474.1" cy="314.8" r="4.2"/><circle cx="475.2" cy="313.1" r="4.1"/><circle cx="476.3" cy="311.6" r="4.0"/><circle cx="477.3" cy="309.2" r="3.9"/><circle cx="478.4" cy="307.3" r="3.9"/><circle cx="479.5" cy="305.2" r="4.0"/><circle cx="480.6" cy="302.6" r="4.0"/><circle cx="481.6" cy="300.7" r="3.8"/><circle cx="482.7" cy="297.5" r="3.8"/><circle cx="483.8" cy="294.7" r="3.8"/><circle cx="484.9" cy="292.3" r="4.1"/><circle cx="485.9" cy="289.9" r="4.2"/><circle cx="487.0" cy="287.4" r="4.0"/><circle cx="488.1" cy="284.6" r="3.8"/><circle cx="489.1" cy="282.0" r="3.9"/><circle cx="490.2" cy="279.9" r="3.8"/><circle cx="491.3" cy="277.7" r="3.9"/><circle cx="492.4" cy="275.7" r="3.9"/><circle cx="493.4" cy="273.7" r="4.1"/><circle cx="494.5" cy="272.7" r="4.0"/><circle cx="495.6" cy="270.8" r="4.0"/></g>
<g fill="#38386e"><circle cx="306.7" cy="265.5" r="3.4"/><circle cx="307.5" cy="265.1" r="3.5"/><circle cx="308.3" cy="265.0" r="3.7"/><circle cx="309.1" cy="264.9" r="3.6"/><circle cx="309.9" cy="264.4" r="3.8"/><circle cx="310.7" cy="264.7" r="3.5"/><circle cx="311.5" cy="264.6" r="3.5"/><circle cx="312.3" cy="265.2" r="3.7"/><circle cx="313.1" cy="265.4" r="3.7"/><circle cx="313.9" cy="265.6" r="3.5"/><circle cx="314.7" cy="266.3" r="3.4"/><circle cx="315.5" cy="266.9" r="3.6"/><circle cx="316.3" cy="268.0" r="3.4"/><circle cx="317.1" cy="268.4" r="3.6"/><circle cx="317.9" cy="269.6" r="3.5"/><circle cx="318.8" cy="270.6" r="3.5"/><circle cx="319.6" cy="271.4" r="3.2"/><circle cx="320.4" cy="272.6" r="3.2"/><circle cx="321.2" cy="274.3" r="3.4"/><circle cx="322.0" cy="275.4" r="3.5"/><circle cx="322.8" cy="276.8" r="3.2"/><circle cx="323.6" cy="277.8" r="3.1"/><circle cx="324.4" cy="279.7" r="3.4"/><circle cx="325.2" cy="280.9" r="3.2"/><circle cx="326.0" cy="282.3" r="3.2"/><circle cx="326.8" cy="284.2" r="3.4"/><circle cx="327.6" cy="286.0" r="3.3"/><circle cx="328.4" cy="287.3" r="3.1"/><circle cx="329.2" cy="288.8" r="3.3"/><circle cx="330.0" cy="290.4" r="3.0"/><circle cx="330.8" cy="292.2" r="3.3"/><circle cx="331.6" cy="294.3" r="3.0"/><circle cx="332.4" cy="296.0" r="3.3"/><circle cx="333.2" cy="297.4" r="2.9"/><circle cx="334.0" cy="299.3" r="3.0"/><circle cx="334.9" cy="300.5" r="3.3"/><circle cx="335.7" cy="302.4" r="3.0"/><circle cx="336.5" cy="304.1" r="3.0"/><circle cx="337.3" cy="305.3" r="3.0"/><circle cx="338.1" cy="307.1" r="2.9"/><circle cx="338.9" cy="308.7" r="3.2"/><circle cx="339.7" cy="310.1" r="3.2"/><circle cx="340.5" cy="311.8" r="3.0"/><circle cx="341.3" cy="312.8" r="3.3"/><circle cx="342.1" cy="314.6" r="3.1"/><circle cx="342.9" cy="315.6" r="3.4"/><circle cx="343.7" cy="317.4" r="3.1"/><circle cx="344.5" cy="318.3" r="3.3"/><circle cx="345.3" cy="319.3" r="3.1"/><circle cx="346.1" cy="320.4" r="3.4"/><circle cx="346.9" cy="321.6" r="3.4"/><circle cx="347.7" cy="322.2" r="3.2"/><circle cx="348.5" cy="323.2" r="3.4"/><circle cx="349.3" cy="324.1" r="3.6"/><circle cx="350.1" cy="324.6" r="3.7"/><circle cx="351.0" cy="325.4" r="3.6"/><circle cx="351.8" cy="326.1" r="3.5"/><circle cx="352.6" cy="326.7" r="3.3"/><circle cx="353.4" cy="327.5" r="3.7"/><circle cx="354.2" cy="327.5" r="3.7"/><circle cx="355.0" cy="328.0" r="3.8"/><circle cx="355.8" cy="327.9" r="3.5"/><circle cx="356.6" cy="328.2" r="3.6"/><circle cx="357.4" cy="328.8" r="3.7"/><circle cx="358.2" cy="328.6" r="3.5"/><circle cx="359.0" cy="328.8" r="3.4"/><circle cx="359.8" cy="328.3" r="3.7"/><circle cx="360.6" cy="328.2" r="3.8"/><circle cx="361.4" cy="327.7" r="3.5"/><circle cx="362.2" cy="327.5" r="3.3"/><circle cx="363.0" cy="327.0" r="3.3"/><circle cx="363.8" cy="326.7" r="3.5"/><circle cx="364.6" cy="326.3" r="3.4"/><circle cx="365.4" cy="325.8" r="3.5"/><circle cx="366.2" cy="325.4" r="3.3"/><circle cx="367.1" cy="324.2" r="3.4"/><circle cx="367.9" cy="323.3" r="3.6"/><circle cx="368.7" cy="322.3" r="3.5"/><circle cx="369.5" cy="321.5" r="3.3"/><circle cx="370.3" cy="320.7" r="3.4"/><circle cx="371.1" cy="319.4" r="3.1"/><circle cx="371.9" cy="318.8" r="3.2"/><circle cx="372.7" cy="316.9" r="3.3"/><circle cx="373.5" cy="316.0" r="3.1"/><circle cx="374.3" cy="314.6" r="3.4"/><circle cx="375.1" cy="313.3" r="3.1"/><circle cx="375.9" cy="312.4" r="3.1"/><circle cx="376.7" cy="310.5" r="3.0"/><circle cx="377.5" cy="309.3" r="3.2"/><circle cx="378.3" cy="307.6" r="3.1"/><circle cx="379.1" cy="305.9" r="3.2"/><circle cx="379.9" cy="304.5" r="3.2"/><circle cx="380.7" cy="302.9" r="3.2"/><circle cx="381.5" cy="301.0" r="3.0"/><circle cx="382.4" cy="300.1" r="3.2"/><circle cx="383.2" cy="298.2" r="3.1"/><circle cx="384.0" cy="296.4" r="2.9"/><circle cx="384.8" cy="294.5" r="3.2"/><circle cx="385.6" cy="293.3" r="3.0"/><circle cx="386.4" cy="291.6" r="2.9"/><circle cx="387.2" cy="290.0" r="3.0"/><circle cx="388.0" cy="288.3" r="3.1"/><circle cx="388.8" cy="286.7" r="3.0"/><circle cx="389.6" cy="285.1" r="3.2"/><circle cx="390.4" cy="283.3" r="3.1"/><circle cx="391.2" cy="282.2" r="3.2"/><circle cx="392.0" cy="280.7" r="3.4"/><circle cx="392.8" cy="279.3" r="3.1"/><circle cx="393.6" cy="277.8" r="3.4"/><circle cx="394.4" cy="276.6" r="3.4"/><circle cx="395.2" cy="275.2" r="3.3"/><circle cx="396.0" cy="274.5" r="3.5"/><circle cx="396.8" cy="273.2" r="3.2"/><circle cx="397.6" cy="272.1" r="3.2"/><circle cx="398.4" cy="271.4" r="3.7"/><circle cx="399.3" cy="270.4" r="3.4"/><circle cx="400.1" cy="269.6" r="3.3"/><circle cx="400.9" cy="268.9" r="3.5"/><circle cx="401.7" cy="267.7" r="3.7"/><circle cx="402.5" cy="267.5" r="3.7"/><circle cx="403.3" cy="267.2" r="3.6"/><circle cx="404.1" cy="267.0" r="3.4"/><circle cx="404.9" cy="266.8" r="3.5"/><circle cx="405.7" cy="266.0" r="3.5"/><circle cx="406.5" cy="266.0" r="3.4"/><circle cx="407.3" cy="266.4" r="3.4"/><circle cx="408.1" cy="266.2" r="3.5"/><circle cx="408.9" cy="266.6" r="3.8"/><circle cx="409.7" cy="267.4" r="3.7"/><circle cx="410.5" cy="267.9" r="3.5"/><circle cx="411.3" cy="268.3" r="3.4"/><circle cx="412.1" cy="269.0" r="3.7"/><circle cx="412.9" cy="269.6" r="3.4"/><circle cx="413.7" cy="269.8" r="3.7"/><circle cx="414.6" cy="271.1" r="3.5"/><circle cx="415.4" cy="272.3" r="3.3"/><circle cx="416.2" cy="273.2" r="3.4"/><circle cx="417.0" cy="274.4" r="3.4"/><circle cx="417.8" cy="275.1" r="3.6"/><circle cx="418.6" cy="276.4" r="3.4"/><circle cx="419.4" cy="278.1" r="3.2"/><circle cx="420.2" cy="279.4" r="3.2"/><circle cx="421.0" cy="280.4" r="3.1"/><circle cx="421.8" cy="282.5" r="3.2"/><circle cx="422.6" cy="283.6" r="3.2"/><circle cx="423.4" cy="284.7" r="3.3"/><circle cx="424.2" cy="286.9" r="3.3"/><circle cx="425.0" cy="288.2" r="3.0"/><circle cx="425.8" cy="289.8" r="3.2"/><circle cx="426.6" cy="291.6" r="3.1"/><circle cx="427.4" cy="293.2" r="2.9"/><circle cx="428.2" cy="295.1" r="3.1"/><circle cx="429.0" cy="296.5" r="3.2"/><circle cx="429.8" cy="297.8" r="3.2"/><circle cx="430.6" cy="299.6" r="3.2"/><circle cx="431.5" cy="301.0" r="3.0"/><circle cx="432.3" cy="303.1" r="3.1"/><circle cx="433.1" cy="304.4" r="3.1"/><circle cx="433.9" cy="305.9" r="3.1"/><circle cx="434.7" cy="307.2" r="3.2"/><circle cx="435.5" cy="308.9" r="3.3"/><circle cx="436.3" cy="310.6" r="3.2"/><circle cx="437.1" cy="312.1" r="3.0"/><circle cx="437.9" cy="313.6" r="3.1"/><circle cx="438.7" cy="315.0" r="3.3"/><circle cx="439.5" cy="316.1" r="3.4"/><circle cx="440.3" cy="317.2" r="3.3"/><circle cx="441.1" cy="318.8" r="3.1"/><circle cx="441.9" cy="319.2" r="3.3"/><circle cx="442.7" cy="320.6" r="3.2"/><circle cx="443.5" cy="321.4" r="3.5"/><circle cx="444.3" cy="322.5" r="3.2"/><circle cx="445.1" cy="323.2" r="3.4"/><circle cx="445.9" cy="324.0" r="3.4"/><circle cx="446.8" cy="325.0" r="3.4"/><circle cx="447.6" cy="325.7" r="3.6"/><circle cx="448.4" cy="325.9" r="3.7"/><circle cx="449.2" cy="326.6" r="3.3"/><circle cx="450.0" cy="327.5" r="3.6"/><circle cx="450.8" cy="327.7" r="3.4"/><circle cx="451.6" cy="328.2" r="3.5"/><circle cx="452.4" cy="328.5" r="3.4"/><circle cx="453.2" cy="328.5" r="3.6"/><circle cx="454.0" cy="328.5" r="3.6"/><circle cx="454.8" cy="328.3" r="3.6"/><circle cx="455.6" cy="328.7" r="3.4"/><circle cx="456.4" cy="328.5" r="3.7"/><circle cx="457.2" cy="328.0" r="3.7"/><circle cx="458.0" cy="328.3" r="3.4"/><circle cx="458.8" cy="327.5" r="3.4"/><circle cx="459.6" cy="327.1" r="3.3"/><circle cx="460.4" cy="326.8" r="3.4"/><circle cx="461.2" cy="326.1" r="3.5"/><circle cx="462.0" cy="325.5" r="3.6"/><circle cx="462.9" cy="325.1" r="3.3"/><circle cx="463.7" cy="324.0" r="3.2"/><circle cx="464.5" cy="323.2" r="3.2"/><circle cx="465.3" cy="322.6" r="3.5"/><circle cx="466.1" cy="321.9" r="3.2"/><circle cx="466.9" cy="320.1" r="3.4"/><circle cx="467.7" cy="319.4" r="3.5"/><circle cx="468.5" cy="318.2" r="3.2"/><circle cx="469.3" cy="316.7" r="3.4"/><circle cx="470.1" cy="315.8" r="3.2"/><circle cx="470.9" cy="314.5" r="3.3"/><circle cx="471.7" cy="313.4" r="3.2"/><circle cx="472.5" cy="311.5" r="3.1"/><circle cx="473.3" cy="310.6" r="3.1"/><circle cx="474.1" cy="308.9" r="3.1"/><circle cx="474.9" cy="307.2" r="3.1"/><circle cx="475.7" cy="305.5" r="3.1"/><circle cx="476.5" cy="304.4" r="2.9"/><circle cx="477.3" cy="302.3" r="3.3"/><circle cx="478.1" cy="301.2" r="2.9"/><circle cx="479.0" cy="299.2" r="3.1"/><circle cx="479.8" cy="297.7" r="3.1"/><circle cx="480.6" cy="295.5" r="3.0"/><circle cx="481.4" cy="294.2" r="3.2"/><circle cx="482.2" cy="292.1" r="3.2"/><circle cx="483.0" cy="290.8" r="3.2"/><circle cx="483.8" cy="288.6" r="3.1"/><circle cx="484.6" cy="287.2" r="3.2"/><circle cx="485.4" cy="285.6" r="3.0"/><circle cx="486.2" cy="284.2" r="3.1"/><circle cx="487.0" cy="282.7" r="3.1"/><circle cx="487.8" cy="281.0" r="3.4"/><circle cx="488.6" cy="279.1" r="3.4"/><circle cx="489.4" cy="277.6" r="3.5"/><circle cx="490.2" cy="276.2" r="3.4"/><circle cx="491.0" cy="275.1" r="3.2"/><circle cx="491.8" cy="273.9" r="3.4"/><circle cx="492.6" cy="272.7" r="3.2"/><circle cx="493.4" cy="271.6" r="3.3"/><circle cx="494.2" cy="270.9" r="3.4"/><circle cx="495.1" cy="269.5" r="3.3"/><circle cx="495.9" cy="269.0" r="3.4"/><circle cx="496.7" cy="267.9" r="3.6"/><circle cx="497.5" cy="267.0" r="3.6"/><circle cx="498.3" cy="266.2" r="3.4"/><circle cx="499.1" cy="265.5" r="3.5"/><circle cx="499.9" cy="265.7" r="3.4"/><circle cx="500.7" cy="265.0" r="3.7"/><circle cx="501.5" cy="264.6" r="3.4"/><circle cx="502.3" cy="264.7" r="3.5"/><circle cx="503.1" cy="265.0" r="3.8"/><circle cx="503.9" cy="264.4" r="3.6"/><circle cx="504.7" cy="264.7" r="3.4"/><circle cx="317.4" cy="271.1" r="3.3"/><circle cx="318.5" cy="272.3" r="3.1"/><circle cx="319.6" cy="274.2" r="2.9"/><circle cx="320.6" cy="276.1" r="2.9"/><circle cx="321.7" cy="277.5" r="3.2"/><circle cx="322.8" cy="279.4" r="3.0"/><circle cx="323.9" cy="281.8" r="3.1"/><circle cx="324.9" cy="284.2" r="2.9"/><circle cx="326.0" cy="286.9" r="2.9"/><circle cx="327.1" cy="289.4" r="2.9"/><circle cx="328.1" cy="292.4" r="2.9"/><circle cx="329.2" cy="295.3" r="3.0"/><circle cx="330.3" cy="297.5" r="3.0"/><circle cx="331.4" cy="300.5" r="2.9"/><circle cx="332.4" cy="302.9" r="2.9"/><circle cx="333.5" cy="305.5" r="3.0"/><circle cx="334.6" cy="307.4" r="3.2"/><circle cx="335.7" cy="309.1" r="2.9"/><circle cx="336.7" cy="311.5" r="3.1"/><circle cx="337.8" cy="313.4" r="3.0"/><circle cx="338.9" cy="314.8" r="2.9"/><circle cx="340.0" cy="316.3" r="3.0"/><circle cx="341.0" cy="317.9" r="3.0"/><circle cx="342.1" cy="318.9" r="3.1"/><circle cx="343.2" cy="320.0" r="3.2"/><circle cx="344.2" cy="321.5" r="3.0"/><circle cx="345.3" cy="322.4" r="3.1"/><circle cx="346.4" cy="323.8" r="3.2"/><circle cx="347.5" cy="324.7" r="3.0"/><circle cx="348.5" cy="326.1" r="3.0"/><circle cx="349.6" cy="327.1" r="3.3"/><circle cx="350.7" cy="328.0" r="3.3"/><circle cx="365.7" cy="327.5" r="3.2"/><circle cx="366.8" cy="326.9" r="2.9"/><circle cx="367.9" cy="326.2" r="3.1"/><circle cx="368.9" cy="325.1" r="3.1"/><circle cx="370.0" cy="323.5" r="3.2"/><circle cx="371.1" cy="322.5" r="3.0"/><circle cx="372.2" cy="321.8" r="2.9"/><circle cx="373.2" cy="320.5" r="3.2"/><circle cx="374.3" cy="319.0" r="3.1"/><circle cx="375.4" cy="317.7" r="3.1"/><circle cx="376.4" cy="316.8" r="3.2"/><circle cx="377.5" cy="314.8" r="2.9"/><circle cx="378.6" cy="313.9" r="3.0"/><circle cx="379.7" cy="311.8" r="3.0"/><circle cx="380.7" cy="310.1" r="3.2"/><circle cx="381.8" cy="308.0" r="3.0"/><circle cx="382.9" cy="305.8" r="3.1"/><circle cx="384.0" cy="303.2" r="3.3"/><circle cx="385.0" cy="301.4" r="3.2"/><circle cx="386.1" cy="298.9" r="3.1"/><circle cx="387.2" cy="296.2" r="3.0"/><circle cx="388.3" cy="293.5" r="3.2"/><circle cx="389.3" cy="291.1" r="3.2"/><circle cx="390.4" cy="288.5" r="3.0"/><circle cx="391.5" cy="285.9" r="3.1"/><circle cx="392.5" cy="283.2" r="3.0"/><circle cx="393.6" cy="281.4" r="3.2"/><circle cx="394.7" cy="279.3" r="3.2"/><circle cx="395.8" cy="276.9" r="2.9"/><circle cx="396.8" cy="275.5" r="2.9"/><circle cx="397.9" cy="273.8" r="2.9"/><circle cx="399.0" cy="272.4" r="3.2"/><circle cx="414.0" cy="272.4" r="3.2"/><circle cx="415.1" cy="273.8" r="3.2"/><circle cx="416.2" cy="275.3" r="3.0"/><circle cx="417.2" cy="277.1" r="2.9"/><circle cx="418.3" cy="279.0" r="3.0"/><circle cx="419.4" cy="280.7" r="3.2"/><circle cx="420.5" cy="283.2" r="2.9"/><circle cx="421.5" cy="286.1" r="3.0"/><circle cx="422.6" cy="288.0" r="2.9"/><circle cx="423.7" cy="290.4" r="3.2"/><circle cx="424.7" cy="293.4" r="3.1"/><circle cx="425.8" cy="295.7" r="3.0"/><circle cx="426.9" cy="298.9" r="3.0"/><circle cx="428.0" cy="301.4" r="3.2"/><circle cx="429.0" cy="303.1" r="3.2"/><circle cx="430.1" cy="305.4" r="3.2"/><circle cx="431.2" cy="308.2" r="3.2"/><circle cx="432.3" cy="310.0" r="3.2"/><circle cx="433.3" cy="311.6" r="3.1"/><circle cx="434.4" cy="313.4" r="3.0"/><circle cx="435.5" cy="314.9" r="3.2"/><circle cx="436.6" cy="316.7" r="3.2"/><circle cx="437.6" cy="318.1" r="3.1"/><circle cx="438.7" cy="319.7" r="3.2"/><circle cx="439.8" cy="320.6" r="3.0"/><circle cx="440.8" cy="322.0" r="3.0"/><circle cx="441.9" cy="322.5" r="3.0"/><circle cx="443.0" cy="324.0" r="3.3"/><circle cx="444.1" cy="325.0" r="3.1"/><circle cx="445.1" cy="326.2" r="3.2"/><circle cx="446.2" cy="326.7" r="3.1"/><circle cx="447.3" cy="327.9" r="3.0"/><circle cx="462.3" cy="327.3" r="3.1"/><circle cx="463.4" cy="327.0" r="3.0"/><circle cx="464.5" cy="325.9" r="3.3"/><circle cx="465.5" cy="324.5" r="2.9"/><circle cx="466.6" cy="323.7" r="3.0"/><circle cx="467.7" cy="323.0" r="3.3"/><circle cx="468.8" cy="321.5" r="3.2"/><circle cx="469.8" cy="320.5" r="2.9"/><circle cx="470.9" cy="319.5" r="2.9"/><circle cx="472.0" cy="317.4" r="3.1"/><circle cx="473.0" cy="316.0" r="3.1"/><circle cx="474.1" cy="314.8" r="3.3"/><circle cx="475.2" cy="313.1" r="3.2"/><circle cx="476.3" cy="311.6" r="3.1"/><circle cx="477.3" cy="309.2" r="3.0"/><circle cx="478.4" cy="307.3" r="3.0"/><circle cx="479.5" cy="305.2" r="3.1"/><circle cx="480.6" cy="302.6" r="3.1"/><circle cx="481.6" cy="300.7" r="2.9"/><circle cx="482.7" cy="297.5" r="2.9"/><circle cx="483.8" cy="294.7" r="2.9"/><circle cx="484.9" cy="292.3" r="3.2"/><circle cx="485.9" cy="289.9" r="3.3"/><circle cx="487.0" cy="287.4" r="3.1"/><circle cx="488.1" cy="284.6" r="2.9"/><circle cx="489.1" cy="282.0" r="3.0"/><circle cx="490.2" cy="279.9" r="2.9"/><circle cx="491.3" cy="277.7" r="3.0"/><circle cx="492.4" cy="275.7" r="3.0"/><circle cx="493.4" cy="273.7" r="3.2"/><circle cx="494.5" cy="272.7" r="3.1"/><circle cx="495.6" cy="270.8" r="3.1"/></g>
<path d="M305.3,268.4 305.9,268.1 306.4,267.8 306.9,267.6 307.5,267.4 308.0,267.2 308.6,267.1 309.1,267.0 309.6,267.0 310.2,267.0 310.7,267.0 311.2,267.1 311.8,267.2 312.3,267.4 312.9,267.6 313.4,267.8 313.9,268.1 314.5,268.4 315.0,268.8 315.5,269.1 316.1,269.6 316.6,270.0 317.1,270.5 317.7,271.0 318.2,271.6 318.8,272.2 319.3,272.8 319.8,273.5 320.4,274.2 320.9,274.9 321.4,275.6 322.0,276.4 322.5,277.2 323.0,278.1 323.6,278.9 324.1,279.8 324.7,280.7 325.2,281.7 325.7,282.6 326.3,283.6 326.8,284.6 327.3,285.6 327.9,286.6 328.4,287.6 329.0,288.7 329.5,289.8 330.0,290.8 330.6,291.9 331.1,293.0 331.6,294.1 332.2,295.2 332.7,296.3 333.2,297.4 333.8,298.6 334.3,299.7 334.9,300.8 335.4,301.9 335.9,303.0 336.5,304.1 337.0,305.2 337.5,306.3 338.1,307.4 338.6,308.5 339.1,309.5 339.7,310.6 340.2,311.6 340.8,312.6 341.3,313.6 341.8,314.6 342.4,315.6 342.9,316.5 343.4,317.5 344.0,318.4 344.5,319.2 345.1,320.1 345.6,320.9 346.1,321.7 346.7,322.5 347.2,323.2 347.7,323.9 348.3,324.6 348.8,325.3 349.3,325.9 349.9,326.5 350.4,327.0 351.0,327.5 351.5,328.0 352.0,328.5 352.6,328.9 353.1,329.3 353.6,329.6 354.2,329.9 354.7,330.2 355.2,330.4 355.8,330.6 356.3,330.8 356.9,330.9 357.4,331.0 357.9,331.0 358.5,331.0 359.0,331.0 359.5,330.9 360.1,330.8 360.6,330.6 361.2,330.4 361.7,330.2 362.2,329.9 362.8,329.6 363.3,329.3 363.8,328.9 364.4,328.5 364.9,328.1 365.4,327.6 366.0,327.1 366.5,326.5 367.1,325.9 367.6,325.3 368.1,324.7 368.7,324.0 369.2,323.3 369.7,322.6 370.3,321.8 370.8,321.0 371.3,320.2 371.9,319.4 372.4,318.5 373.0,317.6 373.5,316.7 374.0,315.8 374.6,314.8 375.1,313.9 375.6,312.9 376.2,311.9 376.7,310.9 377.3,309.9 377.8,308.8 378.3,307.8 378.9,306.7 379.4,305.7 379.9,304.6 380.5,303.5 381.0,302.4 381.5,301.4 382.1,300.3 382.6,299.2 383.2,298.1 383.7,297.0 384.2,295.9 384.8,294.9 385.3,293.8 385.8,292.7 386.4,291.7 386.9,290.6 387.4,289.6 388.0,288.6 388.5,287.6 389.1,286.6 389.6,285.6 390.1,284.7 390.7,283.7 391.2,282.8 391.7,281.9 392.3,281.0 392.8,280.2 393.4,279.4 393.9,278.5 394.4,277.8 395.0,277.0 395.5,276.3 396.0,275.6 396.6,274.9 397.1,274.3 397.6,273.7 398.2,273.1 398.7,272.6 399.3,272.1 399.8,271.6 400.3,271.2 400.9,270.8 401.4,270.4 401.9,270.1 402.5,269.8 403.0,269.5 403.5,269.3 404.1,269.1 404.6,268.9 405.2,268.8 405.7,268.7 406.2,268.7 406.8,268.7 407.3,268.7 407.8,268.8 408.4,268.9 408.9,269.1 409.5,269.3 410.0,269.5 410.5,269.8 411.1,270.1 411.6,270.4 412.1,270.8 412.7,271.2 413.2,271.6 413.7,272.1 414.3,272.6 414.8,273.1 415.4,273.7 415.9,274.3 416.4,274.9 417.0,275.6 417.5,276.3 418.0,277.0 418.6,277.8 419.1,278.5 419.6,279.4 420.2,280.2 420.7,281.0 421.3,281.9 421.8,282.8 422.3,283.7 422.9,284.7 423.4,285.6 423.9,286.6 424.5,287.6 425.0,288.6 425.6,289.6 426.1,290.6 426.6,291.7 427.2,292.7 427.7,293.8 428.2,294.9 428.8,295.9 429.3,297.0 429.8,298.1 430.4,299.2 430.9,300.3 431.5,301.4 432.0,302.4 432.5,303.5 433.1,304.6 433.6,305.7 434.1,306.7 434.7,307.8 435.2,308.8 435.7,309.9 436.3,310.9 436.8,311.9 437.4,312.9 437.9,313.9 438.4,314.8 439.0,315.8 439.5,316.7 440.0,317.6 440.6,318.5 441.1,319.4 441.7,320.2 442.2,321.0 442.7,321.8 443.3,322.6 443.8,323.3 444.3,324.0 444.9,324.7 445.4,325.3 445.9,325.9 446.5,326.5 447.0,327.1 447.6,327.6 448.1,328.1 448.6,328.5 449.2,328.9 449.7,329.3 450.2,329.6 450.8,329.9 451.3,330.2 451.8,330.4 452.4,330.6 452.9,330.8 453.5,330.9 454.0,331.0 454.5,331.0 455.1,331.0 455.6,331.0 456.1,330.9 456.7,330.8 457.2,330.6 457.8,330.4 458.3,330.2 458.8,329.9 459.4,329.6 459.9,329.3 460.4,328.9 461.0,328.5 461.5,328.0 462.0,327.5 462.6,327.0 463.1,326.5 463.7,325.9 464.2,325.3 464.7,324.6 465.3,323.9 465.8,323.2 466.3,322.5 466.9,321.7 467.4,320.9 467.9,320.1 468.5,319.2 469.0,318.4 469.6,317.5 470.1,316.5 470.6,315.6 471.2,314.6 471.7,313.6 472.2,312.6 472.8,311.6 473.3,310.6 473.9,309.5 474.4,308.5 474.9,307.4 475.5,306.3 476.0,305.2 476.5,304.1 477.1,303.0 477.6,301.9 478.1,300.8 478.7,299.7 479.2,298.6 479.8,297.4 480.3,296.3 480.8,295.2 481.4,294.1 481.9,293.0 482.4,291.9 483.0,290.8 483.5,289.8 484.0,288.7 484.6,287.6 485.1,286.6 485.7,285.6 486.2,284.6 486.7,283.6 487.3,282.6 487.8,281.7 488.3,280.7 488.9,279.8 489.4,278.9 490.0,278.1 490.5,277.2 491.0,276.4 491.6,275.6 492.1,274.9 492.6,274.2 493.2,273.5 493.7,272.8 494.2,272.2 494.8,271.6 495.3,271.0 495.9,270.5 496.4,270.0 496.9,269.6 497.5,269.1 498.0,268.8 498.5,268.4 499.1,268.1 499.6,267.8 500.1,267.6 500.7,267.4 501.2,267.2 501.8,267.1 502.3,267.0 502.8,267.0 503.4,267.0 503.9,267.0 504.4,267.1 505.0,267.2 505.5,267.4" fill="none" stroke="#000" stroke-width="2.0"/>
<line x1="294.5" y1="265.8" x2="301.0" y2="265.8" stroke="#000" stroke-width="1.8"/>
<line x1="505.2" y1="265.8" x2="518.8" y2="265.8" stroke="#000" stroke-width="1.8"/>
<rect x="294.5" y="31.0" width="224.3" height="317.9" fill="none" stroke="#000" stroke-width="2.1"/>
<line x1="309.9" y1="31.0" x2="309.9" y2="37.0" stroke="#000" stroke-width="1.9"/>
<line x1="309.9" y1="348.9" x2="309.9" y2="342.9" stroke="#000" stroke-width="1.9"/>
<line x1="326.0" y1="31.0" x2="326.0" y2="34.5" stroke="#000" stroke-width="1.9"/>
<line x1="326.0" y1="348.9" x2="326.0" y2="345.4" stroke="#000" stroke-width="1.9"/>
<line x1="342.1" y1="31.0" x2="342.1" y2="34.5" stroke="#000" stroke-width="1.9"/>
<line x1="342.1" y1="348.9" x2="342.1" y2="345.4" stroke="#000" stroke-width="1.9"/>
<line x1="358.2" y1="31.0" x2="358.2" y2="37.0" stroke="#000" stroke-width="1.9"/>
<line x1="358.2" y1="348.9" x2="358.2" y2="342.9" stroke="#000" stroke-width="1.9"/>
<line x1="374.3" y1="31.0" x2="374.3" y2="34.5" stroke="#000" stroke-width="1.9"/>
<line x1="374.3" y1="348.9" x2="374.3" y2="345.4" stroke="#000" stroke-width="1.9"/>
<line x1="390.4" y1="31.0" x2="390.4" y2="34.5" stroke="#000" stroke-width="1.9"/>
<line x1="390.4" y1="348.9" x2="390.4" y2="345.4" stroke="#000" stroke-width="1.9"/>
<line x1="406.5" y1="31.0" x2="406.5" y2="37.0" stroke="#000" stroke-width="1.9"/>
<line x1="406.5" y1="348.9" x2="406.5" y2="342.9" stroke="#000" stroke-width="1.9"/>
<line x1="422.6" y1="31.0" x2="422.6" y2="34.5" stroke="#000" stroke-width="1.9"/>
<line x1="422.6" y1="348.9" x2="422.6" y2="345.4" stroke="#000" stroke-width="1.9"/>
<line x1="438.7" y1="31.0" x2="438.7" y2="34.5" stroke="#000" stroke-width="1.9"/>
<line x1="438.7" y1="348.9" x2="438.7" y2="345.4" stroke="#000" stroke-width="1.9"/>
<line x1="454.8" y1="31.0" x2="454.8" y2="37.0" stroke="#000" stroke-width="1.9"/>
<line x1="454.8" y1="348.9" x2="454.8" y2="342.9" stroke="#000" stroke-width="1.9"/>
<line x1="470.9" y1="31.0" x2="470.9" y2="34.5" stroke="#000" stroke-width="1.9"/>
<line x1="470.9" y1="348.9" x2="470.9" y2="345.4" stroke="#000" stroke-width="1.9"/>
<line x1="487.0" y1="31.0" x2="487.0" y2="34.5" stroke="#000" stroke-width="1.9"/>
<line x1="487.0" y1="348.9" x2="487.0" y2="345.4" stroke="#000" stroke-width="1.9"/>
<line x1="503.1" y1="31.0" x2="503.1" y2="37.0" stroke="#000" stroke-width="1.9"/>
<line x1="503.1" y1="348.9" x2="503.1" y2="342.9" stroke="#000" stroke-width="1.9"/>
<text transform="translate(304.50,371.10) scale(0.980,1)">0</text>
<text transform="translate(347.33,371.10) scale(0.980,1)">90</text>
<text transform="translate(389.95,371.10) scale(0.980,1)">180</text>
<text transform="translate(438.50,371.10) scale(0.980,1)">270</text>
<text transform="translate(486.92,371.10) scale(0.980,1)">360</text>
<text x="104.73" y="397.10" font-style="italic" style="font-size:17.5px">β</text>
<text transform="translate(118.09,397.10) scale(1.064,1)" style="font-size:18.3px">(deg.)</text>
<text x="373.83" y="397.10" font-style="italic" style="font-size:17.5px">β</text>
<text transform="translate(386.39,397.10) scale(1.064,1)" style="font-size:18.3px">(deg.)</text>
<text x="191.90" y="56.55" style="font-size:19.6px">300 K</text>
<text transform="translate(461.81,57.45) scale(0.990,1)" style="font-size:19.6px">300 K</text>
<text x="191.90" y="123.55" style="font-size:19.6px">200 K</text>
<text transform="translate(461.81,125.20) scale(0.990,1)" style="font-size:19.6px">200 K</text>
<text x="191.90" y="190.55" style="font-size:19.6px">100 K</text>
<text transform="translate(461.81,191.45) scale(0.990,1)" style="font-size:19.6px">100 K</text>
<text x="213.70" y="258.10" style="font-size:19.6px">4 K</text>
<text transform="translate(483.39,257.95) scale(0.990,1)" style="font-size:19.6px">4 K</text>
<path d="M42.6,102.5 H54.9 M48.8,102.5 V119.1 M42.6,119.1 H54.9" stroke="#000" stroke-width="2.2" fill="none"/>
<text x="60.03" y="118.65" style="font-size:19.6px">0.1 Ω</text>
<path d="M312.6,102.5 H324.9 M318.8,102.5 V119.1 M312.6,119.1 H324.9" stroke="#000" stroke-width="2.2" fill="none"/>
<text x="329.63" y="118.65" style="font-size:19.6px">0.1 Ω</text>
<text x="31.58" y="13.90" style="font-size:19.6px">(a)</text>
<text x="61.11" y="13.90" font-style="italic" style="font-size:19.6px">t</text>
<text x="65.81" y="15.85" style="font-size:10.9px">BI</text>
<text x="81.54" y="13.90" style="font-size:19.6px">=</text>
<text x="99.02" y="13.90" style="font-size:19.6px">5</text>
<text x="114.90" y="13.90" style="font-size:19.6px">nm</text>
<text x="295.28" y="13.90" style="font-size:19.6px">(b)</text>
<text x="324.81" y="13.90" font-style="italic" style="font-size:19.6px">t</text>
<text x="330.21" y="15.85" style="font-size:10.9px">BI</text>
<text x="346.44" y="13.90" style="font-size:19.6px">=</text>
<text transform="translate(363.73,13.90) scale(0.920,1)" style="font-size:19.6px">10</text>
<text x="388.40" y="13.90" style="font-size:19.6px">nm</text>
<g transform="translate(14.1,215.5) rotate(-90)"><text transform="translate(0.69,0) scale(1.057,1)" x="-0.59" y="0">Δ</text><text transform="translate(13.69,0) scale(0.782,1)" x="-0.61" y="0" font-style="italic">R</text><text transform="translate(29.89,0) scale(0.652,1)" x="-1.23" y="0">(</text><text transform="translate(33.39,0) scale(1.032,1)" x="-0.84" y="0">Ω</text><text transform="translate(47.49,0) scale(0.633,1)" x="-0.12" y="0">)</text></g>
<g transform="translate(283.0,215.5) rotate(-90)"><text transform="translate(0.69,0) scale(1.057,1)" x="-0.59" y="0">Δ</text><text transform="translate(13.69,0) scale(0.782,1)" x="-0.61" y="0" font-style="italic">R</text><text transform="translate(29.89,0) scale(0.652,1)" x="-1.23" y="0">(</text><text transform="translate(33.39,0) scale(1.032,1)" x="-0.84" y="0">Ω</text><text transform="translate(47.49,0) scale(0.633,1)" x="-0.12" y="0">)</text></g>
</svg></body></html>
